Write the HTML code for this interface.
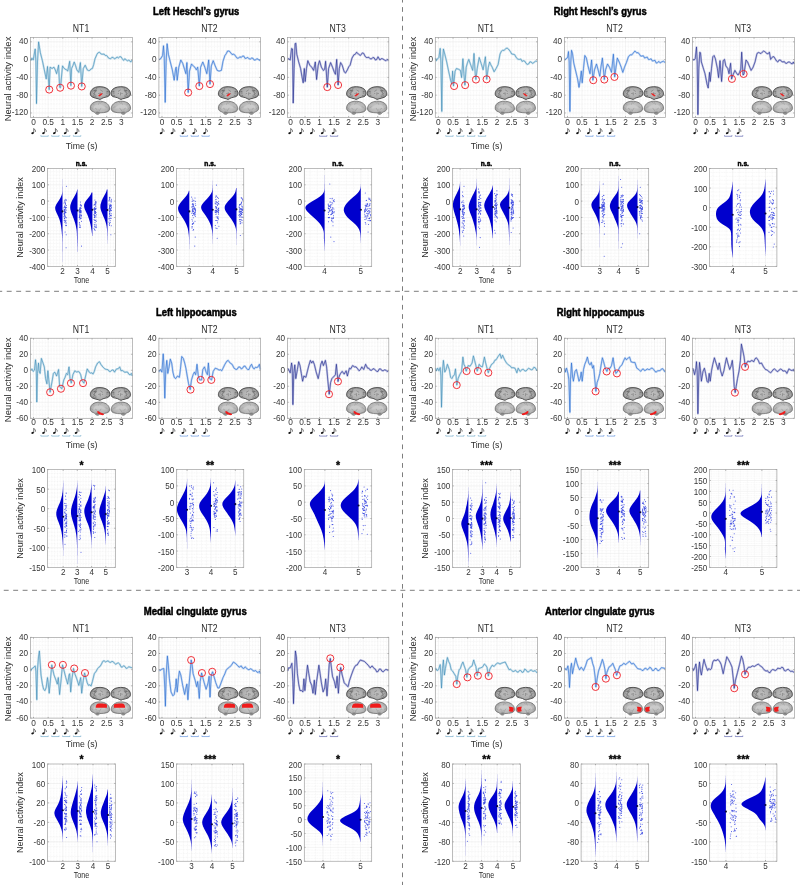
<!DOCTYPE html>
<html><head><meta charset="utf-8"><title>Neural activity figure</title>
<style>html,body{margin:0;padding:0;background:#fff;}svg{display:block;}</style>
</head><body>
<svg width="800" height="885" viewBox="0 0 800 885" font-family="'Liberation Sans', sans-serif" fill="#2b2b2b">
<rect width="800" height="885" fill="#fff"/>
<defs><radialGradient id="glat" cx="0.5" cy="0.5" r="0.55"><stop offset="0" stop-color="#c2c2c2"/><stop offset="0.7" stop-color="#ababab"/><stop offset="1" stop-color="#808080"/></radialGradient><radialGradient id="gmed" cx="0.5" cy="0.45" r="0.55"><stop offset="0" stop-color="#cacaca"/><stop offset="0.75" stop-color="#b6b6b6"/><stop offset="1" stop-color="#8c8c8c"/></radialGradient><clipPath id="cl"><path d="M0.3,7.5 C0.3,4 3,1.2 7,0.5 C11,-0.1 15.5,0.5 18,2.8 C19.8,4.5 20.2,7 19.4,8.8 C18.6,10.2 16.8,10.6 15,10.9 C13.5,11.2 12.5,11.6 11.5,12.3 C10.5,13.2 9,13.2 8.3,12.4 C6.5,11.9 4,11.6 2.3,10.6 C1,9.8 0.3,8.8 0.3,7.5 Z"/></clipPath><clipPath id="cm"><path d="M0.4,8.3 C0.3,5 2.5,2.2 6.5,1 C10,0 14.5,0.3 17.3,2.3 C19.6,4 20.2,7 19.4,9 C18.7,10.3 17.2,10.9 15.6,11.3 C14.9,12.5 13.8,13.5 12.6,13.6 C11.3,13.7 10.6,12.8 10.1,12.1 C8,12 5,11.9 3,11.2 C1.4,10.6 0.5,9.6 0.4,8.3 Z"/></clipPath></defs>
<path d="M402.5,0V885" stroke="#6e6e6e" stroke-width="0.9" stroke-dasharray="4.75 4.555" stroke-dashoffset="2.2" fill="none"/>
<path d="M0,291.3H800" stroke="#6e6e6e" stroke-width="0.9" stroke-dasharray="4.9 4.568" stroke-dashoffset="2.72" fill="none"/>
<path d="M0,590.3H800" stroke="#6e6e6e" stroke-width="0.9" stroke-dasharray="4.9 4.544" stroke-dashoffset="5.69" fill="none"/>
<text x="196.1" y="14.9" font-size="10.3" text-anchor="middle" font-weight="bold" fill="#000" textLength="86.3" lengthAdjust="spacingAndGlyphs" stroke="#000" stroke-width="0.5">Left Heschl’s gyrus</text>
<path d="M30.58,37.4V117.4M36.43,37.4V117.4M39.36,37.4V117.4M42.29,37.4V117.4M45.22,37.4V117.4M51.08,37.4V117.4M54.01,37.4V117.4M56.94,37.4V117.4M59.86,37.4V117.4M65.72,37.4V117.4M68.65,37.4V117.4M71.58,37.4V117.4M74.51,37.4V117.4M80.37,37.4V117.4M83.3,37.4V117.4M86.22,37.4V117.4M89.15,37.4V117.4M95.01,37.4V117.4M97.94,37.4V117.4M100.87,37.4V117.4M103.8,37.4V117.4M109.65,37.4V117.4M112.58,37.4V117.4M115.51,37.4V117.4M118.44,37.4V117.4M124.3,37.4V117.4M127.23,37.4V117.4M130.16,37.4V117.4M30.4,108.51H132.5M30.4,104.07H132.5M30.4,99.62H132.5M30.4,90.73H132.5M30.4,86.29H132.5M30.4,81.84H132.5M30.4,72.96H132.5M30.4,68.51H132.5M30.4,64.07H132.5M30.4,55.18H132.5M30.4,50.73H132.5M30.4,46.29H132.5" stroke="#ececec" stroke-width="0.45" stroke-dasharray="1 0.6" fill="none"/>
<path d="M33.5,37.4V117.4M48.15,37.4V117.4M62.79,37.4V117.4M77.44,37.4V117.4M92.08,37.4V117.4M106.73,37.4V117.4M121.37,37.4V117.4M30.4,41.84H132.5M30.4,59.62H132.5M30.4,77.4H132.5M30.4,95.18H132.5M30.4,112.96H132.5" stroke="#e8e8e8" stroke-width="0.5" fill="none"/>
<g transform="translate(90,86.4)"><path d="M0.3,7.5 C0.3,4 3,1.2 7,0.5 C11,-0.1 15.5,0.5 18,2.8 C19.8,4.5 20.2,7 19.4,8.8 C18.6,10.2 16.8,10.6 15,10.9 C13.5,11.2 12.5,11.6 11.5,12.3 C10.5,13.2 9,13.2 8.3,12.4 C6.5,11.9 4,11.6 2.3,10.6 C1,9.8 0.3,8.8 0.3,7.5 Z" fill="url(#glat)" stroke="#454545" stroke-width="0.9"/><path d="M10.4,6.5Q9.3,7 8.1,7.1M5.6,4.9Q4.3,6 4.3,7.8M3.9,8.5Q4.2,9.9 3,9.8M11.8,7Q12.5,6.6 13.1,7.7M3.8,3.7Q4.9,4.3 6.3,3.9M10.3,6.2Q10.2,7.2 10.3,9M19.2,10.3Q17.7,10.5 16.7,11.7M7.5,1.4Q7.2,2 5.8,2.9M16.4,9.5Q18,9.5 18.3,9.6M16.3,5Q18.1,4.9 19,5.6M4.9,4.5Q2.8,4.3 1.9,4.8M4.4,1.5Q3.7,2 2.9,2.6M3.8,7.9Q4.4,8.3 6.3,9M7,3.9Q5.1,4.7 3.9,4.2M6.6,4.6Q4.7,6 4.1,5.9M6.2,3.2Q5.1,3.3 4.6,4.7M2.5,6.1Q3.2,7 4.4,8M17.7,4.5Q16.8,5.5 17,7.7M15.9,8.6Q16.9,10 17.2,9.9M6.4,10Q5,9.9 3.9,11M1.6,9.7Q2.2,11.2 3.7,11.6M10.3,3.5Q10.9,3.9 12.8,5.1" clip-path="url(#cl)" fill="none" stroke="#666" stroke-width="0.5"/><path d="M8.6,9.3 C9.5,8.2 11,7.3 12.1,7.2 C12.4,7.8 11,8.9 9.6,9.7 Z" fill="#f01c1c" stroke="#f01c1c" stroke-width="0.6"/></g>
<g transform="translate(130.8,86.4) scale(-1,1)"><path d="M0.3,7.5 C0.3,4 3,1.2 7,0.5 C11,-0.1 15.5,0.5 18,2.8 C19.8,4.5 20.2,7 19.4,8.8 C18.6,10.2 16.8,10.6 15,10.9 C13.5,11.2 12.5,11.6 11.5,12.3 C10.5,13.2 9,13.2 8.3,12.4 C6.5,11.9 4,11.6 2.3,10.6 C1,9.8 0.3,8.8 0.3,7.5 Z" fill="url(#glat)" stroke="#454545" stroke-width="0.9"/><path d="M10.4,6.5Q9.3,7 8.1,7.1M5.6,4.9Q4.3,6 4.3,7.8M3.9,8.5Q4.2,9.9 3,9.8M11.8,7Q12.5,6.6 13.1,7.7M3.8,3.7Q4.9,4.3 6.3,3.9M10.3,6.2Q10.2,7.2 10.3,9M19.2,10.3Q17.7,10.5 16.7,11.7M7.5,1.4Q7.2,2 5.8,2.9M16.4,9.5Q18,9.5 18.3,9.6M16.3,5Q18.1,4.9 19,5.6M4.9,4.5Q2.8,4.3 1.9,4.8M4.4,1.5Q3.7,2 2.9,2.6M3.8,7.9Q4.4,8.3 6.3,9M7,3.9Q5.1,4.7 3.9,4.2M6.6,4.6Q4.7,6 4.1,5.9M6.2,3.2Q5.1,3.3 4.6,4.7M2.5,6.1Q3.2,7 4.4,8M17.7,4.5Q16.8,5.5 17,7.7M15.9,8.6Q16.9,10 17.2,9.9M6.4,10Q5,9.9 3.9,11M1.6,9.7Q2.2,11.2 3.7,11.6M10.3,3.5Q10.9,3.9 12.8,5.1" clip-path="url(#cl)" fill="none" stroke="#666" stroke-width="0.5"/></g>
<g transform="translate(110,100.75) scale(-1,1)"><path d="M0.4,8.3 C0.3,5 2.5,2.2 6.5,1 C10,0 14.5,0.3 17.3,2.3 C19.6,4 20.2,7 19.4,9 C18.7,10.3 17.2,10.9 15.6,11.3 C14.9,12.5 13.8,13.5 12.6,13.6 C11.3,13.7 10.6,12.8 10.1,12.1 C8,12 5,11.9 3,11.2 C1.4,10.6 0.5,9.6 0.4,8.3 Z" fill="url(#gmed)" stroke="#707070" stroke-width="0.8"/><path d="M4.5,8 C5.5,4.8 9,3.6 12,3.8 C15,4.1 16.5,5.8 16.5,7.8 C14,7 11,6.8 8,7.3 C6.5,7.6 5.2,7.8 4.5,8 Z" fill="#cbcbcb"/><path d="M11.3,8.7L10.6,10.5M15.7,3.4L17.6,3.5M8.3,1.5L10,2.6M10.6,1.5L11.7,4M18.4,6.8L17,8.7M2.8,1.8L5.7,1.9M12,10.6L14.4,10.7M8.9,7.2L10.5,9.7M4.2,5.6L2.2,7.7M14.9,7.3L12.6,9.1" clip-path="url(#cm)" fill="none" stroke="#8c8c8c" stroke-width="0.45"/><path d="M9.8,11.6 C10.8,12.8 12.5,13.2 14.5,11.8 C13.5,11 11.5,10.8 9.8,11.6 Z" fill="#808080"/></g>
<g transform="translate(110.8,100.75)"><path d="M0.4,8.3 C0.3,5 2.5,2.2 6.5,1 C10,0 14.5,0.3 17.3,2.3 C19.6,4 20.2,7 19.4,9 C18.7,10.3 17.2,10.9 15.6,11.3 C14.9,12.5 13.8,13.5 12.6,13.6 C11.3,13.7 10.6,12.8 10.1,12.1 C8,12 5,11.9 3,11.2 C1.4,10.6 0.5,9.6 0.4,8.3 Z" fill="url(#gmed)" stroke="#707070" stroke-width="0.8"/><path d="M4.5,8 C5.5,4.8 9,3.6 12,3.8 C15,4.1 16.5,5.8 16.5,7.8 C14,7 11,6.8 8,7.3 C6.5,7.6 5.2,7.8 4.5,8 Z" fill="#cbcbcb"/><path d="M11.3,8.7L10.6,10.5M15.7,3.4L17.6,3.5M8.3,1.5L10,2.6M10.6,1.5L11.7,4M18.4,6.8L17,8.7M2.8,1.8L5.7,1.9M12,10.6L14.4,10.7M8.9,7.2L10.5,9.7M4.2,5.6L2.2,7.7M14.9,7.3L12.6,9.1" clip-path="url(#cm)" fill="none" stroke="#8c8c8c" stroke-width="0.45"/><path d="M9.8,11.6 C10.8,12.8 12.5,13.2 14.5,11.8 C13.5,11 11.5,10.8 9.8,11.6 Z" fill="#808080"/></g>
<path d="M30.7,60.7 31.9,58.1 33.2,60 35.2,49 35.9,62 36.5,103.6 37.5,62 38.6,41.9 40.4,52.9 42.4,60.7 44.3,69.8 46.2,78.9 47.5,66.5 49.2,89.6 50.1,67.2 52.1,68.5 54,67.2 55.3,70 56.6,73.7 58.6,65.2 59.6,87.3 60.5,87.7 62.5,65.9 63.8,67.9 65.1,69.2 66.4,69.6 67.7,71.1 69.7,61.3 70.9,85.7 71.6,68.5 72.9,65.6 74.2,62 75.5,65.4 76.8,69.8 78.8,72.4 80.4,62.6 81.7,86.4 83.3,68.5 85.2,65.2 87.2,69.8 88.5,70.6 89.8,70.4 91.1,68.9 92.4,68.5 93.7,64.5 95,58.8 97,54.2 98.2,52.7 99.5,52.2 101.2,54.1 102.8,54.2 104.1,54.1 105.4,55.6 106.7,55.5 108.6,58.1 110.6,58.8 111.9,57.3 113.2,57.5 114.5,58.9 115.8,58.1 117.1,57.1 118.4,57.9 119.7,56.8 121,56.8 122.3,58.8 123.6,60.4 124.9,58.7 126.2,60 127.5,60.8 128.8,60 130.8,62 132.2,60" fill="none" stroke="#b0d4e6" stroke-width="2.0" stroke-linejoin="round" opacity="0.7"/>
<path d="M30.7,60.7 31.9,58.1 33.2,60 35.2,49 35.9,62 36.5,103.6 37.5,62 38.6,41.9 40.4,52.9 42.4,60.7 44.3,69.8 46.2,78.9 47.5,66.5 49.2,89.6 50.1,67.2 52.1,68.5 54,67.2 55.3,70 56.6,73.7 58.6,65.2 59.6,87.3 60.5,87.7 62.5,65.9 63.8,67.9 65.1,69.2 66.4,69.6 67.7,71.1 69.7,61.3 70.9,85.7 71.6,68.5 72.9,65.6 74.2,62 75.5,65.4 76.8,69.8 78.8,72.4 80.4,62.6 81.7,86.4 83.3,68.5 85.2,65.2 87.2,69.8 88.5,70.6 89.8,70.4 91.1,68.9 92.4,68.5 93.7,64.5 95,58.8 97,54.2 98.2,52.7 99.5,52.2 101.2,54.1 102.8,54.2 104.1,54.1 105.4,55.6 106.7,55.5 108.6,58.1 110.6,58.8 111.9,57.3 113.2,57.5 114.5,58.9 115.8,58.1 117.1,57.1 118.4,57.9 119.7,56.8 121,56.8 122.3,58.8 123.6,60.4 124.9,58.7 126.2,60 127.5,60.8 128.8,60 130.8,62 132.2,60" fill="none" stroke="#3c8ab6" stroke-width="0.6" stroke-linejoin="round"/>
<circle cx="49.24" cy="89.56" r="3.55" fill="none" stroke="#ee1c25" stroke-width="0.9"/>
<circle cx="60.16" cy="87.74" r="3.55" fill="none" stroke="#ee1c25" stroke-width="0.9"/>
<circle cx="70.95" cy="85.66" r="3.55" fill="none" stroke="#ee1c25" stroke-width="0.9"/>
<circle cx="81.74" cy="86.44" r="3.55" fill="none" stroke="#ee1c25" stroke-width="0.9"/>
<path d="M33.5,117.4v-1.2M33.5,37.4v1.2M48.15,117.4v-1.2M48.15,37.4v1.2M62.79,117.4v-1.2M62.79,37.4v1.2M77.44,117.4v-1.2M77.44,37.4v1.2M92.08,117.4v-1.2M92.08,37.4v1.2M106.73,117.4v-1.2M106.73,37.4v1.2M121.37,117.4v-1.2M121.37,37.4v1.2M30.4,41.84h1.2M132.5,41.84h-1.2M30.4,59.62h1.2M132.5,59.62h-1.2M30.4,77.4h1.2M132.5,77.4h-1.2M30.4,95.18h1.2M132.5,95.18h-1.2M30.4,112.96h1.2M132.5,112.96h-1.2" stroke="#555" stroke-width="0.5" fill="none"/>
<rect x="30.4" y="37.4" width="102.1" height="80" fill="none" stroke="#a0a0a0" stroke-width="0.7"/>
<text x="28.1" y="44.24" font-size="8.2" text-anchor="end" fill="#363636">40</text>
<text x="28.1" y="62.02" font-size="8.2" text-anchor="end" fill="#363636">0</text>
<text x="28.1" y="79.8" font-size="8.2" text-anchor="end" fill="#363636">-40</text>
<text x="28.1" y="97.58" font-size="8.2" text-anchor="end" fill="#363636">-80</text>
<text x="28.1" y="115.36" font-size="8.2" text-anchor="end" fill="#363636">-120</text>
<text x="33.5" y="125.25" font-size="8.3" text-anchor="middle" fill="#363636">0</text>
<text x="48.15" y="125.25" font-size="8.3" text-anchor="middle" fill="#363636">0.5</text>
<text x="62.79" y="125.25" font-size="8.3" text-anchor="middle" fill="#363636">1</text>
<text x="77.44" y="125.25" font-size="8.3" text-anchor="middle" fill="#363636">1.5</text>
<text x="92.08" y="125.25" font-size="8.3" text-anchor="middle" fill="#363636">2</text>
<text x="106.73" y="125.25" font-size="8.3" text-anchor="middle" fill="#363636">2.5</text>
<text x="121.37" y="125.25" font-size="8.3" text-anchor="middle" fill="#363636">3</text>
<text x="81.05" y="31.75" font-size="10" text-anchor="middle" textLength="16.4" lengthAdjust="spacingAndGlyphs">NT1</text>
<g transform="translate(31.3,134.1)"><ellipse cx="1.3" cy="-1" rx="1.35" ry="0.95" transform="rotate(-20 1.3 -1)" fill="#111"/><path d="M2.45,-1.2 V-5.6 C3.2,-4.6 4.5,-4 4.2,-2.3" fill="none" stroke="#111" stroke-width="0.6"/></g>
<g transform="translate(42.15,134.1)"><ellipse cx="1.3" cy="-1" rx="1.35" ry="0.95" transform="rotate(-20 1.3 -1)" fill="#111"/><path d="M2.45,-1.2 V-5.6 C3.2,-4.6 4.5,-4 4.2,-2.3" fill="none" stroke="#111" stroke-width="0.6"/></g>
<path d="M40.85,135.25v1h7.4v-1" fill="none" stroke="#3c8ab6" stroke-width="0.65" opacity="0.75"/>
<g transform="translate(53,134.1)"><ellipse cx="1.3" cy="-1" rx="1.35" ry="0.95" transform="rotate(-20 1.3 -1)" fill="#111"/><path d="M2.45,-1.2 V-5.6 C3.2,-4.6 4.5,-4 4.2,-2.3" fill="none" stroke="#111" stroke-width="0.6"/></g>
<path d="M51.7,135.25v1h7.4v-1" fill="none" stroke="#3c8ab6" stroke-width="0.65" opacity="0.75"/>
<g transform="translate(63.85,134.1)"><ellipse cx="1.3" cy="-1" rx="1.35" ry="0.95" transform="rotate(-20 1.3 -1)" fill="#111"/><path d="M2.45,-1.2 V-5.6 C3.2,-4.6 4.5,-4 4.2,-2.3" fill="none" stroke="#111" stroke-width="0.6"/></g>
<path d="M62.55,135.25v1h7.4v-1" fill="none" stroke="#3c8ab6" stroke-width="0.65" opacity="0.75"/>
<g transform="translate(74.7,134.1)"><ellipse cx="1.3" cy="-1" rx="1.35" ry="0.95" transform="rotate(-20 1.3 -1)" fill="#111"/><path d="M2.45,-1.2 V-5.6 C3.2,-4.6 4.5,-4 4.2,-2.3" fill="none" stroke="#111" stroke-width="0.6"/></g>
<path d="M73.4,135.25v1h7.4v-1" fill="none" stroke="#3c8ab6" stroke-width="0.65" opacity="0.75"/>
<text x="81.6" y="148.8" font-size="9.5" text-anchor="middle" textLength="31.6" lengthAdjust="spacingAndGlyphs">Time (s)</text>
<text x="10.7" y="79" font-size="9.4" text-anchor="middle" textLength="84.7" lengthAdjust="spacingAndGlyphs" transform="rotate(-90 10.7 79)">Neural activity index</text>
<path d="M50.49,168.5V266.35M53.49,168.5V266.35M56.48,168.5V266.35M59.48,168.5V266.35M65.48,168.5V266.35M68.48,168.5V266.35M71.47,168.5V266.35M74.47,168.5V266.35M80.47,168.5V266.35M83.47,168.5V266.35M86.47,168.5V266.35M89.46,168.5V266.35M95.46,168.5V266.35M98.46,168.5V266.35M101.46,168.5V266.35M104.45,168.5V266.35M110.45,168.5V266.35M113.45,168.5V266.35M47.5,263.09H115.5M47.5,259.83H115.5M47.5,256.57H115.5M47.5,253.3H115.5M47.5,246.78H115.5M47.5,243.52H115.5M47.5,240.26H115.5M47.5,237H115.5M47.5,230.47H115.5M47.5,227.21H115.5M47.5,223.95H115.5M47.5,220.69H115.5M47.5,214.16H115.5M47.5,210.9H115.5M47.5,207.64H115.5M47.5,204.38H115.5M47.5,197.86H115.5M47.5,194.59H115.5M47.5,191.33H115.5M47.5,188.07H115.5M47.5,181.55H115.5M47.5,178.28H115.5M47.5,175.02H115.5M47.5,171.76H115.5" stroke="#ececec" stroke-width="0.45" stroke-dasharray="1 0.6" fill="none"/>
<path d="M62.48,168.5V266.35M77.51,168.5V266.35M92.42,168.5V266.35M107.45,168.5V266.35M47.5,184.81H115.5M47.5,201.12H115.5M47.5,217.43H115.5M47.5,233.73H115.5M47.5,250.04H115.5" stroke="#e8e8e8" stroke-width="0.5" fill="none"/>
<path d="M62.5,177.7L62.5,177.7 62.5,178.2 62.5,178.7 62.4,179.2 62.4,179.7 62.4,180.2 62.4,180.7 62.4,181.2 62.4,181.7 62.4,182.2 62.4,182.7 62.4,183.2 62.4,183.7 62.4,184.2 62.4,184.7 62.4,185.2 62.4,185.7 62.4,186.2 62.3,186.7 62.3,187.2 62.3,187.7 62.3,188.2 62.3,188.7 62.3,189.2 62.3,189.7 62.3,190.2 62.3,190.7 62.3,191.2 62.2,191.7 62.2,192.2 62.1,192.7 62.1,193.2 62,193.7 61.9,194.2 61.7,194.7 61.6,195.2 61.4,195.7 61.2,196.2 60.9,196.7 60.7,197.3 60.5,197.8 60.2,198.3 59.9,198.8 59.6,199.3 59.3,199.8 59,200.3 58.7,200.8 58.3,201.3 58,201.8 57.7,202.3 57.3,202.8 57,203.3 56.7,203.8 56.4,204.3 56.1,204.8 55.9,205.3 55.7,205.8 55.5,206.3 55.3,206.8 55.2,207.3 55.2,207.8 55.2,208.3 55.2,208.8 55.3,209.3 55.4,209.8 55.5,210.3 55.7,210.8 55.9,211.3 56.1,211.8 56.3,212.3 56.5,212.8 56.7,213.3 57,213.8 57.2,214.3 57.5,214.8 57.7,215.3 57.9,215.8 58.2,216.3 58.4,216.8 58.6,217.3 58.8,217.8 59,218.3 59.2,218.8 59.4,219.3 59.5,219.8 59.7,220.3 59.9,220.8 60,221.3 60.1,221.8 60.3,222.3 60.4,222.8 60.5,223.3 60.6,223.8 60.7,224.3 60.8,224.8 60.9,225.3 61,225.8 61.1,226.3 61.1,226.8 61.2,227.3 61.3,227.8 61.3,228.3 61.4,228.8 61.5,229.3 61.5,229.8 61.6,230.3 61.6,230.8 61.7,231.3 61.7,231.8 61.8,232.3 61.8,232.8 61.8,233.3 61.9,233.8 61.9,234.3 62,234.8 62,235.3 62,235.8 62.1,236.3 62.1,236.8 62.1,237.3 62.1,237.8 62.2,238.3 62.2,238.8 62.2,239.3 62.2,239.8 62.2,240.3 62.2,240.8 62.2,241.3 62.3,241.8 62.3,242.3 62.3,242.8 62.3,243.3 62.3,243.8 62.3,244.3 62.3,244.8 62.3,245.3 62.3,245.8 62.3,246.3 62.3,246.8 62.3,247.3 62.3,247.8 62.3,248.3 62.3,248.8 62.3,249.3 62.3,249.8 62.3,250.3 62.3,250.8 62.3,251.3 62.4,251.8 62.4,252.3 62.4,252.8 62.4,253.3 62.4,253.8 62.4,254.3 62.4,254.8 62.4,255.3 62.4,255.8 62.4,256.3 62.4,256.8 62.4,257.3 62.4,257.8 62.4,258.3 62.4,258.8 62.4,259.3 62.4,259.8 62.4,260.3 62.4,260.8 62.4,261.3 62.4,261.8 62.5,262.3 62.5,262.8 62.5,263.3 62.5,263.8 62.5,264.3 62.5,264.8 62.5,265.3 62.5,265.3Z" fill="#0000cd"/>
<path d="M66.2,199.9h0M64.8,212.8h0M65.5,203.5h0M65.4,208.7h0M64.1,213.2h0M64.8,209.4h0M65.1,207.1h0M64.6,213.3h0M65.3,204.7h0M64.7,218.4h0M65,201.8h0M65.2,202.8h0M65.4,207.6h0M65.8,207.1h0M65.5,204.7h0M65.2,217.2h0M65.8,200.3h0M66.1,225.6h0M65,202.2h0M65.2,199.3h0M65.9,212.6h0M64.6,212.5h0M65.1,212.7h0M66.2,210.1h0M64.7,222.1h0M66.4,205.5h0M64.4,218.7h0M65.5,212h0M64,216.6h0M66.4,207.4h0M65.6,212.6h0M66.3,200.1h0M66,222.4h0M65,215.7h0M64.2,210.3h0M64.4,210.2h0M64.4,211.5h0M64.9,211.4h0M64.4,215.8h0M64.9,207h0M66.5,217.7h0M65.2,217.5h0M64.7,214.7h0M64,203h0M64.4,213h0M64,213.9h0M65.8,220.3h0M64.9,210.2h0M66,212.2h0M64.5,205.9h0M66.2,225.3h0M65.9,220.8h0M64.1,207.2h0M64.7,210.9h0M65.1,207.4h0M66.4,225.4h0M64.5,200.8h0M65.6,212.4h0M65.2,221.4h0M64.2,220.3h0M66,223.3h0M64.4,211.6h0M66,207.7h0M65,209.4h0M64.4,218.3h0M64.4,214.3h0M64.4,220.5h0M65.7,225.2h0M64,209.1h0M65.3,216.3h0M66.4,186.2h0M65.1,232h0M66.2,234.8h0M66.1,247.8h0" stroke="#2232de" stroke-width="1.05" stroke-linecap="round" opacity="0.85"/>
<circle cx="62.48" cy="211.41" r="1.05" fill="#0a0a3a"/>
<path d="M77.5,189.6L77.1,189.6 77.1,190.1 77,190.6 76.9,191.1 76.7,191.6 76.6,192.1 76.4,192.6 76.2,193.1 75.9,193.6 75.7,194.1 75.4,194.6 75.2,195.1 74.9,195.6 74.6,196.1 74.3,196.6 74.1,197.1 73.8,197.6 73.5,198.1 73.2,198.6 72.9,199.1 72.6,199.6 72.4,200.1 72.1,200.6 71.9,201.1 71.7,201.6 71.4,202.1 71.2,202.6 71.1,203.1 70.9,203.6 70.7,204.1 70.6,204.6 70.4,205.1 70.3,205.6 70.3,206.1 70.2,206.6 70.2,207.1 70.2,207.6 70.2,208.1 70.3,208.6 70.3,209.1 70.4,209.6 70.6,210.1 70.7,210.6 70.8,211.1 71,211.7 71.2,212.2 71.3,212.7 71.5,213.2 71.7,213.7 71.9,214.2 72.1,214.7 72.3,215.2 72.5,215.7 72.7,216.2 72.9,216.7 73.1,217.2 73.3,217.7 73.5,218.2 73.7,218.7 73.8,219.2 74,219.7 74.2,220.2 74.4,220.7 74.5,221.2 74.7,221.7 74.9,222.2 75,222.7 75.2,223.2 75.3,223.7 75.4,224.2 75.6,224.7 75.7,225.2 75.8,225.7 75.9,226.2 76,226.7 76.1,227.2 76.2,227.7 76.3,228.2 76.4,228.7 76.5,229.2 76.6,229.7 76.6,230.2 76.7,230.7 76.7,231.2 76.8,231.7 76.8,232.2 76.8,232.7 76.9,233.2 76.9,233.7 76.9,234.2 76.9,234.7 76.9,235.2 76.9,235.7 77,236.2 77,236.7 77,237.2 77,237.7 77,238.2 77,238.7 77,239.2 77.1,239.7 77.1,240.2 77.1,240.7 77.1,241.2 77.1,241.7 77.1,242.2 77.1,242.7 77.2,243.2 77.2,243.7 77.2,244.2 77.2,244.7 77.2,245.2 77.2,245.7 77.2,246.2 77.3,246.7 77.3,247.2 77.3,247.7 77.3,248.2 77.3,248.7 77.3,249.2 77.3,249.7 77.3,250.2 77.3,250.7 77.3,251.2 77.3,251.7 77.5,251.7Z" fill="#0000cd"/>
<path d="M79.6,209.6h0M79.7,210.9h0M79.3,217.6h0M80.2,207.2h0M81.3,215.1h0M80.4,207.3h0M79.5,216.2h0M81,211.2h0M80.4,202h0M80.3,211.9h0M80.4,211h0M79.7,208h0M80.4,212.2h0M80.1,225.2h0M80.3,212.1h0M80.4,210.4h0M81.2,218.3h0M80.4,204.2h0M79.4,222.9h0M80.1,207.5h0M80.7,210.6h0M79.4,224.7h0M79.4,217.1h0M79.6,227h0M80.2,208.6h0M79.4,222.6h0M80.3,212.6h0M80.8,212.1h0M80.4,214.9h0M80.6,215.3h0M79.2,211h0M81.5,221.2h0M81,210.4h0M79.3,212h0M79.7,218.9h0M81.3,205.3h0M79.2,209.8h0M79.2,209.5h0M81.1,216.2h0M81.2,208.3h0M79.9,214.3h0M81.4,206h0M79.6,215h0M79.4,215.3h0M79.8,211.9h0M80.3,205.2h0M79.9,214.9h0M80.9,210.5h0M79.5,211.4h0M81.1,212.8h0M80.3,209.5h0M80.3,208.5h0M79.9,227.5h0M80.6,218.6h0M79.3,209.5h0M80.9,212h0M81.2,211.7h0M79.7,217.4h0M79.8,212.4h0M79.7,213.7h0M80.4,227.1h0M81.5,215.4h0M80,210.3h0M80.3,210.7h0M79.7,210h0M80,210.5h0M79.6,215h0M80.4,211.1h0M80.8,217h0M79.8,208.4h0M81.5,246.1h0" stroke="#2232de" stroke-width="1.05" stroke-linecap="round" opacity="0.85"/>
<circle cx="77.51" cy="210.5" r="1.05" fill="#0a0a3a"/>
<path d="M92.4,192.4L91.5,192.4 91.4,192.9 91.2,193.4 91,193.9 90.7,194.4 90.5,194.9 90.1,195.4 89.8,195.9 89.4,196.4 89,196.9 88.6,197.4 88.2,197.9 87.8,198.4 87.4,198.9 87,199.4 86.6,199.9 86.2,200.4 85.8,200.9 85.5,201.4 85.2,201.9 84.9,202.4 84.7,202.9 84.5,203.4 84.3,203.9 84.2,204.4 84.1,204.9 84.1,205.4 84.1,205.9 84.1,206.4 84.2,206.9 84.3,207.4 84.4,207.9 84.6,208.4 84.7,208.9 84.9,209.4 85.1,209.9 85.4,210.4 85.6,210.9 85.8,211.4 86.1,211.9 86.3,212.4 86.6,212.9 86.8,213.4 87,213.9 87.3,214.4 87.5,214.9 87.7,215.4 87.9,215.9 88.1,216.4 88.3,216.9 88.4,217.4 88.6,217.9 88.8,218.4 89,218.9 89.1,219.4 89.3,219.9 89.4,220.4 89.6,220.9 89.7,221.4 89.9,221.9 90,222.4 90.1,222.9 90.2,223.4 90.4,223.9 90.5,224.4 90.6,224.9 90.7,225.4 90.8,225.9 90.9,226.4 91,226.9 91.1,227.4 91.2,227.9 91.2,228.4 91.3,228.9 91.4,229.4 91.5,229.9 91.6,230.4 91.6,230.9 91.7,231.4 91.8,231.9 91.8,232.4 91.9,232.9 92,233.4 92,233.9 92.1,234.4 92.1,234.9 92.1,235.4 92.2,235.9 92.4,235.9Z" fill="#0000cd"/>
<path d="M94,208.5h0M95.5,227h0M94.3,224.5h0M95.2,202.5h0M96,224.3h0M95.7,215.7h0M94,204.9h0M96.1,208.2h0M95.5,211.5h0M95.2,220.5h0M95.2,212.2h0M95.6,201.6h0M94.1,209.4h0M95.8,205.8h0M95.2,208.8h0M95.9,202.1h0M94.1,219.4h0M94.6,210.7h0M95.4,209.1h0M95.6,213.4h0M94.7,220.4h0M95.1,211.2h0M94.4,217.6h0M94,228.3h0M96,217h0M94.6,213.5h0M95.4,213h0M95.3,208.5h0M96,203.8h0M94.5,215.7h0M94,214.6h0M95.2,204.5h0M94.8,208.8h0M96.1,212.4h0M94.2,209.8h0M96.2,221.5h0M94.9,200h0M94.8,216.5h0M94.6,209.7h0M94.7,217.5h0M94.6,207.4h0M94.4,215.5h0M96,219.9h0M96.3,227.6h0M95.8,206.8h0M95.8,209.1h0M94,208.5h0M95.1,203.7h0M94.7,204.2h0M94.6,229.6h0M95.3,208.9h0M94.5,211.2h0M94.5,214.9h0M95.1,230.2h0M94.4,212.3h0M94.5,208.5h0M95.4,211.6h0M95,222.6h0M94.8,204.8h0M94.6,209h0M95.2,203.6h0M94.5,226.1h0M95.1,209.8h0M96.1,225.7h0M94,214.8h0M95.1,227.1h0M96.3,214.8h0M96.4,225.9h0M94.2,209.7h0M96.3,202.1h0" stroke="#2232de" stroke-width="1.05" stroke-linecap="round" opacity="0.85"/>
<circle cx="92.42" cy="209.71" r="1.05" fill="#0a0a3a"/>
<path d="M107.5,189.6L106.8,189.6 106.7,190.1 106.6,190.6 106.5,191.1 106.3,191.6 106.1,192.1 105.9,192.6 105.7,193.1 105.4,193.6 105.2,194.1 104.9,194.6 104.6,195.1 104.3,195.6 104.1,196.1 103.8,196.6 103.5,197.1 103.3,197.6 103,198.1 102.7,198.6 102.5,199.1 102.3,199.6 102,200.1 101.8,200.6 101.6,201.1 101.4,201.7 101.2,202.2 101.1,202.7 100.9,203.2 100.8,203.7 100.6,204.2 100.5,204.7 100.5,205.2 100.4,205.7 100.4,206.2 100.4,206.7 100.4,207.2 100.4,207.7 100.5,208.2 100.6,208.7 100.7,209.2 100.8,209.7 101,210.2 101.1,210.7 101.3,211.2 101.5,211.7 101.7,212.2 101.9,212.7 102.1,213.2 102.3,213.7 102.5,214.2 102.7,214.7 102.9,215.2 103.1,215.7 103.3,216.2 103.5,216.7 103.8,217.2 104,217.7 104.2,218.2 104.4,218.7 104.6,219.2 104.8,219.7 105,220.2 105.1,220.7 105.3,221.2 105.5,221.7 105.6,222.2 105.8,222.7 105.9,223.2 106.1,223.7 106.2,224.3 106.3,224.8 106.4,225.3 106.5,225.8 106.6,226.3 106.7,226.8 106.7,227.3 106.8,227.8 106.9,228.3 106.9,228.8 107,229.3 107,229.8 107,230.3 107.1,230.8 107.1,231.3 107.1,231.8 107.1,232.3 107.2,232.8 107.2,233.3 107.2,233.8 107.2,234.3 107.2,234.8 107.2,235.3 107.2,235.8 107.3,236.3 107.3,236.8 107.3,237.3 107.3,237.8 107.3,238.3 107.3,238.8 107.3,239.3 107.3,239.8 107.4,240.3 107.4,240.8 107.4,241.3 107.4,241.8 107.4,242.3 107.4,242.8 107.4,243.3 107.4,243.8 107.5,243.8Z" fill="#0000cd"/>
<path d="M110.9,215.6h0M110.4,208.9h0M111.3,210.6h0M109.3,205.7h0M110.6,206.5h0M109.1,200.2h0M109.5,205.8h0M109.7,197.2h0M111.4,207.6h0M110.2,222.4h0M110.7,210.2h0M109,222.1h0M109.6,207.6h0M109.5,223.6h0M109.8,205.5h0M111,208.6h0M109.5,211.5h0M111,205.9h0M109.5,207h0M111.4,205.4h0M110,211.2h0M109.3,224.3h0M109.5,213.1h0M109.1,201h0M111.2,201.9h0M111.3,225.7h0M109.4,216.3h0M109,218.4h0M109.9,207.9h0M109.7,210.1h0M111.4,210.3h0M109.9,213.1h0M110.1,220.6h0M110.2,209.2h0M109.9,212.7h0M110,197.8h0M109.1,219h0M109.1,208.4h0M110.9,204.3h0M109.6,206.7h0M109.6,214.7h0M109.7,206.1h0M110.6,210.3h0M109.5,197.6h0M111.4,199.2h0M109.6,208.1h0M109.4,198.9h0M111,218.2h0M109.8,214.4h0M109.9,210.4h0M109.5,199.2h0M109.1,204.1h0M111.4,205.9h0M109.6,225.4h0M109.2,208.6h0M109.5,208.6h0M110.5,204.9h0M111.1,218.5h0M111.1,200.4h0M110.8,205.7h0M109.6,208h0M110.4,215.6h0M110,218.1h0M109.5,211.6h0M111.5,215.8h0M111.1,201.2h0M109.7,198.1h0M109.4,211.3h0M111.3,213.7h0M109.6,213.4h0M110.9,234.8h0" stroke="#2232de" stroke-width="1.05" stroke-linecap="round" opacity="0.85"/>
<circle cx="107.45" cy="209.94" r="1.05" fill="#0a0a3a"/>
<path d="M62.48,266.35v-1.2M62.48,168.5v1.2M77.51,266.35v-1.2M77.51,168.5v1.2M92.42,266.35v-1.2M92.42,168.5v1.2M107.45,266.35v-1.2M107.45,168.5v1.2M47.5,168.5h1.2M115.5,168.5h-1.2M47.5,184.81h1.2M115.5,184.81h-1.2M47.5,201.12h1.2M115.5,201.12h-1.2M47.5,217.43h1.2M115.5,217.43h-1.2M47.5,233.73h1.2M115.5,233.73h-1.2M47.5,250.04h1.2M115.5,250.04h-1.2M47.5,266.35h1.2M115.5,266.35h-1.2" stroke="#555" stroke-width="0.5" fill="none"/>
<rect x="47.5" y="168.5" width="68" height="97.85" fill="none" stroke="#a0a0a0" stroke-width="0.7"/>
<text transform="translate(45.3 172) scale(0.92 1)" font-size="8.8" text-anchor="end" fill="#363636">200</text>
<text transform="translate(45.3 188.31) scale(0.92 1)" font-size="8.8" text-anchor="end" fill="#363636">100</text>
<text transform="translate(45.3 204.62) scale(0.92 1)" font-size="8.8" text-anchor="end" fill="#363636">0</text>
<text transform="translate(45.3 220.93) scale(0.92 1)" font-size="8.8" text-anchor="end" fill="#363636">-100</text>
<text transform="translate(45.3 237.23) scale(0.92 1)" font-size="8.8" text-anchor="end" fill="#363636">-200</text>
<text transform="translate(45.3 253.54) scale(0.92 1)" font-size="8.8" text-anchor="end" fill="#363636">-300</text>
<text transform="translate(45.3 269.85) scale(0.92 1)" font-size="8.8" text-anchor="end" fill="#363636">-400</text>
<text transform="translate(62.48 273.6) scale(0.92 1)" font-size="8.8" text-anchor="middle" fill="#363636">2</text>
<text transform="translate(77.51 273.6) scale(0.92 1)" font-size="8.8" text-anchor="middle" fill="#363636">3</text>
<text transform="translate(92.42 273.6) scale(0.92 1)" font-size="8.8" text-anchor="middle" fill="#363636">4</text>
<text transform="translate(107.45 273.6) scale(0.92 1)" font-size="8.8" text-anchor="middle" fill="#363636">5</text>
<text x="81.5" y="166.1" font-size="7.6" text-anchor="middle" font-weight="bold" fill="#000" textLength="11.4" lengthAdjust="spacingAndGlyphs" stroke="#000" stroke-width="0.5">n.s.</text>
<text x="81.5" y="282.95" font-size="8.6" text-anchor="middle" textLength="15.6" lengthAdjust="spacingAndGlyphs">Tone</text>
<text x="23.4" y="217.43" font-size="9" text-anchor="middle" textLength="80.6" lengthAdjust="spacingAndGlyphs" transform="rotate(-90 23.4 217.43)">Neural activity index</text>
<path d="M159.08,37.4V117.4M164.91,37.4V117.4M167.83,37.4V117.4M170.74,37.4V117.4M173.66,37.4V117.4M179.5,37.4V117.4M182.41,37.4V117.4M185.33,37.4V117.4M188.25,37.4V117.4M194.08,37.4V117.4M197,37.4V117.4M199.92,37.4V117.4M202.84,37.4V117.4M208.67,37.4V117.4M211.59,37.4V117.4M214.51,37.4V117.4M217.42,37.4V117.4M223.26,37.4V117.4M226.17,37.4V117.4M229.09,37.4V117.4M232.01,37.4V117.4M237.84,37.4V117.4M240.76,37.4V117.4M243.68,37.4V117.4M246.6,37.4V117.4M252.43,37.4V117.4M255.35,37.4V117.4M258.27,37.4V117.4M158.9,108.51H260.6M158.9,104.07H260.6M158.9,99.62H260.6M158.9,90.73H260.6M158.9,86.29H260.6M158.9,81.84H260.6M158.9,72.96H260.6M158.9,68.51H260.6M158.9,64.07H260.6M158.9,55.18H260.6M158.9,50.73H260.6M158.9,46.29H260.6" stroke="#ececec" stroke-width="0.45" stroke-dasharray="1 0.6" fill="none"/>
<path d="M161.99,37.4V117.4M176.58,37.4V117.4M191.17,37.4V117.4M205.75,37.4V117.4M220.34,37.4V117.4M234.93,37.4V117.4M249.51,37.4V117.4M158.9,41.84H260.6M158.9,59.62H260.6M158.9,77.4H260.6M158.9,95.18H260.6M158.9,112.96H260.6" stroke="#e8e8e8" stroke-width="0.5" fill="none"/>
<g transform="translate(218.1,86.4)"><path d="M0.3,7.5 C0.3,4 3,1.2 7,0.5 C11,-0.1 15.5,0.5 18,2.8 C19.8,4.5 20.2,7 19.4,8.8 C18.6,10.2 16.8,10.6 15,10.9 C13.5,11.2 12.5,11.6 11.5,12.3 C10.5,13.2 9,13.2 8.3,12.4 C6.5,11.9 4,11.6 2.3,10.6 C1,9.8 0.3,8.8 0.3,7.5 Z" fill="url(#glat)" stroke="#454545" stroke-width="0.9"/><path d="M10.4,6.5Q9.3,7 8.1,7.1M5.6,4.9Q4.3,6 4.3,7.8M3.9,8.5Q4.2,9.9 3,9.8M11.8,7Q12.5,6.6 13.1,7.7M3.8,3.7Q4.9,4.3 6.3,3.9M10.3,6.2Q10.2,7.2 10.3,9M19.2,10.3Q17.7,10.5 16.7,11.7M7.5,1.4Q7.2,2 5.8,2.9M16.4,9.5Q18,9.5 18.3,9.6M16.3,5Q18.1,4.9 19,5.6M4.9,4.5Q2.8,4.3 1.9,4.8M4.4,1.5Q3.7,2 2.9,2.6M3.8,7.9Q4.4,8.3 6.3,9M7,3.9Q5.1,4.7 3.9,4.2M6.6,4.6Q4.7,6 4.1,5.9M6.2,3.2Q5.1,3.3 4.6,4.7M2.5,6.1Q3.2,7 4.4,8M17.7,4.5Q16.8,5.5 17,7.7M15.9,8.6Q16.9,10 17.2,9.9M6.4,10Q5,9.9 3.9,11M1.6,9.7Q2.2,11.2 3.7,11.6M10.3,3.5Q10.9,3.9 12.8,5.1" clip-path="url(#cl)" fill="none" stroke="#666" stroke-width="0.5"/><path d="M8.6,9.3 C9.5,8.2 11,7.3 12.1,7.2 C12.4,7.8 11,8.9 9.6,9.7 Z" fill="#f01c1c" stroke="#f01c1c" stroke-width="0.6"/></g>
<g transform="translate(258.9,86.4) scale(-1,1)"><path d="M0.3,7.5 C0.3,4 3,1.2 7,0.5 C11,-0.1 15.5,0.5 18,2.8 C19.8,4.5 20.2,7 19.4,8.8 C18.6,10.2 16.8,10.6 15,10.9 C13.5,11.2 12.5,11.6 11.5,12.3 C10.5,13.2 9,13.2 8.3,12.4 C6.5,11.9 4,11.6 2.3,10.6 C1,9.8 0.3,8.8 0.3,7.5 Z" fill="url(#glat)" stroke="#454545" stroke-width="0.9"/><path d="M10.4,6.5Q9.3,7 8.1,7.1M5.6,4.9Q4.3,6 4.3,7.8M3.9,8.5Q4.2,9.9 3,9.8M11.8,7Q12.5,6.6 13.1,7.7M3.8,3.7Q4.9,4.3 6.3,3.9M10.3,6.2Q10.2,7.2 10.3,9M19.2,10.3Q17.7,10.5 16.7,11.7M7.5,1.4Q7.2,2 5.8,2.9M16.4,9.5Q18,9.5 18.3,9.6M16.3,5Q18.1,4.9 19,5.6M4.9,4.5Q2.8,4.3 1.9,4.8M4.4,1.5Q3.7,2 2.9,2.6M3.8,7.9Q4.4,8.3 6.3,9M7,3.9Q5.1,4.7 3.9,4.2M6.6,4.6Q4.7,6 4.1,5.9M6.2,3.2Q5.1,3.3 4.6,4.7M2.5,6.1Q3.2,7 4.4,8M17.7,4.5Q16.8,5.5 17,7.7M15.9,8.6Q16.9,10 17.2,9.9M6.4,10Q5,9.9 3.9,11M1.6,9.7Q2.2,11.2 3.7,11.6M10.3,3.5Q10.9,3.9 12.8,5.1" clip-path="url(#cl)" fill="none" stroke="#666" stroke-width="0.5"/></g>
<g transform="translate(238.1,100.75) scale(-1,1)"><path d="M0.4,8.3 C0.3,5 2.5,2.2 6.5,1 C10,0 14.5,0.3 17.3,2.3 C19.6,4 20.2,7 19.4,9 C18.7,10.3 17.2,10.9 15.6,11.3 C14.9,12.5 13.8,13.5 12.6,13.6 C11.3,13.7 10.6,12.8 10.1,12.1 C8,12 5,11.9 3,11.2 C1.4,10.6 0.5,9.6 0.4,8.3 Z" fill="url(#gmed)" stroke="#707070" stroke-width="0.8"/><path d="M4.5,8 C5.5,4.8 9,3.6 12,3.8 C15,4.1 16.5,5.8 16.5,7.8 C14,7 11,6.8 8,7.3 C6.5,7.6 5.2,7.8 4.5,8 Z" fill="#cbcbcb"/><path d="M11.3,8.7L10.6,10.5M15.7,3.4L17.6,3.5M8.3,1.5L10,2.6M10.6,1.5L11.7,4M18.4,6.8L17,8.7M2.8,1.8L5.7,1.9M12,10.6L14.4,10.7M8.9,7.2L10.5,9.7M4.2,5.6L2.2,7.7M14.9,7.3L12.6,9.1" clip-path="url(#cm)" fill="none" stroke="#8c8c8c" stroke-width="0.45"/><path d="M9.8,11.6 C10.8,12.8 12.5,13.2 14.5,11.8 C13.5,11 11.5,10.8 9.8,11.6 Z" fill="#808080"/></g>
<g transform="translate(238.9,100.75)"><path d="M0.4,8.3 C0.3,5 2.5,2.2 6.5,1 C10,0 14.5,0.3 17.3,2.3 C19.6,4 20.2,7 19.4,9 C18.7,10.3 17.2,10.9 15.6,11.3 C14.9,12.5 13.8,13.5 12.6,13.6 C11.3,13.7 10.6,12.8 10.1,12.1 C8,12 5,11.9 3,11.2 C1.4,10.6 0.5,9.6 0.4,8.3 Z" fill="url(#gmed)" stroke="#707070" stroke-width="0.8"/><path d="M4.5,8 C5.5,4.8 9,3.6 12,3.8 C15,4.1 16.5,5.8 16.5,7.8 C14,7 11,6.8 8,7.3 C6.5,7.6 5.2,7.8 4.5,8 Z" fill="#cbcbcb"/><path d="M11.3,8.7L10.6,10.5M15.7,3.4L17.6,3.5M8.3,1.5L10,2.6M10.6,1.5L11.7,4M18.4,6.8L17,8.7M2.8,1.8L5.7,1.9M12,10.6L14.4,10.7M8.9,7.2L10.5,9.7M4.2,5.6L2.2,7.7M14.9,7.3L12.6,9.1" clip-path="url(#cm)" fill="none" stroke="#8c8c8c" stroke-width="0.45"/><path d="M9.8,11.6 C10.8,12.8 12.5,13.2 14.5,11.8 C13.5,11 11.5,10.8 9.8,11.6 Z" fill="#808080"/></g>
<path d="M159.2,59.4 160.6,58.8 162.6,55.5 163.5,45.8 164.2,55.5 165.2,102.3 166.1,62 167.1,43.8 168.4,54.2 170.3,62 172.3,69.8 174.2,80.2 175.6,68.5 176.2,67.2 177.2,80.2 178.8,67.2 180.8,60 182.7,63.3 184.7,69.8 185.9,73.7 186.9,62.6 188.2,92.5 189.5,71.1 191.5,64 193.8,66.5 195.1,67.5 196.3,69.8 197.7,67.2 199.3,86 200.6,67.2 202.8,62 204.8,67.2 206.8,73.7 208.7,60 210,84.1 211.3,65.9 213.2,60.7 215.2,65.9 217.2,70.4 219.1,71.1 221.4,70.4 223,61.3 224.9,55.5 226.2,53.8 227.6,51 229.2,51 230.8,52.9 232.1,54.5 233.4,54.2 234.7,54.8 236,56.8 237.3,58.2 238.6,58.1 239.9,56.8 241.2,57.5 242.5,56.1 243.8,56.1 245.1,58.4 246.4,58.1 247.7,57.4 249,58.8 250.3,59.1 251.6,58.1 252.9,58.2 254.2,60.1 255.5,60 256.8,58.7 258.1,59.4 260.3,60.7" fill="none" stroke="#a8c6ee" stroke-width="2.0" stroke-linejoin="round" opacity="0.7"/>
<path d="M159.2,59.4 160.6,58.8 162.6,55.5 163.5,45.8 164.2,55.5 165.2,102.3 166.1,62 167.1,43.8 168.4,54.2 170.3,62 172.3,69.8 174.2,80.2 175.6,68.5 176.2,67.2 177.2,80.2 178.8,67.2 180.8,60 182.7,63.3 184.7,69.8 185.9,73.7 186.9,62.6 188.2,92.5 189.5,71.1 191.5,64 193.8,66.5 195.1,67.5 196.3,69.8 197.7,67.2 199.3,86 200.6,67.2 202.8,62 204.8,67.2 206.8,73.7 208.7,60 210,84.1 211.3,65.9 213.2,60.7 215.2,65.9 217.2,70.4 219.1,71.1 221.4,70.4 223,61.3 224.9,55.5 226.2,53.8 227.6,51 229.2,51 230.8,52.9 232.1,54.5 233.4,54.2 234.7,54.8 236,56.8 237.3,58.2 238.6,58.1 239.9,56.8 241.2,57.5 242.5,56.1 243.8,56.1 245.1,58.4 246.4,58.1 247.7,57.4 249,58.8 250.3,59.1 251.6,58.1 252.9,58.2 254.2,60.1 255.5,60 256.8,58.7 258.1,59.4 260.3,60.7" fill="none" stroke="#2468d0" stroke-width="0.6" stroke-linejoin="round"/>
<circle cx="188.16" cy="92.55" r="3.55" fill="none" stroke="#ee1c25" stroke-width="0.9"/>
<circle cx="199.34" cy="86.05" r="3.55" fill="none" stroke="#ee1c25" stroke-width="0.9"/>
<circle cx="210" cy="84.1" r="3.55" fill="none" stroke="#ee1c25" stroke-width="0.9"/>
<path d="M161.99,117.4v-1.2M161.99,37.4v1.2M176.58,117.4v-1.2M176.58,37.4v1.2M191.17,117.4v-1.2M191.17,37.4v1.2M205.75,117.4v-1.2M205.75,37.4v1.2M220.34,117.4v-1.2M220.34,37.4v1.2M234.93,117.4v-1.2M234.93,37.4v1.2M249.51,117.4v-1.2M249.51,37.4v1.2M158.9,41.84h1.2M260.6,41.84h-1.2M158.9,59.62h1.2M260.6,59.62h-1.2M158.9,77.4h1.2M260.6,77.4h-1.2M158.9,95.18h1.2M260.6,95.18h-1.2M158.9,112.96h1.2M260.6,112.96h-1.2" stroke="#555" stroke-width="0.5" fill="none"/>
<rect x="158.9" y="37.4" width="101.7" height="80" fill="none" stroke="#a0a0a0" stroke-width="0.7"/>
<text x="156.6" y="44.24" font-size="8.2" text-anchor="end" fill="#363636">40</text>
<text x="156.6" y="62.02" font-size="8.2" text-anchor="end" fill="#363636">0</text>
<text x="156.6" y="79.8" font-size="8.2" text-anchor="end" fill="#363636">-40</text>
<text x="156.6" y="97.58" font-size="8.2" text-anchor="end" fill="#363636">-80</text>
<text x="156.6" y="115.36" font-size="8.2" text-anchor="end" fill="#363636">-120</text>
<text x="161.99" y="125.25" font-size="8.3" text-anchor="middle" fill="#363636">0</text>
<text x="176.58" y="125.25" font-size="8.3" text-anchor="middle" fill="#363636">0.5</text>
<text x="191.17" y="125.25" font-size="8.3" text-anchor="middle" fill="#363636">1</text>
<text x="205.75" y="125.25" font-size="8.3" text-anchor="middle" fill="#363636">1.5</text>
<text x="220.34" y="125.25" font-size="8.3" text-anchor="middle" fill="#363636">2</text>
<text x="234.93" y="125.25" font-size="8.3" text-anchor="middle" fill="#363636">2.5</text>
<text x="249.51" y="125.25" font-size="8.3" text-anchor="middle" fill="#363636">3</text>
<text x="209.35" y="31.75" font-size="10" text-anchor="middle" textLength="16.4" lengthAdjust="spacingAndGlyphs">NT2</text>
<g transform="translate(159.8,134.1)"><ellipse cx="1.3" cy="-1" rx="1.35" ry="0.95" transform="rotate(-20 1.3 -1)" fill="#111"/><path d="M2.45,-1.2 V-5.6 C3.2,-4.6 4.5,-4 4.2,-2.3" fill="none" stroke="#111" stroke-width="0.6"/></g>
<g transform="translate(170.65,134.1)"><ellipse cx="1.3" cy="-1" rx="1.35" ry="0.95" transform="rotate(-20 1.3 -1)" fill="#111"/><path d="M2.45,-1.2 V-5.6 C3.2,-4.6 4.5,-4 4.2,-2.3" fill="none" stroke="#111" stroke-width="0.6"/></g>
<g transform="translate(181.5,134.1)"><ellipse cx="1.3" cy="-1" rx="1.35" ry="0.95" transform="rotate(-20 1.3 -1)" fill="#111"/><path d="M2.45,-1.2 V-5.6 C3.2,-4.6 4.5,-4 4.2,-2.3" fill="none" stroke="#111" stroke-width="0.6"/></g>
<path d="M180.2,135.25v1h7.4v-1" fill="none" stroke="#2468d0" stroke-width="0.65" opacity="0.75"/>
<g transform="translate(192.35,134.1)"><ellipse cx="1.3" cy="-1" rx="1.35" ry="0.95" transform="rotate(-20 1.3 -1)" fill="#111"/><path d="M2.45,-1.2 V-5.6 C3.2,-4.6 4.5,-4 4.2,-2.3" fill="none" stroke="#111" stroke-width="0.6"/></g>
<path d="M191.05,135.25v1h7.4v-1" fill="none" stroke="#2468d0" stroke-width="0.65" opacity="0.75"/>
<g transform="translate(203.2,134.1)"><ellipse cx="1.3" cy="-1" rx="1.35" ry="0.95" transform="rotate(-20 1.3 -1)" fill="#111"/><path d="M2.45,-1.2 V-5.6 C3.2,-4.6 4.5,-4 4.2,-2.3" fill="none" stroke="#111" stroke-width="0.6"/></g>
<path d="M201.9,135.25v1h7.4v-1" fill="none" stroke="#2468d0" stroke-width="0.65" opacity="0.75"/>
<path d="M179.91,168.5V266.35M184.62,168.5V266.35M194.05,168.5V266.35M198.76,168.5V266.35M203.47,168.5V266.35M208.18,168.5V266.35M217.6,168.5V266.35M222.32,168.5V266.35M227.03,168.5V266.35M231.74,168.5V266.35M241.16,168.5V266.35M176.4,263.09H243.75M176.4,259.83H243.75M176.4,256.57H243.75M176.4,253.3H243.75M176.4,246.78H243.75M176.4,243.52H243.75M176.4,240.26H243.75M176.4,237H243.75M176.4,230.47H243.75M176.4,227.21H243.75M176.4,223.95H243.75M176.4,220.69H243.75M176.4,214.16H243.75M176.4,210.9H243.75M176.4,207.64H243.75M176.4,204.38H243.75M176.4,197.86H243.75M176.4,194.59H243.75M176.4,191.33H243.75M176.4,188.07H243.75M176.4,181.55H243.75M176.4,178.28H243.75M176.4,175.02H243.75M176.4,171.76H243.75" stroke="#ececec" stroke-width="0.45" stroke-dasharray="1 0.6" fill="none"/>
<path d="M189.33,168.5V266.35M212.72,168.5V266.35M236.45,168.5V266.35M176.4,184.81H243.75M176.4,201.12H243.75M176.4,217.43H243.75M176.4,233.73H243.75M176.4,250.04H243.75" stroke="#e8e8e8" stroke-width="0.5" fill="none"/>
<path d="M189.3,190.7L188.8,190.7 188.7,191.2 188.6,191.7 188.4,192.2 188.2,192.7 188,193.2 187.7,193.7 187.4,194.2 187.1,194.7 186.8,195.2 186.4,195.7 186,196.2 185.6,196.7 185.2,197.2 184.7,197.7 184.3,198.2 183.9,198.7 183.4,199.2 183,199.8 182.6,200.3 182.1,200.8 181.7,201.3 181.3,201.8 180.9,202.3 180.5,202.8 180.1,203.3 179.8,203.8 179.5,204.3 179.1,204.8 178.9,205.3 178.6,205.8 178.4,206.3 178.3,206.8 178.1,207.3 178.1,207.8 178,208.3 178.1,208.8 178.1,209.3 178.2,209.8 178.3,210.3 178.5,210.8 178.6,211.3 178.8,211.8 179.1,212.3 179.3,212.8 179.6,213.3 179.9,213.8 180.2,214.3 180.6,214.8 180.9,215.3 181.2,215.8 181.6,216.3 181.9,216.8 182.2,217.3 182.5,217.8 182.9,218.3 183.2,218.8 183.5,219.3 183.8,219.8 184.1,220.3 184.4,220.8 184.7,221.3 185,221.8 185.2,222.3 185.5,222.8 185.7,223.3 186,223.8 186.2,224.3 186.4,224.8 186.6,225.3 186.8,225.8 187,226.3 187.2,226.8 187.4,227.3 187.5,227.8 187.7,228.3 187.8,228.8 187.9,229.3 188,229.8 188.1,230.3 188.2,230.8 188.3,231.3 188.4,231.8 188.4,232.3 188.5,232.8 188.6,233.3 188.6,233.8 188.7,234.3 188.8,234.8 188.8,235.3 188.9,235.8 188.9,236.3 188.9,236.8 189,237.3 189,237.8 189,238.3 189,238.8 189,239.3 189.1,239.8 189.1,240.3 189.1,240.8 189.1,241.3 189.1,241.8 189.1,242.4 189.1,242.9 189.1,243.4 189.1,243.9 189.2,244.4 189.2,244.9 189.2,245.4 189.2,245.9 189.2,246.4 189.2,246.9 189.2,247.4 189.2,247.9 189.2,248.4 189.2,248.9 189.3,249.4 189.3,249.9 189.3,250.4 189.3,250.9 189.3,251.4 189.3,251.9 189.3,252.4 189.3,252.9 189.3,252.9Z" fill="#0000cd"/>
<path d="M192.9,206.8h0M191.9,213.4h0M193.3,204.6h0M192.3,209.8h0M192.8,210.3h0M195.5,209.5h0M193.4,206.6h0M193.1,230.2h0M194.6,209.3h0M193.4,223.6h0M195.2,210.1h0M192.3,211.9h0M195.3,203.7h0M194.2,208.8h0M192.8,208.2h0M195.4,211.3h0M195.6,201.2h0M192.2,212h0M193.6,229.4h0M195.3,216.4h0M192.3,224.3h0M193.3,203.9h0M192.4,224.5h0M193.3,208.9h0M192.7,209.3h0M191.9,226.8h0M194.7,213.3h0M194.1,212.9h0M194.2,209h0M193.4,204.9h0M193.4,211.5h0M194.2,215h0M194.8,212.3h0M192.4,221h0M193.4,213.7h0M193.5,213.3h0M192,219.2h0M193.7,222.7h0M193.7,213.4h0M195.1,214.3h0M195,221.2h0M195.6,210.5h0M192.4,223.5h0M192,227.9h0M194.7,208h0M195,215h0M193.7,208.7h0M192.7,203.4h0M192.4,210.8h0M195.4,212.8h0M192.4,226.7h0M193.8,200.3h0M195.2,208.6h0M192.1,201.2h0M193.3,217.7h0M195.7,205.4h0M193.1,205.8h0M192.4,211.4h0M195,198h0M194,201h0M191.7,207h0M192.3,198.9h0M193.7,211h0M192.6,200.9h0M191.7,197.1h0M192.6,215.6h0M194,214.7h0M192.2,206.8h0M192.3,204.6h0M194.2,206.9h0M195.2,237.1h0M194.8,246.1h0" stroke="#2232de" stroke-width="1.05" stroke-linecap="round" opacity="0.85"/>
<circle cx="189.33" cy="211.41" r="1.05" fill="#0a0a3a"/>
<path d="M212.7,178.3L212.7,178.3 212.7,178.8 212.7,179.3 212.7,179.8 212.7,180.3 212.6,180.8 212.6,181.3 212.6,181.8 212.6,182.3 212.6,182.8 212.6,183.3 212.6,183.8 212.6,184.3 212.6,184.8 212.5,185.3 212.5,185.8 212.5,186.3 212.5,186.8 212.5,187.3 212.5,187.8 212.4,188.3 212.4,188.8 212.4,189.3 212.3,189.8 212.2,190.4 212.1,190.9 212,191.4 211.8,191.9 211.6,192.4 211.4,192.9 211.1,193.4 210.8,193.9 210.5,194.4 210.1,194.9 209.8,195.4 209.4,195.9 209,196.4 208.6,196.9 208.1,197.4 207.7,197.9 207.3,198.4 206.8,198.9 206.4,199.4 205.9,199.9 205.4,200.4 205,200.9 204.5,201.4 204,201.9 203.6,202.4 203.2,202.9 202.8,203.4 202.4,203.9 202.1,204.4 201.8,204.9 201.5,205.4 201.3,205.9 201.2,206.4 201.2,206.9 201.1,207.4 201.2,207.9 201.3,208.4 201.4,208.9 201.6,209.4 201.9,209.9 202.1,210.4 202.4,210.9 202.7,211.4 203.1,211.9 203.4,212.4 203.8,213 204.2,213.5 204.5,214 204.9,214.5 205.2,215 205.6,215.5 205.9,216 206.2,216.5 206.6,217 206.9,217.5 207.2,218 207.5,218.5 207.8,219 208.1,219.5 208.4,220 208.6,220.5 208.9,221 209.2,221.5 209.4,222 209.6,222.5 209.9,223 210.1,223.5 210.3,224 210.5,224.5 210.7,225 210.9,225.5 211,226 211.2,226.5 211.3,227 211.4,227.5 211.5,228 211.6,228.5 211.7,229 211.8,229.5 211.9,230 212,230.5 212.1,231 212.1,231.5 212.2,232 212.2,232.5 212.3,233 212.3,233.5 212.4,234 212.4,234.5 212.4,235 212.4,235.5 212.5,236.1 212.5,236.6 212.5,237.1 212.5,237.6 212.5,238.1 212.5,238.6 212.5,239.1 212.6,239.6 212.6,240.1 212.6,240.6 212.6,241.1 212.6,241.6 212.6,242.1 212.6,242.6 212.6,243.1 212.6,243.6 212.7,244.1 212.7,244.6 212.7,245.1 212.7,245.6 212.7,246.1 212.7,246.1Z" fill="#0000cd"/>
<path d="M217.7,209.6h0M216.5,210.6h0M218.8,210.3h0M218.7,203.7h0M216,204.1h0M218.2,208.6h0M215.6,197h0M217.5,205.5h0M215.8,203.2h0M216.3,201.7h0M217.9,217.3h0M218.5,203.4h0M218,211h0M216,210.1h0M216.4,212.3h0M218.5,218.8h0M217.3,204.3h0M216.1,211.4h0M215.9,228h0M216.1,195.8h0M218.1,203h0M216.4,220.5h0M216,206.4h0M217.9,216.6h0M217,228.4h0M218.5,218.9h0M216.3,208.5h0M217.6,202.5h0M215.2,212.4h0M218.8,208h0M215.2,210.6h0M217.9,216.7h0M217.4,197.5h0M218.4,210.8h0M215.3,225.5h0M218.9,226.2h0M215.2,210.5h0M217.6,222.8h0M216.2,216.7h0M215.5,212.4h0M216.4,202.2h0M216.2,214h0M216.4,207.7h0M218.5,212.3h0M216.7,196.3h0M218.2,210.3h0M215.9,207.7h0M218.4,198.3h0M215.1,203h0M215.1,210.9h0M215.8,199.6h0M216.5,210.3h0M218.9,204.1h0M217.1,211.6h0M217.6,218.3h0M218.2,211.8h0M216.7,207.3h0M218.6,201.2h0M215.9,210.7h0M218.7,208.9h0M216,201.2h0M217.2,217.8h0M217.7,220.8h0M218.5,208.2h0M215.8,220.4h0M218.2,212.6h0M218.6,214.1h0M215.8,214.2h0M215.7,206.6h0M216.1,199.3h0M216.4,185.1h0M217.2,238.2h0" stroke="#2232de" stroke-width="1.05" stroke-linecap="round" opacity="0.85"/>
<circle cx="212.72" cy="209.71" r="1.05" fill="#0a0a3a"/>
<path d="M236.5,187.9L236.1,187.9 236.1,188.4 236,188.9 235.9,189.4 235.8,189.9 235.7,190.4 235.6,190.9 235.5,191.4 235.3,191.9 235.1,192.4 234.9,192.9 234.6,193.4 234.3,193.9 234,194.4 233.7,194.9 233.3,195.4 232.9,195.9 232.5,196.4 232.1,196.9 231.6,197.4 231.2,197.9 230.7,198.4 230.2,198.9 229.8,199.4 229.3,199.9 228.8,200.4 228.3,200.9 227.9,201.4 227.5,201.9 227.1,202.4 226.7,202.9 226.3,203.4 226,203.9 225.6,204.4 225.4,204.9 225.1,205.4 224.9,205.9 224.8,206.4 224.7,206.9 224.7,207.4 224.7,207.9 224.7,208.4 224.8,208.9 224.9,209.4 225.1,209.9 225.3,210.4 225.6,210.9 225.8,211.4 226.1,211.9 226.5,212.4 226.8,212.9 227.2,213.4 227.5,213.9 227.9,214.4 228.3,214.9 228.6,215.4 229,215.9 229.4,216.4 229.8,216.9 230.1,217.4 230.5,217.9 230.9,218.4 231.2,218.9 231.6,219.4 231.9,219.9 232.2,220.4 232.5,220.9 232.8,221.4 233.1,221.9 233.4,222.4 233.7,222.9 233.9,223.4 234.2,223.9 234.4,224.4 234.6,224.9 234.8,225.4 235,225.9 235.2,226.4 235.4,226.9 235.5,227.4 235.7,227.9 235.8,228.4 235.9,228.9 236,229.4 236,229.9 236.1,230.5 236.1,231 236.2,231.5 236.2,232 236.2,232.5 236.2,233 236.3,233.5 236.3,234 236.3,234.5 236.3,235 236.3,235.5 236.3,236 236.3,236.5 236.3,237 236.3,237.5 236.3,238 236.3,238.5 236.4,239 236.4,239.5 236.4,240 236.4,240.5 236.4,241 236.4,241.5 236.4,242 236.4,242.5 236.4,243 236.4,243.5 236.4,244 236.4,244.5 236.4,245 236.5,245Z" fill="#0000cd"/>
<path d="M242.7,207.9h0M242.7,199.9h0M240.3,212.1h0M241.7,219.8h0M239.2,211.6h0M240.4,215.8h0M241.6,202.5h0M241.3,214.4h0M240.4,213.5h0M240.5,223.1h0M241.8,214.5h0M242.3,210.4h0M242.2,217.1h0M240.6,215.4h0M241.3,217h0M241.7,202h0M240.5,204.1h0M241.3,213.4h0M239.5,204.4h0M240.4,219.4h0M242.7,199.5h0M241.9,206.6h0M239.2,211.9h0M241,208.6h0M241.4,211.7h0M240.5,212h0M241.5,203h0M242.8,209.6h0M239,206.9h0M240.5,208.7h0M241.6,209.8h0M241.8,209h0M239.7,212.1h0M239.7,208.2h0M241.9,212.8h0M240.7,215.2h0M240.2,211.2h0M242.1,220.5h0M240,221.6h0M240.2,215.8h0M240.3,204.6h0M240.5,215.8h0M239.9,217.1h0M240,209.5h0M241.4,203.2h0M242.5,212.3h0M242.1,198.6h0M239.4,219.5h0M238.9,215.2h0M239.8,216.1h0M239.4,207.3h0M239.4,210.1h0M239.5,219.8h0M241.9,214.5h0M242,222.7h0M241.6,202.6h0M241.8,205h0M239.9,213.9h0M239.4,205.3h0M239.4,214.4h0M240.8,211.3h0M242.2,209.7h0M241.1,209h0M240.3,221.2h0M241.4,211.2h0M241.2,197.8h0M240.1,223.8h0M240.7,211.7h0M241.7,197.9h0M242.3,206.7h0M240.3,235.4h0" stroke="#2232de" stroke-width="1.05" stroke-linecap="round" opacity="0.85"/>
<circle cx="236.45" cy="209.37" r="1.05" fill="#0a0a3a"/>
<path d="M189.33,266.35v-1.2M189.33,168.5v1.2M212.72,266.35v-1.2M212.72,168.5v1.2M236.45,266.35v-1.2M236.45,168.5v1.2M176.4,168.5h1.2M243.75,168.5h-1.2M176.4,184.81h1.2M243.75,184.81h-1.2M176.4,201.12h1.2M243.75,201.12h-1.2M176.4,217.43h1.2M243.75,217.43h-1.2M176.4,233.73h1.2M243.75,233.73h-1.2M176.4,250.04h1.2M243.75,250.04h-1.2M176.4,266.35h1.2M243.75,266.35h-1.2" stroke="#555" stroke-width="0.5" fill="none"/>
<rect x="176.4" y="168.5" width="67.35" height="97.85" fill="none" stroke="#a0a0a0" stroke-width="0.7"/>
<text transform="translate(174.2 172) scale(0.92 1)" font-size="8.8" text-anchor="end" fill="#363636">200</text>
<text transform="translate(174.2 188.31) scale(0.92 1)" font-size="8.8" text-anchor="end" fill="#363636">100</text>
<text transform="translate(174.2 204.62) scale(0.92 1)" font-size="8.8" text-anchor="end" fill="#363636">0</text>
<text transform="translate(174.2 220.93) scale(0.92 1)" font-size="8.8" text-anchor="end" fill="#363636">-100</text>
<text transform="translate(174.2 237.23) scale(0.92 1)" font-size="8.8" text-anchor="end" fill="#363636">-200</text>
<text transform="translate(174.2 253.54) scale(0.92 1)" font-size="8.8" text-anchor="end" fill="#363636">-300</text>
<text transform="translate(174.2 269.85) scale(0.92 1)" font-size="8.8" text-anchor="end" fill="#363636">-400</text>
<text transform="translate(189.33 273.6) scale(0.92 1)" font-size="8.8" text-anchor="middle" fill="#363636">3</text>
<text transform="translate(212.72 273.6) scale(0.92 1)" font-size="8.8" text-anchor="middle" fill="#363636">4</text>
<text transform="translate(236.45 273.6) scale(0.92 1)" font-size="8.8" text-anchor="middle" fill="#363636">5</text>
<text x="210.07" y="166.1" font-size="7.6" text-anchor="middle" font-weight="bold" fill="#000" textLength="11.4" lengthAdjust="spacingAndGlyphs" stroke="#000" stroke-width="0.5">n.s.</text>
<path d="M287.57,37.4V117.4M293.39,37.4V117.4M296.3,37.4V117.4M299.21,37.4V117.4M302.12,37.4V117.4M307.94,37.4V117.4M310.84,37.4V117.4M313.75,37.4V117.4M316.66,37.4V117.4M322.48,37.4V117.4M325.39,37.4V117.4M328.3,37.4V117.4M331.21,37.4V117.4M337.02,37.4V117.4M339.93,37.4V117.4M342.84,37.4V117.4M345.75,37.4V117.4M351.57,37.4V117.4M354.48,37.4V117.4M357.39,37.4V117.4M360.29,37.4V117.4M366.11,37.4V117.4M369.02,37.4V117.4M371.93,37.4V117.4M374.84,37.4V117.4M380.66,37.4V117.4M383.56,37.4V117.4M386.47,37.4V117.4M287.4,108.51H388.8M287.4,104.07H388.8M287.4,99.62H388.8M287.4,90.73H388.8M287.4,86.29H388.8M287.4,81.84H388.8M287.4,72.96H388.8M287.4,68.51H388.8M287.4,64.07H388.8M287.4,55.18H388.8M287.4,50.73H388.8M287.4,46.29H388.8" stroke="#ececec" stroke-width="0.45" stroke-dasharray="1 0.6" fill="none"/>
<path d="M290.48,37.4V117.4M305.03,37.4V117.4M319.57,37.4V117.4M334.11,37.4V117.4M348.66,37.4V117.4M363.2,37.4V117.4M377.75,37.4V117.4M287.4,41.84H388.8M287.4,59.62H388.8M287.4,77.4H388.8M287.4,95.18H388.8M287.4,112.96H388.8" stroke="#e8e8e8" stroke-width="0.5" fill="none"/>
<g transform="translate(346.3,86.4)"><path d="M0.3,7.5 C0.3,4 3,1.2 7,0.5 C11,-0.1 15.5,0.5 18,2.8 C19.8,4.5 20.2,7 19.4,8.8 C18.6,10.2 16.8,10.6 15,10.9 C13.5,11.2 12.5,11.6 11.5,12.3 C10.5,13.2 9,13.2 8.3,12.4 C6.5,11.9 4,11.6 2.3,10.6 C1,9.8 0.3,8.8 0.3,7.5 Z" fill="url(#glat)" stroke="#454545" stroke-width="0.9"/><path d="M10.4,6.5Q9.3,7 8.1,7.1M5.6,4.9Q4.3,6 4.3,7.8M3.9,8.5Q4.2,9.9 3,9.8M11.8,7Q12.5,6.6 13.1,7.7M3.8,3.7Q4.9,4.3 6.3,3.9M10.3,6.2Q10.2,7.2 10.3,9M19.2,10.3Q17.7,10.5 16.7,11.7M7.5,1.4Q7.2,2 5.8,2.9M16.4,9.5Q18,9.5 18.3,9.6M16.3,5Q18.1,4.9 19,5.6M4.9,4.5Q2.8,4.3 1.9,4.8M4.4,1.5Q3.7,2 2.9,2.6M3.8,7.9Q4.4,8.3 6.3,9M7,3.9Q5.1,4.7 3.9,4.2M6.6,4.6Q4.7,6 4.1,5.9M6.2,3.2Q5.1,3.3 4.6,4.7M2.5,6.1Q3.2,7 4.4,8M17.7,4.5Q16.8,5.5 17,7.7M15.9,8.6Q16.9,10 17.2,9.9M6.4,10Q5,9.9 3.9,11M1.6,9.7Q2.2,11.2 3.7,11.6M10.3,3.5Q10.9,3.9 12.8,5.1" clip-path="url(#cl)" fill="none" stroke="#666" stroke-width="0.5"/><path d="M8.6,9.3 C9.5,8.2 11,7.3 12.1,7.2 C12.4,7.8 11,8.9 9.6,9.7 Z" fill="#f01c1c" stroke="#f01c1c" stroke-width="0.6"/></g>
<g transform="translate(387.1,86.4) scale(-1,1)"><path d="M0.3,7.5 C0.3,4 3,1.2 7,0.5 C11,-0.1 15.5,0.5 18,2.8 C19.8,4.5 20.2,7 19.4,8.8 C18.6,10.2 16.8,10.6 15,10.9 C13.5,11.2 12.5,11.6 11.5,12.3 C10.5,13.2 9,13.2 8.3,12.4 C6.5,11.9 4,11.6 2.3,10.6 C1,9.8 0.3,8.8 0.3,7.5 Z" fill="url(#glat)" stroke="#454545" stroke-width="0.9"/><path d="M10.4,6.5Q9.3,7 8.1,7.1M5.6,4.9Q4.3,6 4.3,7.8M3.9,8.5Q4.2,9.9 3,9.8M11.8,7Q12.5,6.6 13.1,7.7M3.8,3.7Q4.9,4.3 6.3,3.9M10.3,6.2Q10.2,7.2 10.3,9M19.2,10.3Q17.7,10.5 16.7,11.7M7.5,1.4Q7.2,2 5.8,2.9M16.4,9.5Q18,9.5 18.3,9.6M16.3,5Q18.1,4.9 19,5.6M4.9,4.5Q2.8,4.3 1.9,4.8M4.4,1.5Q3.7,2 2.9,2.6M3.8,7.9Q4.4,8.3 6.3,9M7,3.9Q5.1,4.7 3.9,4.2M6.6,4.6Q4.7,6 4.1,5.9M6.2,3.2Q5.1,3.3 4.6,4.7M2.5,6.1Q3.2,7 4.4,8M17.7,4.5Q16.8,5.5 17,7.7M15.9,8.6Q16.9,10 17.2,9.9M6.4,10Q5,9.9 3.9,11M1.6,9.7Q2.2,11.2 3.7,11.6M10.3,3.5Q10.9,3.9 12.8,5.1" clip-path="url(#cl)" fill="none" stroke="#666" stroke-width="0.5"/></g>
<g transform="translate(366.3,100.75) scale(-1,1)"><path d="M0.4,8.3 C0.3,5 2.5,2.2 6.5,1 C10,0 14.5,0.3 17.3,2.3 C19.6,4 20.2,7 19.4,9 C18.7,10.3 17.2,10.9 15.6,11.3 C14.9,12.5 13.8,13.5 12.6,13.6 C11.3,13.7 10.6,12.8 10.1,12.1 C8,12 5,11.9 3,11.2 C1.4,10.6 0.5,9.6 0.4,8.3 Z" fill="url(#gmed)" stroke="#707070" stroke-width="0.8"/><path d="M4.5,8 C5.5,4.8 9,3.6 12,3.8 C15,4.1 16.5,5.8 16.5,7.8 C14,7 11,6.8 8,7.3 C6.5,7.6 5.2,7.8 4.5,8 Z" fill="#cbcbcb"/><path d="M11.3,8.7L10.6,10.5M15.7,3.4L17.6,3.5M8.3,1.5L10,2.6M10.6,1.5L11.7,4M18.4,6.8L17,8.7M2.8,1.8L5.7,1.9M12,10.6L14.4,10.7M8.9,7.2L10.5,9.7M4.2,5.6L2.2,7.7M14.9,7.3L12.6,9.1" clip-path="url(#cm)" fill="none" stroke="#8c8c8c" stroke-width="0.45"/><path d="M9.8,11.6 C10.8,12.8 12.5,13.2 14.5,11.8 C13.5,11 11.5,10.8 9.8,11.6 Z" fill="#808080"/></g>
<g transform="translate(367.1,100.75)"><path d="M0.4,8.3 C0.3,5 2.5,2.2 6.5,1 C10,0 14.5,0.3 17.3,2.3 C19.6,4 20.2,7 19.4,9 C18.7,10.3 17.2,10.9 15.6,11.3 C14.9,12.5 13.8,13.5 12.6,13.6 C11.3,13.7 10.6,12.8 10.1,12.1 C8,12 5,11.9 3,11.2 C1.4,10.6 0.5,9.6 0.4,8.3 Z" fill="url(#gmed)" stroke="#707070" stroke-width="0.8"/><path d="M4.5,8 C5.5,4.8 9,3.6 12,3.8 C15,4.1 16.5,5.8 16.5,7.8 C14,7 11,6.8 8,7.3 C6.5,7.6 5.2,7.8 4.5,8 Z" fill="#cbcbcb"/><path d="M11.3,8.7L10.6,10.5M15.7,3.4L17.6,3.5M8.3,1.5L10,2.6M10.6,1.5L11.7,4M18.4,6.8L17,8.7M2.8,1.8L5.7,1.9M12,10.6L14.4,10.7M8.9,7.2L10.5,9.7M4.2,5.6L2.2,7.7M14.9,7.3L12.6,9.1" clip-path="url(#cm)" fill="none" stroke="#8c8c8c" stroke-width="0.45"/><path d="M9.8,11.6 C10.8,12.8 12.5,13.2 14.5,11.8 C13.5,11 11.5,10.8 9.8,11.6 Z" fill="#808080"/></g>
<path d="M287.7,58.8 288.9,58.8 290.2,60 291.6,48.4 292.5,49 293.2,103 294.1,68.5 295.1,43.8 295.8,43.1 296.8,54.2 298.7,62 300.6,68.5 301.9,76.3 303.2,82.8 304.3,68.5 305.2,81.5 306.5,68.5 307.8,60.7 309.8,65.2 311.7,67.2 313.6,70.4 315.3,62 316.6,79.5 318.2,65.2 319.5,60.7 321.4,67.2 323.4,70.4 324.7,69.2 325.6,61.3 327.3,87.1 328.6,68.5 330.6,62.6 332.5,67.2 334.4,72.4 335.4,74.3 336.7,59.4 338.1,85 339.3,68.5 340.6,62.6 342.2,65.2 344.2,71.8 345.5,73 347.4,69.8 348.8,66.7 350.1,65.2 352,58.1 353.9,54.8 355.2,54.4 356.6,52.2 358.5,54.2 360.4,55.5 362.4,52.9 363.7,53.4 365,56.1 366.3,57.5 367.6,57.5 368.9,57.3 370.2,58.8 371.5,58.9 372.8,57.5 374.1,57.8 375.4,60 376.7,59.5 378,56.8 379.9,60 381.2,58.7 382.6,58.8 384.5,60 385.8,60.8 387.1,59.4 388.5,60.7" fill="none" stroke="#a8acd8" stroke-width="2.0" stroke-linejoin="round" opacity="0.7"/>
<path d="M287.7,58.8 288.9,58.8 290.2,60 291.6,48.4 292.5,49 293.2,103 294.1,68.5 295.1,43.8 295.8,43.1 296.8,54.2 298.7,62 300.6,68.5 301.9,76.3 303.2,82.8 304.3,68.5 305.2,81.5 306.5,68.5 307.8,60.7 309.8,65.2 311.7,67.2 313.6,70.4 315.3,62 316.6,79.5 318.2,65.2 319.5,60.7 321.4,67.2 323.4,70.4 324.7,69.2 325.6,61.3 327.3,87.1 328.6,68.5 330.6,62.6 332.5,67.2 334.4,72.4 335.4,74.3 336.7,59.4 338.1,85 339.3,68.5 340.6,62.6 342.2,65.2 344.2,71.8 345.5,73 347.4,69.8 348.8,66.7 350.1,65.2 352,58.1 353.9,54.8 355.2,54.4 356.6,52.2 358.5,54.2 360.4,55.5 362.4,52.9 363.7,53.4 365,56.1 366.3,57.5 367.6,57.5 368.9,57.3 370.2,58.8 371.5,58.9 372.8,57.5 374.1,57.8 375.4,60 376.7,59.5 378,56.8 379.9,60 381.2,58.7 382.6,58.8 384.5,60 385.8,60.8 387.1,59.4 388.5,60.7" fill="none" stroke="#1c268c" stroke-width="0.6" stroke-linejoin="round"/>
<circle cx="327.3" cy="87.09" r="3.55" fill="none" stroke="#ee1c25" stroke-width="0.9"/>
<circle cx="338.09" cy="85.01" r="3.55" fill="none" stroke="#ee1c25" stroke-width="0.9"/>
<path d="M290.48,117.4v-1.2M290.48,37.4v1.2M305.03,117.4v-1.2M305.03,37.4v1.2M319.57,117.4v-1.2M319.57,37.4v1.2M334.11,117.4v-1.2M334.11,37.4v1.2M348.66,117.4v-1.2M348.66,37.4v1.2M363.2,117.4v-1.2M363.2,37.4v1.2M377.75,117.4v-1.2M377.75,37.4v1.2M287.4,41.84h1.2M388.8,41.84h-1.2M287.4,59.62h1.2M388.8,59.62h-1.2M287.4,77.4h1.2M388.8,77.4h-1.2M287.4,95.18h1.2M388.8,95.18h-1.2M287.4,112.96h1.2M388.8,112.96h-1.2" stroke="#555" stroke-width="0.5" fill="none"/>
<rect x="287.4" y="37.4" width="101.4" height="80" fill="none" stroke="#a0a0a0" stroke-width="0.7"/>
<text x="285.1" y="44.24" font-size="8.2" text-anchor="end" fill="#363636">40</text>
<text x="285.1" y="62.02" font-size="8.2" text-anchor="end" fill="#363636">0</text>
<text x="285.1" y="79.8" font-size="8.2" text-anchor="end" fill="#363636">-40</text>
<text x="285.1" y="97.58" font-size="8.2" text-anchor="end" fill="#363636">-80</text>
<text x="285.1" y="115.36" font-size="8.2" text-anchor="end" fill="#363636">-120</text>
<text x="290.48" y="125.25" font-size="8.3" text-anchor="middle" fill="#363636">0</text>
<text x="305.03" y="125.25" font-size="8.3" text-anchor="middle" fill="#363636">0.5</text>
<text x="319.57" y="125.25" font-size="8.3" text-anchor="middle" fill="#363636">1</text>
<text x="334.11" y="125.25" font-size="8.3" text-anchor="middle" fill="#363636">1.5</text>
<text x="348.66" y="125.25" font-size="8.3" text-anchor="middle" fill="#363636">2</text>
<text x="363.2" y="125.25" font-size="8.3" text-anchor="middle" fill="#363636">2.5</text>
<text x="377.75" y="125.25" font-size="8.3" text-anchor="middle" fill="#363636">3</text>
<text x="337.7" y="31.75" font-size="10" text-anchor="middle" textLength="16.4" lengthAdjust="spacingAndGlyphs">NT3</text>
<g transform="translate(288.3,134.1)"><ellipse cx="1.3" cy="-1" rx="1.35" ry="0.95" transform="rotate(-20 1.3 -1)" fill="#111"/><path d="M2.45,-1.2 V-5.6 C3.2,-4.6 4.5,-4 4.2,-2.3" fill="none" stroke="#111" stroke-width="0.6"/></g>
<g transform="translate(299.15,134.1)"><ellipse cx="1.3" cy="-1" rx="1.35" ry="0.95" transform="rotate(-20 1.3 -1)" fill="#111"/><path d="M2.45,-1.2 V-5.6 C3.2,-4.6 4.5,-4 4.2,-2.3" fill="none" stroke="#111" stroke-width="0.6"/></g>
<g transform="translate(310,134.1)"><ellipse cx="1.3" cy="-1" rx="1.35" ry="0.95" transform="rotate(-20 1.3 -1)" fill="#111"/><path d="M2.45,-1.2 V-5.6 C3.2,-4.6 4.5,-4 4.2,-2.3" fill="none" stroke="#111" stroke-width="0.6"/></g>
<g transform="translate(320.85,134.1)"><ellipse cx="1.3" cy="-1" rx="1.35" ry="0.95" transform="rotate(-20 1.3 -1)" fill="#111"/><path d="M2.45,-1.2 V-5.6 C3.2,-4.6 4.5,-4 4.2,-2.3" fill="none" stroke="#111" stroke-width="0.6"/></g>
<path d="M319.55,135.25v1h7.4v-1" fill="none" stroke="#1c268c" stroke-width="0.65" opacity="0.75"/>
<g transform="translate(331.7,134.1)"><ellipse cx="1.3" cy="-1" rx="1.35" ry="0.95" transform="rotate(-20 1.3 -1)" fill="#111"/><path d="M2.45,-1.2 V-5.6 C3.2,-4.6 4.5,-4 4.2,-2.3" fill="none" stroke="#111" stroke-width="0.6"/></g>
<path d="M330.4,135.25v1h7.4v-1" fill="none" stroke="#1c268c" stroke-width="0.65" opacity="0.75"/>
<path d="M310.06,168.5V266.35M317.31,168.5V266.35M331.82,168.5V266.35M339.07,168.5V266.35M346.33,168.5V266.35M353.58,168.5V266.35M368.09,168.5V266.35M304.3,263.09H371.7M304.3,259.83H371.7M304.3,256.57H371.7M304.3,253.3H371.7M304.3,246.78H371.7M304.3,243.52H371.7M304.3,240.26H371.7M304.3,237H371.7M304.3,230.47H371.7M304.3,227.21H371.7M304.3,223.95H371.7M304.3,220.69H371.7M304.3,214.16H371.7M304.3,210.9H371.7M304.3,207.64H371.7M304.3,204.38H371.7M304.3,197.86H371.7M304.3,194.59H371.7M304.3,191.33H371.7M304.3,188.07H371.7M304.3,181.55H371.7M304.3,178.28H371.7M304.3,175.02H371.7M304.3,171.76H371.7" stroke="#ececec" stroke-width="0.45" stroke-dasharray="1 0.6" fill="none"/>
<path d="M324.56,168.5V266.35M360.84,168.5V266.35M304.3,184.81H371.7M304.3,201.12H371.7M304.3,217.43H371.7M304.3,233.73H371.7M304.3,250.04H371.7" stroke="#e8e8e8" stroke-width="0.5" fill="none"/>
<path d="M324.6,174.9L324.5,174.9 324.5,175.4 324.5,175.9 324.5,176.4 324.5,176.9 324.5,177.4 324.5,177.9 324.5,178.4 324.5,178.9 324.5,179.4 324.5,179.9 324.5,180.4 324.5,180.9 324.5,181.4 324.5,181.9 324.5,182.4 324.5,182.9 324.5,183.4 324.4,183.9 324.4,184.4 324.4,184.9 324.4,185.4 324.4,185.9 324.4,186.5 324.4,187 324.4,187.5 324.4,188 324.4,188.5 324.3,189 324.3,189.5 324.3,190 324.2,190.5 324.1,191 324,191.5 323.8,192 323.6,192.5 323.3,193 323,193.5 322.6,194 322.2,194.5 321.7,195 321.2,195.5 320.6,196 320,196.5 319.3,197 318.5,197.5 317.8,198 317,198.5 316.2,199 315.3,199.5 314.5,200 313.6,200.5 312.8,201 311.9,201.5 311.1,202 310.3,202.5 309.5,203 308.8,203.5 308.1,204 307.5,204.5 306.9,205 306.4,205.5 306,206 305.7,206.5 305.5,207 305.4,207.5 305.4,208 305.5,208.5 305.6,209 305.9,209.5 306.2,210 306.5,210.5 306.9,211 307.3,211.5 307.8,212 308.3,212.5 308.8,213 309.3,213.5 309.8,214 310.3,214.6 310.9,215.1 311.4,215.6 312,216.1 312.5,216.6 313.1,217.1 313.7,217.6 314.2,218.1 314.8,218.6 315.3,219.1 315.9,219.6 316.4,220.1 316.9,220.6 317.4,221.1 317.9,221.6 318.4,222.1 318.8,222.6 319.3,223.1 319.7,223.6 320.1,224.1 320.4,224.6 320.8,225.1 321.1,225.6 321.4,226.1 321.7,226.6 322,227.1 322.3,227.6 322.5,228.1 322.7,228.6 322.9,229.1 323.1,229.6 323.3,230.1 323.4,230.6 323.6,231.1 323.7,231.6 323.7,232.1 323.8,232.6 323.9,233.1 323.9,233.6 323.9,234.1 323.9,234.6 323.9,235.1 323.9,235.6 323.9,236.1 323.9,236.6 323.9,237.1 323.9,237.6 323.9,238.1 323.9,238.6 323.9,239.1 324,239.6 324,240.1 324,240.6 324,241.1 324.1,241.6 324.1,242.1 324.1,242.7 324.2,243.2 324.2,243.7 324.2,244.2 324.3,244.7 324.3,245.2 324.3,245.7 324.3,246.2 324.4,246.7 324.4,247.2 324.4,247.7 324.4,248.2 324.4,248.7 324.4,249.2 324.5,249.7 324.5,250.2 324.5,250.7 324.5,251.2 324.6,251.2Z" fill="#0000cd"/>
<path d="M331.3,210.1h0M332.2,198.2h0M330.1,205.4h0M331.8,210h0M328.4,217.6h0M331.6,220.4h0M329.4,210.3h0M332.2,212.9h0M332,221.1h0M332.5,213.4h0M332.4,211h0M332.9,208h0M329.3,206.2h0M332.2,212h0M333.3,200.6h0M329.8,211.6h0M330.8,207h0M328.5,221.7h0M328.4,212.4h0M333.9,212.7h0M328.3,205h0M334.2,201.6h0M330.7,204.7h0M329.1,208.6h0M328.2,208h0M334.2,199.7h0M328.3,212.1h0M332.7,202.9h0M328.5,208.8h0M333.5,215.7h0M332.1,198.7h0M333.9,208.9h0M328.3,217.5h0M332.2,208.9h0M330.1,198.5h0M333.5,200.9h0M331.7,214.5h0M332.4,212.1h0M332.2,211.8h0M330.6,207.7h0M333,222h0M330,206.4h0M333.3,217.5h0M331.9,209.4h0M331.9,218.9h0M330.5,202h0M333.7,212.7h0M328.2,204.1h0M330.8,214.6h0M328.5,214.3h0M333.5,218.4h0M329.9,201.9h0M332.4,218.3h0M328.7,205.8h0M332.8,211.4h0M331.9,202.7h0M329.5,209h0M332.8,207.6h0M328.7,208.8h0M329.6,217.3h0M331.4,218h0M331.8,204.8h0M332.5,211.5h0M331.7,213.2h0M328.5,208h0M328.8,206.5h0M329.2,217.7h0M330.3,210.2h0M334.3,211.7h0M331.7,209.6h0M329.8,183.9h0M333,225.8h0M330.8,237.1h0M334,241.6h0" stroke="#2232de" stroke-width="1.05" stroke-linecap="round" opacity="0.85"/>
<circle cx="324.56" cy="210.5" r="1.05" fill="#0a0a3a"/>
<path d="M360.8,183.9L360.7,183.9 360.7,184.5 360.7,185 360.7,185.5 360.7,186 360.6,186.5 360.6,187 360.5,187.5 360.4,188 360.3,188.5 360.2,189 360,189.5 359.7,190 359.5,190.5 359.2,191 358.9,191.5 358.5,192 358.1,192.5 357.7,193 357.2,193.5 356.7,194 356.2,194.5 355.7,195 355.1,195.5 354.5,196 353.9,196.5 353.3,197 352.7,197.5 352.2,198 351.6,198.5 351,199 350.4,199.5 349.9,200.1 349.4,200.6 348.9,201.1 348.4,201.6 347.9,202.1 347.5,202.6 347,203.1 346.6,203.6 346.2,204.1 345.9,204.6 345.5,205.1 345.2,205.6 344.9,206.1 344.7,206.6 344.4,207.1 344.2,207.6 344.1,208.1 343.9,208.6 343.9,209.1 343.8,209.6 343.8,210.1 343.8,210.6 343.9,211.1 344,211.6 344.2,212.1 344.3,212.6 344.6,213.1 344.8,213.6 345.1,214.1 345.4,214.6 345.8,215.2 346.2,215.7 346.6,216.2 347,216.7 347.4,217.2 347.9,217.7 348.4,218.2 348.9,218.7 349.5,219.2 350,219.7 350.6,220.2 351.2,220.7 351.8,221.2 352.4,221.7 353,222.2 353.5,222.7 354.1,223.2 354.6,223.7 355.2,224.2 355.7,224.7 356.1,225.2 356.6,225.7 357,226.2 357.4,226.7 357.8,227.2 358.1,227.7 358.4,228.2 358.7,228.7 359,229.2 359.2,229.7 359.4,230.2 359.6,230.8 359.7,231.3 359.9,231.8 360,232.3 360.1,232.8 360.2,233.3 360.2,233.8 360.3,234.3 360.3,234.8 360.4,235.3 360.4,235.8 360.4,236.3 360.5,236.8 360.5,237.3 360.5,237.8 360.6,238.3 360.6,238.8 360.6,239.3 360.6,239.8 360.6,240.3 360.7,240.8 360.7,241.3 360.7,241.8 360.7,242.3 360.7,242.8 360.8,243.3 360.8,243.8 360.8,243.8Z" fill="#0000cd"/>
<path d="M370.4,220.6h0M364.7,209.9h0M364.8,210.5h0M369.8,211.5h0M364.9,219.5h0M366.9,206.3h0M367.9,213.2h0M368.6,224.5h0M367.2,208.8h0M365.8,224h0M366,206.6h0M369.6,218.1h0M369.3,203.9h0M370.5,215.8h0M370.3,214.6h0M368.1,205.9h0M366.5,200.5h0M365.2,215.9h0M365.3,211.4h0M368.9,197.9h0M364.7,212.7h0M370.2,203.7h0M365.3,222.6h0M369.7,218.6h0M366.6,210.3h0M368.3,211h0M365.8,215.9h0M365.4,208.4h0M367,205h0M366.1,203.9h0M365.5,207h0M365.2,205.5h0M370,199.1h0M367.4,203.5h0M366.1,219h0M370.6,200.2h0M366.2,200.3h0M368.9,199.1h0M370.5,220.6h0M365.3,211.2h0M369.6,205.7h0M370.1,211.7h0M368,214.3h0M368.9,213.1h0M365,217h0M366.2,205.4h0M368.2,206.2h0M368.1,220.4h0M367,216.7h0M369.5,199.1h0M369.7,212.8h0M364.6,211.4h0M369.8,211h0M366.7,213.2h0M366.8,217.9h0M367.2,215.4h0M365.2,209.9h0M369.8,220.6h0M369.1,208.6h0M369.8,205.2h0M367.6,211.5h0M370.4,208.8h0M365.6,209.5h0M364.6,209.7h0M368.8,218.4h0M368,216h0M368.8,210.4h0M364.7,214.8h0M367.5,204.2h0M367,209.3h0M365.3,193h0M368.1,232h0" stroke="#2232de" stroke-width="1.05" stroke-linecap="round" opacity="0.85"/>
<circle cx="360.84" cy="209.71" r="1.05" fill="#0a0a3a"/>
<path d="M324.56,266.35v-1.2M324.56,168.5v1.2M360.84,266.35v-1.2M360.84,168.5v1.2M304.3,168.5h1.2M371.7,168.5h-1.2M304.3,184.81h1.2M371.7,184.81h-1.2M304.3,201.12h1.2M371.7,201.12h-1.2M304.3,217.43h1.2M371.7,217.43h-1.2M304.3,233.73h1.2M371.7,233.73h-1.2M304.3,250.04h1.2M371.7,250.04h-1.2M304.3,266.35h1.2M371.7,266.35h-1.2" stroke="#555" stroke-width="0.5" fill="none"/>
<rect x="304.3" y="168.5" width="67.4" height="97.85" fill="none" stroke="#a0a0a0" stroke-width="0.7"/>
<text transform="translate(302.1 172) scale(0.92 1)" font-size="8.8" text-anchor="end" fill="#363636">200</text>
<text transform="translate(302.1 188.31) scale(0.92 1)" font-size="8.8" text-anchor="end" fill="#363636">100</text>
<text transform="translate(302.1 204.62) scale(0.92 1)" font-size="8.8" text-anchor="end" fill="#363636">0</text>
<text transform="translate(302.1 220.93) scale(0.92 1)" font-size="8.8" text-anchor="end" fill="#363636">-100</text>
<text transform="translate(302.1 237.23) scale(0.92 1)" font-size="8.8" text-anchor="end" fill="#363636">-200</text>
<text transform="translate(302.1 253.54) scale(0.92 1)" font-size="8.8" text-anchor="end" fill="#363636">-300</text>
<text transform="translate(302.1 269.85) scale(0.92 1)" font-size="8.8" text-anchor="end" fill="#363636">-400</text>
<text transform="translate(324.56 273.6) scale(0.92 1)" font-size="8.8" text-anchor="middle" fill="#363636">4</text>
<text transform="translate(360.84 273.6) scale(0.92 1)" font-size="8.8" text-anchor="middle" fill="#363636">5</text>
<text x="338" y="166.1" font-size="7.6" text-anchor="middle" font-weight="bold" fill="#000" textLength="11.4" lengthAdjust="spacingAndGlyphs" stroke="#000" stroke-width="0.5">n.s.</text>
<text x="600.25" y="14.9" font-size="10.3" text-anchor="middle" font-weight="bold" fill="#000" textLength="93" lengthAdjust="spacingAndGlyphs" stroke="#000" stroke-width="0.5">Right Heschl’s gyrus</text>
<path d="M435.48,37.4V117.4M441.33,37.4V117.4M444.26,37.4V117.4M447.19,37.4V117.4M450.12,37.4V117.4M455.98,37.4V117.4M458.91,37.4V117.4M461.84,37.4V117.4M464.76,37.4V117.4M470.62,37.4V117.4M473.55,37.4V117.4M476.48,37.4V117.4M479.41,37.4V117.4M485.27,37.4V117.4M488.2,37.4V117.4M491.12,37.4V117.4M494.05,37.4V117.4M499.91,37.4V117.4M502.84,37.4V117.4M505.77,37.4V117.4M508.7,37.4V117.4M514.55,37.4V117.4M517.48,37.4V117.4M520.41,37.4V117.4M523.34,37.4V117.4M529.2,37.4V117.4M532.13,37.4V117.4M535.06,37.4V117.4M435.3,108.51H537.4M435.3,104.07H537.4M435.3,99.62H537.4M435.3,90.73H537.4M435.3,86.29H537.4M435.3,81.84H537.4M435.3,72.96H537.4M435.3,68.51H537.4M435.3,64.07H537.4M435.3,55.18H537.4M435.3,50.73H537.4M435.3,46.29H537.4" stroke="#ececec" stroke-width="0.45" stroke-dasharray="1 0.6" fill="none"/>
<path d="M438.4,37.4V117.4M453.05,37.4V117.4M467.69,37.4V117.4M482.34,37.4V117.4M496.98,37.4V117.4M511.63,37.4V117.4M526.27,37.4V117.4M435.3,41.84H537.4M435.3,59.62H537.4M435.3,77.4H537.4M435.3,95.18H537.4M435.3,112.96H537.4" stroke="#e8e8e8" stroke-width="0.5" fill="none"/>
<g transform="translate(494.9,86.4)"><path d="M0.3,7.5 C0.3,4 3,1.2 7,0.5 C11,-0.1 15.5,0.5 18,2.8 C19.8,4.5 20.2,7 19.4,8.8 C18.6,10.2 16.8,10.6 15,10.9 C13.5,11.2 12.5,11.6 11.5,12.3 C10.5,13.2 9,13.2 8.3,12.4 C6.5,11.9 4,11.6 2.3,10.6 C1,9.8 0.3,8.8 0.3,7.5 Z" fill="url(#glat)" stroke="#454545" stroke-width="0.9"/><path d="M10.4,6.5Q9.3,7 8.1,7.1M5.6,4.9Q4.3,6 4.3,7.8M3.9,8.5Q4.2,9.9 3,9.8M11.8,7Q12.5,6.6 13.1,7.7M3.8,3.7Q4.9,4.3 6.3,3.9M10.3,6.2Q10.2,7.2 10.3,9M19.2,10.3Q17.7,10.5 16.7,11.7M7.5,1.4Q7.2,2 5.8,2.9M16.4,9.5Q18,9.5 18.3,9.6M16.3,5Q18.1,4.9 19,5.6M4.9,4.5Q2.8,4.3 1.9,4.8M4.4,1.5Q3.7,2 2.9,2.6M3.8,7.9Q4.4,8.3 6.3,9M7,3.9Q5.1,4.7 3.9,4.2M6.6,4.6Q4.7,6 4.1,5.9M6.2,3.2Q5.1,3.3 4.6,4.7M2.5,6.1Q3.2,7 4.4,8M17.7,4.5Q16.8,5.5 17,7.7M15.9,8.6Q16.9,10 17.2,9.9M6.4,10Q5,9.9 3.9,11M1.6,9.7Q2.2,11.2 3.7,11.6M10.3,3.5Q10.9,3.9 12.8,5.1" clip-path="url(#cl)" fill="none" stroke="#666" stroke-width="0.5"/></g>
<g transform="translate(535.7,86.4) scale(-1,1)"><path d="M0.3,7.5 C0.3,4 3,1.2 7,0.5 C11,-0.1 15.5,0.5 18,2.8 C19.8,4.5 20.2,7 19.4,8.8 C18.6,10.2 16.8,10.6 15,10.9 C13.5,11.2 12.5,11.6 11.5,12.3 C10.5,13.2 9,13.2 8.3,12.4 C6.5,11.9 4,11.6 2.3,10.6 C1,9.8 0.3,8.8 0.3,7.5 Z" fill="url(#glat)" stroke="#454545" stroke-width="0.9"/><path d="M10.4,6.5Q9.3,7 8.1,7.1M5.6,4.9Q4.3,6 4.3,7.8M3.9,8.5Q4.2,9.9 3,9.8M11.8,7Q12.5,6.6 13.1,7.7M3.8,3.7Q4.9,4.3 6.3,3.9M10.3,6.2Q10.2,7.2 10.3,9M19.2,10.3Q17.7,10.5 16.7,11.7M7.5,1.4Q7.2,2 5.8,2.9M16.4,9.5Q18,9.5 18.3,9.6M16.3,5Q18.1,4.9 19,5.6M4.9,4.5Q2.8,4.3 1.9,4.8M4.4,1.5Q3.7,2 2.9,2.6M3.8,7.9Q4.4,8.3 6.3,9M7,3.9Q5.1,4.7 3.9,4.2M6.6,4.6Q4.7,6 4.1,5.9M6.2,3.2Q5.1,3.3 4.6,4.7M2.5,6.1Q3.2,7 4.4,8M17.7,4.5Q16.8,5.5 17,7.7M15.9,8.6Q16.9,10 17.2,9.9M6.4,10Q5,9.9 3.9,11M1.6,9.7Q2.2,11.2 3.7,11.6M10.3,3.5Q10.9,3.9 12.8,5.1" clip-path="url(#cl)" fill="none" stroke="#666" stroke-width="0.5"/><path d="M8.6,9.3 C9.5,8.2 11,7.3 12.1,7.2 C12.4,7.8 11,8.9 9.6,9.7 Z" fill="#f01c1c" stroke="#f01c1c" stroke-width="0.6"/></g>
<g transform="translate(514.9,100.75) scale(-1,1)"><path d="M0.4,8.3 C0.3,5 2.5,2.2 6.5,1 C10,0 14.5,0.3 17.3,2.3 C19.6,4 20.2,7 19.4,9 C18.7,10.3 17.2,10.9 15.6,11.3 C14.9,12.5 13.8,13.5 12.6,13.6 C11.3,13.7 10.6,12.8 10.1,12.1 C8,12 5,11.9 3,11.2 C1.4,10.6 0.5,9.6 0.4,8.3 Z" fill="url(#gmed)" stroke="#707070" stroke-width="0.8"/><path d="M4.5,8 C5.5,4.8 9,3.6 12,3.8 C15,4.1 16.5,5.8 16.5,7.8 C14,7 11,6.8 8,7.3 C6.5,7.6 5.2,7.8 4.5,8 Z" fill="#cbcbcb"/><path d="M11.3,8.7L10.6,10.5M15.7,3.4L17.6,3.5M8.3,1.5L10,2.6M10.6,1.5L11.7,4M18.4,6.8L17,8.7M2.8,1.8L5.7,1.9M12,10.6L14.4,10.7M8.9,7.2L10.5,9.7M4.2,5.6L2.2,7.7M14.9,7.3L12.6,9.1" clip-path="url(#cm)" fill="none" stroke="#8c8c8c" stroke-width="0.45"/><path d="M9.8,11.6 C10.8,12.8 12.5,13.2 14.5,11.8 C13.5,11 11.5,10.8 9.8,11.6 Z" fill="#808080"/></g>
<g transform="translate(515.7,100.75)"><path d="M0.4,8.3 C0.3,5 2.5,2.2 6.5,1 C10,0 14.5,0.3 17.3,2.3 C19.6,4 20.2,7 19.4,9 C18.7,10.3 17.2,10.9 15.6,11.3 C14.9,12.5 13.8,13.5 12.6,13.6 C11.3,13.7 10.6,12.8 10.1,12.1 C8,12 5,11.9 3,11.2 C1.4,10.6 0.5,9.6 0.4,8.3 Z" fill="url(#gmed)" stroke="#707070" stroke-width="0.8"/><path d="M4.5,8 C5.5,4.8 9,3.6 12,3.8 C15,4.1 16.5,5.8 16.5,7.8 C14,7 11,6.8 8,7.3 C6.5,7.6 5.2,7.8 4.5,8 Z" fill="#cbcbcb"/><path d="M11.3,8.7L10.6,10.5M15.7,3.4L17.6,3.5M8.3,1.5L10,2.6M10.6,1.5L11.7,4M18.4,6.8L17,8.7M2.8,1.8L5.7,1.9M12,10.6L14.4,10.7M8.9,7.2L10.5,9.7M4.2,5.6L2.2,7.7M14.9,7.3L12.6,9.1" clip-path="url(#cm)" fill="none" stroke="#8c8c8c" stroke-width="0.45"/><path d="M9.8,11.6 C10.8,12.8 12.5,13.2 14.5,11.8 C13.5,11 11.5,10.8 9.8,11.6 Z" fill="#808080"/></g>
<path d="M435.6,58.1 436.3,60.7 437.6,58.8 438.9,57.5 440.2,48.4 440.9,62 441.8,111.4 442.5,62 443.4,49 444.8,54.2 446.7,62 448.6,71.1 450.6,80.2 451.9,84.1 452.6,71.1 453.5,86 455.1,71.1 456.4,68.5 458.4,69.2 460.4,70.4 461.6,77.6 462.9,58.8 463.9,73.7 464.9,85.1 466.2,67.2 467.5,62.7 468.8,59.4 470.8,65.2 472.7,70.4 474,53.5 475.3,75 475.9,79.5 477.2,68.5 479.2,57.5 481.1,63.3 483.1,69.8 485.4,56.8 486.7,79.3 488.3,67.2 489.6,62 490.9,64.9 492.2,67.2 494.1,71.8 496.1,68.5 498.1,64.6 500,54.2 501.3,51.3 502.6,50.3 504.2,50.4 505.9,48.4 507.1,48.1 508.4,49 510.4,51.6 511.7,54 513,54.2 514.6,54.6 516.2,57.5 517.9,59.2 519.5,59.4 520.8,59 522.1,61.4 523.4,60.7 524.7,61.1 526,63.3 527.3,64.4 528.6,64 529.9,61.8 531.2,62 532.5,63.4 533.8,62.6 535.5,61.2 537.1,61.3" fill="none" stroke="#b0d4e6" stroke-width="2.0" stroke-linejoin="round" opacity="0.7"/>
<path d="M435.6,58.1 436.3,60.7 437.6,58.8 438.9,57.5 440.2,48.4 440.9,62 441.8,111.4 442.5,62 443.4,49 444.8,54.2 446.7,62 448.6,71.1 450.6,80.2 451.9,84.1 452.6,71.1 453.5,86 455.1,71.1 456.4,68.5 458.4,69.2 460.4,70.4 461.6,77.6 462.9,58.8 463.9,73.7 464.9,85.1 466.2,67.2 467.5,62.7 468.8,59.4 470.8,65.2 472.7,70.4 474,53.5 475.3,75 475.9,79.5 477.2,68.5 479.2,57.5 481.1,63.3 483.1,69.8 485.4,56.8 486.7,79.3 488.3,67.2 489.6,62 490.9,64.9 492.2,67.2 494.1,71.8 496.1,68.5 498.1,64.6 500,54.2 501.3,51.3 502.6,50.3 504.2,50.4 505.9,48.4 507.1,48.1 508.4,49 510.4,51.6 511.7,54 513,54.2 514.6,54.6 516.2,57.5 517.9,59.2 519.5,59.4 520.8,59 522.1,61.4 523.4,60.7 524.7,61.1 526,63.3 527.3,64.4 528.6,64 529.9,61.8 531.2,62 532.5,63.4 533.8,62.6 535.5,61.2 537.1,61.3" fill="none" stroke="#3c8ab6" stroke-width="0.6" stroke-linejoin="round"/>
<circle cx="454.11" cy="86.05" r="3.55" fill="none" stroke="#ee1c25" stroke-width="0.9"/>
<circle cx="465.16" cy="85.14" r="3.55" fill="none" stroke="#ee1c25" stroke-width="0.9"/>
<circle cx="475.95" cy="79.55" r="3.55" fill="none" stroke="#ee1c25" stroke-width="0.9"/>
<circle cx="486.61" cy="79.29" r="3.55" fill="none" stroke="#ee1c25" stroke-width="0.9"/>
<path d="M438.4,117.4v-1.2M438.4,37.4v1.2M453.05,117.4v-1.2M453.05,37.4v1.2M467.69,117.4v-1.2M467.69,37.4v1.2M482.34,117.4v-1.2M482.34,37.4v1.2M496.98,117.4v-1.2M496.98,37.4v1.2M511.63,117.4v-1.2M511.63,37.4v1.2M526.27,117.4v-1.2M526.27,37.4v1.2M435.3,41.84h1.2M537.4,41.84h-1.2M435.3,59.62h1.2M537.4,59.62h-1.2M435.3,77.4h1.2M537.4,77.4h-1.2M435.3,95.18h1.2M537.4,95.18h-1.2M435.3,112.96h1.2M537.4,112.96h-1.2" stroke="#555" stroke-width="0.5" fill="none"/>
<rect x="435.3" y="37.4" width="102.1" height="80" fill="none" stroke="#a0a0a0" stroke-width="0.7"/>
<text x="433" y="44.24" font-size="8.2" text-anchor="end" fill="#363636">40</text>
<text x="433" y="62.02" font-size="8.2" text-anchor="end" fill="#363636">0</text>
<text x="433" y="79.8" font-size="8.2" text-anchor="end" fill="#363636">-40</text>
<text x="433" y="97.58" font-size="8.2" text-anchor="end" fill="#363636">-80</text>
<text x="433" y="115.36" font-size="8.2" text-anchor="end" fill="#363636">-120</text>
<text x="438.4" y="125.25" font-size="8.3" text-anchor="middle" fill="#363636">0</text>
<text x="453.05" y="125.25" font-size="8.3" text-anchor="middle" fill="#363636">0.5</text>
<text x="467.69" y="125.25" font-size="8.3" text-anchor="middle" fill="#363636">1</text>
<text x="482.34" y="125.25" font-size="8.3" text-anchor="middle" fill="#363636">1.5</text>
<text x="496.98" y="125.25" font-size="8.3" text-anchor="middle" fill="#363636">2</text>
<text x="511.63" y="125.25" font-size="8.3" text-anchor="middle" fill="#363636">2.5</text>
<text x="526.27" y="125.25" font-size="8.3" text-anchor="middle" fill="#363636">3</text>
<text x="485.95" y="31.75" font-size="10" text-anchor="middle" textLength="16.4" lengthAdjust="spacingAndGlyphs">NT1</text>
<g transform="translate(436.2,134.1)"><ellipse cx="1.3" cy="-1" rx="1.35" ry="0.95" transform="rotate(-20 1.3 -1)" fill="#111"/><path d="M2.45,-1.2 V-5.6 C3.2,-4.6 4.5,-4 4.2,-2.3" fill="none" stroke="#111" stroke-width="0.6"/></g>
<g transform="translate(447.05,134.1)"><ellipse cx="1.3" cy="-1" rx="1.35" ry="0.95" transform="rotate(-20 1.3 -1)" fill="#111"/><path d="M2.45,-1.2 V-5.6 C3.2,-4.6 4.5,-4 4.2,-2.3" fill="none" stroke="#111" stroke-width="0.6"/></g>
<path d="M445.75,135.25v1h7.4v-1" fill="none" stroke="#3c8ab6" stroke-width="0.65" opacity="0.75"/>
<g transform="translate(457.9,134.1)"><ellipse cx="1.3" cy="-1" rx="1.35" ry="0.95" transform="rotate(-20 1.3 -1)" fill="#111"/><path d="M2.45,-1.2 V-5.6 C3.2,-4.6 4.5,-4 4.2,-2.3" fill="none" stroke="#111" stroke-width="0.6"/></g>
<path d="M456.6,135.25v1h7.4v-1" fill="none" stroke="#3c8ab6" stroke-width="0.65" opacity="0.75"/>
<g transform="translate(468.75,134.1)"><ellipse cx="1.3" cy="-1" rx="1.35" ry="0.95" transform="rotate(-20 1.3 -1)" fill="#111"/><path d="M2.45,-1.2 V-5.6 C3.2,-4.6 4.5,-4 4.2,-2.3" fill="none" stroke="#111" stroke-width="0.6"/></g>
<path d="M467.45,135.25v1h7.4v-1" fill="none" stroke="#3c8ab6" stroke-width="0.65" opacity="0.75"/>
<g transform="translate(479.6,134.1)"><ellipse cx="1.3" cy="-1" rx="1.35" ry="0.95" transform="rotate(-20 1.3 -1)" fill="#111"/><path d="M2.45,-1.2 V-5.6 C3.2,-4.6 4.5,-4 4.2,-2.3" fill="none" stroke="#111" stroke-width="0.6"/></g>
<path d="M478.3,135.25v1h7.4v-1" fill="none" stroke="#3c8ab6" stroke-width="0.65" opacity="0.75"/>
<text x="486.5" y="148.8" font-size="9.5" text-anchor="middle" textLength="31.6" lengthAdjust="spacingAndGlyphs">Time (s)</text>
<text x="415.6" y="79" font-size="9.4" text-anchor="middle" textLength="84.7" lengthAdjust="spacingAndGlyphs" transform="rotate(-90 415.6 79)">Neural activity index</text>
<path d="M453.58,168.5V266.35M456.86,168.5V266.35M463.41,168.5V266.35M466.69,168.5V266.35M469.97,168.5V266.35M473.24,168.5V266.35M479.8,168.5V266.35M483.07,168.5V266.35M486.35,168.5V266.35M489.63,168.5V266.35M496.18,168.5V266.35M499.46,168.5V266.35M502.73,168.5V266.35M506.01,168.5V266.35M512.56,168.5V266.35M515.84,168.5V266.35M519.12,168.5V266.35M452.5,263.09H520.4M452.5,259.83H520.4M452.5,256.57H520.4M452.5,253.3H520.4M452.5,246.78H520.4M452.5,243.52H520.4M452.5,240.26H520.4M452.5,237H520.4M452.5,230.47H520.4M452.5,227.21H520.4M452.5,223.95H520.4M452.5,220.69H520.4M452.5,214.16H520.4M452.5,210.9H520.4M452.5,207.64H520.4M452.5,204.38H520.4M452.5,197.86H520.4M452.5,194.59H520.4M452.5,191.33H520.4M452.5,188.07H520.4M452.5,181.55H520.4M452.5,178.28H520.4M452.5,175.02H520.4M452.5,171.76H520.4" stroke="#ececec" stroke-width="0.45" stroke-dasharray="1 0.6" fill="none"/>
<path d="M460.14,168.5V266.35M476.63,168.5V266.35M492.9,168.5V266.35M509.29,168.5V266.35M452.5,184.81H520.4M452.5,201.12H520.4M452.5,217.43H520.4M452.5,233.73H520.4M452.5,250.04H520.4" stroke="#e8e8e8" stroke-width="0.5" fill="none"/>
<path d="M460.1,181.7L460,181.7 460,182.2 460,182.7 460,183.2 459.9,183.7 459.9,184.2 459.8,184.7 459.8,185.2 459.7,185.7 459.6,186.2 459.5,186.7 459.4,187.2 459.3,187.7 459.1,188.2 458.9,188.7 458.7,189.2 458.5,189.7 458.3,190.2 458.1,190.7 457.8,191.2 457.6,191.7 457.3,192.2 457.1,192.7 456.9,193.2 456.6,193.7 456.4,194.2 456.1,194.7 455.9,195.2 455.6,195.8 455.4,196.3 455.1,196.8 454.9,197.3 454.7,197.8 454.5,198.3 454.3,198.8 454.1,199.3 453.9,199.8 453.7,200.3 453.6,200.8 453.4,201.3 453.3,201.8 453.2,202.3 453.1,202.8 453,203.3 453,203.8 452.9,204.3 452.9,204.8 452.9,205.3 452.9,205.8 453,206.3 453,206.8 453.1,207.3 453.2,207.8 453.3,208.3 453.4,208.8 453.5,209.3 453.6,209.8 453.7,210.3 453.9,210.8 454,211.3 454.1,211.8 454.3,212.3 454.4,212.8 454.6,213.3 454.7,213.8 454.9,214.3 455,214.8 455.2,215.3 455.3,215.8 455.5,216.3 455.7,216.8 455.8,217.3 456,217.8 456.1,218.3 456.3,218.9 456.4,219.4 456.6,219.9 456.7,220.4 456.9,220.9 457,221.4 457.1,221.9 457.3,222.4 457.4,222.9 457.5,223.4 457.6,223.9 457.8,224.4 457.9,224.9 458,225.4 458.1,225.9 458.2,226.4 458.3,226.9 458.4,227.4 458.5,227.9 458.6,228.4 458.7,228.9 458.8,229.4 458.8,229.9 458.9,230.4 459,230.9 459.1,231.4 459.1,231.9 459.2,232.4 459.2,232.9 459.3,233.4 459.3,233.9 459.4,234.4 459.5,234.9 459.5,235.4 459.6,235.9 459.6,236.4 459.7,236.9 459.7,237.4 459.7,237.9 459.8,238.4 459.8,238.9 459.8,239.4 459.9,239.9 459.9,240.4 459.9,240.9 459.9,241.5 460,242 460,242.5 460,243 460,243.5 460,244 460,244.5 460,245 460,245.5 460.1,246 460.1,246.5 460.1,247 460.1,247.5 460.1,248 460.1,248.5 460.1,249 460.1,249.5 460.1,249.5Z" fill="#0000cd"/>
<path d="M462.7,212.5h0M464.3,220.5h0M461.9,226.9h0M464.4,208.1h0M462.9,204.5h0M463.3,208.8h0M461.8,202.6h0M464.5,212.4h0M463.5,230.2h0M464.2,228.2h0M463.7,206.3h0M463.3,205.6h0M462.5,218.4h0M462.6,195.4h0M463.6,215.5h0M463.2,196.5h0M463.1,200.7h0M462.1,211.3h0M462.9,211.9h0M463.3,209.5h0M463.4,218h0M463.8,202.8h0M463.3,212h0M462.6,212.7h0M462.8,210.7h0M461.8,216.7h0M463.3,212.3h0M462.6,205.9h0M463.9,206.3h0M463,220.9h0M462.9,214.5h0M462.4,209.1h0M462.2,222.8h0M462.8,206.4h0M464.1,218.2h0M463.8,214.6h0M463.1,223.6h0M464.3,221.7h0M463.9,209.8h0M463.2,209h0M462.9,216.6h0M463.5,227.8h0M463.8,202.8h0M462.9,211.4h0M464,205.3h0M463,213.9h0M462.6,213h0M462,202.1h0M464.1,207.3h0M462.3,231h0M464.3,205.6h0M463.2,217h0M463.3,224.1h0M463.2,214.5h0M462.8,209.8h0M462.8,211.7h0M463.2,220.5h0M463.3,204.9h0M464.2,213.8h0M463,213.4h0M462.7,232.4h0M462.7,210.9h0M463.2,226h0M464.3,205.9h0M464.5,225.8h0M462.2,210.9h0M462.3,202h0M463.5,208.8h0M464.5,208.4h0M462.9,196.8h0M464,186.2h0M462.6,191.9h0M463.7,235.9h0" stroke="#2232de" stroke-width="1.05" stroke-linecap="round" opacity="0.85"/>
<circle cx="460.14" cy="209.37" r="1.05" fill="#0a0a3a"/>
<path d="M476.6,176.6L476.6,176.6 476.6,177.1 476.6,177.6 476.6,178.1 476.6,178.6 476.5,179.1 476.5,179.6 476.5,180.1 476.5,180.6 476.5,181.1 476.5,181.6 476.5,182.1 476.5,182.6 476.4,183.1 476.4,183.6 476.4,184.1 476.4,184.6 476.4,185.1 476.3,185.6 476.3,186.1 476.2,186.6 476.2,187.1 476.1,187.6 476,188.1 475.9,188.6 475.7,189.1 475.5,189.6 475.3,190.1 475.1,190.6 474.9,191.1 474.6,191.6 474.4,192.1 474.1,192.6 473.9,193.1 473.6,193.6 473.4,194.1 473.1,194.6 472.8,195.1 472.6,195.6 472.3,196.1 472.1,196.6 471.8,197.1 471.6,197.6 471.3,198.2 471.1,198.7 470.8,199.2 470.6,199.7 470.4,200.2 470.2,200.7 470,201.2 469.8,201.7 469.6,202.2 469.4,202.7 469.3,203.2 469.1,203.7 469,204.2 468.9,204.7 468.8,205.2 468.8,205.7 468.7,206.2 468.7,206.7 468.7,207.2 468.8,207.7 468.8,208.2 468.9,208.7 469,209.2 469.2,209.7 469.3,210.2 469.4,210.7 469.6,211.2 469.8,211.7 469.9,212.2 470.1,212.7 470.3,213.2 470.5,213.7 470.7,214.2 470.9,214.7 471.1,215.2 471.3,215.7 471.5,216.2 471.7,216.7 471.9,217.2 472.1,217.7 472.2,218.2 472.4,218.7 472.6,219.2 472.7,219.7 472.9,220.2 473,220.7 473.2,221.2 473.3,221.7 473.5,222.2 473.6,222.7 473.8,223.2 473.9,223.7 474.1,224.2 474.2,224.7 474.3,225.2 474.5,225.7 474.6,226.2 474.7,226.7 474.8,227.2 474.9,227.7 475,228.2 475.1,228.7 475.2,229.2 475.3,229.7 475.4,230.2 475.5,230.7 475.6,231.2 475.7,231.7 475.8,232.2 475.9,232.7 475.9,233.2 476,233.7 476.1,234.2 476.1,234.7 476.2,235.2 476.2,235.7 476.2,236.2 476.3,236.7 476.3,237.2 476.4,237.7 476.4,238.2 476.4,238.7 476.4,239.2 476.5,239.7 476.5,240.2 476.5,240.7 476.5,241.2 476.5,241.7 476.5,242.2 476.5,242.7 476.5,243.2 476.5,243.7 476.5,244.2 476.5,244.8 476.5,245.3 476.6,245.8 476.6,246.3 476.6,246.8 476.6,247.3 476.6,247.8 476.6,248.3 476.6,248.8 476.6,249.3 476.6,249.8 476.6,250.3 476.6,250.8 476.6,251.3 476.6,251.8 476.6,252.3 476.6,252.8 476.6,253.3 476.6,253.8 476.6,254.3 476.6,254.8 476.6,255.3 476.6,255.8 476.6,256.3 476.6,256.8 476.6,257.3 476.6,257.8 476.6,258.3 476.6,258.8 476.6,259.3 476.6,259.8 476.6,260.3 476.6,260.8 476.6,260.8Z" fill="#0000cd"/>
<path d="M479.9,204.8h0M479.7,195.8h0M479,222.3h0M481,210.2h0M478.7,206.3h0M478.6,191.9h0M479.7,211.3h0M480.5,213.7h0M479.2,221.6h0M478.7,202.5h0M478.5,210.3h0M479.2,212.3h0M480.8,207.6h0M480.9,211h0M478.4,205.4h0M479.1,224h0M479.1,222.4h0M479.7,228.6h0M479.4,197.8h0M479.1,196.8h0M480.5,208.1h0M478.8,205.7h0M479.1,216.8h0M478.6,227h0M478.5,203.9h0M480.6,214.2h0M479.1,209.5h0M478.4,214h0M478.7,202h0M479,191.3h0M479.5,192.8h0M478.7,221.9h0M480.9,208.2h0M480.9,202.5h0M478.6,210.5h0M480.8,198.5h0M479.3,217.2h0M480.7,205.5h0M479.7,206.3h0M479.3,207.8h0M479.1,211.7h0M478.5,221.6h0M480.1,213.1h0M479.8,204.3h0M478.5,203.4h0M478.9,209.4h0M479.4,208.2h0M480.7,220.6h0M479,193h0M480.2,203.7h0M479.4,202.4h0M479,217.4h0M480,202.5h0M480.3,221.2h0M478.4,189.1h0M478.8,219.8h0M479.1,207.9h0M480.6,195.1h0M480.3,210.8h0M479.2,199.4h0M480.6,213.7h0M478.4,199.6h0M478.4,213.4h0M478.9,219.1h0M478.5,219.5h0M480.4,204.2h0M478.5,199.4h0M480.9,205.5h0M480.6,219.1h0M478.4,206.8h0M480.2,237.6h0M479.5,247.2h0" stroke="#2232de" stroke-width="1.05" stroke-linecap="round" opacity="0.85"/>
<circle cx="476.63" cy="209.37" r="1.05" fill="#0a0a3a"/>
<path d="M492.9,185.6L492.6,185.6 492.6,186.1 492.5,186.6 492.4,187.1 492.3,187.6 492.1,188.1 492,188.6 491.8,189.1 491.6,189.6 491.4,190.1 491.1,190.6 490.8,191.1 490.6,191.6 490.3,192.1 490,192.6 489.7,193.2 489.4,193.7 489.1,194.2 488.8,194.7 488.5,195.2 488.2,195.7 487.9,196.2 487.6,196.7 487.3,197.2 487,197.7 486.7,198.2 486.4,198.7 486.2,199.2 485.9,199.7 485.7,200.2 485.4,200.7 485.2,201.2 485,201.7 484.8,202.2 484.7,202.7 484.5,203.2 484.4,203.7 484.3,204.2 484.3,204.7 484.2,205.2 484.2,205.7 484.3,206.2 484.3,206.7 484.4,207.2 484.5,207.7 484.7,208.2 484.8,208.7 485,209.2 485.2,209.7 485.4,210.2 485.6,210.7 485.8,211.2 486.1,211.7 486.3,212.2 486.5,212.7 486.8,213.2 487,213.7 487.3,214.2 487.5,214.7 487.8,215.2 488,215.7 488.2,216.2 488.5,216.7 488.7,217.2 488.9,217.7 489.1,218.2 489.3,218.7 489.4,219.2 489.6,219.7 489.8,220.2 489.9,220.7 490,221.2 490.2,221.7 490.3,222.2 490.4,222.7 490.6,223.2 490.7,223.7 490.8,224.2 490.9,224.7 491,225.2 491.1,225.7 491.2,226.2 491.3,226.7 491.4,227.2 491.5,227.7 491.6,228.2 491.7,228.7 491.7,229.2 491.8,229.7 491.9,230.2 491.9,230.7 492,231.2 492.1,231.7 492.1,232.2 492.2,232.7 492.3,233.2 492.3,233.7 492.4,234.2 492.4,234.7 492.5,235.2 492.5,235.7 492.5,236.2 492.6,236.7 492.6,237.2 492.6,237.7 492.7,238.2 492.9,238.2Z" fill="#0000cd"/>
<path d="M497.1,213.1h0M496.5,207.2h0M496.1,199h0M496.1,210.9h0M494.7,205.5h0M495.4,204.1h0M496.5,209h0M495.2,198.3h0M495.5,195.5h0M497,211.3h0M496.8,202.7h0M496.7,205.3h0M495.8,203.5h0M494.9,217h0M495.5,200.9h0M495.1,211.1h0M494.9,204.9h0M495.8,208.7h0M494.6,208.1h0M494.8,214.5h0M496.1,221.7h0M495.9,208.9h0M494.6,209.5h0M496.3,211.1h0M495.2,211.4h0M494.9,213.2h0M495.4,208.7h0M496.3,197.1h0M495,220h0M496.6,217h0M495.4,211.1h0M496.1,216.1h0M494.7,209h0M496.3,203.7h0M497.1,213.1h0M495.9,206.4h0M494.8,205h0M495.8,195.9h0M494.7,193.6h0M495.1,213.7h0M496.9,190.8h0M495.7,215.6h0M495.7,203.8h0M495.8,201.7h0M497.1,216.9h0M496.1,205.5h0M495.1,212.6h0M497.2,204.5h0M497.3,218.1h0M496.8,210.3h0M496.4,212.4h0M496.1,200.1h0M496.3,205.9h0M494.6,201h0M496.4,216.2h0M495.6,213.8h0M495.7,211.1h0M494.9,202.2h0M497,205h0M495.2,215.1h0M496,213.9h0M495.2,200.4h0M494.9,207.6h0M495.7,205.3h0M495.8,206h0M496.5,208.1h0M497.3,194.4h0M496.9,194h0M496.1,213.5h0M496.7,195.1h0M494.7,230.3h0M495.2,233.1h0" stroke="#2232de" stroke-width="1.05" stroke-linecap="round" opacity="0.85"/>
<circle cx="492.9" cy="207.11" r="1.05" fill="#0a0a3a"/>
<path d="M509.3,176L509.3,176 509.3,176.5 509.3,177 509.3,177.5 509.3,178.1 509.2,178.6 509.2,179.1 509.2,179.6 509.2,180.1 509.2,180.6 509.2,181.1 509.2,181.6 509.2,182.1 509.2,182.6 509.2,183.1 509.2,183.6 509.2,184.1 509.2,184.6 509.2,185.1 509.1,185.6 509.1,186.1 509.1,186.6 509.1,187.1 509.1,187.6 509.1,188.1 509.1,188.6 509,189.1 509,189.6 508.9,190.1 508.9,190.6 508.7,191.1 508.6,191.6 508.4,192.1 508.2,192.6 508,193.1 507.7,193.6 507.4,194.2 507.1,194.7 506.7,195.2 506.3,195.7 505.9,196.2 505.5,196.7 505,197.2 504.6,197.7 504.1,198.2 503.6,198.7 503.1,199.2 502.7,199.7 502.2,200.2 501.8,200.7 501.4,201.2 501,201.7 500.7,202.2 500.4,202.7 500.3,203.2 500.1,203.7 500,204.2 500,204.7 500.1,205.2 500.1,205.7 500.3,206.2 500.4,206.7 500.6,207.2 500.8,207.7 501,208.2 501.3,208.7 501.5,209.2 501.8,209.7 502,210.3 502.3,210.8 502.6,211.3 502.8,211.8 503.1,212.3 503.4,212.8 503.6,213.3 503.9,213.8 504.1,214.3 504.4,214.8 504.7,215.3 504.9,215.8 505.2,216.3 505.4,216.8 505.6,217.3 505.9,217.8 506.1,218.3 506.3,218.8 506.6,219.3 506.8,219.8 507,220.3 507.2,220.8 507.4,221.3 507.5,221.8 507.7,222.3 507.9,222.8 508,223.3 508.1,223.8 508.2,224.3 508.3,224.8 508.4,225.3 508.5,225.8 508.5,226.4 508.6,226.9 508.6,227.4 508.6,227.9 508.7,228.4 508.7,228.9 508.7,229.4 508.8,229.9 508.8,230.4 508.8,230.9 508.8,231.4 508.9,231.9 508.9,232.4 508.9,232.9 508.9,233.4 508.9,233.9 509,234.4 509,234.9 509,235.4 509,235.9 509,236.4 509,236.9 509.1,237.4 509.1,237.9 509.1,238.4 509.1,238.9 509.1,239.4 509.1,239.9 509.1,240.4 509.2,240.9 509.2,241.4 509.2,241.9 509.2,242.5 509.2,243 509.2,243.5 509.2,244 509.2,244.5 509.2,245 509.3,245Z" fill="#0000cd"/>
<path d="M511,218.2h0M512.9,208.6h0M513.4,211.5h0M512.5,217.6h0M511.4,217.6h0M513.1,202.6h0M511.3,216.3h0M512.9,206.8h0M512.6,196.3h0M511.2,199.6h0M511.6,212.1h0M512.2,205.1h0M511.2,209.4h0M511.4,214.2h0M511.7,213.1h0M511.3,203.7h0M512.8,208.2h0M511,219.8h0M513.4,210.9h0M511.4,194h0M512,212.2h0M511.4,212.2h0M513.4,204.1h0M511.8,195.1h0M511,212.6h0M511.9,203.8h0M511.9,203.5h0M512.5,205.5h0M513.7,212.9h0M511.3,208.3h0M511.7,200.7h0M512.4,207.2h0M511,221h0M513.1,213.8h0M512.7,214.9h0M511.7,203.2h0M513.5,217.6h0M513.1,201.6h0M512.7,207.4h0M511.1,203.1h0M511.8,206.2h0M511.9,206.6h0M511.3,208.1h0M513.4,212h0M511.8,201.9h0M511.1,209.7h0M512.5,205h0M513.5,202.6h0M511.1,214.8h0M511.9,195.5h0M513.3,205.1h0M512.3,200.9h0M511.6,200.8h0M512.9,209.6h0M512,210.9h0M512.7,200.2h0M513,202h0M511.1,210h0M511.9,217.7h0M513.4,209.9h0M511.5,219.1h0M513,213.1h0M512.8,204.4h0M511.1,212.2h0M512.3,202.4h0M511.6,209.4h0M512.5,218.4h0M512.6,194.6h0M511.2,202.3h0M511.3,208.6h0M513.1,228h0M511.2,232.5h0" stroke="#2232de" stroke-width="1.05" stroke-linecap="round" opacity="0.85"/>
<circle cx="509.29" cy="207.68" r="1.05" fill="#0a0a3a"/>
<path d="M460.14,266.35v-1.2M460.14,168.5v1.2M476.63,266.35v-1.2M476.63,168.5v1.2M492.9,266.35v-1.2M492.9,168.5v1.2M509.29,266.35v-1.2M509.29,168.5v1.2M452.5,168.5h1.2M520.4,168.5h-1.2M452.5,184.81h1.2M520.4,184.81h-1.2M452.5,201.12h1.2M520.4,201.12h-1.2M452.5,217.43h1.2M520.4,217.43h-1.2M452.5,233.73h1.2M520.4,233.73h-1.2M452.5,250.04h1.2M520.4,250.04h-1.2M452.5,266.35h1.2M520.4,266.35h-1.2" stroke="#555" stroke-width="0.5" fill="none"/>
<rect x="452.5" y="168.5" width="67.9" height="97.85" fill="none" stroke="#a0a0a0" stroke-width="0.7"/>
<text transform="translate(450.3 172) scale(0.92 1)" font-size="8.8" text-anchor="end" fill="#363636">200</text>
<text transform="translate(450.3 188.31) scale(0.92 1)" font-size="8.8" text-anchor="end" fill="#363636">100</text>
<text transform="translate(450.3 204.62) scale(0.92 1)" font-size="8.8" text-anchor="end" fill="#363636">0</text>
<text transform="translate(450.3 220.93) scale(0.92 1)" font-size="8.8" text-anchor="end" fill="#363636">-100</text>
<text transform="translate(450.3 237.23) scale(0.92 1)" font-size="8.8" text-anchor="end" fill="#363636">-200</text>
<text transform="translate(450.3 253.54) scale(0.92 1)" font-size="8.8" text-anchor="end" fill="#363636">-300</text>
<text transform="translate(450.3 269.85) scale(0.92 1)" font-size="8.8" text-anchor="end" fill="#363636">-400</text>
<text transform="translate(460.14 273.6) scale(0.92 1)" font-size="8.8" text-anchor="middle" fill="#363636">2</text>
<text transform="translate(476.63 273.6) scale(0.92 1)" font-size="8.8" text-anchor="middle" fill="#363636">3</text>
<text transform="translate(492.9 273.6) scale(0.92 1)" font-size="8.8" text-anchor="middle" fill="#363636">4</text>
<text transform="translate(509.29 273.6) scale(0.92 1)" font-size="8.8" text-anchor="middle" fill="#363636">5</text>
<text x="486.45" y="166.1" font-size="7.6" text-anchor="middle" font-weight="bold" fill="#000" textLength="11.4" lengthAdjust="spacingAndGlyphs" stroke="#000" stroke-width="0.5">n.s.</text>
<text x="486.45" y="282.95" font-size="8.6" text-anchor="middle" textLength="15.6" lengthAdjust="spacingAndGlyphs">Tone</text>
<text x="428.4" y="217.43" font-size="9" text-anchor="middle" textLength="80.6" lengthAdjust="spacingAndGlyphs" transform="rotate(-90 428.4 217.43)">Neural activity index</text>
<path d="M564.57,37.4V117.4M570.37,37.4V117.4M573.27,37.4V117.4M576.17,37.4V117.4M579.07,37.4V117.4M584.88,37.4V117.4M587.78,37.4V117.4M590.68,37.4V117.4M593.58,37.4V117.4M599.38,37.4V117.4M602.28,37.4V117.4M605.18,37.4V117.4M608.08,37.4V117.4M613.88,37.4V117.4M616.78,37.4V117.4M619.68,37.4V117.4M622.58,37.4V117.4M628.38,37.4V117.4M631.28,37.4V117.4M634.18,37.4V117.4M637.08,37.4V117.4M642.88,37.4V117.4M645.78,37.4V117.4M648.68,37.4V117.4M651.58,37.4V117.4M657.38,37.4V117.4M660.28,37.4V117.4M663.18,37.4V117.4M564.4,108.51H665.5M564.4,104.07H665.5M564.4,99.62H665.5M564.4,90.73H665.5M564.4,86.29H665.5M564.4,81.84H665.5M564.4,72.96H665.5M564.4,68.51H665.5M564.4,64.07H665.5M564.4,55.18H665.5M564.4,50.73H665.5M564.4,46.29H665.5" stroke="#ececec" stroke-width="0.45" stroke-dasharray="1 0.6" fill="none"/>
<path d="M567.47,37.4V117.4M581.98,37.4V117.4M596.48,37.4V117.4M610.98,37.4V117.4M625.48,37.4V117.4M639.98,37.4V117.4M654.48,37.4V117.4M564.4,41.84H665.5M564.4,59.62H665.5M564.4,77.4H665.5M564.4,95.18H665.5M564.4,112.96H665.5" stroke="#e8e8e8" stroke-width="0.5" fill="none"/>
<g transform="translate(623,86.4)"><path d="M0.3,7.5 C0.3,4 3,1.2 7,0.5 C11,-0.1 15.5,0.5 18,2.8 C19.8,4.5 20.2,7 19.4,8.8 C18.6,10.2 16.8,10.6 15,10.9 C13.5,11.2 12.5,11.6 11.5,12.3 C10.5,13.2 9,13.2 8.3,12.4 C6.5,11.9 4,11.6 2.3,10.6 C1,9.8 0.3,8.8 0.3,7.5 Z" fill="url(#glat)" stroke="#454545" stroke-width="0.9"/><path d="M10.4,6.5Q9.3,7 8.1,7.1M5.6,4.9Q4.3,6 4.3,7.8M3.9,8.5Q4.2,9.9 3,9.8M11.8,7Q12.5,6.6 13.1,7.7M3.8,3.7Q4.9,4.3 6.3,3.9M10.3,6.2Q10.2,7.2 10.3,9M19.2,10.3Q17.7,10.5 16.7,11.7M7.5,1.4Q7.2,2 5.8,2.9M16.4,9.5Q18,9.5 18.3,9.6M16.3,5Q18.1,4.9 19,5.6M4.9,4.5Q2.8,4.3 1.9,4.8M4.4,1.5Q3.7,2 2.9,2.6M3.8,7.9Q4.4,8.3 6.3,9M7,3.9Q5.1,4.7 3.9,4.2M6.6,4.6Q4.7,6 4.1,5.9M6.2,3.2Q5.1,3.3 4.6,4.7M2.5,6.1Q3.2,7 4.4,8M17.7,4.5Q16.8,5.5 17,7.7M15.9,8.6Q16.9,10 17.2,9.9M6.4,10Q5,9.9 3.9,11M1.6,9.7Q2.2,11.2 3.7,11.6M10.3,3.5Q10.9,3.9 12.8,5.1" clip-path="url(#cl)" fill="none" stroke="#666" stroke-width="0.5"/></g>
<g transform="translate(663.8,86.4) scale(-1,1)"><path d="M0.3,7.5 C0.3,4 3,1.2 7,0.5 C11,-0.1 15.5,0.5 18,2.8 C19.8,4.5 20.2,7 19.4,8.8 C18.6,10.2 16.8,10.6 15,10.9 C13.5,11.2 12.5,11.6 11.5,12.3 C10.5,13.2 9,13.2 8.3,12.4 C6.5,11.9 4,11.6 2.3,10.6 C1,9.8 0.3,8.8 0.3,7.5 Z" fill="url(#glat)" stroke="#454545" stroke-width="0.9"/><path d="M10.4,6.5Q9.3,7 8.1,7.1M5.6,4.9Q4.3,6 4.3,7.8M3.9,8.5Q4.2,9.9 3,9.8M11.8,7Q12.5,6.6 13.1,7.7M3.8,3.7Q4.9,4.3 6.3,3.9M10.3,6.2Q10.2,7.2 10.3,9M19.2,10.3Q17.7,10.5 16.7,11.7M7.5,1.4Q7.2,2 5.8,2.9M16.4,9.5Q18,9.5 18.3,9.6M16.3,5Q18.1,4.9 19,5.6M4.9,4.5Q2.8,4.3 1.9,4.8M4.4,1.5Q3.7,2 2.9,2.6M3.8,7.9Q4.4,8.3 6.3,9M7,3.9Q5.1,4.7 3.9,4.2M6.6,4.6Q4.7,6 4.1,5.9M6.2,3.2Q5.1,3.3 4.6,4.7M2.5,6.1Q3.2,7 4.4,8M17.7,4.5Q16.8,5.5 17,7.7M15.9,8.6Q16.9,10 17.2,9.9M6.4,10Q5,9.9 3.9,11M1.6,9.7Q2.2,11.2 3.7,11.6M10.3,3.5Q10.9,3.9 12.8,5.1" clip-path="url(#cl)" fill="none" stroke="#666" stroke-width="0.5"/><path d="M8.6,9.3 C9.5,8.2 11,7.3 12.1,7.2 C12.4,7.8 11,8.9 9.6,9.7 Z" fill="#f01c1c" stroke="#f01c1c" stroke-width="0.6"/></g>
<g transform="translate(643,100.75) scale(-1,1)"><path d="M0.4,8.3 C0.3,5 2.5,2.2 6.5,1 C10,0 14.5,0.3 17.3,2.3 C19.6,4 20.2,7 19.4,9 C18.7,10.3 17.2,10.9 15.6,11.3 C14.9,12.5 13.8,13.5 12.6,13.6 C11.3,13.7 10.6,12.8 10.1,12.1 C8,12 5,11.9 3,11.2 C1.4,10.6 0.5,9.6 0.4,8.3 Z" fill="url(#gmed)" stroke="#707070" stroke-width="0.8"/><path d="M4.5,8 C5.5,4.8 9,3.6 12,3.8 C15,4.1 16.5,5.8 16.5,7.8 C14,7 11,6.8 8,7.3 C6.5,7.6 5.2,7.8 4.5,8 Z" fill="#cbcbcb"/><path d="M11.3,8.7L10.6,10.5M15.7,3.4L17.6,3.5M8.3,1.5L10,2.6M10.6,1.5L11.7,4M18.4,6.8L17,8.7M2.8,1.8L5.7,1.9M12,10.6L14.4,10.7M8.9,7.2L10.5,9.7M4.2,5.6L2.2,7.7M14.9,7.3L12.6,9.1" clip-path="url(#cm)" fill="none" stroke="#8c8c8c" stroke-width="0.45"/><path d="M9.8,11.6 C10.8,12.8 12.5,13.2 14.5,11.8 C13.5,11 11.5,10.8 9.8,11.6 Z" fill="#808080"/></g>
<g transform="translate(643.8,100.75)"><path d="M0.4,8.3 C0.3,5 2.5,2.2 6.5,1 C10,0 14.5,0.3 17.3,2.3 C19.6,4 20.2,7 19.4,9 C18.7,10.3 17.2,10.9 15.6,11.3 C14.9,12.5 13.8,13.5 12.6,13.6 C11.3,13.7 10.6,12.8 10.1,12.1 C8,12 5,11.9 3,11.2 C1.4,10.6 0.5,9.6 0.4,8.3 Z" fill="url(#gmed)" stroke="#707070" stroke-width="0.8"/><path d="M4.5,8 C5.5,4.8 9,3.6 12,3.8 C15,4.1 16.5,5.8 16.5,7.8 C14,7 11,6.8 8,7.3 C6.5,7.6 5.2,7.8 4.5,8 Z" fill="#cbcbcb"/><path d="M11.3,8.7L10.6,10.5M15.7,3.4L17.6,3.5M8.3,1.5L10,2.6M10.6,1.5L11.7,4M18.4,6.8L17,8.7M2.8,1.8L5.7,1.9M12,10.6L14.4,10.7M8.9,7.2L10.5,9.7M4.2,5.6L2.2,7.7M14.9,7.3L12.6,9.1" clip-path="url(#cm)" fill="none" stroke="#8c8c8c" stroke-width="0.45"/><path d="M9.8,11.6 C10.8,12.8 12.5,13.2 14.5,11.8 C13.5,11 11.5,10.8 9.8,11.6 Z" fill="#808080"/></g>
<path d="M564.7,60 566,58.8 567.6,57.5 568.5,51.6 569.2,62 569.9,111.4 570.8,62 571.5,50.3 572.5,53.5 573.8,63.3 575.7,71.1 577.6,78.9 579,87.3 580.2,80.2 581.3,71.1 582.2,82.8 583.5,68.5 584.8,55.5 586.4,58.1 588,65.9 590,73.7 591.6,60 592.9,80.2 594.5,69.8 596.5,64 598.1,69.8 599.8,76.3 601,66.6 602.4,58.1 604.3,79.5 605.6,69.8 607.5,64 609.5,67.2 611.5,72.4 613.4,54.2 614.7,76.9 616,67.2 617.3,58.1 619.2,62 621.2,67.2 622.8,72.4 624.5,67.2 626.4,62.6 628.4,56.8 630.3,54.8 631.6,55 632.9,53.5 634.9,51 636.8,52.9 638.1,52.6 639.4,54.2 640.7,56.1 642,56.1 643.3,55.7 644.6,58 645.9,57.5 647.2,57.1 648.5,59.5 649.8,59.4 651.1,58.8 652.4,61 653.7,60.7 655,60.3 656.3,63.1 657.6,62.6 658.9,61.4 660.2,62.9 661.5,62 663.4,61.2 665.2,62.6" fill="none" stroke="#a8c6ee" stroke-width="2.0" stroke-linejoin="round" opacity="0.7"/>
<path d="M564.7,60 566,58.8 567.6,57.5 568.5,51.6 569.2,62 569.9,111.4 570.8,62 571.5,50.3 572.5,53.5 573.8,63.3 575.7,71.1 577.6,78.9 579,87.3 580.2,80.2 581.3,71.1 582.2,82.8 583.5,68.5 584.8,55.5 586.4,58.1 588,65.9 590,73.7 591.6,60 592.9,80.2 594.5,69.8 596.5,64 598.1,69.8 599.8,76.3 601,66.6 602.4,58.1 604.3,79.5 605.6,69.8 607.5,64 609.5,67.2 611.5,72.4 613.4,54.2 614.7,76.9 616,67.2 617.3,58.1 619.2,62 621.2,67.2 622.8,72.4 624.5,67.2 626.4,62.6 628.4,56.8 630.3,54.8 631.6,55 632.9,53.5 634.9,51 636.8,52.9 638.1,52.6 639.4,54.2 640.7,56.1 642,56.1 643.3,55.7 644.6,58 645.9,57.5 647.2,57.1 648.5,59.5 649.8,59.4 651.1,58.8 652.4,61 653.7,60.7 655,60.3 656.3,63.1 657.6,62.6 658.9,61.4 660.2,62.9 661.5,62 663.4,61.2 665.2,62.6" fill="none" stroke="#2468d0" stroke-width="0.6" stroke-linejoin="round"/>
<circle cx="593.25" cy="80.2" r="3.55" fill="none" stroke="#ee1c25" stroke-width="0.9"/>
<circle cx="604.3" cy="79.55" r="3.55" fill="none" stroke="#ee1c25" stroke-width="0.9"/>
<circle cx="614.44" cy="76.95" r="3.55" fill="none" stroke="#ee1c25" stroke-width="0.9"/>
<path d="M567.47,117.4v-1.2M567.47,37.4v1.2M581.98,117.4v-1.2M581.98,37.4v1.2M596.48,117.4v-1.2M596.48,37.4v1.2M610.98,117.4v-1.2M610.98,37.4v1.2M625.48,117.4v-1.2M625.48,37.4v1.2M639.98,117.4v-1.2M639.98,37.4v1.2M654.48,117.4v-1.2M654.48,37.4v1.2M564.4,41.84h1.2M665.5,41.84h-1.2M564.4,59.62h1.2M665.5,59.62h-1.2M564.4,77.4h1.2M665.5,77.4h-1.2M564.4,95.18h1.2M665.5,95.18h-1.2M564.4,112.96h1.2M665.5,112.96h-1.2" stroke="#555" stroke-width="0.5" fill="none"/>
<rect x="564.4" y="37.4" width="101.1" height="80" fill="none" stroke="#a0a0a0" stroke-width="0.7"/>
<text x="562.1" y="44.24" font-size="8.2" text-anchor="end" fill="#363636">40</text>
<text x="562.1" y="62.02" font-size="8.2" text-anchor="end" fill="#363636">0</text>
<text x="562.1" y="79.8" font-size="8.2" text-anchor="end" fill="#363636">-40</text>
<text x="562.1" y="97.58" font-size="8.2" text-anchor="end" fill="#363636">-80</text>
<text x="562.1" y="115.36" font-size="8.2" text-anchor="end" fill="#363636">-120</text>
<text x="567.47" y="125.25" font-size="8.3" text-anchor="middle" fill="#363636">0</text>
<text x="581.98" y="125.25" font-size="8.3" text-anchor="middle" fill="#363636">0.5</text>
<text x="596.48" y="125.25" font-size="8.3" text-anchor="middle" fill="#363636">1</text>
<text x="610.98" y="125.25" font-size="8.3" text-anchor="middle" fill="#363636">1.5</text>
<text x="625.48" y="125.25" font-size="8.3" text-anchor="middle" fill="#363636">2</text>
<text x="639.98" y="125.25" font-size="8.3" text-anchor="middle" fill="#363636">2.5</text>
<text x="654.48" y="125.25" font-size="8.3" text-anchor="middle" fill="#363636">3</text>
<text x="614.55" y="31.75" font-size="10" text-anchor="middle" textLength="16.4" lengthAdjust="spacingAndGlyphs">NT2</text>
<g transform="translate(565.3,134.1)"><ellipse cx="1.3" cy="-1" rx="1.35" ry="0.95" transform="rotate(-20 1.3 -1)" fill="#111"/><path d="M2.45,-1.2 V-5.6 C3.2,-4.6 4.5,-4 4.2,-2.3" fill="none" stroke="#111" stroke-width="0.6"/></g>
<g transform="translate(576.15,134.1)"><ellipse cx="1.3" cy="-1" rx="1.35" ry="0.95" transform="rotate(-20 1.3 -1)" fill="#111"/><path d="M2.45,-1.2 V-5.6 C3.2,-4.6 4.5,-4 4.2,-2.3" fill="none" stroke="#111" stroke-width="0.6"/></g>
<g transform="translate(587,134.1)"><ellipse cx="1.3" cy="-1" rx="1.35" ry="0.95" transform="rotate(-20 1.3 -1)" fill="#111"/><path d="M2.45,-1.2 V-5.6 C3.2,-4.6 4.5,-4 4.2,-2.3" fill="none" stroke="#111" stroke-width="0.6"/></g>
<path d="M585.7,135.25v1h7.4v-1" fill="none" stroke="#2468d0" stroke-width="0.65" opacity="0.75"/>
<g transform="translate(597.85,134.1)"><ellipse cx="1.3" cy="-1" rx="1.35" ry="0.95" transform="rotate(-20 1.3 -1)" fill="#111"/><path d="M2.45,-1.2 V-5.6 C3.2,-4.6 4.5,-4 4.2,-2.3" fill="none" stroke="#111" stroke-width="0.6"/></g>
<path d="M596.55,135.25v1h7.4v-1" fill="none" stroke="#2468d0" stroke-width="0.65" opacity="0.75"/>
<g transform="translate(608.7,134.1)"><ellipse cx="1.3" cy="-1" rx="1.35" ry="0.95" transform="rotate(-20 1.3 -1)" fill="#111"/><path d="M2.45,-1.2 V-5.6 C3.2,-4.6 4.5,-4 4.2,-2.3" fill="none" stroke="#111" stroke-width="0.6"/></g>
<path d="M607.4,135.25v1h7.4v-1" fill="none" stroke="#2468d0" stroke-width="0.65" opacity="0.75"/>
<path d="M584.5,168.5V266.35M588.29,168.5V266.35M592.07,168.5V266.35M595.86,168.5V266.35M603.43,168.5V266.35M607.21,168.5V266.35M611,168.5V266.35M614.79,168.5V266.35M622.36,168.5V266.35M626.14,168.5V266.35M629.93,168.5V266.35M633.71,168.5V266.35M641.28,168.5V266.35M645.07,168.5V266.35M581.1,263.09H648.7M581.1,259.83H648.7M581.1,256.57H648.7M581.1,253.3H648.7M581.1,246.78H648.7M581.1,243.52H648.7M581.1,240.26H648.7M581.1,237H648.7M581.1,230.47H648.7M581.1,227.21H648.7M581.1,223.95H648.7M581.1,220.69H648.7M581.1,214.16H648.7M581.1,210.9H648.7M581.1,207.64H648.7M581.1,204.38H648.7M581.1,197.86H648.7M581.1,194.59H648.7M581.1,191.33H648.7M581.1,188.07H648.7M581.1,181.55H648.7M581.1,178.28H648.7M581.1,175.02H648.7M581.1,171.76H648.7" stroke="#ececec" stroke-width="0.45" stroke-dasharray="1 0.6" fill="none"/>
<path d="M599.64,168.5V266.35M618.63,168.5V266.35M637.5,168.5V266.35M581.1,184.81H648.7M581.1,201.12H648.7M581.1,217.43H648.7M581.1,233.73H648.7M581.1,250.04H648.7" stroke="#e8e8e8" stroke-width="0.5" fill="none"/>
<path d="M599.6,177.2L599.6,177.2 599.6,177.7 599.6,178.2 599.6,178.7 599.6,179.2 599.6,179.7 599.6,180.2 599.6,180.7 599.5,181.2 599.5,181.7 599.5,182.2 599.5,182.7 599.5,183.2 599.5,183.7 599.5,184.2 599.5,184.7 599.5,185.2 599.4,185.7 599.4,186.2 599.4,186.7 599.4,187.2 599.4,187.7 599.4,188.2 599.3,188.7 599.3,189.2 599.3,189.7 599.2,190.2 599.1,190.7 599,191.2 598.9,191.7 598.7,192.2 598.6,192.7 598.4,193.2 598.1,193.7 597.8,194.2 597.6,194.7 597.3,195.2 596.9,195.7 596.6,196.2 596.2,196.7 595.8,197.2 595.4,197.7 595,198.2 594.6,198.7 594.2,199.2 593.8,199.7 593.4,200.2 593,200.7 592.7,201.2 592.3,201.7 592.1,202.2 591.8,202.7 591.7,203.2 591.5,203.7 591.4,204.2 591.4,204.7 591.4,205.2 591.5,205.7 591.5,206.2 591.7,206.7 591.8,207.2 592,207.7 592.2,208.2 592.4,208.7 592.7,209.2 592.9,209.7 593.2,210.2 593.4,210.7 593.7,211.2 594,211.7 594.2,212.2 594.5,212.7 594.8,213.2 595,213.7 595.3,214.2 595.5,214.7 595.8,215.2 596,215.7 596.2,216.2 596.5,216.7 596.7,217.2 596.9,217.7 597.1,218.2 597.3,218.7 597.4,219.2 597.6,219.7 597.8,220.2 598,220.7 598.1,221.2 598.3,221.7 598.4,222.2 598.5,222.7 598.6,223.2 598.8,223.7 598.9,224.2 598.9,224.7 599,225.2 599.1,225.7 599.2,226.2 599.2,226.7 599.3,227.2 599.3,227.7 599.3,228.2 599.4,228.7 599.4,229.2 599.4,229.7 599.4,230.2 599.4,230.7 599.4,231.2 599.4,231.7 599.4,232.2 599.4,232.7 599.4,233.2 599.5,233.7 599.5,234.2 599.5,234.7 599.5,235.2 599.5,235.8 599.5,236.3 599.5,236.8 599.5,237.3 599.5,237.8 599.5,238.3 599.5,238.8 599.5,239.3 599.5,239.8 599.5,240.3 599.5,240.8 599.5,241.3 599.5,241.8 599.5,242.3 599.5,242.8 599.5,243.3 599.5,243.8 599.5,244.3 599.5,244.8 599.5,245.3 599.5,245.8 599.5,246.3 599.5,246.8 599.5,247.3 599.6,247.8 599.6,248.3 599.6,248.8 599.6,249.3 599.6,249.8 599.6,250.3 599.6,250.8 599.6,251.3 599.6,251.8 599.6,252.3 599.6,252.8 599.6,253.3 599.6,253.8 599.6,254.3 599.6,254.8 599.6,255.3 599.6,255.8 599.6,256.3 599.6,256.8 599.6,257.3 599.6,257.8 599.6,258.3 599.6,258.8 599.6,259.3 599.6,259.8 599.6,260.3 599.6,260.8 599.6,260.8Z" fill="#0000cd"/>
<path d="M602.4,213.2h0M601.6,210.9h0M603.6,206.4h0M604.7,209.6h0M601.6,207.8h0M601.7,204.8h0M604.6,203.8h0M602,206.3h0M602.1,206.5h0M604.7,208.5h0M603.6,202.8h0M602.6,210h0M603.9,199.5h0M603.6,200.7h0M603.4,209.2h0M604.5,205.9h0M602.3,220.1h0M602.3,207.1h0M604,214.7h0M604.7,207.1h0M604.3,204.2h0M604,205.8h0M602.6,206.4h0M604.4,206h0M603,204h0M604.4,199.6h0M604,212.3h0M604.3,202.5h0M601.6,207h0M604.7,203.5h0M603.9,210.9h0M602.1,205.7h0M602.6,198.8h0M604.4,223.6h0M602.3,196.6h0M601.7,222.5h0M601.9,208.5h0M604.7,214.6h0M603.1,210.1h0M602.9,205.4h0M603.9,206.2h0M601.9,204.3h0M602.7,208h0M603.9,221.1h0M602.1,204.9h0M603.2,209.5h0M603.3,208.5h0M603.6,217.7h0M603.3,208.3h0M604.3,234.1h0M602.6,211h0M602.8,214.1h0M602,206.6h0M603.5,195.5h0M603.5,205.3h0M601.9,207.9h0M604.5,226.3h0M603.8,212.1h0M602.6,202.6h0M603.9,195.3h0M603.4,215.4h0M603.6,204.5h0M603.8,210.2h0M603.2,201.1h0M602.6,222h0M602.3,216.7h0M604.5,205.7h0M603.1,206.3h0M602,199.8h0M603.2,216.2h0M603.2,183.9h0M604.2,256.3h0" stroke="#2232de" stroke-width="1.05" stroke-linecap="round" opacity="0.85"/>
<circle cx="599.64" cy="207.68" r="1.05" fill="#0a0a3a"/>
<path d="M618.6,172.1L618.6,172.1 618.6,172.6 618.6,173.1 618.6,173.6 618.6,174.1 618.6,174.6 618.6,175.1 618.6,175.6 618.5,176.1 618.5,176.6 618.5,177.1 618.5,177.6 618.5,178.1 618.5,178.6 618.5,179.1 618.5,179.6 618.5,180.1 618.5,180.6 618.5,181.1 618.4,181.6 618.4,182.1 618.4,182.6 618.4,183.1 618.4,183.7 618.4,184.2 618.4,184.7 618.4,185.2 618.4,185.7 618.4,186.2 618.3,186.7 618.3,187.2 618.3,187.7 618.3,188.2 618.2,188.7 618.1,189.2 618.1,189.7 617.9,190.2 617.8,190.7 617.6,191.2 617.4,191.7 617.1,192.2 616.9,192.7 616.6,193.2 616.3,193.7 615.9,194.2 615.6,194.7 615.2,195.2 614.9,195.7 614.5,196.2 614.1,196.7 613.8,197.2 613.4,197.7 613.1,198.2 612.7,198.7 612.4,199.2 612.1,199.7 611.8,200.3 611.5,200.8 611.2,201.3 611,201.8 610.8,202.3 610.6,202.8 610.4,203.3 610.2,203.8 610.1,204.3 610,204.8 609.9,205.3 609.9,205.8 609.9,206.3 609.9,206.8 610,207.3 610.1,207.8 610.2,208.3 610.3,208.8 610.5,209.3 610.7,209.8 610.9,210.3 611.1,210.8 611.4,211.3 611.6,211.8 611.8,212.3 612.1,212.8 612.3,213.3 612.6,213.8 612.8,214.3 613.1,214.8 613.3,215.3 613.5,215.8 613.7,216.3 613.9,216.8 614.2,217.4 614.4,217.9 614.6,218.4 614.8,218.9 615,219.4 615.2,219.9 615.5,220.4 615.7,220.9 615.9,221.4 616.1,221.9 616.3,222.4 616.5,222.9 616.7,223.4 616.9,223.9 617.1,224.4 617.3,224.9 617.4,225.4 617.6,225.9 617.7,226.4 617.8,226.9 618,227.4 618,227.9 618.1,228.4 618.2,228.9 618.2,229.4 618.3,229.9 618.3,230.4 618.3,230.9 618.3,231.4 618.3,231.9 618.3,232.4 618.3,232.9 618.3,233.4 618.4,233.9 618.4,234.5 618.4,235 618.4,235.5 618.4,236 618.4,236.5 618.4,237 618.4,237.5 618.4,238 618.4,238.5 618.4,239 618.4,239.5 618.4,240 618.4,240.5 618.4,241 618.5,241.5 618.5,242 618.5,242.5 618.5,243 618.5,243.5 618.5,244 618.5,244.5 618.5,245 618.5,245.5 618.5,246 618.5,246.5 618.5,247 618.5,247.5 618.5,248 618.5,248.5 618.6,249 618.6,249.5 618.6,250 618.6,250.5 618.6,251 618.6,251.6 618.6,252.1 618.6,252.6 618.6,253.1 618.6,253.6 618.6,254.1 618.6,254.6 618.6,254.6Z" fill="#0000cd"/>
<path d="M622,213.2h0M623.4,224h0M621.7,195.7h0M620.9,223.7h0M621.3,217.8h0M622.2,201.2h0M620.8,216.4h0M622,217.2h0M623.1,207.7h0M622.7,199.5h0M621.7,203.5h0M621.7,207.3h0M620.7,210.3h0M622.8,215.4h0M623.2,205.9h0M622.6,211.9h0M621.9,201.4h0M621.7,216.5h0M622.8,202.5h0M621.8,209.9h0M621.7,223.4h0M621.1,195.8h0M621.7,219.9h0M620.7,206h0M622.2,207.8h0M623.4,201.4h0M622.4,195h0M621.9,196.7h0M623.4,210.6h0M623.2,200.7h0M621.8,220.9h0M622.7,208.3h0M620.9,209.1h0M620.8,197.6h0M620.8,197.8h0M620.7,214.5h0M622.1,219.8h0M622.4,205.6h0M623.3,223.7h0M621.6,202.1h0M621.4,225.9h0M621.5,208.6h0M622.2,212.8h0M620.7,202h0M623.3,215.2h0M621.2,199.8h0M622,202.2h0M622.4,206.6h0M623.5,209.2h0M620.7,204.1h0M622.3,201.9h0M621.4,206.6h0M622.8,204.7h0M622,215.5h0M623.3,210.2h0M620.7,200h0M622.4,196.7h0M623.5,211.4h0M622.7,210.1h0M621.2,204.8h0M623.5,199.4h0M620.8,201.2h0M621.9,211.1h0M623.4,203.4h0M620.7,199.7h0M623.2,195.6h0M621.5,208.8h0M621,215.8h0M623.2,205.8h0M621.8,213.1h0M620.6,179.4h0M621.7,187.3h0M622.6,243.8h0M621.2,247.2h0" stroke="#2232de" stroke-width="1.05" stroke-linecap="round" opacity="0.85"/>
<circle cx="618.63" cy="207.9" r="1.05" fill="#0a0a3a"/>
<path d="M637.5,179.4L637.5,179.4 637.4,179.9 637.4,180.4 637.4,180.9 637.4,181.4 637.4,181.9 637.4,182.4 637.4,183 637.4,183.5 637.4,184 637.4,184.5 637.3,185 637.3,185.5 637.3,186 637.3,186.5 637.3,187 637.3,187.5 637.2,188 637.2,188.5 637.2,189 637.1,189.5 637.1,190 637,190.5 636.9,191 636.8,191.5 636.6,192 636.4,192.5 636.2,193 635.9,193.5 635.6,194 635.3,194.5 634.9,195 634.5,195.5 634.1,196 633.6,196.5 633.1,197 632.7,197.5 632.2,198 631.7,198.6 631.1,199.1 630.6,199.6 630.2,200.1 629.7,200.6 629.2,201.1 628.8,201.6 628.4,202.1 628,202.6 627.7,203.1 627.5,203.6 627.3,204.1 627.2,204.6 627.1,205.1 627.1,205.6 627.1,206.1 627.2,206.6 627.3,207.1 627.4,207.6 627.6,208.1 627.8,208.6 628.1,209.1 628.3,209.6 628.6,210.1 628.8,210.6 629.1,211.1 629.4,211.6 629.7,212.1 630,212.6 630.3,213.1 630.6,213.7 630.9,214.2 631.3,214.7 631.6,215.2 631.9,215.7 632.2,216.2 632.5,216.7 632.9,217.2 633.2,217.7 633.5,218.2 633.8,218.7 634.1,219.2 634.4,219.7 634.7,220.2 635,220.7 635.3,221.2 635.5,221.7 635.8,222.2 636,222.7 636.2,223.2 636.4,223.7 636.5,224.2 636.7,224.7 636.8,225.2 636.9,225.7 637,226.2 637,226.7 637.1,227.2 637.1,227.7 637.2,228.2 637.2,228.7 637.2,229.3 637.2,229.8 637.3,230.3 637.3,230.8 637.3,231.3 637.3,231.8 637.3,232.3 637.3,232.8 637.3,233.3 637.4,233.8 637.4,234.3 637.4,234.8 637.4,235.3 637.4,235.8 637.4,236.3 637.4,236.8 637.4,237.3 637.4,237.8 637.4,238.3 637.5,238.8 637.5,239.3 637.5,239.3Z" fill="#0000cd"/>
<path d="M639.7,194.6h0M641.6,206.4h0M642.1,202.2h0M642.4,221h0M640.3,199.8h0M642.4,207.1h0M640.9,201.6h0M641.1,211h0M642.3,209.5h0M642.4,200.5h0M641.3,210h0M642.4,203.8h0M640.5,195.5h0M640,207.2h0M639.6,202.5h0M639.7,214.9h0M640.9,208.6h0M641,201h0M641.2,205.6h0M640.6,205.1h0M639.9,198.7h0M642.1,203.5h0M639.9,207.7h0M641,208.8h0M639.8,205.5h0M641,210.1h0M640,212.1h0M640.2,207.8h0M642.3,208.3h0M642.4,209.5h0M641.6,208.7h0M641.8,201.2h0M640.7,207h0M640.3,208.3h0M641.3,196.5h0M641.7,200.3h0M640.2,202.5h0M641.4,208.5h0M640.5,217.1h0M642.4,207.2h0M642.4,207h0M640.2,205.4h0M639.9,213.3h0M639.8,208.2h0M642.5,207.9h0M640.9,216.5h0M641.9,211.3h0M641.4,215.3h0M641.9,200.7h0M641.7,200.7h0M641.6,213.5h0M642.1,197.9h0M641.8,219.7h0M641.3,216.8h0M642,217.5h0M640.4,218.7h0M642.4,209.1h0M640.2,215.2h0M640,200.7h0M640.2,205.5h0M641.7,213.1h0M641.9,203.2h0M642.4,213.4h0M639.7,205.6h0M640.5,217.7h0M639.4,211.4h0M639.4,200h0M641.3,209h0M640.5,202.6h0M641.4,201.6h0M640.3,187.3h0M639.7,233.7h0" stroke="#2232de" stroke-width="1.05" stroke-linecap="round" opacity="0.85"/>
<circle cx="637.5" cy="207.11" r="1.05" fill="#0a0a3a"/>
<path d="M599.64,266.35v-1.2M599.64,168.5v1.2M618.63,266.35v-1.2M618.63,168.5v1.2M637.5,266.35v-1.2M637.5,168.5v1.2M581.1,168.5h1.2M648.7,168.5h-1.2M581.1,184.81h1.2M648.7,184.81h-1.2M581.1,201.12h1.2M648.7,201.12h-1.2M581.1,217.43h1.2M648.7,217.43h-1.2M581.1,233.73h1.2M648.7,233.73h-1.2M581.1,250.04h1.2M648.7,250.04h-1.2M581.1,266.35h1.2M648.7,266.35h-1.2" stroke="#555" stroke-width="0.5" fill="none"/>
<rect x="581.1" y="168.5" width="67.6" height="97.85" fill="none" stroke="#a0a0a0" stroke-width="0.7"/>
<text transform="translate(578.9 172) scale(0.92 1)" font-size="8.8" text-anchor="end" fill="#363636">200</text>
<text transform="translate(578.9 188.31) scale(0.92 1)" font-size="8.8" text-anchor="end" fill="#363636">100</text>
<text transform="translate(578.9 204.62) scale(0.92 1)" font-size="8.8" text-anchor="end" fill="#363636">0</text>
<text transform="translate(578.9 220.93) scale(0.92 1)" font-size="8.8" text-anchor="end" fill="#363636">-100</text>
<text transform="translate(578.9 237.23) scale(0.92 1)" font-size="8.8" text-anchor="end" fill="#363636">-200</text>
<text transform="translate(578.9 253.54) scale(0.92 1)" font-size="8.8" text-anchor="end" fill="#363636">-300</text>
<text transform="translate(578.9 269.85) scale(0.92 1)" font-size="8.8" text-anchor="end" fill="#363636">-400</text>
<text transform="translate(599.64 273.6) scale(0.92 1)" font-size="8.8" text-anchor="middle" fill="#363636">3</text>
<text transform="translate(618.63 273.6) scale(0.92 1)" font-size="8.8" text-anchor="middle" fill="#363636">4</text>
<text transform="translate(637.5 273.6) scale(0.92 1)" font-size="8.8" text-anchor="middle" fill="#363636">5</text>
<text x="614.9" y="166.1" font-size="7.6" text-anchor="middle" font-weight="bold" fill="#000" textLength="11.4" lengthAdjust="spacingAndGlyphs" stroke="#000" stroke-width="0.5">n.s.</text>
<path d="M692.58,37.4V117.4M698.43,37.4V117.4M701.35,37.4V117.4M704.28,37.4V117.4M707.21,37.4V117.4M713.06,37.4V117.4M715.98,37.4V117.4M718.91,37.4V117.4M721.84,37.4V117.4M727.69,37.4V117.4M730.61,37.4V117.4M733.54,37.4V117.4M736.47,37.4V117.4M742.32,37.4V117.4M745.24,37.4V117.4M748.17,37.4V117.4M751.1,37.4V117.4M756.95,37.4V117.4M759.87,37.4V117.4M762.8,37.4V117.4M765.73,37.4V117.4M771.58,37.4V117.4M774.5,37.4V117.4M777.43,37.4V117.4M780.36,37.4V117.4M786.21,37.4V117.4M789.13,37.4V117.4M792.06,37.4V117.4M692.4,108.51H794.4M692.4,104.07H794.4M692.4,99.62H794.4M692.4,90.73H794.4M692.4,86.29H794.4M692.4,81.84H794.4M692.4,72.96H794.4M692.4,68.51H794.4M692.4,64.07H794.4M692.4,55.18H794.4M692.4,50.73H794.4M692.4,46.29H794.4" stroke="#ececec" stroke-width="0.45" stroke-dasharray="1 0.6" fill="none"/>
<path d="M695.5,37.4V117.4M710.13,37.4V117.4M724.76,37.4V117.4M739.39,37.4V117.4M754.02,37.4V117.4M768.65,37.4V117.4M783.28,37.4V117.4M692.4,41.84H794.4M692.4,59.62H794.4M692.4,77.4H794.4M692.4,95.18H794.4M692.4,112.96H794.4" stroke="#e8e8e8" stroke-width="0.5" fill="none"/>
<g transform="translate(751.9,86.4)"><path d="M0.3,7.5 C0.3,4 3,1.2 7,0.5 C11,-0.1 15.5,0.5 18,2.8 C19.8,4.5 20.2,7 19.4,8.8 C18.6,10.2 16.8,10.6 15,10.9 C13.5,11.2 12.5,11.6 11.5,12.3 C10.5,13.2 9,13.2 8.3,12.4 C6.5,11.9 4,11.6 2.3,10.6 C1,9.8 0.3,8.8 0.3,7.5 Z" fill="url(#glat)" stroke="#454545" stroke-width="0.9"/><path d="M10.4,6.5Q9.3,7 8.1,7.1M5.6,4.9Q4.3,6 4.3,7.8M3.9,8.5Q4.2,9.9 3,9.8M11.8,7Q12.5,6.6 13.1,7.7M3.8,3.7Q4.9,4.3 6.3,3.9M10.3,6.2Q10.2,7.2 10.3,9M19.2,10.3Q17.7,10.5 16.7,11.7M7.5,1.4Q7.2,2 5.8,2.9M16.4,9.5Q18,9.5 18.3,9.6M16.3,5Q18.1,4.9 19,5.6M4.9,4.5Q2.8,4.3 1.9,4.8M4.4,1.5Q3.7,2 2.9,2.6M3.8,7.9Q4.4,8.3 6.3,9M7,3.9Q5.1,4.7 3.9,4.2M6.6,4.6Q4.7,6 4.1,5.9M6.2,3.2Q5.1,3.3 4.6,4.7M2.5,6.1Q3.2,7 4.4,8M17.7,4.5Q16.8,5.5 17,7.7M15.9,8.6Q16.9,10 17.2,9.9M6.4,10Q5,9.9 3.9,11M1.6,9.7Q2.2,11.2 3.7,11.6M10.3,3.5Q10.9,3.9 12.8,5.1" clip-path="url(#cl)" fill="none" stroke="#666" stroke-width="0.5"/></g>
<g transform="translate(792.7,86.4) scale(-1,1)"><path d="M0.3,7.5 C0.3,4 3,1.2 7,0.5 C11,-0.1 15.5,0.5 18,2.8 C19.8,4.5 20.2,7 19.4,8.8 C18.6,10.2 16.8,10.6 15,10.9 C13.5,11.2 12.5,11.6 11.5,12.3 C10.5,13.2 9,13.2 8.3,12.4 C6.5,11.9 4,11.6 2.3,10.6 C1,9.8 0.3,8.8 0.3,7.5 Z" fill="url(#glat)" stroke="#454545" stroke-width="0.9"/><path d="M10.4,6.5Q9.3,7 8.1,7.1M5.6,4.9Q4.3,6 4.3,7.8M3.9,8.5Q4.2,9.9 3,9.8M11.8,7Q12.5,6.6 13.1,7.7M3.8,3.7Q4.9,4.3 6.3,3.9M10.3,6.2Q10.2,7.2 10.3,9M19.2,10.3Q17.7,10.5 16.7,11.7M7.5,1.4Q7.2,2 5.8,2.9M16.4,9.5Q18,9.5 18.3,9.6M16.3,5Q18.1,4.9 19,5.6M4.9,4.5Q2.8,4.3 1.9,4.8M4.4,1.5Q3.7,2 2.9,2.6M3.8,7.9Q4.4,8.3 6.3,9M7,3.9Q5.1,4.7 3.9,4.2M6.6,4.6Q4.7,6 4.1,5.9M6.2,3.2Q5.1,3.3 4.6,4.7M2.5,6.1Q3.2,7 4.4,8M17.7,4.5Q16.8,5.5 17,7.7M15.9,8.6Q16.9,10 17.2,9.9M6.4,10Q5,9.9 3.9,11M1.6,9.7Q2.2,11.2 3.7,11.6M10.3,3.5Q10.9,3.9 12.8,5.1" clip-path="url(#cl)" fill="none" stroke="#666" stroke-width="0.5"/><path d="M8.6,9.3 C9.5,8.2 11,7.3 12.1,7.2 C12.4,7.8 11,8.9 9.6,9.7 Z" fill="#f01c1c" stroke="#f01c1c" stroke-width="0.6"/></g>
<g transform="translate(771.9,100.75) scale(-1,1)"><path d="M0.4,8.3 C0.3,5 2.5,2.2 6.5,1 C10,0 14.5,0.3 17.3,2.3 C19.6,4 20.2,7 19.4,9 C18.7,10.3 17.2,10.9 15.6,11.3 C14.9,12.5 13.8,13.5 12.6,13.6 C11.3,13.7 10.6,12.8 10.1,12.1 C8,12 5,11.9 3,11.2 C1.4,10.6 0.5,9.6 0.4,8.3 Z" fill="url(#gmed)" stroke="#707070" stroke-width="0.8"/><path d="M4.5,8 C5.5,4.8 9,3.6 12,3.8 C15,4.1 16.5,5.8 16.5,7.8 C14,7 11,6.8 8,7.3 C6.5,7.6 5.2,7.8 4.5,8 Z" fill="#cbcbcb"/><path d="M11.3,8.7L10.6,10.5M15.7,3.4L17.6,3.5M8.3,1.5L10,2.6M10.6,1.5L11.7,4M18.4,6.8L17,8.7M2.8,1.8L5.7,1.9M12,10.6L14.4,10.7M8.9,7.2L10.5,9.7M4.2,5.6L2.2,7.7M14.9,7.3L12.6,9.1" clip-path="url(#cm)" fill="none" stroke="#8c8c8c" stroke-width="0.45"/><path d="M9.8,11.6 C10.8,12.8 12.5,13.2 14.5,11.8 C13.5,11 11.5,10.8 9.8,11.6 Z" fill="#808080"/></g>
<g transform="translate(772.7,100.75)"><path d="M0.4,8.3 C0.3,5 2.5,2.2 6.5,1 C10,0 14.5,0.3 17.3,2.3 C19.6,4 20.2,7 19.4,9 C18.7,10.3 17.2,10.9 15.6,11.3 C14.9,12.5 13.8,13.5 12.6,13.6 C11.3,13.7 10.6,12.8 10.1,12.1 C8,12 5,11.9 3,11.2 C1.4,10.6 0.5,9.6 0.4,8.3 Z" fill="url(#gmed)" stroke="#707070" stroke-width="0.8"/><path d="M4.5,8 C5.5,4.8 9,3.6 12,3.8 C15,4.1 16.5,5.8 16.5,7.8 C14,7 11,6.8 8,7.3 C6.5,7.6 5.2,7.8 4.5,8 Z" fill="#cbcbcb"/><path d="M11.3,8.7L10.6,10.5M15.7,3.4L17.6,3.5M8.3,1.5L10,2.6M10.6,1.5L11.7,4M18.4,6.8L17,8.7M2.8,1.8L5.7,1.9M12,10.6L14.4,10.7M8.9,7.2L10.5,9.7M4.2,5.6L2.2,7.7M14.9,7.3L12.6,9.1" clip-path="url(#cm)" fill="none" stroke="#8c8c8c" stroke-width="0.45"/><path d="M9.8,11.6 C10.8,12.8 12.5,13.2 14.5,11.8 C13.5,11 11.5,10.8 9.8,11.6 Z" fill="#808080"/></g>
<path d="M692.7,59.4 694,60 695.2,58.8 696.5,47 697.2,62 697.9,114.6 698.8,68.5 699.8,52.2 700.5,52.9 701.4,62 703,67.2 705,73.7 707,84.1 708.2,88 709.5,72.4 710.2,81.5 711.5,68.5 712.8,56.8 714.1,55.5 715.4,58.8 717.4,68.5 718.6,77.6 720,60.7 721.6,81.5 723.2,60.7 724.5,59.4 725.8,65.9 727.8,68.5 729,73.7 730.6,63.3 731.6,78.9 733,75 734.9,70.4 736.9,73.7 738.1,75 739.5,72.4 740.8,69.2 741.7,52.2 743,75 744,74 746,60 747.6,62 749.2,65.9 751.1,70.4 753.1,67.2 755,62 757,53.5 758.3,52.5 759.6,52.9 760.9,53.6 762.2,52.2 763.5,51.1 764.8,51.6 766.8,53.5 768,53.9 769.4,52.2 770.6,59.4 772.6,56.8 773.9,56.7 775.2,58.8 776.5,61 777.8,62 779.1,60 780.4,60 781.7,61.6 783,62 784.3,61.5 785.6,63.3 786.9,63.3 788.2,62 789.5,61.9 790.8,63.3 792.1,63.9 793.4,62 794.1,64" fill="none" stroke="#a8acd8" stroke-width="2.0" stroke-linejoin="round" opacity="0.7"/>
<path d="M692.7,59.4 694,60 695.2,58.8 696.5,47 697.2,62 697.9,114.6 698.8,68.5 699.8,52.2 700.5,52.9 701.4,62 703,67.2 705,73.7 707,84.1 708.2,88 709.5,72.4 710.2,81.5 711.5,68.5 712.8,56.8 714.1,55.5 715.4,58.8 717.4,68.5 718.6,77.6 720,60.7 721.6,81.5 723.2,60.7 724.5,59.4 725.8,65.9 727.8,68.5 729,73.7 730.6,63.3 731.6,78.9 733,75 734.9,70.4 736.9,73.7 738.1,75 739.5,72.4 740.8,69.2 741.7,52.2 743,75 744,74 746,60 747.6,62 749.2,65.9 751.1,70.4 753.1,67.2 755,62 757,53.5 758.3,52.5 759.6,52.9 760.9,53.6 762.2,52.2 763.5,51.1 764.8,51.6 766.8,53.5 768,53.9 769.4,52.2 770.6,59.4 772.6,56.8 773.9,56.7 775.2,58.8 776.5,61 777.8,62 779.1,60 780.4,60 781.7,61.6 783,62 784.3,61.5 785.6,63.3 786.9,63.3 788.2,62 789.5,61.9 790.8,63.3 792.1,63.9 793.4,62 794.1,64" fill="none" stroke="#1c268c" stroke-width="0.6" stroke-linejoin="round"/>
<circle cx="731.91" cy="78.9" r="3.55" fill="none" stroke="#ee1c25" stroke-width="0.9"/>
<circle cx="743.61" cy="73.96" r="3.55" fill="none" stroke="#ee1c25" stroke-width="0.9"/>
<path d="M695.5,117.4v-1.2M695.5,37.4v1.2M710.13,117.4v-1.2M710.13,37.4v1.2M724.76,117.4v-1.2M724.76,37.4v1.2M739.39,117.4v-1.2M739.39,37.4v1.2M754.02,117.4v-1.2M754.02,37.4v1.2M768.65,117.4v-1.2M768.65,37.4v1.2M783.28,117.4v-1.2M783.28,37.4v1.2M692.4,41.84h1.2M794.4,41.84h-1.2M692.4,59.62h1.2M794.4,59.62h-1.2M692.4,77.4h1.2M794.4,77.4h-1.2M692.4,95.18h1.2M794.4,95.18h-1.2M692.4,112.96h1.2M794.4,112.96h-1.2" stroke="#555" stroke-width="0.5" fill="none"/>
<rect x="692.4" y="37.4" width="102" height="80" fill="none" stroke="#a0a0a0" stroke-width="0.7"/>
<text x="690.1" y="44.24" font-size="8.2" text-anchor="end" fill="#363636">40</text>
<text x="690.1" y="62.02" font-size="8.2" text-anchor="end" fill="#363636">0</text>
<text x="690.1" y="79.8" font-size="8.2" text-anchor="end" fill="#363636">-40</text>
<text x="690.1" y="97.58" font-size="8.2" text-anchor="end" fill="#363636">-80</text>
<text x="690.1" y="115.36" font-size="8.2" text-anchor="end" fill="#363636">-120</text>
<text x="695.5" y="125.25" font-size="8.3" text-anchor="middle" fill="#363636">0</text>
<text x="710.13" y="125.25" font-size="8.3" text-anchor="middle" fill="#363636">0.5</text>
<text x="724.76" y="125.25" font-size="8.3" text-anchor="middle" fill="#363636">1</text>
<text x="739.39" y="125.25" font-size="8.3" text-anchor="middle" fill="#363636">1.5</text>
<text x="754.02" y="125.25" font-size="8.3" text-anchor="middle" fill="#363636">2</text>
<text x="768.65" y="125.25" font-size="8.3" text-anchor="middle" fill="#363636">2.5</text>
<text x="783.28" y="125.25" font-size="8.3" text-anchor="middle" fill="#363636">3</text>
<text x="743" y="31.75" font-size="10" text-anchor="middle" textLength="16.4" lengthAdjust="spacingAndGlyphs">NT3</text>
<g transform="translate(693.3,134.1)"><ellipse cx="1.3" cy="-1" rx="1.35" ry="0.95" transform="rotate(-20 1.3 -1)" fill="#111"/><path d="M2.45,-1.2 V-5.6 C3.2,-4.6 4.5,-4 4.2,-2.3" fill="none" stroke="#111" stroke-width="0.6"/></g>
<g transform="translate(704.15,134.1)"><ellipse cx="1.3" cy="-1" rx="1.35" ry="0.95" transform="rotate(-20 1.3 -1)" fill="#111"/><path d="M2.45,-1.2 V-5.6 C3.2,-4.6 4.5,-4 4.2,-2.3" fill="none" stroke="#111" stroke-width="0.6"/></g>
<g transform="translate(715,134.1)"><ellipse cx="1.3" cy="-1" rx="1.35" ry="0.95" transform="rotate(-20 1.3 -1)" fill="#111"/><path d="M2.45,-1.2 V-5.6 C3.2,-4.6 4.5,-4 4.2,-2.3" fill="none" stroke="#111" stroke-width="0.6"/></g>
<g transform="translate(725.85,134.1)"><ellipse cx="1.3" cy="-1" rx="1.35" ry="0.95" transform="rotate(-20 1.3 -1)" fill="#111"/><path d="M2.45,-1.2 V-5.6 C3.2,-4.6 4.5,-4 4.2,-2.3" fill="none" stroke="#111" stroke-width="0.6"/></g>
<path d="M724.55,135.25v1h7.4v-1" fill="none" stroke="#1c268c" stroke-width="0.65" opacity="0.75"/>
<g transform="translate(736.7,134.1)"><ellipse cx="1.3" cy="-1" rx="1.35" ry="0.95" transform="rotate(-20 1.3 -1)" fill="#111"/><path d="M2.45,-1.2 V-5.6 C3.2,-4.6 4.5,-4 4.2,-2.3" fill="none" stroke="#111" stroke-width="0.6"/></g>
<path d="M735.4,135.25v1h7.4v-1" fill="none" stroke="#1c268c" stroke-width="0.65" opacity="0.75"/>
<path d="M713.07,168.5V266.35M719.62,168.5V266.35M726.18,168.5V266.35M739.28,168.5V266.35M745.84,168.5V266.35M752.39,168.5V266.35M758.94,168.5V266.35M772.05,168.5V266.35M709.5,262.44H776.9M709.5,258.52H776.9M709.5,254.61H776.9M709.5,250.69H776.9M709.5,242.87H776.9M709.5,238.95H776.9M709.5,235.04H776.9M709.5,231.12H776.9M709.5,223.3H776.9M709.5,219.38H776.9M709.5,215.47H776.9M709.5,211.55H776.9M709.5,203.73H776.9M709.5,199.81H776.9M709.5,195.9H776.9M709.5,191.98H776.9M709.5,184.16H776.9M709.5,180.24H776.9M709.5,176.33H776.9M709.5,172.41H776.9" stroke="#ececec" stroke-width="0.45" stroke-dasharray="1 0.6" fill="none"/>
<path d="M732.73,168.5V266.35M765.5,168.5V266.35M709.5,188.07H776.9M709.5,207.64H776.9M709.5,227.21H776.9M709.5,246.78H776.9" stroke="#e8e8e8" stroke-width="0.5" fill="none"/>
<path d="M732.7,181.7L732.5,181.7 732.5,182.2 732.5,182.7 732.4,183.2 732.4,183.7 732.3,184.2 732.3,184.7 732.2,185.2 732.1,185.7 732.1,186.2 732,186.7 731.9,187.2 731.8,187.7 731.8,188.2 731.7,188.7 731.6,189.2 731.5,189.7 731.4,190.2 731.3,190.7 731.2,191.2 731,191.7 730.9,192.2 730.8,192.7 730.7,193.2 730.5,193.7 730.4,194.2 730.3,194.7 730.1,195.2 730,195.7 729.8,196.2 729.6,196.7 729.4,197.2 729.1,197.7 728.8,198.2 728.4,198.7 728,199.2 727.5,199.7 727,200.2 726.5,200.7 725.9,201.2 725.3,201.7 724.6,202.2 724,202.7 723.3,203.2 722.6,203.7 722,204.3 721.3,204.8 720.7,205.3 720,205.8 719.5,206.3 718.9,206.8 718.4,207.3 718,207.8 717.6,208.3 717.3,208.8 717,209.3 716.8,209.8 716.6,210.3 716.4,210.8 716.3,211.3 716.2,211.8 716.1,212.3 716.1,212.8 716,213.3 716,213.8 716,214.3 716,214.8 716.1,215.3 716.1,215.8 716.2,216.3 716.3,216.8 716.4,217.3 716.6,217.8 716.7,218.3 716.9,218.8 717.2,219.3 717.5,219.8 717.8,220.3 718.2,220.8 718.7,221.3 719.2,221.8 719.7,222.3 720.4,222.8 721,223.3 721.8,223.8 722.5,224.3 723.3,224.8 724.1,225.3 725,225.8 725.8,226.3 726.6,226.8 727.3,227.3 728,227.8 728.6,228.3 729.2,228.8 729.6,229.3 730,229.8 730.3,230.3 730.5,230.8 730.7,231.3 730.8,231.8 730.9,232.3 731,232.8 731.1,233.3 731.1,233.8 731.1,234.3 731.1,234.8 731.1,235.3 731.2,235.8 731.2,236.3 731.2,236.8 731.2,237.3 731.2,237.8 731.2,238.3 731.2,238.8 731.2,239.3 731.2,239.8 731.2,240.3 731.3,240.9 731.3,241.4 731.3,241.9 731.3,242.4 731.3,242.9 731.3,243.4 731.3,243.9 731.3,244.4 731.4,244.9 731.4,245.4 731.4,245.9 731.4,246.4 731.5,246.9 731.5,247.4 731.6,247.9 731.6,248.4 731.6,248.9 731.7,249.4 731.7,249.9 731.8,250.4 731.8,250.9 731.9,251.4 732,251.9 732,252.4 732.1,252.9 732.1,253.4 732.2,253.9 732.2,254.4 732.3,254.9 732.3,255.4 732.4,255.9 732.4,256.4 732.5,256.9 732.5,257.4 732.7,257.4Z" fill="#0000cd"/>
<path d="M737.3,230h0M741,225h0M738.8,189.8h0M740.6,199.8h0M738.9,214.7h0M738.5,225.6h0M738,203.5h0M739.1,236.1h0M738.1,219.2h0M739.7,242h0M741.3,207h0M739.7,207.1h0M738.9,211h0M738.8,242.8h0M740.7,218.1h0M738.5,221.9h0M740.1,241.8h0M737.8,190.6h0M741.3,214.2h0M739.3,197.1h0M740.2,224.2h0M740.3,205.3h0M739,217.6h0M740.5,229h0M741.4,211.3h0M737.6,229.8h0M739.2,212.7h0M737.9,236h0M736.9,194.3h0M737.7,198.7h0M737.7,212.6h0M737,239.7h0M741.3,209.4h0M736.6,210.1h0M738.2,224.4h0M737.1,222.3h0M740.7,215.4h0M737.8,235.1h0M740.2,212.9h0M740.2,200.8h0M738,209.3h0M737.6,220.2h0M740.3,204h0M738,220.7h0M737.4,204.4h0M739.1,203.2h0M738.3,229.1h0M737.7,195.1h0M739.5,246.4h0M738.2,234.9h0M737.9,232.9h0M737,217.9h0M738.9,220.3h0M736.7,242.5h0M736.4,206h0M739.7,195.2h0M738.3,214.4h0M740.4,211.8h0M739.7,197.5h0M741,218.4h0M740.6,233h0M736.7,241.1h0M739.4,230.6h0M736.4,233.7h0M737.5,237.8h0M739.8,215.4h0M738,236.5h0M740.7,192.8h0M736,219.1h0M737.5,196.8h0" stroke="#2232de" stroke-width="1.05" stroke-linecap="round" opacity="0.85"/>
<circle cx="732.73" cy="214.68" r="1.05" fill="#0a0a3a"/>
<path d="M765.5,179.4L765.3,179.4 765.3,179.9 765.3,180.4 765.3,180.9 765.2,181.4 765.2,181.9 765.1,182.4 765.1,182.9 765,183.4 765,183.9 764.9,184.5 764.9,185 764.8,185.5 764.8,186 764.7,186.5 764.6,187 764.5,187.5 764.5,188 764.4,188.5 764.3,189 764.1,189.5 764,190 763.9,190.5 763.7,191 763.5,191.5 763.3,192 763.1,192.5 762.9,193 762.6,193.5 762.4,194 762.1,194.5 761.7,195 761.4,195.5 761,196 760.6,196.5 760.1,197 759.7,197.5 759.2,198 758.7,198.5 758.2,199 757.7,199.5 757.2,200 756.7,200.5 756.2,201 755.7,201.5 755.2,202 754.7,202.5 754.3,203 753.8,203.5 753.4,204 753,204.5 752.6,205 752.2,205.5 751.9,206 751.6,206.5 751.3,207.1 751,207.6 750.7,208.1 750.5,208.6 750.4,209.1 750.2,209.6 750.1,210.1 750,210.6 749.9,211.1 749.9,211.6 749.9,212.1 749.9,212.6 750,213.1 750.1,213.6 750.1,214.1 750.3,214.6 750.4,215.1 750.6,215.6 750.7,216.1 751,216.6 751.2,217.1 751.5,217.6 751.8,218.1 752.2,218.6 752.5,219.1 752.9,219.6 753.4,220.1 753.8,220.6 754.3,221.1 754.8,221.6 755.3,222.1 755.9,222.6 756.5,223.1 757,223.6 757.6,224.1 758.2,224.6 758.7,225.1 759.2,225.6 759.7,226.1 760.2,226.6 760.6,227.1 761.1,227.6 761.4,228.1 761.8,228.6 762.1,229.1 762.4,229.6 762.7,230.2 763,230.7 763.2,231.2 763.4,231.7 763.6,232.2 763.7,232.7 763.9,233.2 764,233.7 764.1,234.2 764.2,234.7 764.3,235.2 764.3,235.7 764.4,236.2 764.4,236.7 764.5,237.2 764.5,237.7 764.5,238.2 764.6,238.7 764.6,239.2 764.6,239.7 764.7,240.2 764.7,240.7 764.7,241.2 764.7,241.7 764.8,242.2 764.8,242.7 764.8,243.2 764.8,243.7 764.9,244.2 764.9,244.7 764.9,245.2 764.9,245.7 764.9,246.2 765,246.7 765,247.2 765,247.7 765,248.2 765.1,248.7 765.1,249.2 765.1,249.7 765.1,250.2 765.2,250.7 765.2,251.2 765.2,251.7 765.3,252.2 765.3,252.8 765.3,253.3 765.3,253.8 765.4,254.3 765.4,254.8 765.4,255.3 765.4,255.8 765.4,256.3 765.5,256.3Z" fill="#0000cd"/>
<path d="M773.3,202h0M773.4,217.6h0M770.7,215.7h0M771.9,226.9h0M773.5,215.3h0M768.9,220.5h0M771.6,191.2h0M769.1,207.2h0M772,231.4h0M770,200.8h0M773.3,247h0M774.3,208.6h0M771.4,212.6h0M772.7,199.6h0M770.7,217.7h0M769.9,207.1h0M771.2,219.3h0M772.7,218h0M772.7,212.3h0M774.1,232.7h0M772.8,231.2h0M769.9,225.8h0M772.3,223.6h0M770.8,201.9h0M770.5,193.6h0M769.7,191.7h0M771.3,227.5h0M769.4,203.3h0M774.3,215.4h0M771.4,235.4h0M769.4,197h0M771.6,202.9h0M773.8,213.5h0M774.2,244.1h0M772.9,215.5h0M769.5,220.5h0M770,196.5h0M773.4,212.6h0M769,216.3h0M769.2,220.4h0M772.3,214.5h0M772.3,217.5h0M770.9,214.4h0M772.1,234.4h0M772,216.8h0M771.2,230.3h0M772.8,223.6h0M772.5,204h0M772.4,203.4h0M769.6,216.8h0M769.1,224.1h0M774.3,215.3h0M773.4,200.4h0M769,232.3h0M774.2,224.1h0M769,191.8h0M772.5,219.7h0M773.9,226.4h0M769.6,210.7h0M774.2,213.8h0M773.3,200.4h0M771.6,209.1h0M773.9,218.2h0M773.5,193.9h0M772.2,218.5h0M773.2,203.3h0M770.4,224.9h0M768.8,217.6h0M773.4,191h0M769.5,216h0" stroke="#2232de" stroke-width="1.05" stroke-linecap="round" opacity="0.85"/>
<circle cx="765.5" cy="213.55" r="1.05" fill="#0a0a3a"/>
<path d="M732.73,266.35v-1.2M732.73,168.5v1.2M765.5,266.35v-1.2M765.5,168.5v1.2M709.5,168.5h1.2M776.9,168.5h-1.2M709.5,188.07h1.2M776.9,188.07h-1.2M709.5,207.64h1.2M776.9,207.64h-1.2M709.5,227.21h1.2M776.9,227.21h-1.2M709.5,246.78h1.2M776.9,246.78h-1.2M709.5,266.35h1.2M776.9,266.35h-1.2" stroke="#555" stroke-width="0.5" fill="none"/>
<rect x="709.5" y="168.5" width="67.4" height="97.85" fill="none" stroke="#a0a0a0" stroke-width="0.7"/>
<text transform="translate(707.3 172) scale(0.92 1)" font-size="8.8" text-anchor="end" fill="#363636">200</text>
<text transform="translate(707.3 191.57) scale(0.92 1)" font-size="8.8" text-anchor="end" fill="#363636">100</text>
<text transform="translate(707.3 211.14) scale(0.92 1)" font-size="8.8" text-anchor="end" fill="#363636">0</text>
<text transform="translate(707.3 230.71) scale(0.92 1)" font-size="8.8" text-anchor="end" fill="#363636">-100</text>
<text transform="translate(707.3 250.28) scale(0.92 1)" font-size="8.8" text-anchor="end" fill="#363636">-200</text>
<text transform="translate(707.3 269.85) scale(0.92 1)" font-size="8.8" text-anchor="end" fill="#363636">-300</text>
<text transform="translate(732.73 273.6) scale(0.92 1)" font-size="8.8" text-anchor="middle" fill="#363636">4</text>
<text transform="translate(765.5 273.6) scale(0.92 1)" font-size="8.8" text-anchor="middle" fill="#363636">5</text>
<text x="743.2" y="166.1" font-size="7.6" text-anchor="middle" font-weight="bold" fill="#000" textLength="11.4" lengthAdjust="spacingAndGlyphs" stroke="#000" stroke-width="0.5">n.s.</text>
<text x="196.32" y="315.65" font-size="10.3" text-anchor="middle" font-weight="bold" fill="#000" textLength="80.55" lengthAdjust="spacingAndGlyphs" stroke="#000" stroke-width="0.5">Left hippocampus</text>
<path d="M30.58,338.25V418.3M36.43,338.25V418.3M39.36,338.25V418.3M42.29,338.25V418.3M45.22,338.25V418.3M51.08,338.25V418.3M54.01,338.25V418.3M56.94,338.25V418.3M59.86,338.25V418.3M65.72,338.25V418.3M68.65,338.25V418.3M71.58,338.25V418.3M74.51,338.25V418.3M80.37,338.25V418.3M83.3,338.25V418.3M86.22,338.25V418.3M89.15,338.25V418.3M95.01,338.25V418.3M97.94,338.25V418.3M100.87,338.25V418.3M103.8,338.25V418.3M109.65,338.25V418.3M112.58,338.25V418.3M115.51,338.25V418.3M118.44,338.25V418.3M124.3,338.25V418.3M127.23,338.25V418.3M130.16,338.25V418.3M30.4,414.3H132.5M30.4,410.3H132.5M30.4,406.29H132.5M30.4,398.29H132.5M30.4,394.29H132.5M30.4,390.28H132.5M30.4,382.28H132.5M30.4,378.27H132.5M30.4,374.27H132.5M30.4,366.27H132.5M30.4,362.26H132.5M30.4,358.26H132.5M30.4,350.26H132.5M30.4,346.25H132.5M30.4,342.25H132.5" stroke="#ececec" stroke-width="0.45" stroke-dasharray="1 0.6" fill="none"/>
<path d="M33.5,338.25V418.3M48.15,338.25V418.3M62.79,338.25V418.3M77.44,338.25V418.3M92.08,338.25V418.3M106.73,338.25V418.3M121.37,338.25V418.3M30.4,354.26H132.5M30.4,370.27H132.5M30.4,386.28H132.5M30.4,402.29H132.5" stroke="#e8e8e8" stroke-width="0.5" fill="none"/>
<g transform="translate(90,387.3)"><path d="M0.3,7.5 C0.3,4 3,1.2 7,0.5 C11,-0.1 15.5,0.5 18,2.8 C19.8,4.5 20.2,7 19.4,8.8 C18.6,10.2 16.8,10.6 15,10.9 C13.5,11.2 12.5,11.6 11.5,12.3 C10.5,13.2 9,13.2 8.3,12.4 C6.5,11.9 4,11.6 2.3,10.6 C1,9.8 0.3,8.8 0.3,7.5 Z" fill="url(#glat)" stroke="#454545" stroke-width="0.9"/><path d="M10.4,6.5Q9.3,7 8.1,7.1M5.6,4.9Q4.3,6 4.3,7.8M3.9,8.5Q4.2,9.9 3,9.8M11.8,7Q12.5,6.6 13.1,7.7M3.8,3.7Q4.9,4.3 6.3,3.9M10.3,6.2Q10.2,7.2 10.3,9M19.2,10.3Q17.7,10.5 16.7,11.7M7.5,1.4Q7.2,2 5.8,2.9M16.4,9.5Q18,9.5 18.3,9.6M16.3,5Q18.1,4.9 19,5.6M4.9,4.5Q2.8,4.3 1.9,4.8M4.4,1.5Q3.7,2 2.9,2.6M3.8,7.9Q4.4,8.3 6.3,9M7,3.9Q5.1,4.7 3.9,4.2M6.6,4.6Q4.7,6 4.1,5.9M6.2,3.2Q5.1,3.3 4.6,4.7M2.5,6.1Q3.2,7 4.4,8M17.7,4.5Q16.8,5.5 17,7.7M15.9,8.6Q16.9,10 17.2,9.9M6.4,10Q5,9.9 3.9,11M1.6,9.7Q2.2,11.2 3.7,11.6M10.3,3.5Q10.9,3.9 12.8,5.1" clip-path="url(#cl)" fill="none" stroke="#666" stroke-width="0.5"/></g>
<g transform="translate(130.8,387.3) scale(-1,1)"><path d="M0.3,7.5 C0.3,4 3,1.2 7,0.5 C11,-0.1 15.5,0.5 18,2.8 C19.8,4.5 20.2,7 19.4,8.8 C18.6,10.2 16.8,10.6 15,10.9 C13.5,11.2 12.5,11.6 11.5,12.3 C10.5,13.2 9,13.2 8.3,12.4 C6.5,11.9 4,11.6 2.3,10.6 C1,9.8 0.3,8.8 0.3,7.5 Z" fill="url(#glat)" stroke="#454545" stroke-width="0.9"/><path d="M10.4,6.5Q9.3,7 8.1,7.1M5.6,4.9Q4.3,6 4.3,7.8M3.9,8.5Q4.2,9.9 3,9.8M11.8,7Q12.5,6.6 13.1,7.7M3.8,3.7Q4.9,4.3 6.3,3.9M10.3,6.2Q10.2,7.2 10.3,9M19.2,10.3Q17.7,10.5 16.7,11.7M7.5,1.4Q7.2,2 5.8,2.9M16.4,9.5Q18,9.5 18.3,9.6M16.3,5Q18.1,4.9 19,5.6M4.9,4.5Q2.8,4.3 1.9,4.8M4.4,1.5Q3.7,2 2.9,2.6M3.8,7.9Q4.4,8.3 6.3,9M7,3.9Q5.1,4.7 3.9,4.2M6.6,4.6Q4.7,6 4.1,5.9M6.2,3.2Q5.1,3.3 4.6,4.7M2.5,6.1Q3.2,7 4.4,8M17.7,4.5Q16.8,5.5 17,7.7M15.9,8.6Q16.9,10 17.2,9.9M6.4,10Q5,9.9 3.9,11M1.6,9.7Q2.2,11.2 3.7,11.6M10.3,3.5Q10.9,3.9 12.8,5.1" clip-path="url(#cl)" fill="none" stroke="#666" stroke-width="0.5"/></g>
<g transform="translate(110,401.65) scale(-1,1)"><path d="M0.4,8.3 C0.3,5 2.5,2.2 6.5,1 C10,0 14.5,0.3 17.3,2.3 C19.6,4 20.2,7 19.4,9 C18.7,10.3 17.2,10.9 15.6,11.3 C14.9,12.5 13.8,13.5 12.6,13.6 C11.3,13.7 10.6,12.8 10.1,12.1 C8,12 5,11.9 3,11.2 C1.4,10.6 0.5,9.6 0.4,8.3 Z" fill="url(#gmed)" stroke="#707070" stroke-width="0.8"/><path d="M4.5,8 C5.5,4.8 9,3.6 12,3.8 C15,4.1 16.5,5.8 16.5,7.8 C14,7 11,6.8 8,7.3 C6.5,7.6 5.2,7.8 4.5,8 Z" fill="#cbcbcb"/><path d="M11.3,8.7L10.6,10.5M15.7,3.4L17.6,3.5M8.3,1.5L10,2.6M10.6,1.5L11.7,4M18.4,6.8L17,8.7M2.8,1.8L5.7,1.9M12,10.6L14.4,10.7M8.9,7.2L10.5,9.7M4.2,5.6L2.2,7.7M14.9,7.3L12.6,9.1" clip-path="url(#cm)" fill="none" stroke="#8c8c8c" stroke-width="0.45"/><path d="M9.8,11.6 C10.8,12.8 12.5,13.2 14.5,11.8 C13.5,11 11.5,10.8 9.8,11.6 Z" fill="#808080"/><path d="M6,12.6 C6.6,11.6 8.5,11.3 10,10.6 C11,10.1 11.8,9.3 12.6,9.5 C13,10.4 12.4,11.6 11.2,12.4 C9.8,13.3 7.6,13.8 6.3,13.4 Z" fill="#f01c1c"/></g>
<g transform="translate(110.8,401.65)"><path d="M0.4,8.3 C0.3,5 2.5,2.2 6.5,1 C10,0 14.5,0.3 17.3,2.3 C19.6,4 20.2,7 19.4,9 C18.7,10.3 17.2,10.9 15.6,11.3 C14.9,12.5 13.8,13.5 12.6,13.6 C11.3,13.7 10.6,12.8 10.1,12.1 C8,12 5,11.9 3,11.2 C1.4,10.6 0.5,9.6 0.4,8.3 Z" fill="url(#gmed)" stroke="#707070" stroke-width="0.8"/><path d="M4.5,8 C5.5,4.8 9,3.6 12,3.8 C15,4.1 16.5,5.8 16.5,7.8 C14,7 11,6.8 8,7.3 C6.5,7.6 5.2,7.8 4.5,8 Z" fill="#cbcbcb"/><path d="M11.3,8.7L10.6,10.5M15.7,3.4L17.6,3.5M8.3,1.5L10,2.6M10.6,1.5L11.7,4M18.4,6.8L17,8.7M2.8,1.8L5.7,1.9M12,10.6L14.4,10.7M8.9,7.2L10.5,9.7M4.2,5.6L2.2,7.7M14.9,7.3L12.6,9.1" clip-path="url(#cm)" fill="none" stroke="#8c8c8c" stroke-width="0.45"/><path d="M9.8,11.6 C10.8,12.8 12.5,13.2 14.5,11.8 C13.5,11 11.5,10.8 9.8,11.6 Z" fill="#808080"/></g>
<path d="M30.7,370.1 31.3,369.5 31.9,368.9 33.2,371.4 34.5,370.1 35.5,359.8 36.2,365.6 36.8,402 37.5,373.4 38.5,363 39.1,370.8 40.1,373.4 41.4,358.4 43,363 44.3,366.9 45.6,378.6 46.9,383.8 47.9,370.8 48.8,379.9 50.1,392.2 52.1,381.2 53.4,373.4 54.7,372.1 56,374.7 56.6,376 57.6,372.8 58.6,369.5 59.6,386.4 61.8,388.7 63.8,379.9 65.1,377.3 66.4,373.4 67.7,374.7 69,366.9 70,378.6 71.3,383.1 72.9,374.7 74.8,370.8 76.8,372.1 78.1,371.5 79.4,372.1 80.7,374.7 82,380.6 83.9,383.1 85.9,374.7 87.2,368.9 89.2,372.1 90.5,373.1 91.8,372.8 93,374.1 94.3,371.4 95.6,366.9 97.6,363 99.5,361.7 100.8,364.3 102.8,366.9 104.8,368.9 106.7,369.5 108,369.7 109.3,371.4 110.6,371.4 111.9,370.1 113.2,369.9 114.5,372.1 116.5,368.9 118.1,368.8 119.7,366.9 121,370.8 122.3,370.4 123.6,371.4 124.9,372.3 126.2,372.1 127.5,372 128.8,374.1 130.1,374.9 131.4,373.4 132.2,376" fill="none" stroke="#b0d4e6" stroke-width="2.0" stroke-linejoin="round" opacity="0.7"/>
<path d="M30.7,370.1 31.3,369.5 31.9,368.9 33.2,371.4 34.5,370.1 35.5,359.8 36.2,365.6 36.8,402 37.5,373.4 38.5,363 39.1,370.8 40.1,373.4 41.4,358.4 43,363 44.3,366.9 45.6,378.6 46.9,383.8 47.9,370.8 48.8,379.9 50.1,392.2 52.1,381.2 53.4,373.4 54.7,372.1 56,374.7 56.6,376 57.6,372.8 58.6,369.5 59.6,386.4 61.8,388.7 63.8,379.9 65.1,377.3 66.4,373.4 67.7,374.7 69,366.9 70,378.6 71.3,383.1 72.9,374.7 74.8,370.8 76.8,372.1 78.1,371.5 79.4,372.1 80.7,374.7 82,380.6 83.9,383.1 85.9,374.7 87.2,368.9 89.2,372.1 90.5,373.1 91.8,372.8 93,374.1 94.3,371.4 95.6,366.9 97.6,363 99.5,361.7 100.8,364.3 102.8,366.9 104.8,368.9 106.7,369.5 108,369.7 109.3,371.4 110.6,371.4 111.9,370.1 113.2,369.9 114.5,372.1 116.5,368.9 118.1,368.8 119.7,366.9 121,370.8 122.3,370.4 123.6,371.4 124.9,372.3 126.2,372.1 127.5,372 128.8,374.1 130.1,374.9 131.4,373.4 132.2,376" fill="none" stroke="#3c8ab6" stroke-width="0.6" stroke-linejoin="round"/>
<circle cx="50.15" cy="392.25" r="3.55" fill="none" stroke="#ee1c25" stroke-width="0.9"/>
<circle cx="60.94" cy="388.74" r="3.55" fill="none" stroke="#ee1c25" stroke-width="0.9"/>
<circle cx="70.95" cy="383.15" r="3.55" fill="none" stroke="#ee1c25" stroke-width="0.9"/>
<circle cx="83.04" cy="383.15" r="3.55" fill="none" stroke="#ee1c25" stroke-width="0.9"/>
<path d="M33.5,418.3v-1.2M33.5,338.25v1.2M48.15,418.3v-1.2M48.15,338.25v1.2M62.79,418.3v-1.2M62.79,338.25v1.2M77.44,418.3v-1.2M77.44,338.25v1.2M92.08,418.3v-1.2M92.08,338.25v1.2M106.73,418.3v-1.2M106.73,338.25v1.2M121.37,418.3v-1.2M121.37,338.25v1.2M30.4,338.25h1.2M132.5,338.25h-1.2M30.4,354.26h1.2M132.5,354.26h-1.2M30.4,370.27h1.2M132.5,370.27h-1.2M30.4,386.28h1.2M132.5,386.28h-1.2M30.4,402.29h1.2M132.5,402.29h-1.2M30.4,418.3h1.2M132.5,418.3h-1.2" stroke="#555" stroke-width="0.5" fill="none"/>
<rect x="30.4" y="338.25" width="102.1" height="80.05" fill="none" stroke="#a0a0a0" stroke-width="0.7"/>
<text x="28.1" y="340.65" font-size="8.2" text-anchor="end" fill="#363636">40</text>
<text x="28.1" y="356.66" font-size="8.2" text-anchor="end" fill="#363636">20</text>
<text x="28.1" y="372.67" font-size="8.2" text-anchor="end" fill="#363636">0</text>
<text x="28.1" y="388.68" font-size="8.2" text-anchor="end" fill="#363636">-20</text>
<text x="28.1" y="404.69" font-size="8.2" text-anchor="end" fill="#363636">-40</text>
<text x="28.1" y="420.7" font-size="8.2" text-anchor="end" fill="#363636">-60</text>
<text x="33.5" y="425.05" font-size="8.3" text-anchor="middle" fill="#363636">0</text>
<text x="48.15" y="425.05" font-size="8.3" text-anchor="middle" fill="#363636">0.5</text>
<text x="62.79" y="425.05" font-size="8.3" text-anchor="middle" fill="#363636">1</text>
<text x="77.44" y="425.05" font-size="8.3" text-anchor="middle" fill="#363636">1.5</text>
<text x="92.08" y="425.05" font-size="8.3" text-anchor="middle" fill="#363636">2</text>
<text x="106.73" y="425.05" font-size="8.3" text-anchor="middle" fill="#363636">2.5</text>
<text x="121.37" y="425.05" font-size="8.3" text-anchor="middle" fill="#363636">3</text>
<text x="81.05" y="332.75" font-size="10" text-anchor="middle" textLength="16.4" lengthAdjust="spacingAndGlyphs">NT1</text>
<g transform="translate(31.3,433.9)"><ellipse cx="1.3" cy="-1" rx="1.35" ry="0.95" transform="rotate(-20 1.3 -1)" fill="#111"/><path d="M2.45,-1.2 V-5.6 C3.2,-4.6 4.5,-4 4.2,-2.3" fill="none" stroke="#111" stroke-width="0.6"/></g>
<g transform="translate(42.15,433.9)"><ellipse cx="1.3" cy="-1" rx="1.35" ry="0.95" transform="rotate(-20 1.3 -1)" fill="#111"/><path d="M2.45,-1.2 V-5.6 C3.2,-4.6 4.5,-4 4.2,-2.3" fill="none" stroke="#111" stroke-width="0.6"/></g>
<path d="M40.85,435.1v1h7.4v-1" fill="none" stroke="#3c8ab6" stroke-width="0.65" opacity="0.75"/>
<g transform="translate(53,433.9)"><ellipse cx="1.3" cy="-1" rx="1.35" ry="0.95" transform="rotate(-20 1.3 -1)" fill="#111"/><path d="M2.45,-1.2 V-5.6 C3.2,-4.6 4.5,-4 4.2,-2.3" fill="none" stroke="#111" stroke-width="0.6"/></g>
<path d="M51.7,435.1v1h7.4v-1" fill="none" stroke="#3c8ab6" stroke-width="0.65" opacity="0.75"/>
<g transform="translate(63.85,433.9)"><ellipse cx="1.3" cy="-1" rx="1.35" ry="0.95" transform="rotate(-20 1.3 -1)" fill="#111"/><path d="M2.45,-1.2 V-5.6 C3.2,-4.6 4.5,-4 4.2,-2.3" fill="none" stroke="#111" stroke-width="0.6"/></g>
<path d="M62.55,435.1v1h7.4v-1" fill="none" stroke="#3c8ab6" stroke-width="0.65" opacity="0.75"/>
<g transform="translate(74.7,433.9)"><ellipse cx="1.3" cy="-1" rx="1.35" ry="0.95" transform="rotate(-20 1.3 -1)" fill="#111"/><path d="M2.45,-1.2 V-5.6 C3.2,-4.6 4.5,-4 4.2,-2.3" fill="none" stroke="#111" stroke-width="0.6"/></g>
<path d="M73.4,435.1v1h7.4v-1" fill="none" stroke="#3c8ab6" stroke-width="0.65" opacity="0.75"/>
<text x="81.6" y="447.9" font-size="9.5" text-anchor="middle" textLength="31.6" lengthAdjust="spacingAndGlyphs">Time (s)</text>
<text x="10.7" y="379.85" font-size="9.4" text-anchor="middle" textLength="84.7" lengthAdjust="spacingAndGlyphs" transform="rotate(-90 10.7 379.85)">Neural activity index</text>
<path d="M51.8,469.6V567.35M54.64,469.6V567.35M57.48,469.6V567.35M60.32,469.6V567.35M66,469.6V567.35M68.84,469.6V567.35M71.68,469.6V567.35M74.52,469.6V567.35M80.2,469.6V567.35M83.04,469.6V567.35M85.88,469.6V567.35M88.72,469.6V567.35M94.4,469.6V567.35M97.24,469.6V567.35M100.08,469.6V567.35M102.92,469.6V567.35M108.6,469.6V567.35M111.44,469.6V567.35M114.28,469.6V567.35M47.5,563.44H115.5M47.5,559.53H115.5M47.5,555.62H115.5M47.5,551.71H115.5M47.5,543.89H115.5M47.5,539.98H115.5M47.5,536.07H115.5M47.5,532.16H115.5M47.5,524.34H115.5M47.5,520.43H115.5M47.5,516.52H115.5M47.5,512.61H115.5M47.5,504.79H115.5M47.5,500.88H115.5M47.5,496.97H115.5M47.5,493.06H115.5M47.5,485.24H115.5M47.5,481.33H115.5M47.5,477.42H115.5M47.5,473.51H115.5" stroke="#ececec" stroke-width="0.45" stroke-dasharray="1 0.6" fill="none"/>
<path d="M63.16,469.6V567.35M77.28,469.6V567.35M91.63,469.6V567.35M105.76,469.6V567.35M47.5,489.15H115.5M47.5,508.7H115.5M47.5,528.25H115.5M47.5,547.8H115.5" stroke="#e8e8e8" stroke-width="0.5" fill="none"/>
<path d="M63.2,480.4L63.1,480.4 63.1,480.9 63.1,481.4 63.1,481.9 63.1,482.4 63.1,482.9 63,483.4 63,483.9 63,484.4 63,484.9 63,485.4 63,485.9 63,486.4 62.9,486.9 62.9,487.4 62.9,487.9 62.9,488.5 62.8,489 62.8,489.5 62.8,490 62.7,490.5 62.7,491 62.6,491.5 62.6,492 62.5,492.5 62.4,493 62.3,493.5 62.2,494 62.2,494.5 62.1,495 62,495.5 61.9,496 61.7,496.5 61.6,497 61.5,497.5 61.4,498 61.2,498.5 61.1,499 60.9,499.5 60.8,500 60.6,500.5 60.5,501 60.3,501.5 60.1,502 59.9,502.5 59.7,503 59.5,503.5 59.3,504 59,504.5 58.8,505 58.6,505.5 58.4,506 58.2,506.5 58,507 57.7,507.5 57.6,508 57.4,508.5 57.2,509 57,509.5 56.9,510 56.7,510.5 56.6,511 56.5,511.5 56.4,512 56.3,512.5 56.3,513 56.3,513.5 56.3,514 56.3,514.5 56.3,515 56.4,515.5 56.5,516 56.6,516.5 56.7,517 56.9,517.5 57,518 57.2,518.5 57.3,519 57.5,519.5 57.7,520 57.9,520.5 58.1,521 58.3,521.5 58.5,522 58.7,522.5 58.9,523 59.1,523.5 59.2,524 59.4,524.5 59.6,525.1 59.8,525.6 59.9,526.1 60.1,526.6 60.2,527.1 60.4,527.6 60.5,528.1 60.7,528.6 60.8,529.1 60.9,529.6 61,530.1 61.2,530.6 61.3,531.1 61.4,531.6 61.5,532.1 61.6,532.6 61.7,533.1 61.7,533.6 61.8,534.1 61.9,534.6 62,535.1 62,535.6 62.1,536.1 62.1,536.6 62.2,537.1 62.3,537.6 62.3,538.1 62.4,538.6 62.4,539.1 62.5,539.6 62.5,540.1 62.6,540.6 62.6,541.1 62.6,541.6 62.7,542.1 62.7,542.6 62.7,543.1 62.7,543.6 62.8,544.1 62.8,544.6 62.8,545.1 62.9,545.6 62.9,546.1 62.9,546.6 62.9,547.1 62.9,547.6 63,548.1 63,548.6 63,549.1 63,549.6 63,550.1 63.1,550.6 63.1,551.1 63.1,551.6 63.1,552.1 63.1,552.6 63.1,553.1 63.1,553.6 63.1,554.1 63.1,554.6 63.1,555.1 63.1,555.6 63.1,556.1 63.2,556.1Z" fill="#0000cd"/>
<path d="M65.5,496.1h0M66,517.2h0M64.6,532.3h0M64.9,511.7h0M65.8,523.1h0M66.1,506.4h0M66.5,530.3h0M66.3,536h0M66.2,523.6h0M66.7,514h0M66.3,525.9h0M65.3,513.4h0M65.6,515h0M66.8,526.1h0M67,536h0M65.2,505.5h0M64.6,520.4h0M65.4,532.2h0M66.7,532.6h0M64.8,519.5h0M66.1,507.6h0M65.9,503.5h0M65.9,499.3h0M66.8,519.8h0M66.9,528.7h0M65.1,509.7h0M65.2,518.1h0M65,544.3h0M66.2,516h0M66.4,531.1h0M66.2,516.7h0M65.2,519h0M66,525.5h0M66.3,523h0M64.6,519.9h0M64.9,518.1h0M66.2,492.9h0M66.4,517.8h0M65.6,523h0M66.3,514.7h0M66.8,521.3h0M66.6,517.9h0M66.6,514.9h0M65.2,527h0M65,524h0M66.2,522.4h0M64.9,535h0M66.2,525.6h0M65.1,515.8h0M64.9,534.4h0M66.3,510.3h0M66.5,518.5h0M64.8,509.5h0M66.5,525h0M65.1,505.6h0M65.1,527.3h0M65.7,508.2h0M66.2,493.3h0M64.6,503.3h0M64.9,526.5h0M64.9,515.9h0M65,512.9h0M64.7,512.6h0M65.7,518.5h0M64.8,520.7h0M66.7,516.4h0M64.8,537.1h0M65.2,519.1h0M66.7,505.2h0M66.8,523h0" stroke="#2232de" stroke-width="1.05" stroke-linecap="round" opacity="0.85"/>
<circle cx="63.16" cy="516.81" r="1.05" fill="#0a0a3a"/>
<path d="M77.3,480.4L77.2,480.4 77.2,480.9 77.2,481.4 77.2,481.9 77.2,482.4 77.2,482.9 77.1,483.4 77.1,483.9 77.1,484.4 77.1,484.9 77,485.5 77,486 77,486.5 76.9,487 76.9,487.5 76.8,488 76.8,488.5 76.7,489 76.6,489.5 76.5,490 76.4,490.5 76.3,491 76.2,491.5 76.1,492 76,492.5 75.9,493 75.8,493.5 75.7,494 75.5,494.5 75.4,495 75.3,495.5 75.1,496 75,496.5 74.8,497 74.7,497.5 74.5,498 74.3,498.5 74.1,499 74,499.5 73.8,500 73.6,500.5 73.4,501 73.2,501.5 73.1,502 72.9,502.5 72.7,503 72.6,503.5 72.4,504 72.3,504.5 72.1,505 72,505.5 71.8,506 71.7,506.5 71.6,507 71.5,507.5 71.4,508.1 71.3,508.6 71.2,509.1 71.1,509.6 71.1,510.1 71,510.6 71,511.1 71,511.6 71,512.1 71,512.6 71,513.1 71,513.6 71.1,514.1 71.1,514.6 71.2,515.1 71.3,515.6 71.4,516.1 71.5,516.6 71.6,517.1 71.8,517.6 71.9,518.1 72,518.6 72.2,519.1 72.3,519.6 72.4,520.1 72.6,520.6 72.7,521.1 72.9,521.6 73.1,522.1 73.2,522.6 73.4,523.1 73.5,523.6 73.7,524.1 73.8,524.6 74,525.1 74.1,525.6 74.3,526.1 74.4,526.6 74.6,527.1 74.7,527.6 74.8,528.1 75,528.6 75.1,529.1 75.3,529.6 75.4,530.1 75.5,530.6 75.6,531.2 75.7,531.7 75.8,532.2 75.9,532.7 76,533.2 76.1,533.7 76.2,534.2 76.2,534.7 76.3,535.2 76.4,535.7 76.4,536.2 76.5,536.7 76.5,537.2 76.6,537.7 76.6,538.2 76.7,538.7 76.7,539.2 76.7,539.7 76.8,540.2 76.8,540.7 76.8,541.2 76.8,541.7 76.9,542.2 76.9,542.7 76.9,543.2 76.9,543.7 76.9,544.2 77,544.7 77,545.2 77,545.7 77,546.2 77,546.7 77,547.2 77,547.7 77.1,548.2 77.1,548.7 77.1,549.2 77.1,549.7 77.1,550.2 77.1,550.7 77.1,551.2 77.1,551.7 77.1,552.2 77.1,552.7 77.1,553.2 77.1,553.8 77.1,554.3 77.1,554.8 77.1,555.3 77.2,555.8 77.2,556.3 77.2,556.8 77.2,557.3 77.2,557.8 77.2,558.3 77.2,558.8 77.2,559.3 77.2,559.8 77.2,560.3 77.2,560.8 77.2,561.3 77.2,561.8 77.2,562.3 77.2,562.8 77.2,563.3 77.2,563.8 77.3,564.3 77.3,564.8 77.3,565.3 77.3,565.8 77.3,566.3 77.3,566.3Z" fill="#0000cd"/>
<path d="M80.5,519.3h0M79.2,509.1h0M79,509.7h0M79.1,515.7h0M80.3,518.1h0M80.5,525.3h0M79.3,517.5h0M79.1,506.5h0M80.5,538.7h0M80.9,510h0M79.3,508.7h0M79.2,518.8h0M79.8,514h0M80.1,521h0M80.3,511.7h0M81,528.9h0M81,506.2h0M81.1,517.4h0M80.7,502.5h0M79.2,525.2h0M79.7,507.7h0M80.3,516h0M80.7,512.6h0M80.2,519.5h0M80.4,505.8h0M79.3,519h0M79,520.6h0M80.1,514.9h0M79.3,494.6h0M79.7,508.2h0M80.8,524.6h0M81,505.1h0M78.8,511.4h0M78.7,496.9h0M80.8,510.8h0M80,537h0M80.3,531.9h0M80.3,520.6h0M80.6,520.2h0M79.2,539.6h0M79.1,524.6h0M79.3,504.4h0M80,509.6h0M80.5,495.4h0M80.3,515.2h0M79.8,492.2h0M80.3,527h0M79.3,530.1h0M81,512.3h0M80.9,498.2h0M80.5,527.5h0M79,508.7h0M79.2,503.9h0M79.7,520.4h0M78.9,517h0M79.6,526.2h0M79.1,513.5h0M78.7,512.2h0M79.6,499.7h0M80.7,529.9h0M80.4,523.3h0M80.6,501.5h0M80.2,515.5h0M80.1,535.2h0M78.7,531.4h0M78.9,515h0M79.1,509.5h0M79.3,491.9h0M78.7,510.1h0M81,492.3h0M81,552.2h0" stroke="#2232de" stroke-width="1.05" stroke-linecap="round" opacity="0.85"/>
<circle cx="77.28" cy="516.02" r="1.05" fill="#0a0a3a"/>
<path d="M91.6,479.3L91.6,479.3 91.6,479.8 91.5,480.3 91.5,480.8 91.5,481.3 91.5,481.8 91.5,482.3 91.5,482.8 91.5,483.3 91.4,483.8 91.4,484.3 91.4,484.8 91.3,485.3 91.3,485.8 91.3,486.3 91.2,486.8 91.2,487.3 91.1,487.8 91,488.3 91,488.8 90.9,489.3 90.8,489.8 90.7,490.3 90.6,490.8 90.6,491.3 90.5,491.8 90.4,492.3 90.2,492.8 90.1,493.3 90,493.8 89.9,494.3 89.7,494.8 89.5,495.3 89.4,495.8 89.2,496.3 89,496.8 88.8,497.3 88.7,497.8 88.5,498.3 88.3,498.9 88.1,499.4 87.9,499.9 87.7,500.4 87.5,500.9 87.3,501.4 87,501.9 86.8,502.4 86.6,502.9 86.4,503.4 86.2,503.9 86,504.4 85.7,504.9 85.5,505.4 85.4,505.9 85.2,506.4 85,506.9 84.8,507.4 84.7,507.9 84.6,508.4 84.5,508.9 84.4,509.4 84.3,509.9 84.3,510.4 84.3,510.9 84.3,511.4 84.3,511.9 84.4,512.4 84.4,512.9 84.5,513.4 84.6,513.9 84.7,514.4 84.8,514.9 84.9,515.4 85,515.9 85.2,516.4 85.3,516.9 85.5,517.4 85.6,517.9 85.8,518.4 86,518.9 86.1,519.4 86.3,519.9 86.5,520.4 86.7,520.9 86.9,521.4 87.1,521.9 87.3,522.4 87.5,522.9 87.8,523.4 88,523.9 88.1,524.4 88.3,524.9 88.5,525.4 88.7,525.9 88.8,526.4 89,526.9 89.2,527.4 89.3,527.9 89.4,528.4 89.6,528.9 89.7,529.4 89.8,529.9 89.9,530.4 90.1,530.9 90.2,531.4 90.3,531.9 90.4,532.4 90.5,532.9 90.5,533.4 90.6,533.9 90.7,534.4 90.8,534.9 90.8,535.4 90.9,535.9 90.9,536.4 91,537 91.1,537.5 91.1,538 91.2,538.5 91.2,539 91.2,539.5 91.3,540 91.3,540.5 91.3,541 91.3,541.5 91.4,542 91.4,542.5 91.4,543 91.4,543.5 91.4,544 91.4,544.5 91.5,545 91.5,545.5 91.5,546 91.5,546.5 91.5,547 91.5,547.5 91.5,548 91.6,548.5 91.6,549 91.6,549.5 91.6,550 91.6,550.5 91.6,550.5Z" fill="#0000cd"/>
<path d="M93.8,506.7h0M94.2,521.7h0M93.4,515.9h0M94.6,513.6h0M95,498.1h0M94.2,502.4h0M93.2,522.7h0M94.7,507.3h0M95,511h0M94.5,488.9h0M94.8,505.9h0M93.6,526.7h0M93.4,506.3h0M94.5,502.3h0M93.7,507.8h0M94.3,507.3h0M94.8,485.5h0M94.7,509h0M93.5,532.7h0M94.7,524.8h0M94.9,515.9h0M95.4,522.7h0M93.8,500.6h0M94.5,486.8h0M93.2,517.7h0M95.2,524.5h0M93.5,529.3h0M93.9,501.3h0M94.9,512.5h0M93.2,511.8h0M94.7,505.4h0M93.8,513h0M93.9,508.7h0M95.3,497.2h0M93.3,517.4h0M93.1,507.5h0M93.4,533.2h0M94.5,506.8h0M94.9,526h0M93.3,518.6h0M93.2,531.6h0M94.9,525.3h0M93.4,515h0M95.1,514.4h0M94.1,519.4h0M93.4,525.9h0M93.7,516.7h0M95.2,532.2h0M95.4,511.5h0M94.2,499.5h0M93.4,523.6h0M95,516.4h0M93.7,511.2h0M93.4,485.2h0M93.5,501.2h0M93.5,502.3h0M95,517.6h0M93.1,515h0M95.2,516.7h0M95.1,501.6h0M93.9,498.2h0M93.3,507h0M95.2,519.3h0M94.9,499.9h0M95.3,498.1h0M94.8,537.5h0M93.7,527.9h0M95.1,504.5h0M95,504.4h0M95.1,510.3h0" stroke="#2232de" stroke-width="1.05" stroke-linecap="round" opacity="0.85"/>
<circle cx="91.63" cy="512.29" r="1.05" fill="#0a0a3a"/>
<path d="M105.8,486.1L105.7,486.1 105.7,486.6 105.6,487.1 105.6,487.6 105.6,488.1 105.6,488.6 105.5,489.1 105.5,489.6 105.4,490.1 105.3,490.6 105.2,491.1 105.1,491.6 105,492.1 104.9,492.6 104.7,493.1 104.6,493.6 104.4,494.1 104.3,494.6 104.1,495.1 103.9,495.6 103.8,496.1 103.6,496.6 103.4,497.1 103.3,497.6 103.1,498.1 102.9,498.6 102.7,499.1 102.6,499.6 102.4,500.1 102.2,500.6 102,501.1 101.8,501.6 101.6,502.1 101.4,502.7 101.3,503.2 101.1,503.7 100.9,504.2 100.7,504.7 100.5,505.2 100.4,505.7 100.2,506.2 100.1,506.7 99.9,507.2 99.8,507.7 99.7,508.2 99.6,508.7 99.5,509.2 99.4,509.7 99.3,510.2 99.3,510.7 99.2,511.2 99.2,511.7 99.2,512.2 99.3,512.7 99.3,513.2 99.4,513.7 99.5,514.2 99.6,514.7 99.7,515.2 99.8,515.7 99.9,516.2 100.1,516.7 100.3,517.2 100.4,517.7 100.6,518.2 100.8,518.7 101,519.2 101.2,519.7 101.4,520.2 101.6,520.7 101.8,521.2 102,521.7 102.1,522.2 102.3,522.7 102.5,523.2 102.7,523.7 102.8,524.2 103,524.7 103.2,525.3 103.3,525.8 103.5,526.3 103.6,526.8 103.8,527.3 103.9,527.8 104,528.3 104.2,528.8 104.3,529.3 104.4,529.8 104.5,530.3 104.6,530.8 104.6,531.3 104.7,531.8 104.8,532.3 104.9,532.8 104.9,533.3 105,533.8 105.1,534.3 105.1,534.8 105.2,535.3 105.2,535.8 105.3,536.3 105.3,536.8 105.3,537.3 105.4,537.8 105.4,538.3 105.4,538.8 105.5,539.3 105.5,539.8 105.5,540.3 105.5,540.8 105.6,541.3 105.6,541.8 105.6,542.3 105.6,542.8 105.6,543.3 105.7,543.8 105.7,544.3 105.7,544.8 105.8,544.8Z" fill="#0000cd"/>
<path d="M107.5,530h0M108.8,523.7h0M109.3,490.6h0M109.1,507.2h0M107.7,529.6h0M107.8,516.1h0M109.1,513.3h0M107.3,515.7h0M108.3,513.8h0M109.1,508.8h0M108.7,503h0M109.3,510.7h0M109.3,503.1h0M109.2,522.4h0M108.3,520.6h0M107.7,522.7h0M108.1,506.1h0M107.5,521.4h0M108.6,490h0M107.4,512.4h0M109.2,505.9h0M107.7,505.3h0M107.7,526.4h0M108.2,535.4h0M107.7,509.6h0M108,496.4h0M108.5,497.2h0M109.5,511.9h0M109.1,515h0M109.4,510.3h0M108.1,515.1h0M107.2,498.2h0M109.3,498.2h0M108.4,533.7h0M107.5,514.9h0M108.2,526.5h0M107.8,500.6h0M107.4,505.2h0M108,513.4h0M107.7,523.9h0M108.6,509.2h0M108.6,497.9h0M108.9,523.9h0M109.2,501.3h0M109.5,490.8h0M107.4,513.6h0M107.5,517.6h0M108.7,502.7h0M109,504.3h0M108.2,515.6h0M107.6,502.7h0M107.4,518.6h0M107.6,510.3h0M108.2,522.7h0M109.5,511.4h0M107.5,517.5h0M107.4,524.1h0M108.2,534.2h0M108.8,507.5h0M107.5,517.4h0M107.2,515.5h0M108,522.9h0M108.1,532h0M108.8,511.1h0M107.5,533.4h0M109.2,523.7h0M108.8,516.3h0M108.1,523.5h0M107.5,510.7h0M107.2,526.3h0" stroke="#2232de" stroke-width="1.05" stroke-linecap="round" opacity="0.85"/>
<circle cx="105.76" cy="514.1" r="1.05" fill="#0a0a3a"/>
<path d="M63.16,567.35v-1.2M63.16,469.6v1.2M77.28,567.35v-1.2M77.28,469.6v1.2M91.63,567.35v-1.2M91.63,469.6v1.2M105.76,567.35v-1.2M105.76,469.6v1.2M47.5,469.6h1.2M115.5,469.6h-1.2M47.5,489.15h1.2M115.5,489.15h-1.2M47.5,508.7h1.2M115.5,508.7h-1.2M47.5,528.25h1.2M115.5,528.25h-1.2M47.5,547.8h1.2M115.5,547.8h-1.2M47.5,567.35h1.2M115.5,567.35h-1.2" stroke="#555" stroke-width="0.5" fill="none"/>
<rect x="47.5" y="469.6" width="68" height="97.75" fill="none" stroke="#a0a0a0" stroke-width="0.7"/>
<text transform="translate(45.3 473.1) scale(0.92 1)" font-size="8.8" text-anchor="end" fill="#363636">100</text>
<text transform="translate(45.3 492.65) scale(0.92 1)" font-size="8.8" text-anchor="end" fill="#363636">50</text>
<text transform="translate(45.3 512.2) scale(0.92 1)" font-size="8.8" text-anchor="end" fill="#363636">0</text>
<text transform="translate(45.3 531.75) scale(0.92 1)" font-size="8.8" text-anchor="end" fill="#363636">-50</text>
<text transform="translate(45.3 551.3) scale(0.92 1)" font-size="8.8" text-anchor="end" fill="#363636">-100</text>
<text transform="translate(45.3 570.85) scale(0.92 1)" font-size="8.8" text-anchor="end" fill="#363636">-150</text>
<text transform="translate(63.16 574.6) scale(0.92 1)" font-size="8.8" text-anchor="middle" fill="#363636">2</text>
<text transform="translate(77.28 574.6) scale(0.92 1)" font-size="8.8" text-anchor="middle" fill="#363636">3</text>
<text transform="translate(91.63 574.6) scale(0.92 1)" font-size="8.8" text-anchor="middle" fill="#363636">4</text>
<text transform="translate(105.76 574.6) scale(0.92 1)" font-size="8.8" text-anchor="middle" fill="#363636">5</text>
<text x="81.5" y="469" font-size="10.5" text-anchor="middle" font-weight="bold" fill="#000" stroke="#000" stroke-width="0.35">*</text>
<text x="81.5" y="583.95" font-size="8.6" text-anchor="middle" textLength="15.6" lengthAdjust="spacingAndGlyphs">Tone</text>
<text x="23.4" y="518.48" font-size="9" text-anchor="middle" textLength="80.6" lengthAdjust="spacingAndGlyphs" transform="rotate(-90 23.4 518.48)">Neural activity index</text>
<path d="M159.08,338.25V418.3M164.91,338.25V418.3M167.83,338.25V418.3M170.74,338.25V418.3M173.66,338.25V418.3M179.5,338.25V418.3M182.41,338.25V418.3M185.33,338.25V418.3M188.25,338.25V418.3M194.08,338.25V418.3M197,338.25V418.3M199.92,338.25V418.3M202.84,338.25V418.3M208.67,338.25V418.3M211.59,338.25V418.3M214.51,338.25V418.3M217.42,338.25V418.3M223.26,338.25V418.3M226.17,338.25V418.3M229.09,338.25V418.3M232.01,338.25V418.3M237.84,338.25V418.3M240.76,338.25V418.3M243.68,338.25V418.3M246.6,338.25V418.3M252.43,338.25V418.3M255.35,338.25V418.3M258.27,338.25V418.3M158.9,414.3H260.6M158.9,410.3H260.6M158.9,406.29H260.6M158.9,398.29H260.6M158.9,394.29H260.6M158.9,390.28H260.6M158.9,382.28H260.6M158.9,378.27H260.6M158.9,374.27H260.6M158.9,366.27H260.6M158.9,362.26H260.6M158.9,358.26H260.6M158.9,350.26H260.6M158.9,346.25H260.6M158.9,342.25H260.6" stroke="#ececec" stroke-width="0.45" stroke-dasharray="1 0.6" fill="none"/>
<path d="M161.99,338.25V418.3M176.58,338.25V418.3M191.17,338.25V418.3M205.75,338.25V418.3M220.34,338.25V418.3M234.93,338.25V418.3M249.51,338.25V418.3M158.9,354.26H260.6M158.9,370.27H260.6M158.9,386.28H260.6M158.9,402.29H260.6" stroke="#e8e8e8" stroke-width="0.5" fill="none"/>
<g transform="translate(218.1,387.3)"><path d="M0.3,7.5 C0.3,4 3,1.2 7,0.5 C11,-0.1 15.5,0.5 18,2.8 C19.8,4.5 20.2,7 19.4,8.8 C18.6,10.2 16.8,10.6 15,10.9 C13.5,11.2 12.5,11.6 11.5,12.3 C10.5,13.2 9,13.2 8.3,12.4 C6.5,11.9 4,11.6 2.3,10.6 C1,9.8 0.3,8.8 0.3,7.5 Z" fill="url(#glat)" stroke="#454545" stroke-width="0.9"/><path d="M10.4,6.5Q9.3,7 8.1,7.1M5.6,4.9Q4.3,6 4.3,7.8M3.9,8.5Q4.2,9.9 3,9.8M11.8,7Q12.5,6.6 13.1,7.7M3.8,3.7Q4.9,4.3 6.3,3.9M10.3,6.2Q10.2,7.2 10.3,9M19.2,10.3Q17.7,10.5 16.7,11.7M7.5,1.4Q7.2,2 5.8,2.9M16.4,9.5Q18,9.5 18.3,9.6M16.3,5Q18.1,4.9 19,5.6M4.9,4.5Q2.8,4.3 1.9,4.8M4.4,1.5Q3.7,2 2.9,2.6M3.8,7.9Q4.4,8.3 6.3,9M7,3.9Q5.1,4.7 3.9,4.2M6.6,4.6Q4.7,6 4.1,5.9M6.2,3.2Q5.1,3.3 4.6,4.7M2.5,6.1Q3.2,7 4.4,8M17.7,4.5Q16.8,5.5 17,7.7M15.9,8.6Q16.9,10 17.2,9.9M6.4,10Q5,9.9 3.9,11M1.6,9.7Q2.2,11.2 3.7,11.6M10.3,3.5Q10.9,3.9 12.8,5.1" clip-path="url(#cl)" fill="none" stroke="#666" stroke-width="0.5"/></g>
<g transform="translate(258.9,387.3) scale(-1,1)"><path d="M0.3,7.5 C0.3,4 3,1.2 7,0.5 C11,-0.1 15.5,0.5 18,2.8 C19.8,4.5 20.2,7 19.4,8.8 C18.6,10.2 16.8,10.6 15,10.9 C13.5,11.2 12.5,11.6 11.5,12.3 C10.5,13.2 9,13.2 8.3,12.4 C6.5,11.9 4,11.6 2.3,10.6 C1,9.8 0.3,8.8 0.3,7.5 Z" fill="url(#glat)" stroke="#454545" stroke-width="0.9"/><path d="M10.4,6.5Q9.3,7 8.1,7.1M5.6,4.9Q4.3,6 4.3,7.8M3.9,8.5Q4.2,9.9 3,9.8M11.8,7Q12.5,6.6 13.1,7.7M3.8,3.7Q4.9,4.3 6.3,3.9M10.3,6.2Q10.2,7.2 10.3,9M19.2,10.3Q17.7,10.5 16.7,11.7M7.5,1.4Q7.2,2 5.8,2.9M16.4,9.5Q18,9.5 18.3,9.6M16.3,5Q18.1,4.9 19,5.6M4.9,4.5Q2.8,4.3 1.9,4.8M4.4,1.5Q3.7,2 2.9,2.6M3.8,7.9Q4.4,8.3 6.3,9M7,3.9Q5.1,4.7 3.9,4.2M6.6,4.6Q4.7,6 4.1,5.9M6.2,3.2Q5.1,3.3 4.6,4.7M2.5,6.1Q3.2,7 4.4,8M17.7,4.5Q16.8,5.5 17,7.7M15.9,8.6Q16.9,10 17.2,9.9M6.4,10Q5,9.9 3.9,11M1.6,9.7Q2.2,11.2 3.7,11.6M10.3,3.5Q10.9,3.9 12.8,5.1" clip-path="url(#cl)" fill="none" stroke="#666" stroke-width="0.5"/></g>
<g transform="translate(238.1,401.65) scale(-1,1)"><path d="M0.4,8.3 C0.3,5 2.5,2.2 6.5,1 C10,0 14.5,0.3 17.3,2.3 C19.6,4 20.2,7 19.4,9 C18.7,10.3 17.2,10.9 15.6,11.3 C14.9,12.5 13.8,13.5 12.6,13.6 C11.3,13.7 10.6,12.8 10.1,12.1 C8,12 5,11.9 3,11.2 C1.4,10.6 0.5,9.6 0.4,8.3 Z" fill="url(#gmed)" stroke="#707070" stroke-width="0.8"/><path d="M4.5,8 C5.5,4.8 9,3.6 12,3.8 C15,4.1 16.5,5.8 16.5,7.8 C14,7 11,6.8 8,7.3 C6.5,7.6 5.2,7.8 4.5,8 Z" fill="#cbcbcb"/><path d="M11.3,8.7L10.6,10.5M15.7,3.4L17.6,3.5M8.3,1.5L10,2.6M10.6,1.5L11.7,4M18.4,6.8L17,8.7M2.8,1.8L5.7,1.9M12,10.6L14.4,10.7M8.9,7.2L10.5,9.7M4.2,5.6L2.2,7.7M14.9,7.3L12.6,9.1" clip-path="url(#cm)" fill="none" stroke="#8c8c8c" stroke-width="0.45"/><path d="M9.8,11.6 C10.8,12.8 12.5,13.2 14.5,11.8 C13.5,11 11.5,10.8 9.8,11.6 Z" fill="#808080"/><path d="M6,12.6 C6.6,11.6 8.5,11.3 10,10.6 C11,10.1 11.8,9.3 12.6,9.5 C13,10.4 12.4,11.6 11.2,12.4 C9.8,13.3 7.6,13.8 6.3,13.4 Z" fill="#f01c1c"/></g>
<g transform="translate(238.9,401.65)"><path d="M0.4,8.3 C0.3,5 2.5,2.2 6.5,1 C10,0 14.5,0.3 17.3,2.3 C19.6,4 20.2,7 19.4,9 C18.7,10.3 17.2,10.9 15.6,11.3 C14.9,12.5 13.8,13.5 12.6,13.6 C11.3,13.7 10.6,12.8 10.1,12.1 C8,12 5,11.9 3,11.2 C1.4,10.6 0.5,9.6 0.4,8.3 Z" fill="url(#gmed)" stroke="#707070" stroke-width="0.8"/><path d="M4.5,8 C5.5,4.8 9,3.6 12,3.8 C15,4.1 16.5,5.8 16.5,7.8 C14,7 11,6.8 8,7.3 C6.5,7.6 5.2,7.8 4.5,8 Z" fill="#cbcbcb"/><path d="M11.3,8.7L10.6,10.5M15.7,3.4L17.6,3.5M8.3,1.5L10,2.6M10.6,1.5L11.7,4M18.4,6.8L17,8.7M2.8,1.8L5.7,1.9M12,10.6L14.4,10.7M8.9,7.2L10.5,9.7M4.2,5.6L2.2,7.7M14.9,7.3L12.6,9.1" clip-path="url(#cm)" fill="none" stroke="#8c8c8c" stroke-width="0.45"/><path d="M9.8,11.6 C10.8,12.8 12.5,13.2 14.5,11.8 C13.5,11 11.5,10.8 9.8,11.6 Z" fill="#808080"/></g>
<path d="M159.2,370.1 159.3,371.4 160.6,369.5 161.9,372.1 163.2,353.9 163.8,363 164.8,398.1 165.8,369.5 166.8,360.4 167.8,373.4 169.1,366.9 170.3,359.1 171.7,363 172.9,372.1 174.2,377.3 175.6,378.6 177.5,376 179.4,377.3 180.4,369.5 181.7,356.5 183.3,358.4 184.7,363 185.9,368.2 187.2,376 188.6,383.8 190.2,389.6 191.5,379.9 193.1,374.7 194.4,372.1 195.7,374.7 197,364.3 198.3,376 199.6,379.9 201.6,379.9 202.8,369.5 204.5,366.9 206.1,372.1 207.4,374.7 208.4,363 209.7,378.6 211.6,379.9 213.2,371.4 215.2,368.2 217.2,368.9 219.1,370.1 220.4,369.7 221.7,370.8 223,368.2 224.9,364.3 226.9,361.1 228.2,360.4 230.1,363 232.1,364.3 234.1,368.2 236,369.5 237.3,369.1 238.6,366.9 239.9,367 241.2,368.9 242.5,368.3 243.8,366.2 245.1,366.1 246.4,368.2 247.7,369.6 249,369.5 250.3,366 251.6,364.3 252.9,367.8 254.2,368.9 255.5,367.2 256.8,367.6 258.1,366.8 259.4,364.3 260.3,369.5" fill="none" stroke="#a8c6ee" stroke-width="2.0" stroke-linejoin="round" opacity="0.7"/>
<path d="M159.2,370.1 159.3,371.4 160.6,369.5 161.9,372.1 163.2,353.9 163.8,363 164.8,398.1 165.8,369.5 166.8,360.4 167.8,373.4 169.1,366.9 170.3,359.1 171.7,363 172.9,372.1 174.2,377.3 175.6,378.6 177.5,376 179.4,377.3 180.4,369.5 181.7,356.5 183.3,358.4 184.7,363 185.9,368.2 187.2,376 188.6,383.8 190.2,389.6 191.5,379.9 193.1,374.7 194.4,372.1 195.7,374.7 197,364.3 198.3,376 199.6,379.9 201.6,379.9 202.8,369.5 204.5,366.9 206.1,372.1 207.4,374.7 208.4,363 209.7,378.6 211.6,379.9 213.2,371.4 215.2,368.2 217.2,368.9 219.1,370.1 220.4,369.7 221.7,370.8 223,368.2 224.9,364.3 226.9,361.1 228.2,360.4 230.1,363 232.1,364.3 234.1,368.2 236,369.5 237.3,369.1 238.6,366.9 239.9,367 241.2,368.9 242.5,368.3 243.8,366.2 245.1,366.1 246.4,368.2 247.7,369.6 249,369.5 250.3,366 251.6,364.3 252.9,367.8 254.2,368.9 255.5,367.2 256.8,367.6 258.1,366.8 259.4,364.3 260.3,369.5" fill="none" stroke="#2468d0" stroke-width="0.6" stroke-linejoin="round"/>
<circle cx="190.5" cy="389.65" r="3.55" fill="none" stroke="#ee1c25" stroke-width="0.9"/>
<circle cx="200.64" cy="379.9" r="3.55" fill="none" stroke="#ee1c25" stroke-width="0.9"/>
<circle cx="211.3" cy="379.9" r="3.55" fill="none" stroke="#ee1c25" stroke-width="0.9"/>
<path d="M161.99,418.3v-1.2M161.99,338.25v1.2M176.58,418.3v-1.2M176.58,338.25v1.2M191.17,418.3v-1.2M191.17,338.25v1.2M205.75,418.3v-1.2M205.75,338.25v1.2M220.34,418.3v-1.2M220.34,338.25v1.2M234.93,418.3v-1.2M234.93,338.25v1.2M249.51,418.3v-1.2M249.51,338.25v1.2M158.9,338.25h1.2M260.6,338.25h-1.2M158.9,354.26h1.2M260.6,354.26h-1.2M158.9,370.27h1.2M260.6,370.27h-1.2M158.9,386.28h1.2M260.6,386.28h-1.2M158.9,402.29h1.2M260.6,402.29h-1.2M158.9,418.3h1.2M260.6,418.3h-1.2" stroke="#555" stroke-width="0.5" fill="none"/>
<rect x="158.9" y="338.25" width="101.7" height="80.05" fill="none" stroke="#a0a0a0" stroke-width="0.7"/>
<text x="156.6" y="340.65" font-size="8.2" text-anchor="end" fill="#363636">40</text>
<text x="156.6" y="356.66" font-size="8.2" text-anchor="end" fill="#363636">20</text>
<text x="156.6" y="372.67" font-size="8.2" text-anchor="end" fill="#363636">0</text>
<text x="156.6" y="388.68" font-size="8.2" text-anchor="end" fill="#363636">-20</text>
<text x="156.6" y="404.69" font-size="8.2" text-anchor="end" fill="#363636">-40</text>
<text x="156.6" y="420.7" font-size="8.2" text-anchor="end" fill="#363636">-60</text>
<text x="161.99" y="425.05" font-size="8.3" text-anchor="middle" fill="#363636">0</text>
<text x="176.58" y="425.05" font-size="8.3" text-anchor="middle" fill="#363636">0.5</text>
<text x="191.17" y="425.05" font-size="8.3" text-anchor="middle" fill="#363636">1</text>
<text x="205.75" y="425.05" font-size="8.3" text-anchor="middle" fill="#363636">1.5</text>
<text x="220.34" y="425.05" font-size="8.3" text-anchor="middle" fill="#363636">2</text>
<text x="234.93" y="425.05" font-size="8.3" text-anchor="middle" fill="#363636">2.5</text>
<text x="249.51" y="425.05" font-size="8.3" text-anchor="middle" fill="#363636">3</text>
<text x="209.35" y="332.75" font-size="10" text-anchor="middle" textLength="16.4" lengthAdjust="spacingAndGlyphs">NT2</text>
<g transform="translate(159.8,433.9)"><ellipse cx="1.3" cy="-1" rx="1.35" ry="0.95" transform="rotate(-20 1.3 -1)" fill="#111"/><path d="M2.45,-1.2 V-5.6 C3.2,-4.6 4.5,-4 4.2,-2.3" fill="none" stroke="#111" stroke-width="0.6"/></g>
<g transform="translate(170.65,433.9)"><ellipse cx="1.3" cy="-1" rx="1.35" ry="0.95" transform="rotate(-20 1.3 -1)" fill="#111"/><path d="M2.45,-1.2 V-5.6 C3.2,-4.6 4.5,-4 4.2,-2.3" fill="none" stroke="#111" stroke-width="0.6"/></g>
<g transform="translate(181.5,433.9)"><ellipse cx="1.3" cy="-1" rx="1.35" ry="0.95" transform="rotate(-20 1.3 -1)" fill="#111"/><path d="M2.45,-1.2 V-5.6 C3.2,-4.6 4.5,-4 4.2,-2.3" fill="none" stroke="#111" stroke-width="0.6"/></g>
<path d="M180.2,435.1v1h7.4v-1" fill="none" stroke="#2468d0" stroke-width="0.65" opacity="0.75"/>
<g transform="translate(192.35,433.9)"><ellipse cx="1.3" cy="-1" rx="1.35" ry="0.95" transform="rotate(-20 1.3 -1)" fill="#111"/><path d="M2.45,-1.2 V-5.6 C3.2,-4.6 4.5,-4 4.2,-2.3" fill="none" stroke="#111" stroke-width="0.6"/></g>
<path d="M191.05,435.1v1h7.4v-1" fill="none" stroke="#2468d0" stroke-width="0.65" opacity="0.75"/>
<g transform="translate(203.2,433.9)"><ellipse cx="1.3" cy="-1" rx="1.35" ry="0.95" transform="rotate(-20 1.3 -1)" fill="#111"/><path d="M2.45,-1.2 V-5.6 C3.2,-4.6 4.5,-4 4.2,-2.3" fill="none" stroke="#111" stroke-width="0.6"/></g>
<path d="M201.9,435.1v1h7.4v-1" fill="none" stroke="#2468d0" stroke-width="0.65" opacity="0.75"/>
<path d="M177.42,469.6V567.35M182.25,469.6V567.35M191.9,469.6V567.35M196.72,469.6V567.35M201.55,469.6V567.35M206.37,469.6V567.35M216.02,469.6V567.35M220.85,469.6V567.35M225.67,469.6V567.35M230.5,469.6V567.35M240.15,469.6V567.35M176.4,564.09H243.75M176.4,560.83H243.75M176.4,557.58H243.75M176.4,554.32H243.75M176.4,547.8H243.75M176.4,544.54H243.75M176.4,541.28H243.75M176.4,538.02H243.75M176.4,531.51H243.75M176.4,528.25H243.75M176.4,524.99H243.75M176.4,521.73H243.75M176.4,515.22H243.75M176.4,511.96H243.75M176.4,508.7H243.75M176.4,505.44H243.75M176.4,498.93H243.75M176.4,495.67H243.75M176.4,492.41H243.75M176.4,489.15H243.75M176.4,482.63H243.75M176.4,479.38H243.75M176.4,476.12H243.75M176.4,472.86H243.75" stroke="#ececec" stroke-width="0.45" stroke-dasharray="1 0.6" fill="none"/>
<path d="M187.07,469.6V567.35M211.03,469.6V567.35M235.32,469.6V567.35M176.4,485.89H243.75M176.4,502.18H243.75M176.4,518.48H243.75M176.4,534.77H243.75M176.4,551.06H243.75" stroke="#e8e8e8" stroke-width="0.5" fill="none"/>
<path d="M187.1,478.7L187,478.7 187,479.2 187,479.7 187,480.2 187,480.7 187,481.2 186.9,481.7 186.9,482.2 186.9,482.7 186.8,483.2 186.8,483.7 186.7,484.2 186.6,484.7 186.6,485.2 186.4,485.7 186.3,486.2 186.2,486.7 186,487.2 185.9,487.7 185.7,488.2 185.6,488.7 185.4,489.2 185.2,489.7 185,490.2 184.8,490.7 184.6,491.2 184.3,491.7 184.1,492.2 183.8,492.7 183.6,493.2 183.3,493.7 183.1,494.2 182.8,494.7 182.6,495.2 182.3,495.7 182,496.2 181.8,496.7 181.5,497.2 181.2,497.7 181,498.3 180.7,498.8 180.4,499.3 180.1,499.8 179.9,500.3 179.6,500.8 179.4,501.3 179.1,501.8 178.9,502.3 178.6,502.8 178.4,503.3 178.2,503.8 178,504.3 177.8,504.8 177.7,505.3 177.5,505.8 177.3,506.3 177.2,506.8 177.1,507.3 177,507.8 177,508.3 176.9,508.8 176.9,509.3 176.9,509.8 177,510.3 177,510.8 177.1,511.3 177.2,511.8 177.3,512.3 177.5,512.8 177.7,513.3 177.9,513.8 178.1,514.3 178.3,514.8 178.5,515.3 178.8,515.8 179,516.3 179.3,516.8 179.6,517.3 179.9,517.8 180.1,518.3 180.4,518.8 180.7,519.3 181,519.8 181.3,520.3 181.6,520.8 181.9,521.3 182.2,521.8 182.5,522.3 182.8,522.8 183.1,523.3 183.3,523.8 183.6,524.3 183.9,524.8 184.1,525.3 184.3,525.8 184.6,526.3 184.8,526.8 185,527.3 185.2,527.8 185.4,528.3 185.6,528.8 185.7,529.3 185.9,529.8 186,530.3 186.1,530.8 186.2,531.3 186.3,531.8 186.3,532.3 186.4,532.8 186.5,533.3 186.5,533.8 186.6,534.3 186.7,534.8 186.7,535.3 186.7,535.8 186.8,536.3 186.8,536.8 186.8,537.3 186.9,537.8 186.9,538.3 186.9,538.8 186.9,539.3 186.9,539.8 186.9,540.3 186.9,540.8 186.9,541.3 186.9,541.8 187,542.3 187,542.8 187,543.3 187,543.8 187,544.3 187,544.8 187,545.3 187,545.8 187,546.3 187,546.8 187,547.3 187,547.8 187,548.3 187,548.8 187.1,548.8Z" fill="#0000cd"/>
<path d="M192.7,499.8h0M191,518.4h0M191.7,496h0M190.8,525.9h0M192.3,493.1h0M192.8,511h0M190.4,513h0M192.4,508.5h0M191.7,538.4h0M193.3,489h0M190.3,525.4h0M191.1,533.3h0M191.9,521h0M189.7,486h0M189.6,498.3h0M189.9,520.1h0M192.2,515.3h0M193.5,504.6h0M191.1,521.8h0M193.6,512.6h0M190.2,493.9h0M190.9,535.7h0M191.7,487.2h0M191.3,485.8h0M191.3,517h0M190.9,518.5h0M193.2,527.6h0M190.1,503.2h0M189.5,498.9h0M191.6,529.1h0M192.8,519.7h0M192.5,503.8h0M193.4,498.9h0M192,537.4h0M193.2,504.4h0M192.9,529.2h0M190.8,523.5h0M192,498.9h0M193,515.1h0M189.8,506.4h0M190.1,527.4h0M193.2,516.9h0M191.2,531.3h0M192.7,488.8h0M193.1,509h0M192.5,514.5h0M189.9,508.1h0M192.4,496h0M191,505.4h0M193.6,538.2h0M191.8,503.4h0M191.4,527.5h0M193.4,506.9h0M190.1,521.5h0M193.5,486.9h0M192.5,520.6h0M190.5,503.7h0M191.4,485.7h0M193,502.7h0M191.4,485.8h0M190.9,506.8h0M190,494.5h0M190.2,490.7h0M190.9,494.6h0M192.7,519.7h0M193.2,505.2h0M193.5,520.8h0M191.7,520.2h0M189.9,509.4h0M192.3,530.2h0" stroke="#2232de" stroke-width="1.05" stroke-linecap="round" opacity="0.85"/>
<circle cx="187.07" cy="509.81" r="1.05" fill="#0a0a3a"/>
<path d="M211,478.2L210.9,478.2 210.9,478.7 210.9,479.2 210.9,479.7 210.8,480.2 210.8,480.7 210.8,481.2 210.8,481.7 210.7,482.2 210.7,482.7 210.6,483.2 210.6,483.7 210.5,484.2 210.4,484.7 210.4,485.2 210.3,485.7 210.1,486.2 210,486.7 209.8,487.2 209.7,487.7 209.5,488.2 209.3,488.7 209.1,489.2 208.9,489.7 208.6,490.2 208.4,490.7 208.2,491.3 207.9,491.8 207.6,492.3 207.3,492.8 207,493.3 206.7,493.8 206.3,494.3 205.9,494.8 205.6,495.3 205.2,495.8 204.8,496.3 204.4,496.8 204,497.3 203.5,497.8 203.1,498.3 202.7,498.8 202.3,499.3 201.9,499.8 201.5,500.3 201.2,500.8 200.8,501.3 200.5,501.8 200.2,502.3 199.9,502.8 199.7,503.3 199.5,503.8 199.4,504.3 199.3,504.8 199.2,505.3 199.2,505.8 199.2,506.3 199.2,506.9 199.3,507.4 199.4,507.9 199.5,508.4 199.7,508.9 199.8,509.4 200,509.9 200.3,510.4 200.5,510.9 200.8,511.4 201,511.9 201.3,512.4 201.6,512.9 202,513.4 202.3,513.9 202.6,514.4 203,514.9 203.3,515.4 203.7,515.9 204,516.4 204.4,516.9 204.7,517.4 205,517.9 205.3,518.4 205.6,518.9 205.9,519.4 206.2,519.9 206.5,520.4 206.8,520.9 207,521.4 207.3,521.9 207.5,522.4 207.8,523 208,523.5 208.2,524 208.4,524.5 208.6,525 208.8,525.5 208.9,526 209.1,526.5 209.2,527 209.4,527.5 209.5,528 209.6,528.5 209.7,529 209.8,529.5 209.9,530 209.9,530.5 210,531 210.1,531.5 210.1,532 210.2,532.5 210.2,533 210.3,533.5 210.3,534 210.4,534.5 210.4,535 210.4,535.5 210.5,536 210.5,536.5 210.6,537 210.6,537.5 210.7,538 210.7,538.6 210.7,539.1 210.8,539.6 210.8,540.1 210.8,540.6 210.9,541.1 210.9,541.6 210.9,542.1 210.9,542.6 211,542.6Z" fill="#0000cd"/>
<path d="M215.3,494h0M217.2,529.4h0M216.2,499.7h0M214,501.8h0M215.5,508.6h0M216.6,498.9h0M214.1,513.5h0M217.4,500.6h0M215.8,489.5h0M215.7,501.4h0M213.9,511.2h0M216,506.8h0M214.9,517.5h0M215.7,513.5h0M214.9,515.2h0M217.4,497.3h0M217.4,501.9h0M214.3,516.1h0M213.9,506.5h0M216.2,515.2h0M216.2,530.9h0M213.6,482.8h0M215.8,512.7h0M215.1,504.5h0M216.8,511.3h0M216.9,507.3h0M217.3,510.7h0M214.8,513h0M216.3,502.4h0M216.8,499.2h0M216.5,488.1h0M216.2,510.5h0M217.5,531h0M214.1,514.4h0M214.9,509.5h0M214,495.1h0M214.1,512h0M215.5,507.4h0M215.7,501.3h0M213.7,504.5h0M214.4,505.5h0M216.8,494.4h0M215,513.6h0M216.6,510.9h0M215.3,498.5h0M217.2,492.4h0M213.7,491.5h0M216.1,504.1h0M214.7,508.9h0M214.1,511.4h0M214.8,503.5h0M215.2,517h0M216.9,509.8h0M216,490.3h0M215.5,507h0M216.4,516.5h0M214.1,513.9h0M216.2,503.7h0M214.4,506.4h0M214.3,505.5h0M214.8,496h0M215.1,503.1h0M214.1,503.6h0M215.7,500.8h0M213.9,527.4h0M216.2,500.5h0M216.8,506.2h0M215.4,519.5h0M215.4,499.9h0M215.8,500.9h0" stroke="#2232de" stroke-width="1.05" stroke-linecap="round" opacity="0.85"/>
<circle cx="211.03" cy="505.85" r="1.05" fill="#0a0a3a"/>
<path d="M235.3,480.4L235.2,480.4 235.1,480.9 235.1,481.4 235.1,481.9 235,482.4 235,482.9 234.9,483.4 234.9,484 234.8,484.5 234.7,485 234.6,485.5 234.4,486 234.3,486.5 234.1,487 233.9,487.5 233.7,488 233.4,488.5 233.2,489 232.9,489.5 232.6,490 232.3,490.5 232,491 231.6,491.5 231.3,492 230.9,492.5 230.5,493 230.1,493.5 229.6,494 229.2,494.5 228.7,495 228.3,495.5 227.8,496 227.3,496.5 226.8,497 226.3,497.5 225.8,498 225.4,498.5 224.9,499.1 224.5,499.6 224.1,500.1 223.7,500.6 223.4,501.1 223.1,501.6 222.8,502.1 222.6,502.6 222.5,503.1 222.4,503.6 222.3,504.1 222.4,504.6 222.4,505.1 222.5,505.6 222.7,506.1 222.9,506.6 223.1,507.1 223.3,507.6 223.6,508.1 223.9,508.6 224.2,509.1 224.5,509.6 224.9,510.1 225.2,510.6 225.6,511.1 225.9,511.6 226.3,512.1 226.7,512.6 227,513.1 227.4,513.6 227.8,514.2 228.1,514.7 228.5,515.2 228.9,515.7 229.2,516.2 229.6,516.7 229.9,517.2 230.3,517.7 230.6,518.2 230.9,518.7 231.2,519.2 231.5,519.7 231.8,520.2 232,520.7 232.3,521.2 232.5,521.7 232.8,522.2 233,522.7 233.2,523.2 233.4,523.7 233.6,524.2 233.7,524.7 233.9,525.2 234,525.7 234.1,526.2 234.2,526.7 234.3,527.2 234.4,527.7 234.5,528.2 234.6,528.7 234.6,529.3 234.7,529.8 234.8,530.3 234.8,530.8 234.9,531.3 235,531.8 235,532.3 235,532.8 235.1,533.3 235.1,533.8 235.1,534.3 235.2,534.8 235.2,535.3 235.2,535.8 235.3,535.8Z" fill="#0000cd"/>
<path d="M240.7,486.7h0M239.1,489.3h0M240.1,495.1h0M240.6,498.3h0M241.7,502.9h0M237.7,499.1h0M240.3,502.2h0M241.3,491.5h0M239.3,489.4h0M237.9,485.1h0M239,519.3h0M241.3,515.1h0M241.7,489h0M240.1,521.4h0M239.1,496.9h0M239.8,503.3h0M239.8,505h0M239.5,509.2h0M239.9,492.1h0M240.9,505.4h0M238.8,494.3h0M239.3,504.6h0M241.1,495.9h0M240.7,510h0M239,498.4h0M240.8,505.9h0M238.7,492.9h0M240.5,510.1h0M238.9,511.6h0M241.7,503.1h0M240.5,505.4h0M238.7,515.9h0M240.8,513h0M239.2,511.4h0M241.4,494.1h0M239.5,518.3h0M239,505h0M238.4,492h0M239.1,515.2h0M239.5,519.2h0M240.9,498.3h0M239.5,514.3h0M240.2,513.6h0M239.3,510.5h0M239.3,505h0M240.5,497.7h0M237.8,492.2h0M238.9,508.4h0M238.7,512.8h0M240.1,493.1h0M240.4,509.7h0M238.2,504.5h0M239,505.4h0M238.2,495.1h0M241.2,494.2h0M240.1,514.6h0M241.1,515.3h0M240.9,506.9h0M239.3,506.3h0M240.3,504h0M240,517.3h0M238.8,505.1h0M241.8,501.9h0M239.6,501.3h0M238.1,507h0M239.5,504.2h0M239.9,501.7h0M239.8,491.5h0M239.3,513.8h0M241.3,493h0" stroke="#2232de" stroke-width="1.05" stroke-linecap="round" opacity="0.85"/>
<circle cx="235.32" cy="504.16" r="1.05" fill="#0a0a3a"/>
<path d="M187.07,567.35v-1.2M187.07,469.6v1.2M211.03,567.35v-1.2M211.03,469.6v1.2M235.32,567.35v-1.2M235.32,469.6v1.2M176.4,469.6h1.2M243.75,469.6h-1.2M176.4,485.89h1.2M243.75,485.89h-1.2M176.4,502.18h1.2M243.75,502.18h-1.2M176.4,518.48h1.2M243.75,518.48h-1.2M176.4,534.77h1.2M243.75,534.77h-1.2M176.4,551.06h1.2M243.75,551.06h-1.2M176.4,567.35h1.2M243.75,567.35h-1.2" stroke="#555" stroke-width="0.5" fill="none"/>
<rect x="176.4" y="469.6" width="67.35" height="97.75" fill="none" stroke="#a0a0a0" stroke-width="0.7"/>
<text transform="translate(174.2 473.1) scale(0.92 1)" font-size="8.8" text-anchor="end" fill="#363636">100</text>
<text transform="translate(174.2 489.39) scale(0.92 1)" font-size="8.8" text-anchor="end" fill="#363636">50</text>
<text transform="translate(174.2 505.68) scale(0.92 1)" font-size="8.8" text-anchor="end" fill="#363636">0</text>
<text transform="translate(174.2 521.98) scale(0.92 1)" font-size="8.8" text-anchor="end" fill="#363636">-50</text>
<text transform="translate(174.2 538.27) scale(0.92 1)" font-size="8.8" text-anchor="end" fill="#363636">-100</text>
<text transform="translate(174.2 554.56) scale(0.92 1)" font-size="8.8" text-anchor="end" fill="#363636">-150</text>
<text transform="translate(174.2 570.85) scale(0.92 1)" font-size="8.8" text-anchor="end" fill="#363636">-200</text>
<text transform="translate(187.07 574.6) scale(0.92 1)" font-size="8.8" text-anchor="middle" fill="#363636">3</text>
<text transform="translate(211.03 574.6) scale(0.92 1)" font-size="8.8" text-anchor="middle" fill="#363636">4</text>
<text transform="translate(235.32 574.6) scale(0.92 1)" font-size="8.8" text-anchor="middle" fill="#363636">5</text>
<text x="210.07" y="469" font-size="10.5" text-anchor="middle" font-weight="bold" fill="#000" stroke="#000" stroke-width="0.35">**</text>
<path d="M287.57,338.25V418.3M293.39,338.25V418.3M296.3,338.25V418.3M299.21,338.25V418.3M302.12,338.25V418.3M307.94,338.25V418.3M310.84,338.25V418.3M313.75,338.25V418.3M316.66,338.25V418.3M322.48,338.25V418.3M325.39,338.25V418.3M328.3,338.25V418.3M331.21,338.25V418.3M337.02,338.25V418.3M339.93,338.25V418.3M342.84,338.25V418.3M345.75,338.25V418.3M351.57,338.25V418.3M354.48,338.25V418.3M357.39,338.25V418.3M360.29,338.25V418.3M366.11,338.25V418.3M369.02,338.25V418.3M371.93,338.25V418.3M374.84,338.25V418.3M380.66,338.25V418.3M383.56,338.25V418.3M386.47,338.25V418.3M287.4,414.3H388.8M287.4,410.3H388.8M287.4,406.29H388.8M287.4,398.29H388.8M287.4,394.29H388.8M287.4,390.28H388.8M287.4,382.28H388.8M287.4,378.27H388.8M287.4,374.27H388.8M287.4,366.27H388.8M287.4,362.26H388.8M287.4,358.26H388.8M287.4,350.26H388.8M287.4,346.25H388.8M287.4,342.25H388.8" stroke="#ececec" stroke-width="0.45" stroke-dasharray="1 0.6" fill="none"/>
<path d="M290.48,338.25V418.3M305.03,338.25V418.3M319.57,338.25V418.3M334.11,338.25V418.3M348.66,338.25V418.3M363.2,338.25V418.3M377.75,338.25V418.3M287.4,354.26H388.8M287.4,370.27H388.8M287.4,386.28H388.8M287.4,402.29H388.8" stroke="#e8e8e8" stroke-width="0.5" fill="none"/>
<g transform="translate(346.3,387.3)"><path d="M0.3,7.5 C0.3,4 3,1.2 7,0.5 C11,-0.1 15.5,0.5 18,2.8 C19.8,4.5 20.2,7 19.4,8.8 C18.6,10.2 16.8,10.6 15,10.9 C13.5,11.2 12.5,11.6 11.5,12.3 C10.5,13.2 9,13.2 8.3,12.4 C6.5,11.9 4,11.6 2.3,10.6 C1,9.8 0.3,8.8 0.3,7.5 Z" fill="url(#glat)" stroke="#454545" stroke-width="0.9"/><path d="M10.4,6.5Q9.3,7 8.1,7.1M5.6,4.9Q4.3,6 4.3,7.8M3.9,8.5Q4.2,9.9 3,9.8M11.8,7Q12.5,6.6 13.1,7.7M3.8,3.7Q4.9,4.3 6.3,3.9M10.3,6.2Q10.2,7.2 10.3,9M19.2,10.3Q17.7,10.5 16.7,11.7M7.5,1.4Q7.2,2 5.8,2.9M16.4,9.5Q18,9.5 18.3,9.6M16.3,5Q18.1,4.9 19,5.6M4.9,4.5Q2.8,4.3 1.9,4.8M4.4,1.5Q3.7,2 2.9,2.6M3.8,7.9Q4.4,8.3 6.3,9M7,3.9Q5.1,4.7 3.9,4.2M6.6,4.6Q4.7,6 4.1,5.9M6.2,3.2Q5.1,3.3 4.6,4.7M2.5,6.1Q3.2,7 4.4,8M17.7,4.5Q16.8,5.5 17,7.7M15.9,8.6Q16.9,10 17.2,9.9M6.4,10Q5,9.9 3.9,11M1.6,9.7Q2.2,11.2 3.7,11.6M10.3,3.5Q10.9,3.9 12.8,5.1" clip-path="url(#cl)" fill="none" stroke="#666" stroke-width="0.5"/></g>
<g transform="translate(387.1,387.3) scale(-1,1)"><path d="M0.3,7.5 C0.3,4 3,1.2 7,0.5 C11,-0.1 15.5,0.5 18,2.8 C19.8,4.5 20.2,7 19.4,8.8 C18.6,10.2 16.8,10.6 15,10.9 C13.5,11.2 12.5,11.6 11.5,12.3 C10.5,13.2 9,13.2 8.3,12.4 C6.5,11.9 4,11.6 2.3,10.6 C1,9.8 0.3,8.8 0.3,7.5 Z" fill="url(#glat)" stroke="#454545" stroke-width="0.9"/><path d="M10.4,6.5Q9.3,7 8.1,7.1M5.6,4.9Q4.3,6 4.3,7.8M3.9,8.5Q4.2,9.9 3,9.8M11.8,7Q12.5,6.6 13.1,7.7M3.8,3.7Q4.9,4.3 6.3,3.9M10.3,6.2Q10.2,7.2 10.3,9M19.2,10.3Q17.7,10.5 16.7,11.7M7.5,1.4Q7.2,2 5.8,2.9M16.4,9.5Q18,9.5 18.3,9.6M16.3,5Q18.1,4.9 19,5.6M4.9,4.5Q2.8,4.3 1.9,4.8M4.4,1.5Q3.7,2 2.9,2.6M3.8,7.9Q4.4,8.3 6.3,9M7,3.9Q5.1,4.7 3.9,4.2M6.6,4.6Q4.7,6 4.1,5.9M6.2,3.2Q5.1,3.3 4.6,4.7M2.5,6.1Q3.2,7 4.4,8M17.7,4.5Q16.8,5.5 17,7.7M15.9,8.6Q16.9,10 17.2,9.9M6.4,10Q5,9.9 3.9,11M1.6,9.7Q2.2,11.2 3.7,11.6M10.3,3.5Q10.9,3.9 12.8,5.1" clip-path="url(#cl)" fill="none" stroke="#666" stroke-width="0.5"/></g>
<g transform="translate(366.3,401.65) scale(-1,1)"><path d="M0.4,8.3 C0.3,5 2.5,2.2 6.5,1 C10,0 14.5,0.3 17.3,2.3 C19.6,4 20.2,7 19.4,9 C18.7,10.3 17.2,10.9 15.6,11.3 C14.9,12.5 13.8,13.5 12.6,13.6 C11.3,13.7 10.6,12.8 10.1,12.1 C8,12 5,11.9 3,11.2 C1.4,10.6 0.5,9.6 0.4,8.3 Z" fill="url(#gmed)" stroke="#707070" stroke-width="0.8"/><path d="M4.5,8 C5.5,4.8 9,3.6 12,3.8 C15,4.1 16.5,5.8 16.5,7.8 C14,7 11,6.8 8,7.3 C6.5,7.6 5.2,7.8 4.5,8 Z" fill="#cbcbcb"/><path d="M11.3,8.7L10.6,10.5M15.7,3.4L17.6,3.5M8.3,1.5L10,2.6M10.6,1.5L11.7,4M18.4,6.8L17,8.7M2.8,1.8L5.7,1.9M12,10.6L14.4,10.7M8.9,7.2L10.5,9.7M4.2,5.6L2.2,7.7M14.9,7.3L12.6,9.1" clip-path="url(#cm)" fill="none" stroke="#8c8c8c" stroke-width="0.45"/><path d="M9.8,11.6 C10.8,12.8 12.5,13.2 14.5,11.8 C13.5,11 11.5,10.8 9.8,11.6 Z" fill="#808080"/><path d="M6,12.6 C6.6,11.6 8.5,11.3 10,10.6 C11,10.1 11.8,9.3 12.6,9.5 C13,10.4 12.4,11.6 11.2,12.4 C9.8,13.3 7.6,13.8 6.3,13.4 Z" fill="#f01c1c"/></g>
<g transform="translate(367.1,401.65)"><path d="M0.4,8.3 C0.3,5 2.5,2.2 6.5,1 C10,0 14.5,0.3 17.3,2.3 C19.6,4 20.2,7 19.4,9 C18.7,10.3 17.2,10.9 15.6,11.3 C14.9,12.5 13.8,13.5 12.6,13.6 C11.3,13.7 10.6,12.8 10.1,12.1 C8,12 5,11.9 3,11.2 C1.4,10.6 0.5,9.6 0.4,8.3 Z" fill="url(#gmed)" stroke="#707070" stroke-width="0.8"/><path d="M4.5,8 C5.5,4.8 9,3.6 12,3.8 C15,4.1 16.5,5.8 16.5,7.8 C14,7 11,6.8 8,7.3 C6.5,7.6 5.2,7.8 4.5,8 Z" fill="#cbcbcb"/><path d="M11.3,8.7L10.6,10.5M15.7,3.4L17.6,3.5M8.3,1.5L10,2.6M10.6,1.5L11.7,4M18.4,6.8L17,8.7M2.8,1.8L5.7,1.9M12,10.6L14.4,10.7M8.9,7.2L10.5,9.7M4.2,5.6L2.2,7.7M14.9,7.3L12.6,9.1" clip-path="url(#cm)" fill="none" stroke="#8c8c8c" stroke-width="0.45"/><path d="M9.8,11.6 C10.8,12.8 12.5,13.2 14.5,11.8 C13.5,11 11.5,10.8 9.8,11.6 Z" fill="#808080"/></g>
<path d="M287.7,368.2 288.9,370.1 290.2,372.8 291.6,363 292.2,366.9 292.9,404.6 293.8,373.4 294.8,364.9 295.8,378.6 297.4,369.5 298.7,361.7 300,365.6 301.3,373.4 302.6,381.2 303.9,376 305.9,377.3 307.5,370.8 308.8,365.6 310.4,360.4 311.7,363 313,361.1 314.3,364.3 316.2,372.1 318.2,378.6 319.5,372.1 320.8,364.3 322.1,361.1 323.4,365.6 325.4,360.4 326.6,366.9 327.9,381.2 329.2,394.2 330.6,382.5 331.9,378.6 333.1,377.3 334.4,376 335.4,374.7 336.4,364.3 338,381.5 339.3,376 340.6,373.4 342.2,371.4 344.2,374.1 346.1,370.8 347.4,376 349.4,368.2 350.7,368.9 352.6,365.6 354.6,366.9 355.9,366.8 357.2,368.2 359.1,370.8 360.4,369.6 361.8,366.9 363.7,369.5 365.6,364.3 367.6,368.2 368.9,368.2 370.2,370.1 371.5,370.4 372.8,368.9 374.1,368.8 375.4,370.1 376.7,371.4 378,371.4 379.3,368.9 380.6,368.9 381.9,370.6 383.2,370.8 384.5,369.9 385.8,370.1 387.1,371.5 388.4,370.8" fill="none" stroke="#a8acd8" stroke-width="2.0" stroke-linejoin="round" opacity="0.7"/>
<path d="M287.7,368.2 288.9,370.1 290.2,372.8 291.6,363 292.2,366.9 292.9,404.6 293.8,373.4 294.8,364.9 295.8,378.6 297.4,369.5 298.7,361.7 300,365.6 301.3,373.4 302.6,381.2 303.9,376 305.9,377.3 307.5,370.8 308.8,365.6 310.4,360.4 311.7,363 313,361.1 314.3,364.3 316.2,372.1 318.2,378.6 319.5,372.1 320.8,364.3 322.1,361.1 323.4,365.6 325.4,360.4 326.6,366.9 327.9,381.2 329.2,394.2 330.6,382.5 331.9,378.6 333.1,377.3 334.4,376 335.4,374.7 336.4,364.3 338,381.5 339.3,376 340.6,373.4 342.2,371.4 344.2,374.1 346.1,370.8 347.4,376 349.4,368.2 350.7,368.9 352.6,365.6 354.6,366.9 355.9,366.8 357.2,368.2 359.1,370.8 360.4,369.6 361.8,366.9 363.7,369.5 365.6,364.3 367.6,368.2 368.9,368.2 370.2,370.1 371.5,370.4 372.8,368.9 374.1,368.8 375.4,370.1 376.7,371.4 378,371.4 379.3,368.9 380.6,368.9 381.9,370.6 383.2,370.8 384.5,369.9 385.8,370.1 387.1,371.5 388.4,370.8" fill="none" stroke="#1c268c" stroke-width="0.6" stroke-linejoin="round"/>
<circle cx="328.99" cy="394.2" r="3.55" fill="none" stroke="#ee1c25" stroke-width="0.9"/>
<circle cx="337.96" cy="381.46" r="3.55" fill="none" stroke="#ee1c25" stroke-width="0.9"/>
<path d="M290.48,418.3v-1.2M290.48,338.25v1.2M305.03,418.3v-1.2M305.03,338.25v1.2M319.57,418.3v-1.2M319.57,338.25v1.2M334.11,418.3v-1.2M334.11,338.25v1.2M348.66,418.3v-1.2M348.66,338.25v1.2M363.2,418.3v-1.2M363.2,338.25v1.2M377.75,418.3v-1.2M377.75,338.25v1.2M287.4,338.25h1.2M388.8,338.25h-1.2M287.4,354.26h1.2M388.8,354.26h-1.2M287.4,370.27h1.2M388.8,370.27h-1.2M287.4,386.28h1.2M388.8,386.28h-1.2M287.4,402.29h1.2M388.8,402.29h-1.2M287.4,418.3h1.2M388.8,418.3h-1.2" stroke="#555" stroke-width="0.5" fill="none"/>
<rect x="287.4" y="338.25" width="101.4" height="80.05" fill="none" stroke="#a0a0a0" stroke-width="0.7"/>
<text x="285.1" y="340.65" font-size="8.2" text-anchor="end" fill="#363636">40</text>
<text x="285.1" y="356.66" font-size="8.2" text-anchor="end" fill="#363636">20</text>
<text x="285.1" y="372.67" font-size="8.2" text-anchor="end" fill="#363636">0</text>
<text x="285.1" y="388.68" font-size="8.2" text-anchor="end" fill="#363636">-20</text>
<text x="285.1" y="404.69" font-size="8.2" text-anchor="end" fill="#363636">-40</text>
<text x="285.1" y="420.7" font-size="8.2" text-anchor="end" fill="#363636">-60</text>
<text x="290.48" y="425.05" font-size="8.3" text-anchor="middle" fill="#363636">0</text>
<text x="305.03" y="425.05" font-size="8.3" text-anchor="middle" fill="#363636">0.5</text>
<text x="319.57" y="425.05" font-size="8.3" text-anchor="middle" fill="#363636">1</text>
<text x="334.11" y="425.05" font-size="8.3" text-anchor="middle" fill="#363636">1.5</text>
<text x="348.66" y="425.05" font-size="8.3" text-anchor="middle" fill="#363636">2</text>
<text x="363.2" y="425.05" font-size="8.3" text-anchor="middle" fill="#363636">2.5</text>
<text x="377.75" y="425.05" font-size="8.3" text-anchor="middle" fill="#363636">3</text>
<text x="337.7" y="332.75" font-size="10" text-anchor="middle" textLength="16.4" lengthAdjust="spacingAndGlyphs">NT3</text>
<g transform="translate(288.3,433.9)"><ellipse cx="1.3" cy="-1" rx="1.35" ry="0.95" transform="rotate(-20 1.3 -1)" fill="#111"/><path d="M2.45,-1.2 V-5.6 C3.2,-4.6 4.5,-4 4.2,-2.3" fill="none" stroke="#111" stroke-width="0.6"/></g>
<g transform="translate(299.15,433.9)"><ellipse cx="1.3" cy="-1" rx="1.35" ry="0.95" transform="rotate(-20 1.3 -1)" fill="#111"/><path d="M2.45,-1.2 V-5.6 C3.2,-4.6 4.5,-4 4.2,-2.3" fill="none" stroke="#111" stroke-width="0.6"/></g>
<g transform="translate(310,433.9)"><ellipse cx="1.3" cy="-1" rx="1.35" ry="0.95" transform="rotate(-20 1.3 -1)" fill="#111"/><path d="M2.45,-1.2 V-5.6 C3.2,-4.6 4.5,-4 4.2,-2.3" fill="none" stroke="#111" stroke-width="0.6"/></g>
<g transform="translate(320.85,433.9)"><ellipse cx="1.3" cy="-1" rx="1.35" ry="0.95" transform="rotate(-20 1.3 -1)" fill="#111"/><path d="M2.45,-1.2 V-5.6 C3.2,-4.6 4.5,-4 4.2,-2.3" fill="none" stroke="#111" stroke-width="0.6"/></g>
<path d="M319.55,435.1v1h7.4v-1" fill="none" stroke="#1c268c" stroke-width="0.65" opacity="0.75"/>
<g transform="translate(331.7,433.9)"><ellipse cx="1.3" cy="-1" rx="1.35" ry="0.95" transform="rotate(-20 1.3 -1)" fill="#111"/><path d="M2.45,-1.2 V-5.6 C3.2,-4.6 4.5,-4 4.2,-2.3" fill="none" stroke="#111" stroke-width="0.6"/></g>
<path d="M330.4,435.1v1h7.4v-1" fill="none" stroke="#1c268c" stroke-width="0.65" opacity="0.75"/>
<path d="M304.7,469.6V567.35M311.44,469.6V567.35M318.17,469.6V567.35M331.64,469.6V567.35M338.37,469.6V567.35M345.11,469.6V567.35M351.84,469.6V567.35M365.31,469.6V567.35M304.3,564.09H371.7M304.3,560.83H371.7M304.3,557.58H371.7M304.3,554.32H371.7M304.3,547.8H371.7M304.3,544.54H371.7M304.3,541.28H371.7M304.3,538.02H371.7M304.3,531.51H371.7M304.3,528.25H371.7M304.3,524.99H371.7M304.3,521.73H371.7M304.3,515.22H371.7M304.3,511.96H371.7M304.3,508.7H371.7M304.3,505.44H371.7M304.3,498.93H371.7M304.3,495.67H371.7M304.3,492.41H371.7M304.3,489.15H371.7M304.3,482.63H371.7M304.3,479.38H371.7M304.3,476.12H371.7M304.3,472.86H371.7" stroke="#ececec" stroke-width="0.45" stroke-dasharray="1 0.6" fill="none"/>
<path d="M324.9,469.6V567.35M358.58,469.6V567.35M304.3,485.89H371.7M304.3,502.18H371.7M304.3,518.48H371.7M304.3,534.77H371.7M304.3,551.06H371.7" stroke="#e8e8e8" stroke-width="0.5" fill="none"/>
<path d="M324.9,480.4L324.8,480.4 324.8,480.9 324.8,481.4 324.7,481.9 324.7,482.4 324.6,482.9 324.6,483.4 324.5,484 324.3,484.5 324.2,485 324,485.5 323.7,486 323.5,486.5 323.2,487 322.9,487.5 322.5,488 322.2,488.5 321.8,489 321.4,489.5 321,490 320.6,490.5 320.2,491 319.7,491.5 319.2,492 318.8,492.5 318.3,493 317.8,493.5 317.3,494 316.7,494.5 316.2,495 315.7,495.5 315.2,496 314.7,496.5 314.2,497 313.7,497.5 313.2,498 312.8,498.5 312.3,499 311.9,499.5 311.5,500.1 311.1,500.6 310.8,501.1 310.5,501.6 310.3,502.1 310.1,502.6 310,503.1 309.9,503.6 309.9,504.1 309.9,504.6 310,505.1 310.1,505.6 310.2,506.1 310.4,506.6 310.6,507.1 310.8,507.6 311.1,508.1 311.3,508.6 311.6,509.1 311.8,509.6 312.1,510.1 312.4,510.6 312.7,511.1 312.9,511.6 313.2,512.1 313.5,512.6 313.7,513.1 314,513.6 314.2,514.1 314.5,514.6 314.8,515.1 315,515.6 315.2,516.2 315.5,516.7 315.7,517.2 315.9,517.7 316.2,518.2 316.4,518.7 316.6,519.2 316.8,519.7 317,520.2 317.2,520.7 317.5,521.2 317.7,521.7 317.9,522.2 318.1,522.7 318.4,523.2 318.6,523.7 318.8,524.2 319.1,524.7 319.3,525.2 319.5,525.7 319.7,526.2 320,526.7 320.2,527.2 320.4,527.7 320.6,528.2 320.8,528.7 321,529.2 321.2,529.7 321.4,530.2 321.6,530.7 321.7,531.2 321.9,531.7 322.1,532.3 322.2,532.8 322.4,533.3 322.5,533.8 322.6,534.3 322.8,534.8 322.9,535.3 323,535.8 323.1,536.3 323.2,536.8 323.3,537.3 323.4,537.8 323.5,538.3 323.6,538.8 323.7,539.3 323.7,539.8 323.8,540.3 323.9,540.8 323.9,541.3 324,541.8 324.1,542.3 324.1,542.8 324.2,543.3 324.2,543.8 324.3,544.3 324.3,544.8 324.4,545.3 324.4,545.8 324.5,546.3 324.5,546.8 324.6,547.3 324.6,547.8 324.7,548.3 324.7,548.9 324.7,549.4 324.9,549.4Z" fill="#0000cd"/>
<path d="M333.1,506.3h0M330.7,517h0M330.6,507.5h0M330.8,503.2h0M329.6,498.9h0M333,512.6h0M329.5,509.8h0M332.1,524.6h0M331,507.9h0M332.2,516h0M332,521.3h0M331.2,505.9h0M331.4,506.5h0M329,497.8h0M332.2,511.3h0M331.5,498.6h0M330.8,499.7h0M332.6,518.4h0M333,517.5h0M331.8,494h0M332.4,531.7h0M333.1,500.5h0M328.4,515.1h0M333,511.7h0M333.2,516.6h0M333.4,500.6h0M328.6,517.9h0M331.8,511.3h0M329.9,514h0M333.3,536.4h0M332.8,511.7h0M333.6,516.2h0M329.6,527.2h0M331.8,520h0M332.3,496h0M332.8,504.9h0M329.9,517.3h0M329.7,532.5h0M329.6,509.4h0M333.7,531h0M328.4,499.6h0M333.3,527.9h0M329.5,509.4h0M330.6,508.6h0M329.2,497.1h0M331.2,513.4h0M332.4,498.8h0M329.9,511.5h0M330.4,514h0M329.5,506.4h0M329.7,525.9h0M331.7,517.7h0M332.7,495h0M333.2,510.2h0M332.9,524.4h0M329.4,499.9h0M330.6,490.6h0M333.2,513.7h0M329.1,515.1h0M331,505h0M330.8,507.3h0M333.6,510.9h0M328.5,508.6h0M331.4,518.6h0M332.4,511.5h0M331.6,502.6h0M331,508.1h0M329.1,501.6h0M332.5,499.4h0M328.6,519.5h0" stroke="#2232de" stroke-width="1.05" stroke-linecap="round" opacity="0.85"/>
<circle cx="324.9" cy="510.03" r="1.05" fill="#0a0a3a"/>
<path d="M358.6,479.3L358.4,479.3 358.4,479.8 358.3,480.3 358.3,480.8 358.2,481.3 358.1,481.8 358,482.3 357.9,482.8 357.8,483.3 357.6,483.8 357.5,484.3 357.3,484.8 357,485.3 356.8,485.8 356.5,486.3 356.2,486.8 355.9,487.3 355.6,487.8 355.2,488.3 354.9,488.8 354.5,489.3 354,489.8 353.6,490.3 353.1,490.8 352.6,491.3 352.1,491.8 351.5,492.3 351,492.8 350.4,493.3 349.9,493.8 349.3,494.3 348.8,494.8 348.2,495.3 347.6,495.8 347.1,496.3 346.5,496.8 346,497.3 345.4,497.8 344.9,498.3 344.4,498.8 343.9,499.3 343.4,499.8 343,500.3 342.6,500.8 342.2,501.3 341.9,501.8 341.6,502.3 341.3,502.8 341.1,503.3 341,503.8 340.8,504.3 340.8,504.8 340.7,505.3 340.7,505.8 340.8,506.3 340.9,506.8 341,507.3 341.2,507.8 341.4,508.3 341.7,508.8 341.9,509.3 342.3,509.8 342.6,510.3 343,510.8 343.4,511.3 343.8,511.8 344.3,512.3 344.8,512.8 345.2,513.3 345.7,513.8 346.3,514.3 346.8,514.8 347.3,515.3 347.9,515.8 348.4,516.3 348.9,516.8 349.5,517.3 350,517.8 350.5,518.3 351.1,518.8 351.6,519.3 352.1,519.8 352.5,520.3 353,520.8 353.4,521.3 353.8,521.8 354.2,522.3 354.6,522.8 354.9,523.3 355.3,523.8 355.6,524.3 355.8,524.8 356.1,525.3 356.3,525.8 356.5,526.3 356.7,526.8 356.9,527.3 357,527.8 357.2,528.3 357.3,528.8 357.4,529.3 357.5,529.8 357.6,530.3 357.6,530.8 357.7,531.3 357.8,531.8 357.8,532.3 357.9,532.8 357.9,533.3 358,533.8 358,534.3 358.1,534.8 358.1,535.3 358.2,535.8 358.2,536.3 358.3,536.8 358.3,537.3 358.3,537.8 358.4,538.3 358.4,538.8 358.4,539.3 358.4,539.8 358.5,540.3 358.6,540.3Z" fill="#0000cd"/>
<path d="M362.4,491.6h0M363.4,513.6h0M364.6,510.4h0M362.6,508.6h0M362,492.9h0M366.4,515.3h0M362.2,496.2h0M367.3,506.1h0M363.7,513.4h0M364.5,514.7h0M366.3,502.4h0M363,509.2h0M365.7,511.9h0M364.6,500.3h0M366.9,505.8h0M364.1,515.8h0M362,533.6h0M366.8,516.8h0M366,510.2h0M365.6,496h0M362.1,518h0M363.8,510.5h0M365.8,503.3h0M366.5,509.1h0M362.6,491.4h0M367.3,489.4h0M366.1,501.3h0M364.8,509h0M362.6,512.9h0M364.1,499h0M363.2,525.6h0M365.6,501.7h0M366.3,505.2h0M364.5,507.4h0M364.5,495.9h0M362.8,499.5h0M364.4,507h0M363.3,529.7h0M364.5,503.7h0M365.3,500.8h0M367.2,489.1h0M363.7,506.6h0M364.1,487h0M362.8,504.1h0M362.4,505.8h0M362.7,508.9h0M363.4,506.3h0M366.7,514.7h0M367.4,505.3h0M365.4,501.8h0M362.3,491h0M366.1,514.6h0M364.4,500.3h0M365.3,505.6h0M362.4,503.7h0M363.3,510.2h0M364.9,517h0M364.3,504h0M367.6,499.4h0M367.3,534.2h0M366.6,497.8h0M367.7,496h0M365.1,525.4h0M363.4,508.8h0M364.6,495.5h0M365.7,490.7h0M364.7,501.7h0M362.2,519.5h0M364.4,513.3h0M365.9,503.5h0" stroke="#2232de" stroke-width="1.05" stroke-linecap="round" opacity="0.85"/>
<circle cx="358.58" cy="505.51" r="1.05" fill="#0a0a3a"/>
<path d="M324.9,567.35v-1.2M324.9,469.6v1.2M358.58,567.35v-1.2M358.58,469.6v1.2M304.3,469.6h1.2M371.7,469.6h-1.2M304.3,485.89h1.2M371.7,485.89h-1.2M304.3,502.18h1.2M371.7,502.18h-1.2M304.3,518.48h1.2M371.7,518.48h-1.2M304.3,534.77h1.2M371.7,534.77h-1.2M304.3,551.06h1.2M371.7,551.06h-1.2M304.3,567.35h1.2M371.7,567.35h-1.2" stroke="#555" stroke-width="0.5" fill="none"/>
<rect x="304.3" y="469.6" width="67.4" height="97.75" fill="none" stroke="#a0a0a0" stroke-width="0.7"/>
<text transform="translate(302.1 473.1) scale(0.92 1)" font-size="8.8" text-anchor="end" fill="#363636">100</text>
<text transform="translate(302.1 489.39) scale(0.92 1)" font-size="8.8" text-anchor="end" fill="#363636">50</text>
<text transform="translate(302.1 505.68) scale(0.92 1)" font-size="8.8" text-anchor="end" fill="#363636">0</text>
<text transform="translate(302.1 521.98) scale(0.92 1)" font-size="8.8" text-anchor="end" fill="#363636">-50</text>
<text transform="translate(302.1 538.27) scale(0.92 1)" font-size="8.8" text-anchor="end" fill="#363636">-100</text>
<text transform="translate(302.1 554.56) scale(0.92 1)" font-size="8.8" text-anchor="end" fill="#363636">-150</text>
<text transform="translate(302.1 570.85) scale(0.92 1)" font-size="8.8" text-anchor="end" fill="#363636">-200</text>
<text transform="translate(324.9 574.6) scale(0.92 1)" font-size="8.8" text-anchor="middle" fill="#363636">4</text>
<text transform="translate(358.58 574.6) scale(0.92 1)" font-size="8.8" text-anchor="middle" fill="#363636">5</text>
<text x="338" y="469" font-size="10.5" text-anchor="middle" font-weight="bold" fill="#000" stroke="#000" stroke-width="0.35">*</text>
<text x="600.6" y="315.65" font-size="10.3" text-anchor="middle" font-weight="bold" fill="#000" textLength="87.7" lengthAdjust="spacingAndGlyphs" stroke="#000" stroke-width="0.5">Right hippocampus</text>
<path d="M435.48,338.25V418.3M441.33,338.25V418.3M444.26,338.25V418.3M447.19,338.25V418.3M450.12,338.25V418.3M455.98,338.25V418.3M458.91,338.25V418.3M461.84,338.25V418.3M464.76,338.25V418.3M470.62,338.25V418.3M473.55,338.25V418.3M476.48,338.25V418.3M479.41,338.25V418.3M485.27,338.25V418.3M488.2,338.25V418.3M491.12,338.25V418.3M494.05,338.25V418.3M499.91,338.25V418.3M502.84,338.25V418.3M505.77,338.25V418.3M508.7,338.25V418.3M514.55,338.25V418.3M517.48,338.25V418.3M520.41,338.25V418.3M523.34,338.25V418.3M529.2,338.25V418.3M532.13,338.25V418.3M535.06,338.25V418.3M435.3,414.3H537.4M435.3,410.3H537.4M435.3,406.29H537.4M435.3,398.29H537.4M435.3,394.29H537.4M435.3,390.28H537.4M435.3,382.28H537.4M435.3,378.27H537.4M435.3,374.27H537.4M435.3,366.27H537.4M435.3,362.26H537.4M435.3,358.26H537.4M435.3,350.26H537.4M435.3,346.25H537.4M435.3,342.25H537.4" stroke="#ececec" stroke-width="0.45" stroke-dasharray="1 0.6" fill="none"/>
<path d="M438.4,338.25V418.3M453.05,338.25V418.3M467.69,338.25V418.3M482.34,338.25V418.3M496.98,338.25V418.3M511.63,338.25V418.3M526.27,338.25V418.3M435.3,354.26H537.4M435.3,370.27H537.4M435.3,386.28H537.4M435.3,402.29H537.4" stroke="#e8e8e8" stroke-width="0.5" fill="none"/>
<g transform="translate(494.9,387.3)"><path d="M0.3,7.5 C0.3,4 3,1.2 7,0.5 C11,-0.1 15.5,0.5 18,2.8 C19.8,4.5 20.2,7 19.4,8.8 C18.6,10.2 16.8,10.6 15,10.9 C13.5,11.2 12.5,11.6 11.5,12.3 C10.5,13.2 9,13.2 8.3,12.4 C6.5,11.9 4,11.6 2.3,10.6 C1,9.8 0.3,8.8 0.3,7.5 Z" fill="url(#glat)" stroke="#454545" stroke-width="0.9"/><path d="M10.4,6.5Q9.3,7 8.1,7.1M5.6,4.9Q4.3,6 4.3,7.8M3.9,8.5Q4.2,9.9 3,9.8M11.8,7Q12.5,6.6 13.1,7.7M3.8,3.7Q4.9,4.3 6.3,3.9M10.3,6.2Q10.2,7.2 10.3,9M19.2,10.3Q17.7,10.5 16.7,11.7M7.5,1.4Q7.2,2 5.8,2.9M16.4,9.5Q18,9.5 18.3,9.6M16.3,5Q18.1,4.9 19,5.6M4.9,4.5Q2.8,4.3 1.9,4.8M4.4,1.5Q3.7,2 2.9,2.6M3.8,7.9Q4.4,8.3 6.3,9M7,3.9Q5.1,4.7 3.9,4.2M6.6,4.6Q4.7,6 4.1,5.9M6.2,3.2Q5.1,3.3 4.6,4.7M2.5,6.1Q3.2,7 4.4,8M17.7,4.5Q16.8,5.5 17,7.7M15.9,8.6Q16.9,10 17.2,9.9M6.4,10Q5,9.9 3.9,11M1.6,9.7Q2.2,11.2 3.7,11.6M10.3,3.5Q10.9,3.9 12.8,5.1" clip-path="url(#cl)" fill="none" stroke="#666" stroke-width="0.5"/></g>
<g transform="translate(535.7,387.3) scale(-1,1)"><path d="M0.3,7.5 C0.3,4 3,1.2 7,0.5 C11,-0.1 15.5,0.5 18,2.8 C19.8,4.5 20.2,7 19.4,8.8 C18.6,10.2 16.8,10.6 15,10.9 C13.5,11.2 12.5,11.6 11.5,12.3 C10.5,13.2 9,13.2 8.3,12.4 C6.5,11.9 4,11.6 2.3,10.6 C1,9.8 0.3,8.8 0.3,7.5 Z" fill="url(#glat)" stroke="#454545" stroke-width="0.9"/><path d="M10.4,6.5Q9.3,7 8.1,7.1M5.6,4.9Q4.3,6 4.3,7.8M3.9,8.5Q4.2,9.9 3,9.8M11.8,7Q12.5,6.6 13.1,7.7M3.8,3.7Q4.9,4.3 6.3,3.9M10.3,6.2Q10.2,7.2 10.3,9M19.2,10.3Q17.7,10.5 16.7,11.7M7.5,1.4Q7.2,2 5.8,2.9M16.4,9.5Q18,9.5 18.3,9.6M16.3,5Q18.1,4.9 19,5.6M4.9,4.5Q2.8,4.3 1.9,4.8M4.4,1.5Q3.7,2 2.9,2.6M3.8,7.9Q4.4,8.3 6.3,9M7,3.9Q5.1,4.7 3.9,4.2M6.6,4.6Q4.7,6 4.1,5.9M6.2,3.2Q5.1,3.3 4.6,4.7M2.5,6.1Q3.2,7 4.4,8M17.7,4.5Q16.8,5.5 17,7.7M15.9,8.6Q16.9,10 17.2,9.9M6.4,10Q5,9.9 3.9,11M1.6,9.7Q2.2,11.2 3.7,11.6M10.3,3.5Q10.9,3.9 12.8,5.1" clip-path="url(#cl)" fill="none" stroke="#666" stroke-width="0.5"/></g>
<g transform="translate(514.9,401.65) scale(-1,1)"><path d="M0.4,8.3 C0.3,5 2.5,2.2 6.5,1 C10,0 14.5,0.3 17.3,2.3 C19.6,4 20.2,7 19.4,9 C18.7,10.3 17.2,10.9 15.6,11.3 C14.9,12.5 13.8,13.5 12.6,13.6 C11.3,13.7 10.6,12.8 10.1,12.1 C8,12 5,11.9 3,11.2 C1.4,10.6 0.5,9.6 0.4,8.3 Z" fill="url(#gmed)" stroke="#707070" stroke-width="0.8"/><path d="M4.5,8 C5.5,4.8 9,3.6 12,3.8 C15,4.1 16.5,5.8 16.5,7.8 C14,7 11,6.8 8,7.3 C6.5,7.6 5.2,7.8 4.5,8 Z" fill="#cbcbcb"/><path d="M11.3,8.7L10.6,10.5M15.7,3.4L17.6,3.5M8.3,1.5L10,2.6M10.6,1.5L11.7,4M18.4,6.8L17,8.7M2.8,1.8L5.7,1.9M12,10.6L14.4,10.7M8.9,7.2L10.5,9.7M4.2,5.6L2.2,7.7M14.9,7.3L12.6,9.1" clip-path="url(#cm)" fill="none" stroke="#8c8c8c" stroke-width="0.45"/><path d="M9.8,11.6 C10.8,12.8 12.5,13.2 14.5,11.8 C13.5,11 11.5,10.8 9.8,11.6 Z" fill="#808080"/></g>
<g transform="translate(515.7,401.65)"><path d="M0.4,8.3 C0.3,5 2.5,2.2 6.5,1 C10,0 14.5,0.3 17.3,2.3 C19.6,4 20.2,7 19.4,9 C18.7,10.3 17.2,10.9 15.6,11.3 C14.9,12.5 13.8,13.5 12.6,13.6 C11.3,13.7 10.6,12.8 10.1,12.1 C8,12 5,11.9 3,11.2 C1.4,10.6 0.5,9.6 0.4,8.3 Z" fill="url(#gmed)" stroke="#707070" stroke-width="0.8"/><path d="M4.5,8 C5.5,4.8 9,3.6 12,3.8 C15,4.1 16.5,5.8 16.5,7.8 C14,7 11,6.8 8,7.3 C6.5,7.6 5.2,7.8 4.5,8 Z" fill="#cbcbcb"/><path d="M11.3,8.7L10.6,10.5M15.7,3.4L17.6,3.5M8.3,1.5L10,2.6M10.6,1.5L11.7,4M18.4,6.8L17,8.7M2.8,1.8L5.7,1.9M12,10.6L14.4,10.7M8.9,7.2L10.5,9.7M4.2,5.6L2.2,7.7M14.9,7.3L12.6,9.1" clip-path="url(#cm)" fill="none" stroke="#8c8c8c" stroke-width="0.45"/><path d="M9.8,11.6 C10.8,12.8 12.5,13.2 14.5,11.8 C13.5,11 11.5,10.8 9.8,11.6 Z" fill="#808080"/><path d="M6,12.6 C6.6,11.6 8.5,11.3 10,10.6 C11,10.1 11.8,9.3 12.6,9.5 C13,10.4 12.4,11.6 11.2,12.4 C9.8,13.3 7.6,13.8 6.3,13.4 Z" fill="#f01c1c"/></g>
<path d="M435.6,368.2 436.3,370.8 437.6,368.2 438.9,370.8 440.2,367.6 440.9,376 441.5,407.2 442.5,370.8 443.4,360.4 444.8,372.1 446.1,369.5 447.4,364.3 449.3,369.5 450.6,377.3 451.9,378.6 453.2,376 454.5,374.7 455.5,368.9 456.8,385.1 458.1,378.6 459.7,374.7 461.6,371.4 462.9,357.1 463.9,364.3 464.9,366.2 466.2,371.1 468.1,365.6 470.1,366.2 472.1,363 473.4,355.9 474.6,360.4 475.9,365.6 477.2,371.1 479.2,364.3 480.5,366.2 482.4,366.9 484.4,357.1 485.7,363 487,368.2 488.3,372.8 489.6,368.2 491.6,364.3 493.5,363 494.8,360.3 496.1,359.8 498.1,356.5 500,353.9 501.3,358.4 502.6,355.2 504.6,359.8 506.5,363 508.4,364.9 510.4,366.2 511.7,367.9 513,367.6 515,368.2 516.9,372.8 518.2,368.2 520.1,371.4 522.1,369.5 523.4,369.3 524.7,370.8 526,371.1 527.3,369.5 528.6,368.3 529.9,368.9 531.2,369.8 532.5,369.5 533.8,367.3 535.1,367.6 537.1,370.8" fill="none" stroke="#b0d4e6" stroke-width="2.0" stroke-linejoin="round" opacity="0.7"/>
<path d="M435.6,368.2 436.3,370.8 437.6,368.2 438.9,370.8 440.2,367.6 440.9,376 441.5,407.2 442.5,370.8 443.4,360.4 444.8,372.1 446.1,369.5 447.4,364.3 449.3,369.5 450.6,377.3 451.9,378.6 453.2,376 454.5,374.7 455.5,368.9 456.8,385.1 458.1,378.6 459.7,374.7 461.6,371.4 462.9,357.1 463.9,364.3 464.9,366.2 466.2,371.1 468.1,365.6 470.1,366.2 472.1,363 473.4,355.9 474.6,360.4 475.9,365.6 477.2,371.1 479.2,364.3 480.5,366.2 482.4,366.9 484.4,357.1 485.7,363 487,368.2 488.3,372.8 489.6,368.2 491.6,364.3 493.5,363 494.8,360.3 496.1,359.8 498.1,356.5 500,353.9 501.3,358.4 502.6,355.2 504.6,359.8 506.5,363 508.4,364.9 510.4,366.2 511.7,367.9 513,367.6 515,368.2 516.9,372.8 518.2,368.2 520.1,371.4 522.1,369.5 523.4,369.3 524.7,370.8 526,371.1 527.3,369.5 528.6,368.3 529.9,368.9 531.2,369.8 532.5,369.5 533.8,367.3 535.1,367.6 537.1,370.8" fill="none" stroke="#3c8ab6" stroke-width="0.6" stroke-linejoin="round"/>
<circle cx="456.71" cy="385.1" r="3.55" fill="none" stroke="#ee1c25" stroke-width="0.9"/>
<circle cx="466.59" cy="371.06" r="3.55" fill="none" stroke="#ee1c25" stroke-width="0.9"/>
<circle cx="477.9" cy="371.06" r="3.55" fill="none" stroke="#ee1c25" stroke-width="0.9"/>
<circle cx="488.3" cy="372.75" r="3.55" fill="none" stroke="#ee1c25" stroke-width="0.9"/>
<path d="M438.4,418.3v-1.2M438.4,338.25v1.2M453.05,418.3v-1.2M453.05,338.25v1.2M467.69,418.3v-1.2M467.69,338.25v1.2M482.34,418.3v-1.2M482.34,338.25v1.2M496.98,418.3v-1.2M496.98,338.25v1.2M511.63,418.3v-1.2M511.63,338.25v1.2M526.27,418.3v-1.2M526.27,338.25v1.2M435.3,338.25h1.2M537.4,338.25h-1.2M435.3,354.26h1.2M537.4,354.26h-1.2M435.3,370.27h1.2M537.4,370.27h-1.2M435.3,386.28h1.2M537.4,386.28h-1.2M435.3,402.29h1.2M537.4,402.29h-1.2M435.3,418.3h1.2M537.4,418.3h-1.2" stroke="#555" stroke-width="0.5" fill="none"/>
<rect x="435.3" y="338.25" width="102.1" height="80.05" fill="none" stroke="#a0a0a0" stroke-width="0.7"/>
<text x="433" y="340.65" font-size="8.2" text-anchor="end" fill="#363636">40</text>
<text x="433" y="356.66" font-size="8.2" text-anchor="end" fill="#363636">20</text>
<text x="433" y="372.67" font-size="8.2" text-anchor="end" fill="#363636">0</text>
<text x="433" y="388.68" font-size="8.2" text-anchor="end" fill="#363636">-20</text>
<text x="433" y="404.69" font-size="8.2" text-anchor="end" fill="#363636">-40</text>
<text x="433" y="420.7" font-size="8.2" text-anchor="end" fill="#363636">-60</text>
<text x="438.4" y="425.05" font-size="8.3" text-anchor="middle" fill="#363636">0</text>
<text x="453.05" y="425.05" font-size="8.3" text-anchor="middle" fill="#363636">0.5</text>
<text x="467.69" y="425.05" font-size="8.3" text-anchor="middle" fill="#363636">1</text>
<text x="482.34" y="425.05" font-size="8.3" text-anchor="middle" fill="#363636">1.5</text>
<text x="496.98" y="425.05" font-size="8.3" text-anchor="middle" fill="#363636">2</text>
<text x="511.63" y="425.05" font-size="8.3" text-anchor="middle" fill="#363636">2.5</text>
<text x="526.27" y="425.05" font-size="8.3" text-anchor="middle" fill="#363636">3</text>
<text x="485.95" y="332.75" font-size="10" text-anchor="middle" textLength="16.4" lengthAdjust="spacingAndGlyphs">NT1</text>
<g transform="translate(436.2,433.9)"><ellipse cx="1.3" cy="-1" rx="1.35" ry="0.95" transform="rotate(-20 1.3 -1)" fill="#111"/><path d="M2.45,-1.2 V-5.6 C3.2,-4.6 4.5,-4 4.2,-2.3" fill="none" stroke="#111" stroke-width="0.6"/></g>
<g transform="translate(447.05,433.9)"><ellipse cx="1.3" cy="-1" rx="1.35" ry="0.95" transform="rotate(-20 1.3 -1)" fill="#111"/><path d="M2.45,-1.2 V-5.6 C3.2,-4.6 4.5,-4 4.2,-2.3" fill="none" stroke="#111" stroke-width="0.6"/></g>
<path d="M445.75,435.1v1h7.4v-1" fill="none" stroke="#3c8ab6" stroke-width="0.65" opacity="0.75"/>
<g transform="translate(457.9,433.9)"><ellipse cx="1.3" cy="-1" rx="1.35" ry="0.95" transform="rotate(-20 1.3 -1)" fill="#111"/><path d="M2.45,-1.2 V-5.6 C3.2,-4.6 4.5,-4 4.2,-2.3" fill="none" stroke="#111" stroke-width="0.6"/></g>
<path d="M456.6,435.1v1h7.4v-1" fill="none" stroke="#3c8ab6" stroke-width="0.65" opacity="0.75"/>
<g transform="translate(468.75,433.9)"><ellipse cx="1.3" cy="-1" rx="1.35" ry="0.95" transform="rotate(-20 1.3 -1)" fill="#111"/><path d="M2.45,-1.2 V-5.6 C3.2,-4.6 4.5,-4 4.2,-2.3" fill="none" stroke="#111" stroke-width="0.6"/></g>
<path d="M467.45,435.1v1h7.4v-1" fill="none" stroke="#3c8ab6" stroke-width="0.65" opacity="0.75"/>
<g transform="translate(479.6,433.9)"><ellipse cx="1.3" cy="-1" rx="1.35" ry="0.95" transform="rotate(-20 1.3 -1)" fill="#111"/><path d="M2.45,-1.2 V-5.6 C3.2,-4.6 4.5,-4 4.2,-2.3" fill="none" stroke="#111" stroke-width="0.6"/></g>
<path d="M478.3,435.1v1h7.4v-1" fill="none" stroke="#3c8ab6" stroke-width="0.65" opacity="0.75"/>
<text x="486.5" y="447.9" font-size="9.5" text-anchor="middle" textLength="31.6" lengthAdjust="spacingAndGlyphs">Time (s)</text>
<text x="415.6" y="379.85" font-size="9.4" text-anchor="middle" textLength="84.7" lengthAdjust="spacingAndGlyphs" transform="rotate(-90 415.6 379.85)">Neural activity index</text>
<path d="M457.08,469.6V567.35M459.91,469.6V567.35M462.73,469.6V567.35M465.56,469.6V567.35M471.21,469.6V567.35M474.03,469.6V567.35M476.86,469.6V567.35M479.68,469.6V567.35M485.33,469.6V567.35M488.16,469.6V567.35M490.98,469.6V567.35M493.81,469.6V567.35M499.46,469.6V567.35M502.28,469.6V567.35M505.11,469.6V567.35M507.93,469.6V567.35M513.58,469.6V567.35M516.41,469.6V567.35M519.23,469.6V567.35M452.5,564.09H520.4M452.5,560.83H520.4M452.5,557.58H520.4M452.5,554.32H520.4M452.5,547.8H520.4M452.5,544.54H520.4M452.5,541.28H520.4M452.5,538.02H520.4M452.5,531.51H520.4M452.5,528.25H520.4M452.5,524.99H520.4M452.5,521.73H520.4M452.5,515.22H520.4M452.5,511.96H520.4M452.5,508.7H520.4M452.5,505.44H520.4M452.5,498.93H520.4M452.5,495.67H520.4M452.5,492.41H520.4M452.5,489.15H520.4M452.5,482.63H520.4M452.5,479.38H520.4M452.5,476.12H520.4M452.5,472.86H520.4" stroke="#ececec" stroke-width="0.45" stroke-dasharray="1 0.6" fill="none"/>
<path d="M468.38,469.6V567.35M482.51,469.6V567.35M496.63,469.6V567.35M510.76,469.6V567.35M452.5,485.89H520.4M452.5,502.18H520.4M452.5,518.48H520.4M452.5,534.77H520.4M452.5,551.06H520.4" stroke="#e8e8e8" stroke-width="0.5" fill="none"/>
<path d="M468.4,487.2L468.3,487.2 468.3,487.7 468.3,488.2 468.3,488.7 468.3,489.2 468.3,489.7 468.3,490.2 468.3,490.7 468.2,491.2 468.2,491.7 468.2,492.2 468.2,492.7 468.2,493.2 468.2,493.7 468.1,494.3 468.1,494.8 468.1,495.3 468,495.8 468,496.3 468,496.8 467.9,497.3 467.9,497.8 467.8,498.3 467.7,498.8 467.7,499.3 467.6,499.8 467.5,500.3 467.4,500.8 467.3,501.3 467.2,501.8 467.1,502.3 467,502.8 467,503.3 466.9,503.8 466.8,504.3 466.7,504.8 466.6,505.3 466.5,505.8 466.3,506.3 466.2,506.8 466.1,507.3 466,507.8 465.9,508.3 465.8,508.8 465.7,509.3 465.6,509.8 465.4,510.3 465.3,510.9 465.2,511.4 465.1,511.9 464.9,512.4 464.8,512.9 464.6,513.4 464.4,513.9 464.3,514.4 464.1,514.9 463.9,515.4 463.7,515.9 463.5,516.4 463.3,516.9 463.1,517.4 462.9,517.9 462.7,518.4 462.5,518.9 462.3,519.4 462.1,519.9 461.9,520.4 461.7,520.9 461.6,521.4 461.5,521.9 461.4,522.4 461.3,522.9 461.3,523.4 461.3,523.9 461.3,524.4 461.4,524.9 461.5,525.4 461.6,525.9 461.7,526.4 461.9,526.9 462,527.4 462.2,528 462.4,528.5 462.6,529 462.8,529.5 463,530 463.1,530.5 463.3,531 463.5,531.5 463.7,532 463.9,532.5 464.1,533 464.3,533.5 464.5,534 464.7,534.5 464.8,535 465,535.5 465.2,536 465.3,536.5 465.5,537 465.7,537.5 465.8,538 466,538.5 466.1,539 466.2,539.5 466.4,540 466.5,540.5 466.6,541 466.8,541.5 466.9,542 467,542.5 467.1,543 467.2,543.5 467.3,544 467.3,544.6 467.4,545.1 467.5,545.6 467.6,546.1 467.6,546.6 467.7,547.1 467.7,547.6 467.8,548.1 467.8,548.6 467.8,549.1 467.9,549.6 467.9,550.1 467.9,550.6 467.9,551.1 467.9,551.6 468,552.1 468,552.6 468,553.1 468,553.6 468,554.1 468,554.6 468.1,555.1 468.1,555.6 468.1,556.1 468.1,556.6 468.1,557.1 468.1,557.6 468.2,558.1 468.2,558.6 468.2,559.1 468.2,559.6 468.2,560.1 468.2,560.6 468.2,561.2 468.3,561.7 468.3,562.2 468.3,562.7 468.3,563.2 468.3,563.7 468.3,564.2 468.3,564.7 468.3,565.2 468.4,565.2Z" fill="#0000cd"/>
<path d="M472.2,534.3h0M471.6,527h0M471.8,541.9h0M471.7,510.1h0M470.5,519h0M471.8,528.5h0M470.2,505.5h0M470.3,509.4h0M471.5,527.6h0M471.8,526.7h0M470.4,527.8h0M469.8,518.5h0M471.9,523h0M469.8,524.8h0M470.4,508.2h0M471.2,534h0M470.4,531.2h0M472.2,531.4h0M471.8,503.3h0M471.5,522.5h0M471.1,530.4h0M471.1,504.7h0M471.5,519.8h0M471.7,527h0M472,525.8h0M470.6,524.3h0M470,515h0M471.3,519h0M471.7,541.9h0M470.9,506.3h0M470.1,512.5h0M470.4,535.8h0M470.1,539.7h0M472.1,516.8h0M471.7,518.5h0M472.1,505.6h0M470,524.2h0M470.8,532.9h0M471.8,517h0M470.4,525.2h0M471,524.9h0M470.6,518.2h0M470.3,544.7h0M469.8,516.5h0M471.8,531.7h0M471.8,543.2h0M471.2,526.8h0M471.3,519.3h0M471.1,528h0M470,515.9h0M471.2,535.4h0M471.2,524.3h0M471.6,544.2h0M470.5,532.4h0M471.9,536.6h0M471.2,515.8h0M471.3,520.1h0M471.1,536.8h0M472,524.3h0M470.9,525.9h0M471.5,523.8h0M470.9,527h0M471.5,522.7h0M470.6,498h0M471.7,500.2h0M470.4,515.5h0M470.3,512.5h0M471.3,522.5h0M471.7,507.1h0M471,509.1h0M470.7,553.3h0" stroke="#2232de" stroke-width="1.05" stroke-linecap="round" opacity="0.85"/>
<circle cx="468.38" cy="523.93" r="1.05" fill="#0a0a3a"/>
<path d="M482.5,477.6L482.5,477.6 482.5,478.1 482.5,478.6 482.5,479.1 482.5,479.6 482.4,480.1 482.4,480.6 482.4,481.1 482.4,481.6 482.4,482.1 482.4,482.6 482.4,483.1 482.4,483.6 482.4,484.1 482.4,484.6 482.3,485.1 482.3,485.6 482.3,486.1 482.3,486.6 482.3,487.1 482.3,487.6 482.3,488.1 482.3,488.6 482.3,489.1 482.2,489.6 482.2,490.1 482.2,490.7 482.2,491.2 482.2,491.7 482.2,492.2 482.1,492.7 482.1,493.2 482.1,493.7 482,494.2 482,494.7 482,495.2 481.9,495.7 481.8,496.2 481.8,496.7 481.7,497.2 481.6,497.7 481.6,498.2 481.5,498.7 481.4,499.2 481.3,499.7 481.3,500.2 481.2,500.7 481.1,501.2 480.9,501.7 480.8,502.2 480.7,502.7 480.5,503.2 480.3,503.7 480.2,504.2 480,504.7 479.8,505.2 479.6,505.7 479.4,506.2 479.2,506.7 479,507.2 478.8,507.7 478.5,508.2 478.3,508.7 478,509.2 477.8,509.7 477.6,510.2 477.3,510.7 477.1,511.2 476.9,511.7 476.7,512.2 476.5,512.7 476.3,513.2 476.1,513.7 476,514.2 475.9,514.7 475.8,515.2 475.8,515.7 475.8,516.2 475.8,516.7 475.8,517.2 475.9,517.7 476,518.2 476.1,518.7 476.2,519.3 476.4,519.8 476.5,520.3 476.7,520.8 476.8,521.3 477,521.8 477.1,522.3 477.3,522.8 477.5,523.3 477.7,523.8 477.8,524.3 478,524.8 478.2,525.3 478.4,525.8 478.5,526.3 478.7,526.8 478.9,527.3 479.1,527.8 479.2,528.3 479.4,528.8 479.5,529.3 479.7,529.8 479.8,530.3 479.9,530.8 480,531.3 480.2,531.8 480.3,532.3 480.4,532.8 480.5,533.3 480.6,533.8 480.7,534.3 480.8,534.8 480.9,535.3 481,535.8 481.1,536.3 481.2,536.8 481.2,537.3 481.3,537.8 481.4,538.3 481.4,538.8 481.5,539.3 481.6,539.8 481.6,540.3 481.7,540.8 481.7,541.3 481.8,541.8 481.9,542.3 481.9,542.8 482,543.3 482,543.8 482.1,544.3 482.1,544.8 482.1,545.3 482.2,545.8 482.2,546.3 482.3,546.8 482.3,547.3 482.3,547.9 482.3,548.4 482.4,548.9 482.4,549.4 482.5,549.4Z" fill="#0000cd"/>
<path d="M485.8,508.7h0M486.2,506.2h0M484.6,513.8h0M485.9,522.9h0M485.2,516.8h0M484.7,499.2h0M485.6,523h0M484.2,523.5h0M484.3,519.8h0M484.4,534.3h0M484.5,533.8h0M484.2,528.3h0M485.4,532.1h0M484.7,541.9h0M484.7,538.9h0M486,528h0M484.6,507.9h0M486,514.6h0M485.6,507.5h0M485.8,501.9h0M484.2,510.4h0M485.8,517.5h0M484.2,520.4h0M486,514.4h0M484.1,530.2h0M484.5,500.1h0M484.9,536.7h0M484,524.4h0M485.6,519.3h0M485.6,520.9h0M484.8,532.2h0M484.4,516.1h0M484.6,531h0M485.1,525.8h0M485,534.7h0M486,510h0M485.1,518.4h0M485,503.5h0M484.8,518.5h0M484.8,537.6h0M485.4,522.2h0M485.5,539h0M485,512.3h0M486.1,518h0M485.1,539.2h0M486.1,502.7h0M484.9,536.7h0M486,497.4h0M485.9,513.6h0M484.9,518.8h0M485.8,509.9h0M486.3,500.4h0M485.3,513h0M485.4,540h0M484.2,524.3h0M485,508.5h0M484.8,515.4h0M484.3,517.4h0M485.2,523.6h0M485.1,518.6h0M486.3,525.3h0M484.3,519.3h0M485.8,521.1h0M485.8,507.2h0M484,509.4h0M485.5,516.4h0M486.1,513.9h0M484.1,510.2h0M484,515.5h0M484,514.1h0M485.7,482.7h0" stroke="#2232de" stroke-width="1.05" stroke-linecap="round" opacity="0.85"/>
<circle cx="482.51" cy="518.62" r="1.05" fill="#0a0a3a"/>
<path d="M496.6,483.8L496.5,483.8 496.5,484.3 496.5,484.8 496.5,485.3 496.5,485.8 496.4,486.3 496.4,486.8 496.4,487.3 496.4,487.8 496.3,488.3 496.3,488.8 496.3,489.3 496.2,489.8 496.2,490.3 496.1,490.8 496.1,491.4 496,491.9 496,492.4 495.9,492.9 495.8,493.4 495.7,493.9 495.6,494.4 495.5,494.9 495.4,495.4 495.3,495.9 495.1,496.4 495,496.9 494.9,497.4 494.7,497.9 494.6,498.4 494.5,498.9 494.3,499.4 494.2,499.9 494,500.4 493.9,500.9 493.7,501.4 493.6,501.9 493.4,502.4 493.3,502.9 493.1,503.4 493,503.9 492.8,504.4 492.6,504.9 492.5,505.4 492.3,505.9 492.1,506.4 491.9,506.9 491.7,507.4 491.6,507.9 491.4,508.4 491.3,508.9 491.1,509.4 491,509.9 490.9,510.4 490.8,510.9 490.7,511.4 490.6,511.9 490.5,512.4 490.5,512.9 490.5,513.4 490.4,514 490.4,514.5 490.4,515 490.5,515.5 490.5,516 490.6,516.5 490.6,517 490.7,517.5 490.8,518 490.9,518.5 491,519 491.1,519.5 491.2,520 491.4,520.5 491.5,521 491.6,521.5 491.8,522 491.9,522.5 492.1,523 492.2,523.5 492.4,524 492.6,524.5 492.7,525 492.9,525.5 493,526 493.2,526.5 493.3,527 493.5,527.5 493.6,528 493.8,528.5 493.9,529 494.1,529.5 494.2,530 494.4,530.5 494.5,531 494.6,531.5 494.8,532 494.9,532.5 495,533 495.1,533.5 495.2,534 495.3,534.5 495.4,535 495.5,535.5 495.6,536 495.7,536.5 495.8,537.1 495.9,537.6 495.9,538.1 496,538.6 496.1,539.1 496.1,539.6 496.2,540.1 496.2,540.6 496.2,541.1 496.3,541.6 496.3,542.1 496.3,542.6 496.4,543.1 496.4,543.6 496.4,544.1 496.4,544.6 496.5,545.1 496.5,545.6 496.5,546.1 496.5,546.6 496.5,547.1 496.6,547.1Z" fill="#0000cd"/>
<path d="M499.1,506.4h0M500,520.3h0M499.8,523h0M499.6,522.1h0M499.4,508.1h0M499.3,530.2h0M498.8,497.7h0M500.1,516.3h0M499.9,502.9h0M498.6,507.5h0M499.8,507.4h0M499.9,523.8h0M499,527.7h0M500.2,493.3h0M499.4,496.7h0M498.5,519.2h0M499.9,519.6h0M498.1,511.3h0M499.2,503.5h0M499.9,517.6h0M499.8,514.4h0M499.3,502.9h0M499.8,530.2h0M498.3,515.5h0M499.8,525.2h0M498.3,524.4h0M498.3,500h0M499.3,529.9h0M498.7,532.5h0M499.4,526.7h0M500.3,505.6h0M498.8,493.5h0M500.2,521h0M500.1,526.4h0M498.7,535.6h0M498.3,519.8h0M498.6,522h0M499.1,521.8h0M499.8,504.5h0M500.2,516h0M499.2,520.2h0M499.5,529.5h0M500.3,530.9h0M499.7,494.5h0M498.9,503.3h0M499.6,514.9h0M500.4,512.3h0M499.8,512.2h0M498.4,517.7h0M498.5,522.3h0M499.5,497.5h0M498.6,499h0M500.3,515.7h0M498.9,502h0M498.5,536.2h0M500.3,530.5h0M499.8,526.4h0M500.3,497.7h0M499.9,506.9h0M499.7,508.3h0M500.3,518.3h0M500,515.9h0M499.4,520.9h0M499.2,511.9h0M499.1,526h0M500.3,538.9h0M499.7,508.9h0M498.1,522.3h0M499.5,514.2h0M498.1,506.2h0" stroke="#2232de" stroke-width="1.05" stroke-linecap="round" opacity="0.85"/>
<circle cx="496.63" cy="518.28" r="1.05" fill="#0a0a3a"/>
<path d="M510.8,491.7L510.7,491.7 510.7,492.2 510.6,492.7 510.6,493.2 510.6,493.7 510.6,494.2 510.5,494.7 510.5,495.2 510.5,495.7 510.4,496.2 510.4,496.8 510.3,497.3 510.3,497.8 510.2,498.3 510.1,498.8 510,499.3 510,499.8 509.9,500.3 509.8,500.8 509.7,501.3 509.6,501.8 509.5,502.3 509.4,502.8 509.3,503.3 509.2,503.8 509,504.3 508.9,504.8 508.7,505.3 508.5,505.8 508.3,506.3 508.1,506.8 507.8,507.3 507.6,507.8 507.4,508.3 507.1,508.8 506.8,509.3 506.6,509.8 506.3,510.3 506,510.8 505.8,511.3 505.5,511.8 505.3,512.3 505,512.8 504.8,513.3 504.5,513.8 504.3,514.3 504.1,514.8 503.9,515.3 503.7,515.8 503.5,516.3 503.4,516.8 503.3,517.3 503.2,517.8 503.2,518.3 503.2,518.8 503.2,519.3 503.3,519.9 503.4,520.4 503.6,520.9 503.7,521.4 503.9,521.9 504.1,522.4 504.3,522.9 504.6,523.4 504.8,523.9 505.1,524.4 505.3,524.9 505.6,525.4 505.8,525.9 506.1,526.4 506.3,526.9 506.5,527.4 506.8,527.9 507,528.4 507.2,528.9 507.5,529.4 507.7,529.9 507.9,530.4 508.1,530.9 508.2,531.4 508.4,531.9 508.6,532.4 508.7,532.9 508.9,533.4 509,533.9 509.2,534.4 509.3,534.9 509.4,535.4 509.5,535.9 509.6,536.4 509.8,536.9 509.9,537.4 510,537.9 510.1,538.4 510.1,538.9 510.2,539.4 510.3,539.9 510.4,540.4 510.4,540.9 510.5,541.4 510.8,541.4Z" fill="#0000cd"/>
<path d="M512.3,507.3h0M512.7,530.4h0M514.3,517.7h0M512.5,521.5h0M513.2,518.6h0M514.6,517.9h0M513.9,531.9h0M513.8,513.9h0M513.4,513.8h0M514.3,501.1h0M512.8,518.3h0M513.5,507.5h0M513.4,518.2h0M512.2,504.8h0M512.9,520.8h0M514.4,516.3h0M514.3,519h0M514,528.1h0M513.5,517.4h0M514,513h0M514.1,510.2h0M512.7,500.5h0M513.9,529.7h0M514,524.4h0M513.7,502.4h0M513.4,521.7h0M512.5,521h0M513.2,511.6h0M513.1,511.4h0M513.1,515.4h0M512.2,499.2h0M513.2,513h0M512.2,514.3h0M512.9,537.6h0M512.9,522.2h0M512.7,529.3h0M513.8,509.1h0M513.1,516.3h0M514.2,522.5h0M513.6,503.7h0M513.3,527.4h0M512.3,529.4h0M513.3,525.2h0M513.7,537.3h0M513.6,522.6h0M513.9,518.1h0M512.7,535.4h0M513.2,512.1h0M513.9,503.3h0M514.4,515.1h0M513.6,509.9h0M513.7,509.2h0M512.3,523.7h0M512.9,513.8h0M513.4,535.8h0M513.6,516.3h0M512.8,518.9h0M514.4,513.8h0M512.7,519.5h0M513.1,521.8h0M513.3,513.4h0M513.2,520.5h0M514.5,506.4h0M513.8,502h0M514.3,517.5h0M513.8,522.1h0M512.6,513h0M513.8,517.2h0M513.2,529.9h0M512.8,518.2h0" stroke="#2232de" stroke-width="1.05" stroke-linecap="round" opacity="0.85"/>
<circle cx="510.76" cy="518.06" r="1.05" fill="#0a0a3a"/>
<path d="M468.38,567.35v-1.2M468.38,469.6v1.2M482.51,567.35v-1.2M482.51,469.6v1.2M496.63,567.35v-1.2M496.63,469.6v1.2M510.76,567.35v-1.2M510.76,469.6v1.2M452.5,469.6h1.2M520.4,469.6h-1.2M452.5,485.89h1.2M520.4,485.89h-1.2M452.5,502.18h1.2M520.4,502.18h-1.2M452.5,518.48h1.2M520.4,518.48h-1.2M452.5,534.77h1.2M520.4,534.77h-1.2M452.5,551.06h1.2M520.4,551.06h-1.2M452.5,567.35h1.2M520.4,567.35h-1.2" stroke="#555" stroke-width="0.5" fill="none"/>
<rect x="452.5" y="469.6" width="67.9" height="97.75" fill="none" stroke="#a0a0a0" stroke-width="0.7"/>
<text transform="translate(450.3 473.1) scale(0.92 1)" font-size="8.8" text-anchor="end" fill="#363636">150</text>
<text transform="translate(450.3 489.39) scale(0.92 1)" font-size="8.8" text-anchor="end" fill="#363636">100</text>
<text transform="translate(450.3 505.68) scale(0.92 1)" font-size="8.8" text-anchor="end" fill="#363636">50</text>
<text transform="translate(450.3 521.98) scale(0.92 1)" font-size="8.8" text-anchor="end" fill="#363636">0</text>
<text transform="translate(450.3 538.27) scale(0.92 1)" font-size="8.8" text-anchor="end" fill="#363636">-50</text>
<text transform="translate(450.3 554.56) scale(0.92 1)" font-size="8.8" text-anchor="end" fill="#363636">-100</text>
<text transform="translate(450.3 570.85) scale(0.92 1)" font-size="8.8" text-anchor="end" fill="#363636">-150</text>
<text transform="translate(468.38 574.6) scale(0.92 1)" font-size="8.8" text-anchor="middle" fill="#363636">2</text>
<text transform="translate(482.51 574.6) scale(0.92 1)" font-size="8.8" text-anchor="middle" fill="#363636">3</text>
<text transform="translate(496.63 574.6) scale(0.92 1)" font-size="8.8" text-anchor="middle" fill="#363636">4</text>
<text transform="translate(510.76 574.6) scale(0.92 1)" font-size="8.8" text-anchor="middle" fill="#363636">5</text>
<text x="486.45" y="469" font-size="10.5" text-anchor="middle" font-weight="bold" fill="#000" stroke="#000" stroke-width="0.35">***</text>
<text x="486.45" y="583.95" font-size="8.6" text-anchor="middle" textLength="15.6" lengthAdjust="spacingAndGlyphs">Tone</text>
<text x="428.4" y="518.48" font-size="9" text-anchor="middle" textLength="80.6" lengthAdjust="spacingAndGlyphs" transform="rotate(-90 428.4 518.48)">Neural activity index</text>
<path d="M564.57,338.25V418.3M570.37,338.25V418.3M573.27,338.25V418.3M576.17,338.25V418.3M579.07,338.25V418.3M584.88,338.25V418.3M587.78,338.25V418.3M590.68,338.25V418.3M593.58,338.25V418.3M599.38,338.25V418.3M602.28,338.25V418.3M605.18,338.25V418.3M608.08,338.25V418.3M613.88,338.25V418.3M616.78,338.25V418.3M619.68,338.25V418.3M622.58,338.25V418.3M628.38,338.25V418.3M631.28,338.25V418.3M634.18,338.25V418.3M637.08,338.25V418.3M642.88,338.25V418.3M645.78,338.25V418.3M648.68,338.25V418.3M651.58,338.25V418.3M657.38,338.25V418.3M660.28,338.25V418.3M663.18,338.25V418.3M564.4,414.3H665.5M564.4,410.3H665.5M564.4,406.29H665.5M564.4,398.29H665.5M564.4,394.29H665.5M564.4,390.28H665.5M564.4,382.28H665.5M564.4,378.27H665.5M564.4,374.27H665.5M564.4,366.27H665.5M564.4,362.26H665.5M564.4,358.26H665.5M564.4,350.26H665.5M564.4,346.25H665.5M564.4,342.25H665.5" stroke="#ececec" stroke-width="0.45" stroke-dasharray="1 0.6" fill="none"/>
<path d="M567.47,338.25V418.3M581.98,338.25V418.3M596.48,338.25V418.3M610.98,338.25V418.3M625.48,338.25V418.3M639.98,338.25V418.3M654.48,338.25V418.3M564.4,354.26H665.5M564.4,370.27H665.5M564.4,386.28H665.5M564.4,402.29H665.5" stroke="#e8e8e8" stroke-width="0.5" fill="none"/>
<g transform="translate(623,387.3)"><path d="M0.3,7.5 C0.3,4 3,1.2 7,0.5 C11,-0.1 15.5,0.5 18,2.8 C19.8,4.5 20.2,7 19.4,8.8 C18.6,10.2 16.8,10.6 15,10.9 C13.5,11.2 12.5,11.6 11.5,12.3 C10.5,13.2 9,13.2 8.3,12.4 C6.5,11.9 4,11.6 2.3,10.6 C1,9.8 0.3,8.8 0.3,7.5 Z" fill="url(#glat)" stroke="#454545" stroke-width="0.9"/><path d="M10.4,6.5Q9.3,7 8.1,7.1M5.6,4.9Q4.3,6 4.3,7.8M3.9,8.5Q4.2,9.9 3,9.8M11.8,7Q12.5,6.6 13.1,7.7M3.8,3.7Q4.9,4.3 6.3,3.9M10.3,6.2Q10.2,7.2 10.3,9M19.2,10.3Q17.7,10.5 16.7,11.7M7.5,1.4Q7.2,2 5.8,2.9M16.4,9.5Q18,9.5 18.3,9.6M16.3,5Q18.1,4.9 19,5.6M4.9,4.5Q2.8,4.3 1.9,4.8M4.4,1.5Q3.7,2 2.9,2.6M3.8,7.9Q4.4,8.3 6.3,9M7,3.9Q5.1,4.7 3.9,4.2M6.6,4.6Q4.7,6 4.1,5.9M6.2,3.2Q5.1,3.3 4.6,4.7M2.5,6.1Q3.2,7 4.4,8M17.7,4.5Q16.8,5.5 17,7.7M15.9,8.6Q16.9,10 17.2,9.9M6.4,10Q5,9.9 3.9,11M1.6,9.7Q2.2,11.2 3.7,11.6M10.3,3.5Q10.9,3.9 12.8,5.1" clip-path="url(#cl)" fill="none" stroke="#666" stroke-width="0.5"/></g>
<g transform="translate(663.8,387.3) scale(-1,1)"><path d="M0.3,7.5 C0.3,4 3,1.2 7,0.5 C11,-0.1 15.5,0.5 18,2.8 C19.8,4.5 20.2,7 19.4,8.8 C18.6,10.2 16.8,10.6 15,10.9 C13.5,11.2 12.5,11.6 11.5,12.3 C10.5,13.2 9,13.2 8.3,12.4 C6.5,11.9 4,11.6 2.3,10.6 C1,9.8 0.3,8.8 0.3,7.5 Z" fill="url(#glat)" stroke="#454545" stroke-width="0.9"/><path d="M10.4,6.5Q9.3,7 8.1,7.1M5.6,4.9Q4.3,6 4.3,7.8M3.9,8.5Q4.2,9.9 3,9.8M11.8,7Q12.5,6.6 13.1,7.7M3.8,3.7Q4.9,4.3 6.3,3.9M10.3,6.2Q10.2,7.2 10.3,9M19.2,10.3Q17.7,10.5 16.7,11.7M7.5,1.4Q7.2,2 5.8,2.9M16.4,9.5Q18,9.5 18.3,9.6M16.3,5Q18.1,4.9 19,5.6M4.9,4.5Q2.8,4.3 1.9,4.8M4.4,1.5Q3.7,2 2.9,2.6M3.8,7.9Q4.4,8.3 6.3,9M7,3.9Q5.1,4.7 3.9,4.2M6.6,4.6Q4.7,6 4.1,5.9M6.2,3.2Q5.1,3.3 4.6,4.7M2.5,6.1Q3.2,7 4.4,8M17.7,4.5Q16.8,5.5 17,7.7M15.9,8.6Q16.9,10 17.2,9.9M6.4,10Q5,9.9 3.9,11M1.6,9.7Q2.2,11.2 3.7,11.6M10.3,3.5Q10.9,3.9 12.8,5.1" clip-path="url(#cl)" fill="none" stroke="#666" stroke-width="0.5"/></g>
<g transform="translate(643,401.65) scale(-1,1)"><path d="M0.4,8.3 C0.3,5 2.5,2.2 6.5,1 C10,0 14.5,0.3 17.3,2.3 C19.6,4 20.2,7 19.4,9 C18.7,10.3 17.2,10.9 15.6,11.3 C14.9,12.5 13.8,13.5 12.6,13.6 C11.3,13.7 10.6,12.8 10.1,12.1 C8,12 5,11.9 3,11.2 C1.4,10.6 0.5,9.6 0.4,8.3 Z" fill="url(#gmed)" stroke="#707070" stroke-width="0.8"/><path d="M4.5,8 C5.5,4.8 9,3.6 12,3.8 C15,4.1 16.5,5.8 16.5,7.8 C14,7 11,6.8 8,7.3 C6.5,7.6 5.2,7.8 4.5,8 Z" fill="#cbcbcb"/><path d="M11.3,8.7L10.6,10.5M15.7,3.4L17.6,3.5M8.3,1.5L10,2.6M10.6,1.5L11.7,4M18.4,6.8L17,8.7M2.8,1.8L5.7,1.9M12,10.6L14.4,10.7M8.9,7.2L10.5,9.7M4.2,5.6L2.2,7.7M14.9,7.3L12.6,9.1" clip-path="url(#cm)" fill="none" stroke="#8c8c8c" stroke-width="0.45"/><path d="M9.8,11.6 C10.8,12.8 12.5,13.2 14.5,11.8 C13.5,11 11.5,10.8 9.8,11.6 Z" fill="#808080"/></g>
<g transform="translate(643.8,401.65)"><path d="M0.4,8.3 C0.3,5 2.5,2.2 6.5,1 C10,0 14.5,0.3 17.3,2.3 C19.6,4 20.2,7 19.4,9 C18.7,10.3 17.2,10.9 15.6,11.3 C14.9,12.5 13.8,13.5 12.6,13.6 C11.3,13.7 10.6,12.8 10.1,12.1 C8,12 5,11.9 3,11.2 C1.4,10.6 0.5,9.6 0.4,8.3 Z" fill="url(#gmed)" stroke="#707070" stroke-width="0.8"/><path d="M4.5,8 C5.5,4.8 9,3.6 12,3.8 C15,4.1 16.5,5.8 16.5,7.8 C14,7 11,6.8 8,7.3 C6.5,7.6 5.2,7.8 4.5,8 Z" fill="#cbcbcb"/><path d="M11.3,8.7L10.6,10.5M15.7,3.4L17.6,3.5M8.3,1.5L10,2.6M10.6,1.5L11.7,4M18.4,6.8L17,8.7M2.8,1.8L5.7,1.9M12,10.6L14.4,10.7M8.9,7.2L10.5,9.7M4.2,5.6L2.2,7.7M14.9,7.3L12.6,9.1" clip-path="url(#cm)" fill="none" stroke="#8c8c8c" stroke-width="0.45"/><path d="M9.8,11.6 C10.8,12.8 12.5,13.2 14.5,11.8 C13.5,11 11.5,10.8 9.8,11.6 Z" fill="#808080"/><path d="M6,12.6 C6.6,11.6 8.5,11.3 10,10.6 C11,10.1 11.8,9.3 12.6,9.5 C13,10.4 12.4,11.6 11.2,12.4 C9.8,13.3 7.6,13.8 6.3,13.4 Z" fill="#f01c1c"/></g>
<path d="M564.7,368.2 565.3,372.1 566.6,368.2 567.9,373.4 568.9,379.9 569.9,412.4 570.5,379.9 571.5,363 572.5,376 573.4,381.2 575,371.4 576.4,369.5 577.6,374.7 579,381.2 580.2,378.6 581.2,372.1 582.2,381.2 583.5,369.5 584.8,364.3 586.1,361.1 587.4,357.1 588.7,363 590,364.9 591.3,362.4 592.6,368.2 593.6,365.6 594.5,376 595.9,391.3 597.1,382.5 598.5,378.6 599.8,373.4 601,365.6 602.4,357.8 603.6,361.7 605.3,368.2 606.9,371.4 608.2,368.2 610.1,368.2 611.5,365.6 613.1,357.8 614.4,366.9 616,373.4 618,370.8 619.9,366.9 621.9,364.9 623.8,360.4 625.1,357.8 626.4,359.8 628.4,357.8 629.6,357.1 631,361.7 632.9,362.4 634.9,362.4 636.8,368.2 638.8,369.5 640.7,371.4 642,369.5 643.3,368.9 644.6,370.6 645.9,370.1 647.2,368.9 648.5,369.5 649.8,369.6 651.1,368.2 652.4,368.2 653.7,369.5 655,371.5 656.3,372.1 657.6,370.7 658.9,370.8 660.2,370.6 661.5,368.9 662.8,368.7 664.1,370.8 665.2,372.1" fill="none" stroke="#a8c6ee" stroke-width="2.0" stroke-linejoin="round" opacity="0.7"/>
<path d="M564.7,368.2 565.3,372.1 566.6,368.2 567.9,373.4 568.9,379.9 569.9,412.4 570.5,379.9 571.5,363 572.5,376 573.4,381.2 575,371.4 576.4,369.5 577.6,374.7 579,381.2 580.2,378.6 581.2,372.1 582.2,381.2 583.5,369.5 584.8,364.3 586.1,361.1 587.4,357.1 588.7,363 590,364.9 591.3,362.4 592.6,368.2 593.6,365.6 594.5,376 595.9,391.3 597.1,382.5 598.5,378.6 599.8,373.4 601,365.6 602.4,357.8 603.6,361.7 605.3,368.2 606.9,371.4 608.2,368.2 610.1,368.2 611.5,365.6 613.1,357.8 614.4,366.9 616,373.4 618,370.8 619.9,366.9 621.9,364.9 623.8,360.4 625.1,357.8 626.4,359.8 628.4,357.8 629.6,357.1 631,361.7 632.9,362.4 634.9,362.4 636.8,368.2 638.8,369.5 640.7,371.4 642,369.5 643.3,368.9 644.6,370.6 645.9,370.1 647.2,368.9 648.5,369.5 649.8,369.6 651.1,368.2 652.4,368.2 653.7,369.5 655,371.5 656.3,372.1 657.6,370.7 658.9,370.8 660.2,370.6 661.5,368.9 662.8,368.7 664.1,370.8 665.2,372.1" fill="none" stroke="#2468d0" stroke-width="0.6" stroke-linejoin="round"/>
<circle cx="595.59" cy="391.34" r="3.55" fill="none" stroke="#ee1c25" stroke-width="0.9"/>
<circle cx="606.64" cy="371.45" r="3.55" fill="none" stroke="#ee1c25" stroke-width="0.9"/>
<circle cx="616.91" cy="373.4" r="3.55" fill="none" stroke="#ee1c25" stroke-width="0.9"/>
<path d="M567.47,418.3v-1.2M567.47,338.25v1.2M581.98,418.3v-1.2M581.98,338.25v1.2M596.48,418.3v-1.2M596.48,338.25v1.2M610.98,418.3v-1.2M610.98,338.25v1.2M625.48,418.3v-1.2M625.48,338.25v1.2M639.98,418.3v-1.2M639.98,338.25v1.2M654.48,418.3v-1.2M654.48,338.25v1.2M564.4,338.25h1.2M665.5,338.25h-1.2M564.4,354.26h1.2M665.5,354.26h-1.2M564.4,370.27h1.2M665.5,370.27h-1.2M564.4,386.28h1.2M665.5,386.28h-1.2M564.4,402.29h1.2M665.5,402.29h-1.2M564.4,418.3h1.2M665.5,418.3h-1.2" stroke="#555" stroke-width="0.5" fill="none"/>
<rect x="564.4" y="338.25" width="101.1" height="80.05" fill="none" stroke="#a0a0a0" stroke-width="0.7"/>
<text x="562.1" y="340.65" font-size="8.2" text-anchor="end" fill="#363636">40</text>
<text x="562.1" y="356.66" font-size="8.2" text-anchor="end" fill="#363636">20</text>
<text x="562.1" y="372.67" font-size="8.2" text-anchor="end" fill="#363636">0</text>
<text x="562.1" y="388.68" font-size="8.2" text-anchor="end" fill="#363636">-20</text>
<text x="562.1" y="404.69" font-size="8.2" text-anchor="end" fill="#363636">-40</text>
<text x="562.1" y="420.7" font-size="8.2" text-anchor="end" fill="#363636">-60</text>
<text x="567.47" y="425.05" font-size="8.3" text-anchor="middle" fill="#363636">0</text>
<text x="581.98" y="425.05" font-size="8.3" text-anchor="middle" fill="#363636">0.5</text>
<text x="596.48" y="425.05" font-size="8.3" text-anchor="middle" fill="#363636">1</text>
<text x="610.98" y="425.05" font-size="8.3" text-anchor="middle" fill="#363636">1.5</text>
<text x="625.48" y="425.05" font-size="8.3" text-anchor="middle" fill="#363636">2</text>
<text x="639.98" y="425.05" font-size="8.3" text-anchor="middle" fill="#363636">2.5</text>
<text x="654.48" y="425.05" font-size="8.3" text-anchor="middle" fill="#363636">3</text>
<text x="614.55" y="332.75" font-size="10" text-anchor="middle" textLength="16.4" lengthAdjust="spacingAndGlyphs">NT2</text>
<g transform="translate(565.3,433.9)"><ellipse cx="1.3" cy="-1" rx="1.35" ry="0.95" transform="rotate(-20 1.3 -1)" fill="#111"/><path d="M2.45,-1.2 V-5.6 C3.2,-4.6 4.5,-4 4.2,-2.3" fill="none" stroke="#111" stroke-width="0.6"/></g>
<g transform="translate(576.15,433.9)"><ellipse cx="1.3" cy="-1" rx="1.35" ry="0.95" transform="rotate(-20 1.3 -1)" fill="#111"/><path d="M2.45,-1.2 V-5.6 C3.2,-4.6 4.5,-4 4.2,-2.3" fill="none" stroke="#111" stroke-width="0.6"/></g>
<g transform="translate(587,433.9)"><ellipse cx="1.3" cy="-1" rx="1.35" ry="0.95" transform="rotate(-20 1.3 -1)" fill="#111"/><path d="M2.45,-1.2 V-5.6 C3.2,-4.6 4.5,-4 4.2,-2.3" fill="none" stroke="#111" stroke-width="0.6"/></g>
<path d="M585.7,435.1v1h7.4v-1" fill="none" stroke="#2468d0" stroke-width="0.65" opacity="0.75"/>
<g transform="translate(597.85,433.9)"><ellipse cx="1.3" cy="-1" rx="1.35" ry="0.95" transform="rotate(-20 1.3 -1)" fill="#111"/><path d="M2.45,-1.2 V-5.6 C3.2,-4.6 4.5,-4 4.2,-2.3" fill="none" stroke="#111" stroke-width="0.6"/></g>
<path d="M596.55,435.1v1h7.4v-1" fill="none" stroke="#2468d0" stroke-width="0.65" opacity="0.75"/>
<g transform="translate(608.7,433.9)"><ellipse cx="1.3" cy="-1" rx="1.35" ry="0.95" transform="rotate(-20 1.3 -1)" fill="#111"/><path d="M2.45,-1.2 V-5.6 C3.2,-4.6 4.5,-4 4.2,-2.3" fill="none" stroke="#111" stroke-width="0.6"/></g>
<path d="M607.4,435.1v1h7.4v-1" fill="none" stroke="#2468d0" stroke-width="0.65" opacity="0.75"/>
<path d="M584.94,469.6V567.35M589.2,469.6V567.35M593.46,469.6V567.35M601.98,469.6V567.35M606.24,469.6V567.35M610.5,469.6V567.35M614.76,469.6V567.35M623.28,469.6V567.35M627.54,469.6V567.35M631.8,469.6V567.35M636.06,469.6V567.35M644.58,469.6V567.35M581.1,564.56H648.7M581.1,561.76H648.7M581.1,558.97H648.7M581.1,556.18H648.7M581.1,550.59H648.7M581.1,547.8H648.7M581.1,545.01H648.7M581.1,542.21H648.7M581.1,536.63H648.7M581.1,533.84H648.7M581.1,531.04H648.7M581.1,528.25H648.7M581.1,522.66H648.7M581.1,519.87H648.7M581.1,517.08H648.7M581.1,514.29H648.7M581.1,508.7H648.7M581.1,505.91H648.7M581.1,503.11H648.7M581.1,500.32H648.7M581.1,494.74H648.7M581.1,491.94H648.7M581.1,489.15H648.7M581.1,486.36H648.7M581.1,480.77H648.7M581.1,477.98H648.7M581.1,475.19H648.7M581.1,472.39H648.7" stroke="#ececec" stroke-width="0.45" stroke-dasharray="1 0.6" fill="none"/>
<path d="M597.72,469.6V567.35M618.85,469.6V567.35M640.32,469.6V567.35M581.1,483.56H648.7M581.1,497.53H648.7M581.1,511.49H648.7M581.1,525.46H648.7M581.1,539.42H648.7M581.1,553.39H648.7" stroke="#e8e8e8" stroke-width="0.5" fill="none"/>
<path d="M597.7,480.4L597.7,480.4 597.7,480.9 597.7,481.4 597.6,481.9 597.6,482.4 597.6,482.9 597.6,483.4 597.6,484 597.6,484.5 597.6,485 597.6,485.5 597.5,486 597.5,486.5 597.5,487 597.5,487.5 597.4,488 597.4,488.5 597.4,489 597.3,489.5 597.2,490 597.2,490.5 597.1,491 597,491.5 596.9,492 596.7,492.5 596.6,493 596.4,493.5 596.3,494 596.1,494.5 596,495 595.8,495.5 595.6,496 595.5,496.5 595.3,497 595.1,497.5 595,498 594.8,498.5 594.6,499 594.4,499.5 594.2,500 594,500.5 593.7,501.1 593.5,501.6 593.3,502.1 593,502.6 592.8,503.1 592.5,503.6 592.3,504.1 592.1,504.6 591.9,505.1 591.7,505.6 591.5,506.1 591.3,506.6 591.1,507.1 591,507.6 590.8,508.1 590.7,508.6 590.5,509.1 590.4,509.6 590.3,510.1 590.1,510.6 590,511.1 589.9,511.6 589.9,512.1 589.8,512.6 589.7,513.1 589.7,513.6 589.6,514.1 589.6,514.6 589.5,515.1 589.5,515.6 589.5,516.1 589.5,516.6 589.5,517.1 589.5,517.7 589.5,518.2 589.5,518.7 589.6,519.2 589.6,519.7 589.7,520.2 589.8,520.7 589.9,521.2 590,521.7 590.1,522.2 590.2,522.7 590.3,523.2 590.4,523.7 590.6,524.2 590.7,524.7 590.9,525.2 591.1,525.7 591.2,526.2 591.4,526.7 591.6,527.2 591.8,527.7 592,528.2 592.2,528.7 592.5,529.2 592.7,529.7 592.9,530.2 593.1,530.7 593.3,531.2 593.6,531.7 593.8,532.2 594,532.7 594.2,533.2 594.4,533.7 594.5,534.3 594.7,534.8 594.9,535.3 595.1,535.8 595.2,536.3 595.4,536.8 595.5,537.3 595.7,537.8 595.8,538.3 595.9,538.8 596.1,539.3 596.2,539.8 596.3,540.3 596.4,540.8 596.5,541.3 596.6,541.8 596.7,542.3 596.7,542.8 596.8,543.3 596.9,543.8 597,544.3 597,544.8 597.1,545.3 597.1,545.8 597.2,546.3 597.2,546.8 597.2,547.3 597.3,547.8 597.3,548.3 597.3,548.8 597.3,549.3 597.4,549.8 597.4,550.3 597.4,550.9 597.4,551.4 597.4,551.9 597.5,552.4 597.5,552.9 597.5,553.4 597.5,553.9 597.5,554.4 597.6,554.9 597.6,555.4 597.6,555.9 597.6,556.4 597.6,556.9 597.6,557.4 597.7,557.9 597.7,558.4 597.7,558.4Z" fill="#0000cd"/>
<path d="M603.1,531.1h0M600,500h0M602.8,517.7h0M601.4,529.1h0M601.1,533h0M603.4,516.6h0M602.2,520.8h0M603.1,514.7h0M602.8,523h0M602.3,528.1h0M600.8,521.8h0M602.1,520.9h0M600.5,518h0M600.4,524.3h0M601.7,528.9h0M603,515.5h0M601.7,521.3h0M601.9,524.1h0M601.5,541.5h0M601,519.1h0M602,516.8h0M600.9,500.8h0M600.2,530.6h0M601.3,536.2h0M600.3,514.1h0M601.3,511.8h0M601.9,509.9h0M602.8,525.7h0M603,508.4h0M601.8,534.6h0M600.3,524.4h0M600.2,536.3h0M601.3,511.1h0M602.7,529.4h0M601,540.8h0M602.6,526.5h0M601.1,513.7h0M602.8,523.1h0M601,509.7h0M601.1,517.8h0M603,515.4h0M601.2,523.5h0M603.1,500h0M600.2,510.2h0M602.8,520.7h0M601.9,517.7h0M600.2,508.7h0M600.4,499.5h0M602.8,528h0M600,543.4h0M600.7,524.3h0M601.8,502.1h0M601.8,502.3h0M601.3,533.7h0M602.7,514.4h0M602.5,510.1h0M602.7,540.4h0M601.5,528.2h0M602.8,509.2h0M603.1,519.3h0M602.9,520h0M601.1,518h0M601.2,537.7h0M600,528.4h0M601,528.5h0M601.5,523.6h0M601.9,532.5h0M601,509.1h0M603.4,512.4h0M602.8,532.6h0" stroke="#2232de" stroke-width="1.05" stroke-linecap="round" opacity="0.85"/>
<circle cx="597.72" cy="518.28" r="1.05" fill="#0a0a3a"/>
<path d="M618.9,491.7L618.3,491.7 618.2,492.2 618.1,492.7 618,493.2 617.8,493.7 617.6,494.2 617.4,494.7 617.2,495.3 616.9,495.8 616.6,496.3 616.2,496.8 615.8,497.3 615.4,497.8 614.9,498.3 614.4,498.8 614,499.3 613.5,499.8 613,500.3 612.5,500.8 612,501.3 611.5,501.8 611,502.3 610.5,502.8 610.1,503.3 609.6,503.8 609.2,504.3 608.8,504.8 608.4,505.3 608,505.8 607.7,506.3 607.3,506.8 607,507.3 606.8,507.8 606.6,508.3 606.4,508.8 606.2,509.3 606.1,509.9 606.1,510.4 606.1,510.9 606.1,511.4 606.2,511.9 606.3,512.4 606.5,512.9 606.7,513.4 607,513.9 607.3,514.4 607.5,514.9 607.9,515.4 608.2,515.9 608.5,516.4 608.9,516.9 609.2,517.4 609.6,517.9 609.9,518.4 610.3,518.9 610.6,519.4 611,519.9 611.3,520.4 611.7,520.9 612,521.4 612.3,521.9 612.7,522.4 613,522.9 613.3,523.4 613.6,523.9 613.9,524.5 614.2,525 614.5,525.5 614.8,526 615,526.5 615.3,527 615.6,527.5 615.8,528 616,528.5 616.2,529 616.5,529.5 616.7,530 616.8,530.5 617,531 617.2,531.5 617.4,532 617.5,532.5 617.6,533 617.8,533.5 617.9,534 618,534.5 618,535 618.1,535.5 618.2,536 618.3,536.5 618.3,537 618.4,537.5 618.4,538 618.5,538.5 618.5,539.1 618.6,539.6 618.6,540.1 618.7,540.6 618.7,541.1 618.7,541.6 618.7,542.1 618.7,542.6 618.9,542.6Z" fill="#0000cd"/>
<path d="M621.4,516.2h0M624.6,516.1h0M621.8,537.4h0M621.2,517.2h0M622.1,512.3h0M623.1,520.3h0M623.6,510.5h0M622.7,500.6h0M623.2,519.3h0M624.1,513.5h0M623.9,532.9h0M623.7,514.1h0M621,501h0M622.2,516.6h0M622.2,522h0M622.1,510.4h0M624.5,520.4h0M622.9,512.7h0M624.4,538.5h0M622.3,509.2h0M624.4,519.2h0M621.9,528.6h0M622.3,514.3h0M624.2,527.4h0M624,504.5h0M621.9,496.6h0M623.1,520.1h0M621.3,508.8h0M623.5,499.3h0M621.5,501.5h0M622.6,524.3h0M624.3,537.9h0M622,511.3h0M623.4,523h0M623,513.8h0M624.1,504.8h0M622.9,510.1h0M622.6,521.3h0M622.5,524.4h0M621.3,511h0M621.9,501.9h0M624.2,533.2h0M621,511.7h0M622.3,522h0M623.1,506.7h0M621.3,505.2h0M621.8,500.9h0M624.6,513.7h0M621.6,508.2h0M623.5,518.9h0M621.4,512.8h0M624.3,515.7h0M623.7,507.1h0M621.4,512.2h0M622.7,528.8h0M622.5,507.6h0M622.7,502.5h0M623,530h0M621.8,497.4h0M621.9,528h0M622.4,539.2h0M623.3,515h0M622.2,505h0M622.1,499.1h0M624.3,511.2h0M621.2,496.3h0M622.5,501.4h0M621.7,501.5h0M624.5,514h0M623.2,509.9h0" stroke="#2232de" stroke-width="1.05" stroke-linecap="round" opacity="0.85"/>
<circle cx="618.85" cy="511.5" r="1.05" fill="#0a0a3a"/>
<path d="M640.3,490.6L639.9,490.6 639.9,491.1 639.8,491.6 639.7,492.1 639.6,492.6 639.5,493.1 639.3,493.6 639.2,494.1 639,494.6 638.7,495.1 638.5,495.6 638.2,496.1 637.9,496.7 637.6,497.2 637.2,497.7 636.9,498.2 636.5,498.7 636.2,499.2 635.8,499.7 635.4,500.2 635,500.7 634.7,501.2 634.3,501.7 633.9,502.2 633.5,502.7 633.1,503.2 632.7,503.7 632.4,504.2 632,504.7 631.7,505.2 631.3,505.7 631,506.2 630.7,506.7 630.4,507.2 630.2,507.7 629.9,508.3 629.7,508.8 629.6,509.3 629.5,509.8 629.4,510.3 629.4,510.8 629.4,511.3 629.5,511.8 629.6,512.3 629.7,512.8 629.9,513.3 630.1,513.8 630.3,514.3 630.6,514.8 630.9,515.3 631.1,515.8 631.4,516.3 631.8,516.8 632.1,517.3 632.4,517.8 632.7,518.3 633.1,518.8 633.4,519.4 633.7,519.9 634,520.4 634.3,520.9 634.6,521.4 634.9,521.9 635.2,522.4 635.5,522.9 635.8,523.4 636.1,523.9 636.3,524.4 636.6,524.9 636.8,525.4 637.1,525.9 637.3,526.4 637.5,526.9 637.7,527.4 637.9,527.9 638.1,528.4 638.3,528.9 638.5,529.4 638.6,529.9 638.8,530.4 638.9,531 639.1,531.5 639.2,532 639.3,532.5 639.4,533 639.5,533.5 639.6,534 639.7,534.5 639.7,535 639.8,535.5 639.9,536 639.9,536.5 640,537 640,537.5 640,538 640,538.5 640.1,539 640.1,539.5 640.1,540 640.1,540.5 640.1,541 640.1,541.5 640.2,542.1 640.2,542.6 640.2,543.1 640.2,543.6 640.2,544.1 640.2,544.6 640.2,545.1 640.3,545.6 640.3,546.1 640.3,546.6 640.3,547.1 640.3,547.1Z" fill="#0000cd"/>
<path d="M642.5,511.3h0M643.6,524h0M642.6,518.9h0M642.8,502.8h0M644.3,514.4h0M644,504.5h0M645.8,535.9h0M643,527h0M644.7,517.2h0M643.4,503.4h0M642.5,520.2h0M646,510.8h0M642.5,531.7h0M642.9,514.4h0M645.3,531.4h0M642.5,503.4h0M644.3,519.3h0M645.6,501.6h0M646,512.1h0M645.2,512.7h0M646,522.1h0M645.9,536.2h0M643.6,512.3h0M646,507.4h0M646.1,509h0M645,513.7h0M643.9,513h0M645.7,527.1h0M645.5,506.2h0M643.9,521.8h0M643.6,515h0M642.6,513.7h0M644.7,528.3h0M644.7,510.1h0M644.5,499.8h0M645.6,511.8h0M643.1,536.4h0M644.3,516.1h0M644.2,509.6h0M644.8,522h0M645.3,520.3h0M645.3,531.3h0M642.9,512.4h0M642.5,510.3h0M642.5,509.3h0M642.5,508.9h0M643.3,515.4h0M643.6,506.8h0M645.5,515.6h0M642.5,518.6h0M643.2,518.4h0M642.9,534.8h0M644.5,507.9h0M644.9,508.3h0M643.8,523.7h0M642.5,520.8h0M645.7,533.7h0M643.7,512.8h0M645.6,508.2h0M643.8,532.4h0M644.5,509.1h0M643.8,508h0M642.9,513.5h0M644.8,508.2h0M645.5,519.9h0M644.4,507h0M642.7,512.5h0M645.7,516.1h0M643.2,502.1h0M642.8,510.7h0" stroke="#2232de" stroke-width="1.05" stroke-linecap="round" opacity="0.85"/>
<circle cx="640.32" cy="512.29" r="1.05" fill="#0a0a3a"/>
<path d="M597.72,567.35v-1.2M597.72,469.6v1.2M618.85,567.35v-1.2M618.85,469.6v1.2M640.32,567.35v-1.2M640.32,469.6v1.2M581.1,469.6h1.2M648.7,469.6h-1.2M581.1,483.56h1.2M648.7,483.56h-1.2M581.1,497.53h1.2M648.7,497.53h-1.2M581.1,511.49h1.2M648.7,511.49h-1.2M581.1,525.46h1.2M648.7,525.46h-1.2M581.1,539.42h1.2M648.7,539.42h-1.2M581.1,553.39h1.2M648.7,553.39h-1.2M581.1,567.35h1.2M648.7,567.35h-1.2" stroke="#555" stroke-width="0.5" fill="none"/>
<rect x="581.1" y="469.6" width="67.6" height="97.75" fill="none" stroke="#a0a0a0" stroke-width="0.7"/>
<text transform="translate(578.9 473.1) scale(0.92 1)" font-size="8.8" text-anchor="end" fill="#363636">150</text>
<text transform="translate(578.9 487.06) scale(0.92 1)" font-size="8.8" text-anchor="end" fill="#363636">100</text>
<text transform="translate(578.9 501.03) scale(0.92 1)" font-size="8.8" text-anchor="end" fill="#363636">50</text>
<text transform="translate(578.9 514.99) scale(0.92 1)" font-size="8.8" text-anchor="end" fill="#363636">0</text>
<text transform="translate(578.9 528.96) scale(0.92 1)" font-size="8.8" text-anchor="end" fill="#363636">-50</text>
<text transform="translate(578.9 542.92) scale(0.92 1)" font-size="8.8" text-anchor="end" fill="#363636">-100</text>
<text transform="translate(578.9 556.89) scale(0.92 1)" font-size="8.8" text-anchor="end" fill="#363636">-150</text>
<text transform="translate(578.9 570.85) scale(0.92 1)" font-size="8.8" text-anchor="end" fill="#363636">-200</text>
<text transform="translate(597.72 574.6) scale(0.92 1)" font-size="8.8" text-anchor="middle" fill="#363636">3</text>
<text transform="translate(618.85 574.6) scale(0.92 1)" font-size="8.8" text-anchor="middle" fill="#363636">4</text>
<text transform="translate(640.32 574.6) scale(0.92 1)" font-size="8.8" text-anchor="middle" fill="#363636">5</text>
<text x="614.9" y="469" font-size="10.5" text-anchor="middle" font-weight="bold" fill="#000" stroke="#000" stroke-width="0.35">***</text>
<path d="M692.58,338.25V418.3M698.43,338.25V418.3M701.35,338.25V418.3M704.28,338.25V418.3M707.21,338.25V418.3M713.06,338.25V418.3M715.98,338.25V418.3M718.91,338.25V418.3M721.84,338.25V418.3M727.69,338.25V418.3M730.61,338.25V418.3M733.54,338.25V418.3M736.47,338.25V418.3M742.32,338.25V418.3M745.24,338.25V418.3M748.17,338.25V418.3M751.1,338.25V418.3M756.95,338.25V418.3M759.87,338.25V418.3M762.8,338.25V418.3M765.73,338.25V418.3M771.58,338.25V418.3M774.5,338.25V418.3M777.43,338.25V418.3M780.36,338.25V418.3M786.21,338.25V418.3M789.13,338.25V418.3M792.06,338.25V418.3M692.4,414.3H794.4M692.4,410.3H794.4M692.4,406.29H794.4M692.4,398.29H794.4M692.4,394.29H794.4M692.4,390.28H794.4M692.4,382.28H794.4M692.4,378.27H794.4M692.4,374.27H794.4M692.4,366.27H794.4M692.4,362.26H794.4M692.4,358.26H794.4M692.4,350.26H794.4M692.4,346.25H794.4M692.4,342.25H794.4" stroke="#ececec" stroke-width="0.45" stroke-dasharray="1 0.6" fill="none"/>
<path d="M695.5,338.25V418.3M710.13,338.25V418.3M724.76,338.25V418.3M739.39,338.25V418.3M754.02,338.25V418.3M768.65,338.25V418.3M783.28,338.25V418.3M692.4,354.26H794.4M692.4,370.27H794.4M692.4,386.28H794.4M692.4,402.29H794.4" stroke="#e8e8e8" stroke-width="0.5" fill="none"/>
<g transform="translate(751.9,387.3)"><path d="M0.3,7.5 C0.3,4 3,1.2 7,0.5 C11,-0.1 15.5,0.5 18,2.8 C19.8,4.5 20.2,7 19.4,8.8 C18.6,10.2 16.8,10.6 15,10.9 C13.5,11.2 12.5,11.6 11.5,12.3 C10.5,13.2 9,13.2 8.3,12.4 C6.5,11.9 4,11.6 2.3,10.6 C1,9.8 0.3,8.8 0.3,7.5 Z" fill="url(#glat)" stroke="#454545" stroke-width="0.9"/><path d="M10.4,6.5Q9.3,7 8.1,7.1M5.6,4.9Q4.3,6 4.3,7.8M3.9,8.5Q4.2,9.9 3,9.8M11.8,7Q12.5,6.6 13.1,7.7M3.8,3.7Q4.9,4.3 6.3,3.9M10.3,6.2Q10.2,7.2 10.3,9M19.2,10.3Q17.7,10.5 16.7,11.7M7.5,1.4Q7.2,2 5.8,2.9M16.4,9.5Q18,9.5 18.3,9.6M16.3,5Q18.1,4.9 19,5.6M4.9,4.5Q2.8,4.3 1.9,4.8M4.4,1.5Q3.7,2 2.9,2.6M3.8,7.9Q4.4,8.3 6.3,9M7,3.9Q5.1,4.7 3.9,4.2M6.6,4.6Q4.7,6 4.1,5.9M6.2,3.2Q5.1,3.3 4.6,4.7M2.5,6.1Q3.2,7 4.4,8M17.7,4.5Q16.8,5.5 17,7.7M15.9,8.6Q16.9,10 17.2,9.9M6.4,10Q5,9.9 3.9,11M1.6,9.7Q2.2,11.2 3.7,11.6M10.3,3.5Q10.9,3.9 12.8,5.1" clip-path="url(#cl)" fill="none" stroke="#666" stroke-width="0.5"/></g>
<g transform="translate(792.7,387.3) scale(-1,1)"><path d="M0.3,7.5 C0.3,4 3,1.2 7,0.5 C11,-0.1 15.5,0.5 18,2.8 C19.8,4.5 20.2,7 19.4,8.8 C18.6,10.2 16.8,10.6 15,10.9 C13.5,11.2 12.5,11.6 11.5,12.3 C10.5,13.2 9,13.2 8.3,12.4 C6.5,11.9 4,11.6 2.3,10.6 C1,9.8 0.3,8.8 0.3,7.5 Z" fill="url(#glat)" stroke="#454545" stroke-width="0.9"/><path d="M10.4,6.5Q9.3,7 8.1,7.1M5.6,4.9Q4.3,6 4.3,7.8M3.9,8.5Q4.2,9.9 3,9.8M11.8,7Q12.5,6.6 13.1,7.7M3.8,3.7Q4.9,4.3 6.3,3.9M10.3,6.2Q10.2,7.2 10.3,9M19.2,10.3Q17.7,10.5 16.7,11.7M7.5,1.4Q7.2,2 5.8,2.9M16.4,9.5Q18,9.5 18.3,9.6M16.3,5Q18.1,4.9 19,5.6M4.9,4.5Q2.8,4.3 1.9,4.8M4.4,1.5Q3.7,2 2.9,2.6M3.8,7.9Q4.4,8.3 6.3,9M7,3.9Q5.1,4.7 3.9,4.2M6.6,4.6Q4.7,6 4.1,5.9M6.2,3.2Q5.1,3.3 4.6,4.7M2.5,6.1Q3.2,7 4.4,8M17.7,4.5Q16.8,5.5 17,7.7M15.9,8.6Q16.9,10 17.2,9.9M6.4,10Q5,9.9 3.9,11M1.6,9.7Q2.2,11.2 3.7,11.6M10.3,3.5Q10.9,3.9 12.8,5.1" clip-path="url(#cl)" fill="none" stroke="#666" stroke-width="0.5"/></g>
<g transform="translate(771.9,401.65) scale(-1,1)"><path d="M0.4,8.3 C0.3,5 2.5,2.2 6.5,1 C10,0 14.5,0.3 17.3,2.3 C19.6,4 20.2,7 19.4,9 C18.7,10.3 17.2,10.9 15.6,11.3 C14.9,12.5 13.8,13.5 12.6,13.6 C11.3,13.7 10.6,12.8 10.1,12.1 C8,12 5,11.9 3,11.2 C1.4,10.6 0.5,9.6 0.4,8.3 Z" fill="url(#gmed)" stroke="#707070" stroke-width="0.8"/><path d="M4.5,8 C5.5,4.8 9,3.6 12,3.8 C15,4.1 16.5,5.8 16.5,7.8 C14,7 11,6.8 8,7.3 C6.5,7.6 5.2,7.8 4.5,8 Z" fill="#cbcbcb"/><path d="M11.3,8.7L10.6,10.5M15.7,3.4L17.6,3.5M8.3,1.5L10,2.6M10.6,1.5L11.7,4M18.4,6.8L17,8.7M2.8,1.8L5.7,1.9M12,10.6L14.4,10.7M8.9,7.2L10.5,9.7M4.2,5.6L2.2,7.7M14.9,7.3L12.6,9.1" clip-path="url(#cm)" fill="none" stroke="#8c8c8c" stroke-width="0.45"/><path d="M9.8,11.6 C10.8,12.8 12.5,13.2 14.5,11.8 C13.5,11 11.5,10.8 9.8,11.6 Z" fill="#808080"/></g>
<g transform="translate(772.7,401.65)"><path d="M0.4,8.3 C0.3,5 2.5,2.2 6.5,1 C10,0 14.5,0.3 17.3,2.3 C19.6,4 20.2,7 19.4,9 C18.7,10.3 17.2,10.9 15.6,11.3 C14.9,12.5 13.8,13.5 12.6,13.6 C11.3,13.7 10.6,12.8 10.1,12.1 C8,12 5,11.9 3,11.2 C1.4,10.6 0.5,9.6 0.4,8.3 Z" fill="url(#gmed)" stroke="#707070" stroke-width="0.8"/><path d="M4.5,8 C5.5,4.8 9,3.6 12,3.8 C15,4.1 16.5,5.8 16.5,7.8 C14,7 11,6.8 8,7.3 C6.5,7.6 5.2,7.8 4.5,8 Z" fill="#cbcbcb"/><path d="M11.3,8.7L10.6,10.5M15.7,3.4L17.6,3.5M8.3,1.5L10,2.6M10.6,1.5L11.7,4M18.4,6.8L17,8.7M2.8,1.8L5.7,1.9M12,10.6L14.4,10.7M8.9,7.2L10.5,9.7M4.2,5.6L2.2,7.7M14.9,7.3L12.6,9.1" clip-path="url(#cm)" fill="none" stroke="#8c8c8c" stroke-width="0.45"/><path d="M9.8,11.6 C10.8,12.8 12.5,13.2 14.5,11.8 C13.5,11 11.5,10.8 9.8,11.6 Z" fill="#808080"/><path d="M6,12.6 C6.6,11.6 8.5,11.3 10,10.6 C11,10.1 11.8,9.3 12.6,9.5 C13,10.4 12.4,11.6 11.2,12.4 C9.8,13.3 7.6,13.8 6.3,13.4 Z" fill="#f01c1c"/></g>
<path d="M692.7,368.2 693.3,369.5 694.6,374.7 695.9,368.2 696.5,361.7 697.2,372.1 697.9,413.7 698.8,376 699.5,362.4 700.5,370.8 701.4,381.2 703,371.4 704.4,368.2 705.6,373.4 707,381.2 708.2,382.5 709.2,373.4 710.2,381.2 711.5,370.8 712.8,364.3 714.4,357.8 716,363 718,369.5 719.3,363 720.6,370.8 722.2,376 723.9,370.8 725.1,364.3 726.5,357.8 727.8,363 729.7,369.5 731,366.2 732.3,360.4 733.3,370.8 734.2,386.4 735.2,392.6 736.2,386.4 737.5,378.6 739.1,370.8 740.4,360.4 741.4,344.1 742.7,350 744,356.5 745.3,366.9 746.6,363 747.9,361.1 749.9,361.7 751.8,360.4 753.8,361.7 755,358.8 756.4,357.8 758.3,360.4 759.6,363.6 761.5,363 763.5,366.9 765.5,369.5 767.4,370.1 769.4,372.1 770.7,372.7 772,371.4 773.2,369.6 774.5,368.9 776.5,370.8 777.8,371.6 779.1,370.1 780.4,369.1 781.7,369.5 783,371.1 784.3,370.8 785.6,371.2 786.9,373.4 788.9,368.9 790.8,370.1 792.1,370.6 793.4,369.5 794.1,371.4" fill="none" stroke="#a8acd8" stroke-width="2.0" stroke-linejoin="round" opacity="0.7"/>
<path d="M692.7,368.2 693.3,369.5 694.6,374.7 695.9,368.2 696.5,361.7 697.2,372.1 697.9,413.7 698.8,376 699.5,362.4 700.5,370.8 701.4,381.2 703,371.4 704.4,368.2 705.6,373.4 707,381.2 708.2,382.5 709.2,373.4 710.2,381.2 711.5,370.8 712.8,364.3 714.4,357.8 716,363 718,369.5 719.3,363 720.6,370.8 722.2,376 723.9,370.8 725.1,364.3 726.5,357.8 727.8,363 729.7,369.5 731,366.2 732.3,360.4 733.3,370.8 734.2,386.4 735.2,392.6 736.2,386.4 737.5,378.6 739.1,370.8 740.4,360.4 741.4,344.1 742.7,350 744,356.5 745.3,366.9 746.6,363 747.9,361.1 749.9,361.7 751.8,360.4 753.8,361.7 755,358.8 756.4,357.8 758.3,360.4 759.6,363.6 761.5,363 763.5,366.9 765.5,369.5 767.4,370.1 769.4,372.1 770.7,372.7 772,371.4 773.2,369.6 774.5,368.9 776.5,370.8 777.8,371.6 779.1,370.1 780.4,369.1 781.7,369.5 783,371.1 784.3,370.8 785.6,371.2 786.9,373.4 788.9,368.9 790.8,370.1 792.1,370.6 793.4,369.5 794.1,371.4" fill="none" stroke="#1c268c" stroke-width="0.6" stroke-linejoin="round"/>
<circle cx="734.9" cy="392.64" r="3.55" fill="none" stroke="#ee1c25" stroke-width="0.9"/>
<circle cx="745.04" cy="366.9" r="3.55" fill="none" stroke="#ee1c25" stroke-width="0.9"/>
<path d="M695.5,418.3v-1.2M695.5,338.25v1.2M710.13,418.3v-1.2M710.13,338.25v1.2M724.76,418.3v-1.2M724.76,338.25v1.2M739.39,418.3v-1.2M739.39,338.25v1.2M754.02,418.3v-1.2M754.02,338.25v1.2M768.65,418.3v-1.2M768.65,338.25v1.2M783.28,418.3v-1.2M783.28,338.25v1.2M692.4,338.25h1.2M794.4,338.25h-1.2M692.4,354.26h1.2M794.4,354.26h-1.2M692.4,370.27h1.2M794.4,370.27h-1.2M692.4,386.28h1.2M794.4,386.28h-1.2M692.4,402.29h1.2M794.4,402.29h-1.2M692.4,418.3h1.2M794.4,418.3h-1.2" stroke="#555" stroke-width="0.5" fill="none"/>
<rect x="692.4" y="338.25" width="102" height="80.05" fill="none" stroke="#a0a0a0" stroke-width="0.7"/>
<text x="690.1" y="340.65" font-size="8.2" text-anchor="end" fill="#363636">40</text>
<text x="690.1" y="356.66" font-size="8.2" text-anchor="end" fill="#363636">20</text>
<text x="690.1" y="372.67" font-size="8.2" text-anchor="end" fill="#363636">0</text>
<text x="690.1" y="388.68" font-size="8.2" text-anchor="end" fill="#363636">-20</text>
<text x="690.1" y="404.69" font-size="8.2" text-anchor="end" fill="#363636">-40</text>
<text x="690.1" y="420.7" font-size="8.2" text-anchor="end" fill="#363636">-60</text>
<text x="695.5" y="425.05" font-size="8.3" text-anchor="middle" fill="#363636">0</text>
<text x="710.13" y="425.05" font-size="8.3" text-anchor="middle" fill="#363636">0.5</text>
<text x="724.76" y="425.05" font-size="8.3" text-anchor="middle" fill="#363636">1</text>
<text x="739.39" y="425.05" font-size="8.3" text-anchor="middle" fill="#363636">1.5</text>
<text x="754.02" y="425.05" font-size="8.3" text-anchor="middle" fill="#363636">2</text>
<text x="768.65" y="425.05" font-size="8.3" text-anchor="middle" fill="#363636">2.5</text>
<text x="783.28" y="425.05" font-size="8.3" text-anchor="middle" fill="#363636">3</text>
<text x="743" y="332.75" font-size="10" text-anchor="middle" textLength="16.4" lengthAdjust="spacingAndGlyphs">NT3</text>
<g transform="translate(693.3,433.9)"><ellipse cx="1.3" cy="-1" rx="1.35" ry="0.95" transform="rotate(-20 1.3 -1)" fill="#111"/><path d="M2.45,-1.2 V-5.6 C3.2,-4.6 4.5,-4 4.2,-2.3" fill="none" stroke="#111" stroke-width="0.6"/></g>
<g transform="translate(704.15,433.9)"><ellipse cx="1.3" cy="-1" rx="1.35" ry="0.95" transform="rotate(-20 1.3 -1)" fill="#111"/><path d="M2.45,-1.2 V-5.6 C3.2,-4.6 4.5,-4 4.2,-2.3" fill="none" stroke="#111" stroke-width="0.6"/></g>
<g transform="translate(715,433.9)"><ellipse cx="1.3" cy="-1" rx="1.35" ry="0.95" transform="rotate(-20 1.3 -1)" fill="#111"/><path d="M2.45,-1.2 V-5.6 C3.2,-4.6 4.5,-4 4.2,-2.3" fill="none" stroke="#111" stroke-width="0.6"/></g>
<g transform="translate(725.85,433.9)"><ellipse cx="1.3" cy="-1" rx="1.35" ry="0.95" transform="rotate(-20 1.3 -1)" fill="#111"/><path d="M2.45,-1.2 V-5.6 C3.2,-4.6 4.5,-4 4.2,-2.3" fill="none" stroke="#111" stroke-width="0.6"/></g>
<path d="M724.55,435.1v1h7.4v-1" fill="none" stroke="#1c268c" stroke-width="0.65" opacity="0.75"/>
<g transform="translate(736.7,433.9)"><ellipse cx="1.3" cy="-1" rx="1.35" ry="0.95" transform="rotate(-20 1.3 -1)" fill="#111"/><path d="M2.45,-1.2 V-5.6 C3.2,-4.6 4.5,-4 4.2,-2.3" fill="none" stroke="#111" stroke-width="0.6"/></g>
<path d="M735.4,435.1v1h7.4v-1" fill="none" stroke="#1c268c" stroke-width="0.65" opacity="0.75"/>
<path d="M711.26,469.6V567.35M718.49,469.6V567.35M732.95,469.6V567.35M740.19,469.6V567.35M747.42,469.6V567.35M754.65,469.6V567.35M769.11,469.6V567.35M776.34,469.6V567.35M709.5,565.18H776.9M709.5,563.01H776.9M709.5,560.83H776.9M709.5,558.66H776.9M709.5,554.32H776.9M709.5,552.14H776.9M709.5,549.97H776.9M709.5,547.8H776.9M709.5,543.46H776.9M709.5,541.28H776.9M709.5,539.11H776.9M709.5,536.94H776.9M709.5,532.59H776.9M709.5,530.42H776.9M709.5,528.25H776.9M709.5,526.08H776.9M709.5,521.73H776.9M709.5,519.56H776.9M709.5,517.39H776.9M709.5,515.22H776.9M709.5,510.87H776.9M709.5,508.7H776.9M709.5,506.53H776.9M709.5,504.36H776.9M709.5,500.01H776.9M709.5,497.84H776.9M709.5,495.67H776.9M709.5,493.49H776.9M709.5,489.15H776.9M709.5,486.98H776.9M709.5,484.81H776.9M709.5,482.63H776.9M709.5,478.29H776.9M709.5,476.12H776.9M709.5,473.94H776.9M709.5,471.77H776.9" stroke="#ececec" stroke-width="0.45" stroke-dasharray="1 0.6" fill="none"/>
<path d="M725.72,469.6V567.35M761.88,469.6V567.35M709.5,480.46H776.9M709.5,491.32H776.9M709.5,502.18H776.9M709.5,513.04H776.9M709.5,523.91H776.9M709.5,534.77H776.9M709.5,545.63H776.9M709.5,556.49H776.9" stroke="#e8e8e8" stroke-width="0.5" fill="none"/>
<path d="M725.7,479.9L725.7,479.9 725.7,480.4 725.7,480.9 725.7,481.4 725.7,481.9 725.7,482.4 725.7,482.9 725.6,483.4 725.6,483.9 725.6,484.4 725.6,484.9 725.6,485.4 725.6,485.9 725.6,486.4 725.6,486.9 725.6,487.4 725.5,487.9 725.5,488.4 725.5,488.9 725.5,489.4 725.5,489.9 725.5,490.4 725.5,490.9 725.5,491.4 725.4,491.9 725.4,492.4 725.4,492.9 725.3,493.4 725.3,493.9 725.2,494.4 725.2,494.9 725.1,495.4 725,495.9 724.8,496.4 724.7,496.9 724.5,497.4 724.4,497.9 724.2,498.4 724,498.9 723.8,499.4 723.5,499.9 723.2,500.4 723,500.9 722.6,501.4 722.3,501.9 721.9,502.4 721.5,502.9 721.1,503.4 720.7,503.9 720.3,504.4 719.8,504.9 719.4,505.4 718.9,505.9 718.4,506.4 717.9,506.9 717.5,507.4 717,507.9 716.5,508.4 716,508.9 715.5,509.4 715,509.9 714.6,510.4 714.1,510.9 713.7,511.4 713.3,511.9 712.9,512.4 712.5,512.9 712.2,513.4 712,513.9 711.7,514.4 711.6,514.9 711.4,515.4 711.3,515.9 711.3,516.4 711.3,516.9 711.3,517.4 711.4,517.9 711.5,518.4 711.7,518.9 711.9,519.4 712.1,519.9 712.4,520.4 712.7,520.9 713,521.4 713.4,521.9 713.7,522.4 714.1,522.9 714.5,523.4 714.9,523.9 715.3,524.4 715.7,524.9 716.1,525.4 716.5,525.9 716.9,526.4 717.3,526.9 717.7,527.4 718.1,527.9 718.4,528.4 718.8,528.9 719.2,529.4 719.5,529.9 719.9,530.4 720.2,530.9 720.5,531.4 720.9,531.9 721.2,532.4 721.5,532.9 721.8,533.4 722.1,533.9 722.4,534.4 722.7,534.9 723,535.4 723.3,535.9 723.5,536.4 723.7,536.9 724,537.4 724.2,537.9 724.3,538.4 724.5,538.9 724.6,539.4 724.7,539.9 724.8,540.4 724.9,540.9 724.9,541.4 725,541.9 725,542.4 725,542.9 725,543.4 725,543.9 725,544.4 725,544.9 725,545.4 725,545.9 725,546.4 724.9,546.9 724.9,547.4 724.9,547.9 724.9,548.4 724.9,548.9 724.9,549.4 724.9,549.9 725,550.4 725,550.9 725,551.4 725.1,551.9 725.1,552.4 725.2,552.9 725.2,553.4 725.3,553.9 725.3,554.4 725.4,554.9 725.4,555.4 725.4,555.9 725.5,556.4 725.5,556.9 725.5,557.4 725.6,557.9 725.6,558.4 725.7,558.4Z" fill="#0000cd"/>
<path d="M731.9,514.1h0M734.5,518.4h0M732.7,537.3h0M735.2,529.1h0M730.7,536.7h0M734.1,511.9h0M733.7,521.6h0M733.8,504.3h0M734.3,551.5h0M733.5,526h0M731.5,529.3h0M732.2,514.7h0M732.3,517.1h0M730.4,523.4h0M732.6,511.8h0M730.2,528.8h0M731.1,493.3h0M731.3,508.8h0M734.2,520.1h0M731.6,523.6h0M731.7,524.1h0M732.9,516.8h0M733,529.4h0M729.6,510.3h0M732.9,522.7h0M733.3,518.5h0M735,508.8h0M730.7,515.3h0M732.3,540.5h0M730.6,496.7h0M731.9,494.1h0M734.2,533.8h0M734.3,526.3h0M734.8,512.6h0M732.4,518.6h0M730.3,524.8h0M734.6,525.1h0M730,507.3h0M735,520.3h0M733.1,521.1h0M733,548.7h0M730.8,523.2h0M732.5,514.4h0M730.2,507.5h0M731.2,522.9h0M735,547.8h0M731.7,493.8h0M730.9,521.7h0M730.2,545.7h0M732.1,540.1h0M732.1,514.4h0M731.1,520.3h0M733.1,490.2h0M734,512.4h0M734.7,525.4h0M729.6,515.5h0M735.3,528h0M733.7,523.6h0M729.9,506h0M732.1,517.6h0M730.1,526.5h0M729.7,505h0M735.3,501h0M734.2,497.2h0M735.5,518.8h0M730.1,498.2h0M733.2,528.6h0M729.4,490.1h0M731,505.8h0M734.2,496.4h0" stroke="#2232de" stroke-width="1.05" stroke-linecap="round" opacity="0.85"/>
<circle cx="725.72" cy="518.85" r="1.05" fill="#0a0a3a"/>
<path d="M761.9,483.8L761.8,483.8 761.8,484.3 761.8,484.8 761.8,485.3 761.8,485.8 761.8,486.3 761.8,486.8 761.8,487.3 761.8,487.8 761.7,488.3 761.7,488.8 761.7,489.3 761.7,489.8 761.7,490.3 761.7,490.8 761.7,491.3 761.6,491.8 761.6,492.3 761.6,492.8 761.6,493.3 761.5,493.8 761.5,494.3 761.4,494.8 761.3,495.3 761.2,495.8 761.1,496.3 760.9,496.8 760.7,497.3 760.5,497.8 760.2,498.3 759.9,498.8 759.6,499.4 759.2,499.9 758.8,500.4 758.3,500.9 757.8,501.4 757.2,501.9 756.6,502.4 755.9,502.9 755.1,503.4 754.3,503.9 753.5,504.4 752.7,504.9 751.8,505.4 750.9,505.9 749.9,506.4 749,506.9 748.1,507.4 747.1,507.9 746.2,508.4 745.3,508.9 744.4,509.4 743.6,509.9 742.8,510.4 742.2,510.9 741.6,511.4 741.1,511.9 740.8,512.4 740.6,512.9 740.5,513.4 740.6,513.9 740.8,514.4 741.1,514.9 741.5,515.4 742.1,515.9 742.7,516.4 743.4,516.9 744.1,517.4 744.9,517.9 745.7,518.4 746.5,518.9 747.3,519.4 748.1,519.9 748.9,520.4 749.7,520.9 750.5,521.4 751.2,521.9 751.9,522.4 752.7,522.9 753.3,523.4 754,523.9 754.6,524.4 755.2,524.9 755.7,525.4 756.3,525.9 756.8,526.4 757.3,526.9 757.7,527.4 758.1,527.9 758.5,528.4 758.8,528.9 759.2,529.4 759.5,529.9 759.8,530.4 760,530.9 760.3,531.4 760.5,531.9 760.7,532.4 760.8,532.9 761,533.4 761.1,533.9 761.2,534.4 761.3,534.9 761.4,535.4 761.5,535.9 761.5,536.4 761.6,536.9 761.9,536.9Z" fill="#0000cd"/>
<path d="M769.2,514.2h0M769.2,519.2h0M768.7,523.4h0M766,513.7h0M767,522.4h0M767.7,513.6h0M767,515.1h0M768.2,516.2h0M771.6,506.3h0M769.1,497.5h0M765.6,500.4h0M767.4,513.8h0M769.4,515.4h0M767.1,504.4h0M770.2,506.7h0M767.7,510.8h0M771.3,520.1h0M765.9,498.3h0M770.8,490.6h0M768.2,504.3h0M767.7,496.5h0M769.1,519.5h0M765.7,513h0M771.2,514.7h0M771.1,517.4h0M768.4,505.9h0M765.5,511h0M766.7,511.2h0M768.4,511.9h0M766,523.1h0M769.5,508.8h0M765.7,502.4h0M765.8,516.9h0M771.1,503.3h0M771.2,517.7h0M770.5,517.9h0M768.3,521.7h0M766.4,504.5h0M765.5,520.5h0M769.3,494.8h0M769,494.1h0M767.5,505.4h0M769.5,509.6h0M770.2,529.3h0M770.8,512.4h0M766,519.7h0M771.5,497.1h0M771,508.5h0M769.9,506.8h0M767.2,521.4h0M766.5,510.7h0M769.5,506.7h0M767.1,509.2h0M766,502.9h0M770.8,531.3h0M769.8,491.6h0M769.6,510.7h0M766.3,516.5h0M770.7,522.2h0M768.5,500.3h0M768.9,511h0M771.6,510.6h0M766.5,518.3h0M770.4,501.9h0M770.1,516.1h0M770.6,513.5h0M767.1,512.5h0M767.7,497.8h0M768.5,519.8h0M770.9,504h0" stroke="#2232de" stroke-width="1.05" stroke-linecap="round" opacity="0.85"/>
<circle cx="761.88" cy="511.84" r="1.05" fill="#0a0a3a"/>
<path d="M725.72,567.35v-1.2M725.72,469.6v1.2M761.88,567.35v-1.2M761.88,469.6v1.2M709.5,469.6h1.2M776.9,469.6h-1.2M709.5,480.46h1.2M776.9,480.46h-1.2M709.5,491.32h1.2M776.9,491.32h-1.2M709.5,502.18h1.2M776.9,502.18h-1.2M709.5,513.04h1.2M776.9,513.04h-1.2M709.5,523.91h1.2M776.9,523.91h-1.2M709.5,534.77h1.2M776.9,534.77h-1.2M709.5,545.63h1.2M776.9,545.63h-1.2M709.5,556.49h1.2M776.9,556.49h-1.2M709.5,567.35h1.2M776.9,567.35h-1.2" stroke="#555" stroke-width="0.5" fill="none"/>
<rect x="709.5" y="469.6" width="67.4" height="97.75" fill="none" stroke="#a0a0a0" stroke-width="0.7"/>
<text transform="translate(707.3 473.1) scale(0.92 1)" font-size="8.8" text-anchor="end" fill="#363636">200</text>
<text transform="translate(707.3 483.96) scale(0.92 1)" font-size="8.8" text-anchor="end" fill="#363636">150</text>
<text transform="translate(707.3 494.82) scale(0.92 1)" font-size="8.8" text-anchor="end" fill="#363636">100</text>
<text transform="translate(707.3 505.68) scale(0.92 1)" font-size="8.8" text-anchor="end" fill="#363636">50</text>
<text transform="translate(707.3 516.54) scale(0.92 1)" font-size="8.8" text-anchor="end" fill="#363636">0</text>
<text transform="translate(707.3 527.41) scale(0.92 1)" font-size="8.8" text-anchor="end" fill="#363636">-50</text>
<text transform="translate(707.3 538.27) scale(0.92 1)" font-size="8.8" text-anchor="end" fill="#363636">-100</text>
<text transform="translate(707.3 549.13) scale(0.92 1)" font-size="8.8" text-anchor="end" fill="#363636">-150</text>
<text transform="translate(707.3 559.99) scale(0.92 1)" font-size="8.8" text-anchor="end" fill="#363636">-200</text>
<text transform="translate(707.3 570.85) scale(0.92 1)" font-size="8.8" text-anchor="end" fill="#363636">-250</text>
<text transform="translate(725.72 574.6) scale(0.92 1)" font-size="8.8" text-anchor="middle" fill="#363636">4</text>
<text transform="translate(761.88 574.6) scale(0.92 1)" font-size="8.8" text-anchor="middle" fill="#363636">5</text>
<text x="743.2" y="469" font-size="10.5" text-anchor="middle" font-weight="bold" fill="#000" stroke="#000" stroke-width="0.35">***</text>
<text x="195.28" y="615.1" font-size="10.3" text-anchor="middle" font-weight="bold" fill="#000" textLength="102.95" lengthAdjust="spacingAndGlyphs" stroke="#000" stroke-width="0.5">Medial cingulate gyrus</text>
<path d="M30.58,637.35V718.1M36.43,637.35V718.1M39.36,637.35V718.1M42.29,637.35V718.1M45.22,637.35V718.1M51.08,637.35V718.1M54.01,637.35V718.1M56.94,637.35V718.1M59.86,637.35V718.1M65.72,637.35V718.1M68.65,637.35V718.1M71.58,637.35V718.1M74.51,637.35V718.1M80.37,637.35V718.1M83.3,637.35V718.1M86.22,637.35V718.1M89.15,637.35V718.1M95.01,637.35V718.1M97.94,637.35V718.1M100.87,637.35V718.1M103.8,637.35V718.1M109.65,637.35V718.1M112.58,637.35V718.1M115.51,637.35V718.1M118.44,637.35V718.1M124.3,637.35V718.1M127.23,637.35V718.1M130.16,637.35V718.1M30.4,714.06H132.5M30.4,710.02H132.5M30.4,705.99H132.5M30.4,697.91H132.5M30.4,693.88H132.5M30.4,689.84H132.5M30.4,681.76H132.5M30.4,677.73H132.5M30.4,673.69H132.5M30.4,665.61H132.5M30.4,661.58H132.5M30.4,657.54H132.5M30.4,649.46H132.5M30.4,645.43H132.5M30.4,641.39H132.5" stroke="#ececec" stroke-width="0.45" stroke-dasharray="1 0.6" fill="none"/>
<path d="M33.5,637.35V718.1M48.15,637.35V718.1M62.79,637.35V718.1M77.44,637.35V718.1M92.08,637.35V718.1M106.73,637.35V718.1M121.37,637.35V718.1M30.4,653.5H132.5M30.4,669.65H132.5M30.4,685.8H132.5M30.4,701.95H132.5" stroke="#e8e8e8" stroke-width="0.5" fill="none"/>
<g transform="translate(90,687.1)"><path d="M0.3,7.5 C0.3,4 3,1.2 7,0.5 C11,-0.1 15.5,0.5 18,2.8 C19.8,4.5 20.2,7 19.4,8.8 C18.6,10.2 16.8,10.6 15,10.9 C13.5,11.2 12.5,11.6 11.5,12.3 C10.5,13.2 9,13.2 8.3,12.4 C6.5,11.9 4,11.6 2.3,10.6 C1,9.8 0.3,8.8 0.3,7.5 Z" fill="url(#glat)" stroke="#454545" stroke-width="0.9"/><path d="M10.4,6.5Q9.3,7 8.1,7.1M5.6,4.9Q4.3,6 4.3,7.8M3.9,8.5Q4.2,9.9 3,9.8M11.8,7Q12.5,6.6 13.1,7.7M3.8,3.7Q4.9,4.3 6.3,3.9M10.3,6.2Q10.2,7.2 10.3,9M19.2,10.3Q17.7,10.5 16.7,11.7M7.5,1.4Q7.2,2 5.8,2.9M16.4,9.5Q18,9.5 18.3,9.6M16.3,5Q18.1,4.9 19,5.6M4.9,4.5Q2.8,4.3 1.9,4.8M4.4,1.5Q3.7,2 2.9,2.6M3.8,7.9Q4.4,8.3 6.3,9M7,3.9Q5.1,4.7 3.9,4.2M6.6,4.6Q4.7,6 4.1,5.9M6.2,3.2Q5.1,3.3 4.6,4.7M2.5,6.1Q3.2,7 4.4,8M17.7,4.5Q16.8,5.5 17,7.7M15.9,8.6Q16.9,10 17.2,9.9M6.4,10Q5,9.9 3.9,11M1.6,9.7Q2.2,11.2 3.7,11.6M10.3,3.5Q10.9,3.9 12.8,5.1" clip-path="url(#cl)" fill="none" stroke="#666" stroke-width="0.5"/></g>
<g transform="translate(130.8,687.1) scale(-1,1)"><path d="M0.3,7.5 C0.3,4 3,1.2 7,0.5 C11,-0.1 15.5,0.5 18,2.8 C19.8,4.5 20.2,7 19.4,8.8 C18.6,10.2 16.8,10.6 15,10.9 C13.5,11.2 12.5,11.6 11.5,12.3 C10.5,13.2 9,13.2 8.3,12.4 C6.5,11.9 4,11.6 2.3,10.6 C1,9.8 0.3,8.8 0.3,7.5 Z" fill="url(#glat)" stroke="#454545" stroke-width="0.9"/><path d="M10.4,6.5Q9.3,7 8.1,7.1M5.6,4.9Q4.3,6 4.3,7.8M3.9,8.5Q4.2,9.9 3,9.8M11.8,7Q12.5,6.6 13.1,7.7M3.8,3.7Q4.9,4.3 6.3,3.9M10.3,6.2Q10.2,7.2 10.3,9M19.2,10.3Q17.7,10.5 16.7,11.7M7.5,1.4Q7.2,2 5.8,2.9M16.4,9.5Q18,9.5 18.3,9.6M16.3,5Q18.1,4.9 19,5.6M4.9,4.5Q2.8,4.3 1.9,4.8M4.4,1.5Q3.7,2 2.9,2.6M3.8,7.9Q4.4,8.3 6.3,9M7,3.9Q5.1,4.7 3.9,4.2M6.6,4.6Q4.7,6 4.1,5.9M6.2,3.2Q5.1,3.3 4.6,4.7M2.5,6.1Q3.2,7 4.4,8M17.7,4.5Q16.8,5.5 17,7.7M15.9,8.6Q16.9,10 17.2,9.9M6.4,10Q5,9.9 3.9,11M1.6,9.7Q2.2,11.2 3.7,11.6M10.3,3.5Q10.9,3.9 12.8,5.1" clip-path="url(#cl)" fill="none" stroke="#666" stroke-width="0.5"/></g>
<g transform="translate(110,701.45) scale(-1,1)"><path d="M0.4,8.3 C0.3,5 2.5,2.2 6.5,1 C10,0 14.5,0.3 17.3,2.3 C19.6,4 20.2,7 19.4,9 C18.7,10.3 17.2,10.9 15.6,11.3 C14.9,12.5 13.8,13.5 12.6,13.6 C11.3,13.7 10.6,12.8 10.1,12.1 C8,12 5,11.9 3,11.2 C1.4,10.6 0.5,9.6 0.4,8.3 Z" fill="url(#gmed)" stroke="#707070" stroke-width="0.8"/><path d="M4.5,8 C5.5,4.8 9,3.6 12,3.8 C15,4.1 16.5,5.8 16.5,7.8 C14,7 11,6.8 8,7.3 C6.5,7.6 5.2,7.8 4.5,8 Z" fill="#cbcbcb"/><path d="M11.3,8.7L10.6,10.5M15.7,3.4L17.6,3.5M8.3,1.5L10,2.6M10.6,1.5L11.7,4M18.4,6.8L17,8.7M2.8,1.8L5.7,1.9M12,10.6L14.4,10.7M8.9,7.2L10.5,9.7M4.2,5.6L2.2,7.7M14.9,7.3L12.6,9.1" clip-path="url(#cm)" fill="none" stroke="#8c8c8c" stroke-width="0.45"/><path d="M9.8,11.6 C10.8,12.8 12.5,13.2 14.5,11.8 C13.5,11 11.5,10.8 9.8,11.6 Z" fill="#808080"/><path d="M3.2,3.1 C5.5,2.1 9.5,1.9 12.5,2.4 C13.8,3.4 14.5,4.8 14.3,6.3 C10.5,6.2 6.5,6.2 3.1,6.4 C2.9,5.3 2.9,4.1 3.2,3.1 Z" fill="#f01c1c"/></g>
<g transform="translate(110.8,701.45)"><path d="M0.4,8.3 C0.3,5 2.5,2.2 6.5,1 C10,0 14.5,0.3 17.3,2.3 C19.6,4 20.2,7 19.4,9 C18.7,10.3 17.2,10.9 15.6,11.3 C14.9,12.5 13.8,13.5 12.6,13.6 C11.3,13.7 10.6,12.8 10.1,12.1 C8,12 5,11.9 3,11.2 C1.4,10.6 0.5,9.6 0.4,8.3 Z" fill="url(#gmed)" stroke="#707070" stroke-width="0.8"/><path d="M4.5,8 C5.5,4.8 9,3.6 12,3.8 C15,4.1 16.5,5.8 16.5,7.8 C14,7 11,6.8 8,7.3 C6.5,7.6 5.2,7.8 4.5,8 Z" fill="#cbcbcb"/><path d="M11.3,8.7L10.6,10.5M15.7,3.4L17.6,3.5M8.3,1.5L10,2.6M10.6,1.5L11.7,4M18.4,6.8L17,8.7M2.8,1.8L5.7,1.9M12,10.6L14.4,10.7M8.9,7.2L10.5,9.7M4.2,5.6L2.2,7.7M14.9,7.3L12.6,9.1" clip-path="url(#cm)" fill="none" stroke="#8c8c8c" stroke-width="0.45"/><path d="M9.8,11.6 C10.8,12.8 12.5,13.2 14.5,11.8 C13.5,11 11.5,10.8 9.8,11.6 Z" fill="#808080"/><path d="M3.2,3.1 C5.5,2.1 9.5,1.9 12.5,2.4 C13.8,3.4 14.5,4.8 14.3,6.3 C10.5,6.2 6.5,6.2 3.1,6.4 C2.9,5.3 2.9,4.1 3.2,3.1 Z" fill="#f01c1c"/></g>
<path d="M30.7,671.1 31.3,669.1 33.2,667.9 35.2,665.9 35.9,671.1 36.8,699.7 37.5,669.8 38.5,656.8 39.4,651 40.1,662 41,675 42.4,684.1 43.6,689.3 45,690.6 46.2,687.4 47.5,677.6 48.2,682.8 49.2,693.2 50.5,678.9 51.8,664.9 52.8,669.8 54,675 56,680.2 57.3,684.1 58.3,677.6 59.6,694.5 61.2,678.9 62.5,664.9 63.8,669.8 65.8,677.6 67.7,684.1 69,675 69.7,673.7 70.7,691.9 71.9,678.9 73.5,668.5 74.8,673.7 76.8,678.9 78.8,685.4 80.7,677.6 81.7,693.2 83.3,680.2 84.6,673 85.9,677.6 87.2,682.8 88.5,685.4 89.8,684.8 91.1,686 92.4,681.5 94.3,673.7 96.3,671.1 97.6,668.6 98.9,667.2 100.2,666.3 101.5,664 102.8,661.3 104.1,660.7 105.4,661.9 106.7,661.4 108,660.8 109.3,662 110.6,662.4 111.9,661.4 113.2,661.7 114.5,663.3 115.8,664.3 117.1,663.3 118.4,662.9 119.7,664 121,666.8 122.3,667.2 123.6,665.7 124.9,666.5 126.2,668.4 127.5,667.9 128.8,666.8 130.1,667.2 132.2,667.9" fill="none" stroke="#b0d4e6" stroke-width="2.0" stroke-linejoin="round" opacity="0.7"/>
<path d="M30.7,671.1 31.3,669.1 33.2,667.9 35.2,665.9 35.9,671.1 36.8,699.7 37.5,669.8 38.5,656.8 39.4,651 40.1,662 41,675 42.4,684.1 43.6,689.3 45,690.6 46.2,687.4 47.5,677.6 48.2,682.8 49.2,693.2 50.5,678.9 51.8,664.9 52.8,669.8 54,675 56,680.2 57.3,684.1 58.3,677.6 59.6,694.5 61.2,678.9 62.5,664.9 63.8,669.8 65.8,677.6 67.7,684.1 69,675 69.7,673.7 70.7,691.9 71.9,678.9 73.5,668.5 74.8,673.7 76.8,678.9 78.8,685.4 80.7,677.6 81.7,693.2 83.3,680.2 84.6,673 85.9,677.6 87.2,682.8 88.5,685.4 89.8,684.8 91.1,686 92.4,681.5 94.3,673.7 96.3,671.1 97.6,668.6 98.9,667.2 100.2,666.3 101.5,664 102.8,661.3 104.1,660.7 105.4,661.9 106.7,661.4 108,660.8 109.3,662 110.6,662.4 111.9,661.4 113.2,661.7 114.5,663.3 115.8,664.3 117.1,663.3 118.4,662.9 119.7,664 121,666.8 122.3,667.2 123.6,665.7 124.9,666.5 126.2,668.4 127.5,667.9 128.8,666.8 130.1,667.2 132.2,667.9" fill="none" stroke="#3c8ab6" stroke-width="0.6" stroke-linejoin="round"/>
<circle cx="51.84" cy="664.86" r="3.55" fill="none" stroke="#ee1c25" stroke-width="0.9"/>
<circle cx="62.89" cy="664.86" r="3.55" fill="none" stroke="#ee1c25" stroke-width="0.9"/>
<circle cx="74.2" cy="668.5" r="3.55" fill="none" stroke="#ee1c25" stroke-width="0.9"/>
<circle cx="84.99" cy="673.05" r="3.55" fill="none" stroke="#ee1c25" stroke-width="0.9"/>
<path d="M33.5,718.1v-1.2M33.5,637.35v1.2M48.15,718.1v-1.2M48.15,637.35v1.2M62.79,718.1v-1.2M62.79,637.35v1.2M77.44,718.1v-1.2M77.44,637.35v1.2M92.08,718.1v-1.2M92.08,637.35v1.2M106.73,718.1v-1.2M106.73,637.35v1.2M121.37,718.1v-1.2M121.37,637.35v1.2M30.4,637.35h1.2M132.5,637.35h-1.2M30.4,653.5h1.2M132.5,653.5h-1.2M30.4,669.65h1.2M132.5,669.65h-1.2M30.4,685.8h1.2M132.5,685.8h-1.2M30.4,701.95h1.2M132.5,701.95h-1.2M30.4,718.1h1.2M132.5,718.1h-1.2" stroke="#555" stroke-width="0.5" fill="none"/>
<rect x="30.4" y="637.35" width="102.1" height="80.75" fill="none" stroke="#a0a0a0" stroke-width="0.7"/>
<text x="28.1" y="639.75" font-size="8.2" text-anchor="end" fill="#363636">40</text>
<text x="28.1" y="655.9" font-size="8.2" text-anchor="end" fill="#363636">20</text>
<text x="28.1" y="672.05" font-size="8.2" text-anchor="end" fill="#363636">0</text>
<text x="28.1" y="688.2" font-size="8.2" text-anchor="end" fill="#363636">-20</text>
<text x="28.1" y="704.35" font-size="8.2" text-anchor="end" fill="#363636">-40</text>
<text x="28.1" y="720.5" font-size="8.2" text-anchor="end" fill="#363636">-60</text>
<text x="33.5" y="726" font-size="8.3" text-anchor="middle" fill="#363636">0</text>
<text x="48.15" y="726" font-size="8.3" text-anchor="middle" fill="#363636">0.5</text>
<text x="62.79" y="726" font-size="8.3" text-anchor="middle" fill="#363636">1</text>
<text x="77.44" y="726" font-size="8.3" text-anchor="middle" fill="#363636">1.5</text>
<text x="92.08" y="726" font-size="8.3" text-anchor="middle" fill="#363636">2</text>
<text x="106.73" y="726" font-size="8.3" text-anchor="middle" fill="#363636">2.5</text>
<text x="121.37" y="726" font-size="8.3" text-anchor="middle" fill="#363636">3</text>
<text x="81.05" y="632" font-size="10" text-anchor="middle" textLength="16.4" lengthAdjust="spacingAndGlyphs">NT1</text>
<g transform="translate(31.3,734.35)"><ellipse cx="1.3" cy="-1" rx="1.35" ry="0.95" transform="rotate(-20 1.3 -1)" fill="#111"/><path d="M2.45,-1.2 V-5.6 C3.2,-4.6 4.5,-4 4.2,-2.3" fill="none" stroke="#111" stroke-width="0.6"/></g>
<g transform="translate(42.15,734.35)"><ellipse cx="1.3" cy="-1" rx="1.35" ry="0.95" transform="rotate(-20 1.3 -1)" fill="#111"/><path d="M2.45,-1.2 V-5.6 C3.2,-4.6 4.5,-4 4.2,-2.3" fill="none" stroke="#111" stroke-width="0.6"/></g>
<path d="M40.85,735.55v1h7.4v-1" fill="none" stroke="#3c8ab6" stroke-width="0.65" opacity="0.75"/>
<g transform="translate(53,734.35)"><ellipse cx="1.3" cy="-1" rx="1.35" ry="0.95" transform="rotate(-20 1.3 -1)" fill="#111"/><path d="M2.45,-1.2 V-5.6 C3.2,-4.6 4.5,-4 4.2,-2.3" fill="none" stroke="#111" stroke-width="0.6"/></g>
<path d="M51.7,735.55v1h7.4v-1" fill="none" stroke="#3c8ab6" stroke-width="0.65" opacity="0.75"/>
<g transform="translate(63.85,734.35)"><ellipse cx="1.3" cy="-1" rx="1.35" ry="0.95" transform="rotate(-20 1.3 -1)" fill="#111"/><path d="M2.45,-1.2 V-5.6 C3.2,-4.6 4.5,-4 4.2,-2.3" fill="none" stroke="#111" stroke-width="0.6"/></g>
<path d="M62.55,735.55v1h7.4v-1" fill="none" stroke="#3c8ab6" stroke-width="0.65" opacity="0.75"/>
<g transform="translate(74.7,734.35)"><ellipse cx="1.3" cy="-1" rx="1.35" ry="0.95" transform="rotate(-20 1.3 -1)" fill="#111"/><path d="M2.45,-1.2 V-5.6 C3.2,-4.6 4.5,-4 4.2,-2.3" fill="none" stroke="#111" stroke-width="0.6"/></g>
<path d="M73.4,735.55v1h7.4v-1" fill="none" stroke="#3c8ab6" stroke-width="0.65" opacity="0.75"/>
<text x="81.6" y="746.65" font-size="9.5" text-anchor="middle" textLength="31.6" lengthAdjust="spacingAndGlyphs">Time (s)</text>
<text x="10.7" y="678.95" font-size="9.4" text-anchor="middle" textLength="84.7" lengthAdjust="spacingAndGlyphs" transform="rotate(-90 10.7 678.95)">Neural activity index</text>
<path d="M50.77,764V861.25M53.78,764V861.25M56.79,764V861.25M59.81,764V861.25M65.83,764V861.25M68.85,764V861.25M71.86,764V861.25M74.87,764V861.25M80.9,764V861.25M83.91,764V861.25M86.92,764V861.25M89.94,764V861.25M95.96,764V861.25M98.98,764V861.25M101.99,764V861.25M105,764V861.25M111.03,764V861.25M114.04,764V861.25M47.5,856.39H115.5M47.5,846.66H115.5M47.5,841.8H115.5M47.5,836.94H115.5M47.5,827.21H115.5M47.5,822.35H115.5M47.5,817.49H115.5M47.5,807.76H115.5M47.5,802.9H115.5M47.5,798.04H115.5M47.5,788.31H115.5M47.5,783.45H115.5M47.5,778.59H115.5M47.5,768.86H115.5" stroke="#ececec" stroke-width="0.45" stroke-dasharray="1 0.6" fill="none"/>
<path d="M62.82,764V861.25M77.73,764V861.25M92.99,764V861.25M108.02,764V861.25M47.5,783.45H115.5M47.5,802.9H115.5M47.5,822.35H115.5M47.5,841.8H115.5" stroke="#e8e8e8" stroke-width="0.5" fill="none"/>
<path d="M62.8,776L62.7,776 62.7,776.5 62.7,777 62.7,777.5 62.7,778 62.6,778.5 62.6,779 62.6,779.5 62.6,780 62.5,780.5 62.5,781 62.5,781.5 62.4,782 62.4,782.5 62.4,783 62.3,783.5 62.3,784 62.3,784.5 62.2,785 62.2,785.5 62.1,786 62.1,786.5 62,787 62,787.5 61.9,788 61.8,788.5 61.8,789 61.7,789.5 61.6,790 61.6,790.5 61.5,791 61.4,791.5 61.4,792 61.3,792.5 61.2,793 61.2,793.5 61.1,794 61,794.5 60.9,795 60.8,795.5 60.7,796 60.6,796.5 60.5,797 60.4,797.5 60.3,798 60.1,798.5 60,799 59.9,799.5 59.7,800 59.6,800.5 59.4,801 59.2,801.5 59.1,802 58.8,802.5 58.6,803 58.4,803.5 58.2,804 57.9,804.5 57.7,805 57.4,805.5 57.1,806 56.9,806.5 56.6,807 56.3,807.5 56,808 55.8,808.5 55.5,809 55.3,809.5 55.1,810 54.9,810.5 54.7,811 54.6,811.5 54.5,812 54.4,812.6 54.4,813.1 54.4,813.6 54.5,814.1 54.6,814.6 54.7,815.1 54.8,815.6 55,816.1 55.2,816.6 55.5,817.1 55.7,817.6 56,818.1 56.3,818.6 56.6,819.1 56.8,819.6 57.1,820.1 57.4,820.6 57.7,821.1 58,821.6 58.2,822.1 58.5,822.6 58.8,823.1 59,823.6 59.3,824.1 59.5,824.6 59.8,825.1 60,825.6 60.2,826.1 60.4,826.6 60.6,827.1 60.8,827.6 61,828.1 61.1,828.6 61.3,829.1 61.5,829.6 61.6,830.1 61.7,830.6 61.8,831.1 62,831.6 62.1,832.1 62.1,832.6 62.2,833.1 62.3,833.6 62.3,834.1 62.4,834.6 62.4,835.1 62.4,835.6 62.5,836.1 62.5,836.6 62.5,837.1 62.6,837.6 62.6,838.1 62.6,838.6 62.6,839.1 62.7,839.6 62.7,840.1 62.7,840.6 62.7,841.1 62.7,841.6 62.7,842.1 62.8,842.1Z" fill="#0000cd"/>
<path d="M64.5,818h0M66.8,816.2h0M65,800.3h0M66.5,781h0M66.8,782h0M65.4,801.9h0M66.5,810.4h0M64.3,798h0M66,817.9h0M65.3,829.9h0M66.8,820.4h0M65.8,807.8h0M66.3,787.5h0M66.4,829h0M65.7,822.2h0M65.9,827.8h0M65.2,788.8h0M66.5,807.5h0M66.9,795.8h0M64.5,818.8h0M65.3,800h0M65.9,810.8h0M65.5,813.7h0M65.7,794.9h0M65.6,813.9h0M64.5,804.5h0M66.6,786.2h0M66,814.7h0M66.3,809.5h0M65.4,821h0M66.8,801.9h0M64.7,809.1h0M64.4,800.4h0M66.7,800.3h0M65.4,823.5h0M66,802h0M66.1,808.5h0M66.2,797.5h0M64.5,804.4h0M64.7,813.8h0M65.2,816.4h0M65,792.2h0M64.7,824.2h0M65,813.6h0M65.4,819.7h0M65.5,818.5h0M65.3,793.7h0M66.3,783.2h0M65.3,800.9h0M65,829.1h0M65.6,821.1h0M66.6,837.5h0M64.4,829.8h0M66.8,821.6h0M65.9,816h0M65.7,805.1h0M64.6,812.9h0M66.6,813.4h0M66.5,802.8h0M66,806.4h0M65.6,808.3h0M66.4,814h0M66.4,813.7h0M65.9,818.4h0M65.6,824.4h0M65.5,818.3h0M65.8,802h0M66.6,807.2h0M65.2,810.1h0M66.5,819.5h0" stroke="#2232de" stroke-width="1.05" stroke-linecap="round" opacity="0.85"/>
<circle cx="62.82" cy="810.23" r="1.05" fill="#0a0a3a"/>
<path d="M77.7,781.6L77.5,781.6 77.5,782.1 77.5,782.7 77.4,783.2 77.4,783.7 77.4,784.2 77.3,784.7 77.2,785.2 77.2,785.7 77.1,786.2 77,786.7 76.9,787.2 76.9,787.7 76.8,788.2 76.7,788.7 76.5,789.2 76.4,789.7 76.3,790.2 76.2,790.7 76.1,791.2 75.9,791.7 75.8,792.2 75.7,792.7 75.5,793.2 75.4,793.7 75.3,794.2 75.1,794.7 75,795.2 74.8,795.7 74.7,796.3 74.5,796.8 74.4,797.3 74.2,797.8 74.1,798.3 73.9,798.8 73.8,799.3 73.6,799.8 73.5,800.3 73.3,800.8 73.1,801.3 73,801.8 72.9,802.3 72.7,802.8 72.6,803.3 72.4,803.8 72.3,804.3 72.1,804.8 72,805.3 71.9,805.8 71.7,806.3 71.6,806.8 71.5,807.3 71.4,807.8 71.2,808.3 71.1,808.8 71,809.4 71,809.9 70.9,810.4 70.8,810.9 70.8,811.4 70.8,811.9 70.7,812.4 70.8,812.9 70.8,813.4 70.8,813.9 70.9,814.4 71,814.9 71.1,815.4 71.2,815.9 71.3,816.4 71.5,816.9 71.6,817.4 71.8,817.9 72,818.4 72.1,818.9 72.3,819.4 72.5,819.9 72.7,820.4 72.9,820.9 73.1,821.4 73.3,821.9 73.5,822.4 73.7,823 73.9,823.5 74.1,824 74.3,824.5 74.5,825 74.7,825.5 74.9,826 75,826.5 75.2,827 75.4,827.5 75.6,828 75.7,828.5 75.9,829 76.1,829.5 76.2,830 76.3,830.5 76.4,831 76.6,831.5 76.6,832 76.7,832.5 76.8,833 76.9,833.5 77,834 77,834.5 77.1,835 77.1,835.5 77.2,836.1 77.2,836.6 77.3,837.1 77.3,837.6 77.4,838.1 77.4,838.6 77.5,839.1 77.5,839.6 77.5,840.1 77.6,840.6 77.6,841.1 77.6,841.6 77.6,842.1 77.7,842.1Z" fill="#0000cd"/>
<path d="M80.8,829.2h0M81.1,811.7h0M80.7,813.1h0M80.9,816.1h0M80.9,836h0M79.3,811.7h0M81.4,810.5h0M79.8,815.9h0M79.4,802.7h0M79.7,813.6h0M81.1,817h0M81,800.6h0M81.5,824h0M80.8,824.4h0M81.7,829.7h0M81.3,798.8h0M81.3,828.3h0M80.9,799.1h0M81.5,820.3h0M79.5,820.5h0M81.5,790.1h0M79.6,811.8h0M80.3,820.1h0M80.5,791.5h0M80.4,804.3h0M81,809.5h0M80.6,824.3h0M79.5,807.2h0M81.5,794.1h0M81.2,806.8h0M81.4,810h0M81.1,805.8h0M80,819.8h0M80.3,805.5h0M80.2,797.8h0M79.3,810.7h0M80.6,800.2h0M79.4,796.1h0M79.6,812.4h0M79.3,811.9h0M80,805.8h0M79.8,808.2h0M79.5,810.7h0M80.6,808.8h0M81.1,808.1h0M80.8,831.8h0M81.3,816.2h0M80.3,823.2h0M80.7,794.2h0M80,824.5h0M80.5,804.7h0M80.9,814.5h0M80,813.7h0M80.2,835.7h0M81.7,787.5h0M79.3,806.8h0M81.2,793.8h0M79.5,816.7h0M80.1,816.6h0M81.7,810.7h0M81.6,794.3h0M80.6,814.3h0M79.7,808.4h0M81.2,802.1h0M81.4,816.4h0M80.9,816.8h0M81,802.8h0M79.6,809h0M81.2,800h0M81.1,803.8h0" stroke="#2232de" stroke-width="1.05" stroke-linecap="round" opacity="0.85"/>
<circle cx="77.73" cy="811.02" r="1.05" fill="#0a0a3a"/>
<path d="M93,774.3L92.9,774.3 92.9,774.8 92.9,775.3 92.8,775.8 92.8,776.3 92.8,776.8 92.8,777.3 92.7,777.8 92.7,778.3 92.7,778.8 92.6,779.3 92.6,779.8 92.6,780.3 92.5,780.8 92.5,781.3 92.4,781.8 92.4,782.3 92.4,782.8 92.3,783.3 92.3,783.8 92.2,784.3 92.2,784.8 92.1,785.3 92,785.8 92,786.3 91.9,786.8 91.8,787.3 91.7,787.8 91.6,788.3 91.5,788.8 91.4,789.3 91.3,789.8 91.1,790.3 91,790.8 90.9,791.3 90.8,791.8 90.7,792.3 90.6,792.8 90.4,793.3 90.3,793.8 90.2,794.3 90,794.8 89.9,795.3 89.8,795.8 89.6,796.3 89.5,796.8 89.3,797.3 89.2,797.8 89,798.3 88.9,798.8 88.7,799.3 88.6,799.8 88.4,800.3 88.3,800.8 88.1,801.3 88,801.8 87.8,802.3 87.6,802.8 87.5,803.3 87.3,803.8 87.2,804.3 87,804.8 86.9,805.3 86.8,805.8 86.6,806.3 86.5,806.8 86.4,807.3 86.3,807.8 86.3,808.3 86.2,808.8 86.1,809.3 86.1,809.8 86,810.3 86,810.8 86,811.3 86,811.8 86,812.3 86.1,812.8 86.1,813.3 86.2,813.8 86.3,814.3 86.4,814.8 86.5,815.3 86.6,815.8 86.7,816.4 86.9,816.9 87,817.4 87.2,817.9 87.4,818.4 87.5,818.9 87.7,819.4 87.9,819.9 88.1,820.4 88.3,820.9 88.5,821.4 88.7,821.9 88.9,822.4 89,822.9 89.2,823.4 89.4,823.9 89.6,824.4 89.8,824.9 90,825.4 90.2,825.9 90.4,826.4 90.5,826.9 90.7,827.4 90.8,827.9 91,828.4 91.1,828.9 91.2,829.4 91.4,829.9 91.5,830.4 91.6,830.9 91.7,831.4 91.8,831.9 91.9,832.4 92,832.9 92.1,833.4 92.1,833.9 92.2,834.4 92.3,834.9 92.3,835.4 92.3,835.9 92.4,836.4 92.4,836.9 92.5,837.4 92.5,837.9 92.5,838.4 92.5,838.9 92.6,839.4 92.6,839.9 92.6,840.4 92.7,840.9 92.7,841.4 92.7,841.9 92.7,842.4 92.8,842.9 92.8,843.4 92.8,843.9 92.8,844.4 92.8,844.9 92.8,845.4 92.8,845.9 92.8,846.4 92.9,846.9 92.9,847.4 92.9,847.9 92.9,848.4 92.9,848.9 92.9,849.4 92.9,849.9 92.9,850.4 92.9,850.9 92.9,851.4 92.9,851.9 93,852.4 93,852.9 93,853.4 93,853.4Z" fill="#0000cd"/>
<path d="M95.7,802.6h0M95.8,811.8h0M96,807.9h0M96.8,813.8h0M96.7,818.8h0M95.9,798.3h0M94.8,824.7h0M95.8,806h0M96.8,799.5h0M96.6,786.6h0M96.3,800.4h0M94.7,835h0M96.5,797.1h0M96.8,810.1h0M97,841.8h0M95.5,810.4h0M95.8,797h0M96.7,810.5h0M95.8,823.4h0M96.2,831h0M95,787.1h0M94.7,821h0M96.5,813h0M95.2,834.2h0M95.6,804.5h0M96.2,814.8h0M94.5,809.5h0M95.1,826.5h0M95,822.8h0M95.8,801.3h0M96.6,823.3h0M96.3,817h0M96.4,818h0M94.8,818.2h0M94.6,810.1h0M94.8,812.1h0M96.4,789.9h0M95.9,801.1h0M95.5,819.2h0M96.9,797.8h0M96.2,804.2h0M95,823.5h0M95.8,825.5h0M96,788.6h0M96.2,828.7h0M95.7,815.9h0M95.7,804h0M96,805.5h0M95.2,799.1h0M96.9,826.6h0M95.4,824.4h0M97,833.9h0M94.7,800.4h0M95.1,810.1h0M96.2,811.8h0M94.7,818.2h0M94.8,818.1h0M94.6,834.9h0M96.2,832.7h0M94.6,813.6h0M96.8,795.5h0M94.7,785h0M96.2,791h0M95.7,796.1h0M96.7,808.1h0M96.1,823.6h0M95.8,824.9h0M95.8,800.4h0M95.2,814.1h0M95.8,812h0" stroke="#2232de" stroke-width="1.05" stroke-linecap="round" opacity="0.85"/>
<circle cx="92.99" cy="811.81" r="1.05" fill="#0a0a3a"/>
<path d="M108,789.6L107.7,789.6 107.6,790.1 107.6,790.6 107.5,791.1 107.4,791.6 107.3,792.1 107.2,792.6 107.1,793.1 107,793.6 106.9,794.1 106.7,794.6 106.6,795.1 106.4,795.6 106.2,796.1 106,796.6 105.8,797.1 105.6,797.6 105.4,798.1 105.2,798.6 105,799.1 104.8,799.6 104.6,800.1 104.4,800.6 104.2,801.1 104,801.6 103.8,802.2 103.6,802.7 103.4,803.2 103.2,803.7 103,804.2 102.8,804.7 102.6,805.2 102.4,805.7 102.2,806.2 102,806.7 101.9,807.2 101.7,807.7 101.6,808.2 101.4,808.7 101.3,809.2 101.2,809.7 101.1,810.2 101,810.7 100.9,811.2 100.8,811.7 100.8,812.2 100.8,812.7 100.8,813.2 100.8,813.7 100.9,814.2 100.9,814.7 101,815.3 101.1,815.8 101.2,816.3 101.3,816.8 101.5,817.3 101.6,817.8 101.8,818.3 102,818.8 102.2,819.3 102.4,819.8 102.6,820.3 102.8,820.8 103,821.3 103.2,821.8 103.5,822.3 103.7,822.8 103.9,823.3 104.1,823.8 104.3,824.3 104.5,824.8 104.7,825.3 104.9,825.8 105.1,826.3 105.3,826.8 105.4,827.3 105.6,827.8 105.8,828.4 105.9,828.9 106.1,829.4 106.2,829.9 106.3,830.4 106.5,830.9 106.6,831.4 106.7,831.9 106.8,832.4 106.9,832.9 107,833.4 107.1,833.9 107.2,834.4 107.3,834.9 107.3,835.4 107.4,835.9 107.4,836.4 107.5,836.9 107.5,837.4 107.6,837.9 107.6,838.4 107.6,838.9 107.7,839.4 107.7,839.9 107.7,840.4 107.8,841 107.8,841.5 107.8,842 107.8,842.5 107.9,843 107.9,843.5 107.9,844 107.9,844.5 107.9,845 107.9,845.5 108,845.5Z" fill="#0000cd"/>
<path d="M110.1,826.5h0M111,815.7h0M111.3,805.8h0M111.5,816.9h0M110.2,798.1h0M110.4,817.3h0M111.4,807.3h0M109.9,809.4h0M110.5,837.9h0M110.3,830.5h0M111.6,797.9h0M111.4,809.8h0M111.5,835.9h0M110.5,822.1h0M110,817.2h0M109.9,821.8h0M110.2,811.9h0M109.6,807.9h0M111.8,828.2h0M109.9,813.9h0M110.9,823.4h0M110.2,827.1h0M111,819.4h0M112,814.4h0M111.4,830.9h0M110.9,815.1h0M110,817.2h0M110.3,827.2h0M109.9,799.9h0M111.6,808.3h0M111.6,817.4h0M109.6,805.4h0M111.5,813.4h0M110.2,805.7h0M109.9,822.3h0M110.7,794.2h0M111.5,805h0M110,824.8h0M109.5,807.2h0M110.4,835h0M111.2,805.6h0M110.8,823.2h0M109.6,815.6h0M110.5,808.9h0M110.3,818.7h0M110.7,834.4h0M110.8,798.3h0M110.5,829.4h0M111.2,825.5h0M109.8,812.3h0M111.2,801.2h0M111.5,819.4h0M112.1,824.3h0M109.8,810.8h0M111.2,826.8h0M110.8,812h0M111.9,822.8h0M111.1,815.2h0M109.7,813.7h0M109.7,807.1h0M111.6,801.1h0M110.4,829.6h0M109.9,803.3h0M111.9,804.2h0M112,821h0M110.6,814.9h0M109.9,814.9h0M110.3,797.8h0M109.8,813h0M109.8,811.6h0" stroke="#2232de" stroke-width="1.05" stroke-linecap="round" opacity="0.85"/>
<circle cx="108.02" cy="814.98" r="1.05" fill="#0a0a3a"/>
<path d="M62.82,861.25v-1.2M62.82,764v1.2M77.73,861.25v-1.2M77.73,764v1.2M92.99,861.25v-1.2M92.99,764v1.2M108.02,861.25v-1.2M108.02,764v1.2M47.5,764h1.2M115.5,764h-1.2M47.5,783.45h1.2M115.5,783.45h-1.2M47.5,802.9h1.2M115.5,802.9h-1.2M47.5,822.35h1.2M115.5,822.35h-1.2M47.5,841.8h1.2M115.5,841.8h-1.2M47.5,861.25h1.2M115.5,861.25h-1.2" stroke="#555" stroke-width="0.5" fill="none"/>
<rect x="47.5" y="764" width="68" height="97.25" fill="none" stroke="#a0a0a0" stroke-width="0.7"/>
<text transform="translate(45.3 767.5) scale(0.92 1)" font-size="8.8" text-anchor="end" fill="#363636">100</text>
<text transform="translate(45.3 786.95) scale(0.92 1)" font-size="8.8" text-anchor="end" fill="#363636">60</text>
<text transform="translate(45.3 806.4) scale(0.92 1)" font-size="8.8" text-anchor="end" fill="#363636">20</text>
<text transform="translate(45.3 825.85) scale(0.92 1)" font-size="8.8" text-anchor="end" fill="#363636">-20</text>
<text transform="translate(45.3 845.3) scale(0.92 1)" font-size="8.8" text-anchor="end" fill="#363636">-60</text>
<text transform="translate(45.3 864.75) scale(0.92 1)" font-size="8.8" text-anchor="end" fill="#363636">-100</text>
<text transform="translate(62.82 868.5) scale(0.92 1)" font-size="8.8" text-anchor="middle" fill="#363636">2</text>
<text transform="translate(77.73 868.5) scale(0.92 1)" font-size="8.8" text-anchor="middle" fill="#363636">3</text>
<text transform="translate(92.99 868.5) scale(0.92 1)" font-size="8.8" text-anchor="middle" fill="#363636">4</text>
<text transform="translate(108.02 868.5) scale(0.92 1)" font-size="8.8" text-anchor="middle" fill="#363636">5</text>
<text x="81.5" y="763.4" font-size="10.5" text-anchor="middle" font-weight="bold" fill="#000" stroke="#000" stroke-width="0.35">*</text>
<text x="81.5" y="877.85" font-size="8.6" text-anchor="middle" textLength="15.6" lengthAdjust="spacingAndGlyphs">Tone</text>
<text x="23.4" y="812.62" font-size="9" text-anchor="middle" textLength="80.6" lengthAdjust="spacingAndGlyphs" transform="rotate(-90 23.4 812.62)">Neural activity index</text>
<path d="M159.08,637.35V718.1M164.91,637.35V718.1M167.83,637.35V718.1M170.74,637.35V718.1M173.66,637.35V718.1M179.5,637.35V718.1M182.41,637.35V718.1M185.33,637.35V718.1M188.25,637.35V718.1M194.08,637.35V718.1M197,637.35V718.1M199.92,637.35V718.1M202.84,637.35V718.1M208.67,637.35V718.1M211.59,637.35V718.1M214.51,637.35V718.1M217.42,637.35V718.1M223.26,637.35V718.1M226.17,637.35V718.1M229.09,637.35V718.1M232.01,637.35V718.1M237.84,637.35V718.1M240.76,637.35V718.1M243.68,637.35V718.1M246.6,637.35V718.1M252.43,637.35V718.1M255.35,637.35V718.1M258.27,637.35V718.1M158.9,714.06H260.6M158.9,710.02H260.6M158.9,705.99H260.6M158.9,697.91H260.6M158.9,693.88H260.6M158.9,689.84H260.6M158.9,681.76H260.6M158.9,677.73H260.6M158.9,673.69H260.6M158.9,665.61H260.6M158.9,661.58H260.6M158.9,657.54H260.6M158.9,649.46H260.6M158.9,645.43H260.6M158.9,641.39H260.6" stroke="#ececec" stroke-width="0.45" stroke-dasharray="1 0.6" fill="none"/>
<path d="M161.99,637.35V718.1M176.58,637.35V718.1M191.17,637.35V718.1M205.75,637.35V718.1M220.34,637.35V718.1M234.93,637.35V718.1M249.51,637.35V718.1M158.9,653.5H260.6M158.9,669.65H260.6M158.9,685.8H260.6M158.9,701.95H260.6" stroke="#e8e8e8" stroke-width="0.5" fill="none"/>
<g transform="translate(218.1,687.1)"><path d="M0.3,7.5 C0.3,4 3,1.2 7,0.5 C11,-0.1 15.5,0.5 18,2.8 C19.8,4.5 20.2,7 19.4,8.8 C18.6,10.2 16.8,10.6 15,10.9 C13.5,11.2 12.5,11.6 11.5,12.3 C10.5,13.2 9,13.2 8.3,12.4 C6.5,11.9 4,11.6 2.3,10.6 C1,9.8 0.3,8.8 0.3,7.5 Z" fill="url(#glat)" stroke="#454545" stroke-width="0.9"/><path d="M10.4,6.5Q9.3,7 8.1,7.1M5.6,4.9Q4.3,6 4.3,7.8M3.9,8.5Q4.2,9.9 3,9.8M11.8,7Q12.5,6.6 13.1,7.7M3.8,3.7Q4.9,4.3 6.3,3.9M10.3,6.2Q10.2,7.2 10.3,9M19.2,10.3Q17.7,10.5 16.7,11.7M7.5,1.4Q7.2,2 5.8,2.9M16.4,9.5Q18,9.5 18.3,9.6M16.3,5Q18.1,4.9 19,5.6M4.9,4.5Q2.8,4.3 1.9,4.8M4.4,1.5Q3.7,2 2.9,2.6M3.8,7.9Q4.4,8.3 6.3,9M7,3.9Q5.1,4.7 3.9,4.2M6.6,4.6Q4.7,6 4.1,5.9M6.2,3.2Q5.1,3.3 4.6,4.7M2.5,6.1Q3.2,7 4.4,8M17.7,4.5Q16.8,5.5 17,7.7M15.9,8.6Q16.9,10 17.2,9.9M6.4,10Q5,9.9 3.9,11M1.6,9.7Q2.2,11.2 3.7,11.6M10.3,3.5Q10.9,3.9 12.8,5.1" clip-path="url(#cl)" fill="none" stroke="#666" stroke-width="0.5"/></g>
<g transform="translate(258.9,687.1) scale(-1,1)"><path d="M0.3,7.5 C0.3,4 3,1.2 7,0.5 C11,-0.1 15.5,0.5 18,2.8 C19.8,4.5 20.2,7 19.4,8.8 C18.6,10.2 16.8,10.6 15,10.9 C13.5,11.2 12.5,11.6 11.5,12.3 C10.5,13.2 9,13.2 8.3,12.4 C6.5,11.9 4,11.6 2.3,10.6 C1,9.8 0.3,8.8 0.3,7.5 Z" fill="url(#glat)" stroke="#454545" stroke-width="0.9"/><path d="M10.4,6.5Q9.3,7 8.1,7.1M5.6,4.9Q4.3,6 4.3,7.8M3.9,8.5Q4.2,9.9 3,9.8M11.8,7Q12.5,6.6 13.1,7.7M3.8,3.7Q4.9,4.3 6.3,3.9M10.3,6.2Q10.2,7.2 10.3,9M19.2,10.3Q17.7,10.5 16.7,11.7M7.5,1.4Q7.2,2 5.8,2.9M16.4,9.5Q18,9.5 18.3,9.6M16.3,5Q18.1,4.9 19,5.6M4.9,4.5Q2.8,4.3 1.9,4.8M4.4,1.5Q3.7,2 2.9,2.6M3.8,7.9Q4.4,8.3 6.3,9M7,3.9Q5.1,4.7 3.9,4.2M6.6,4.6Q4.7,6 4.1,5.9M6.2,3.2Q5.1,3.3 4.6,4.7M2.5,6.1Q3.2,7 4.4,8M17.7,4.5Q16.8,5.5 17,7.7M15.9,8.6Q16.9,10 17.2,9.9M6.4,10Q5,9.9 3.9,11M1.6,9.7Q2.2,11.2 3.7,11.6M10.3,3.5Q10.9,3.9 12.8,5.1" clip-path="url(#cl)" fill="none" stroke="#666" stroke-width="0.5"/></g>
<g transform="translate(238.1,701.45) scale(-1,1)"><path d="M0.4,8.3 C0.3,5 2.5,2.2 6.5,1 C10,0 14.5,0.3 17.3,2.3 C19.6,4 20.2,7 19.4,9 C18.7,10.3 17.2,10.9 15.6,11.3 C14.9,12.5 13.8,13.5 12.6,13.6 C11.3,13.7 10.6,12.8 10.1,12.1 C8,12 5,11.9 3,11.2 C1.4,10.6 0.5,9.6 0.4,8.3 Z" fill="url(#gmed)" stroke="#707070" stroke-width="0.8"/><path d="M4.5,8 C5.5,4.8 9,3.6 12,3.8 C15,4.1 16.5,5.8 16.5,7.8 C14,7 11,6.8 8,7.3 C6.5,7.6 5.2,7.8 4.5,8 Z" fill="#cbcbcb"/><path d="M11.3,8.7L10.6,10.5M15.7,3.4L17.6,3.5M8.3,1.5L10,2.6M10.6,1.5L11.7,4M18.4,6.8L17,8.7M2.8,1.8L5.7,1.9M12,10.6L14.4,10.7M8.9,7.2L10.5,9.7M4.2,5.6L2.2,7.7M14.9,7.3L12.6,9.1" clip-path="url(#cm)" fill="none" stroke="#8c8c8c" stroke-width="0.45"/><path d="M9.8,11.6 C10.8,12.8 12.5,13.2 14.5,11.8 C13.5,11 11.5,10.8 9.8,11.6 Z" fill="#808080"/><path d="M3.2,3.1 C5.5,2.1 9.5,1.9 12.5,2.4 C13.8,3.4 14.5,4.8 14.3,6.3 C10.5,6.2 6.5,6.2 3.1,6.4 C2.9,5.3 2.9,4.1 3.2,3.1 Z" fill="#f01c1c"/></g>
<g transform="translate(238.9,701.45)"><path d="M0.4,8.3 C0.3,5 2.5,2.2 6.5,1 C10,0 14.5,0.3 17.3,2.3 C19.6,4 20.2,7 19.4,9 C18.7,10.3 17.2,10.9 15.6,11.3 C14.9,12.5 13.8,13.5 12.6,13.6 C11.3,13.7 10.6,12.8 10.1,12.1 C8,12 5,11.9 3,11.2 C1.4,10.6 0.5,9.6 0.4,8.3 Z" fill="url(#gmed)" stroke="#707070" stroke-width="0.8"/><path d="M4.5,8 C5.5,4.8 9,3.6 12,3.8 C15,4.1 16.5,5.8 16.5,7.8 C14,7 11,6.8 8,7.3 C6.5,7.6 5.2,7.8 4.5,8 Z" fill="#cbcbcb"/><path d="M11.3,8.7L10.6,10.5M15.7,3.4L17.6,3.5M8.3,1.5L10,2.6M10.6,1.5L11.7,4M18.4,6.8L17,8.7M2.8,1.8L5.7,1.9M12,10.6L14.4,10.7M8.9,7.2L10.5,9.7M4.2,5.6L2.2,7.7M14.9,7.3L12.6,9.1" clip-path="url(#cm)" fill="none" stroke="#8c8c8c" stroke-width="0.45"/><path d="M9.8,11.6 C10.8,12.8 12.5,13.2 14.5,11.8 C13.5,11 11.5,10.8 9.8,11.6 Z" fill="#808080"/><path d="M3.2,3.1 C5.5,2.1 9.5,1.9 12.5,2.4 C13.8,3.4 14.5,4.8 14.3,6.3 C10.5,6.2 6.5,6.2 3.1,6.4 C2.9,5.3 2.9,4.1 3.2,3.1 Z" fill="#f01c1c"/></g>
<path d="M159.2,669.8 159.9,670.5 161.9,669.1 163.8,668.5 164.8,688 165.4,706.2 166.2,675 167.4,656.1 168.4,665.9 169.4,678.9 171,691.9 172.9,695.8 174.2,694.5 175.6,686.7 176.2,678.9 177.2,691.9 178.5,677.6 179.4,671.1 180.8,675 182.7,685.4 184.7,694.5 185.9,688 186.9,684.1 187.9,699.7 189.2,682.8 190.5,668.5 191.2,660 192.1,664.6 193.1,673.7 195.1,680.2 196.7,686.7 197.7,681.5 198.6,690.6 199.3,698.4 200.2,681.5 201.6,673 202.8,677.6 204.2,682.8 206.1,689.3 208.1,682.8 209.1,676.3 210,697.1 211.3,675 212.6,671.8 213.9,676.3 215.8,682.8 217.8,688 219.1,688 221.1,682.8 223,677.6 224.9,673.7 226.2,670.2 227.6,668.5 229.5,667.2 231.4,665.2 233.4,662 235.3,663.3 237.3,665.2 239.2,667.2 241.2,665.9 242.5,668 243.8,668.5 245.1,666.9 246.4,667.9 247.7,669.4 249,669.8 250.3,668.8 251.6,669.1 252.9,670.7 254.2,671.1 255.5,670.5 256.8,671.8 258.1,672.6 259.4,671.1 260.3,673.7" fill="none" stroke="#a8c6ee" stroke-width="2.0" stroke-linejoin="round" opacity="0.7"/>
<path d="M159.2,669.8 159.9,670.5 161.9,669.1 163.8,668.5 164.8,688 165.4,706.2 166.2,675 167.4,656.1 168.4,665.9 169.4,678.9 171,691.9 172.9,695.8 174.2,694.5 175.6,686.7 176.2,678.9 177.2,691.9 178.5,677.6 179.4,671.1 180.8,675 182.7,685.4 184.7,694.5 185.9,688 186.9,684.1 187.9,699.7 189.2,682.8 190.5,668.5 191.2,660 192.1,664.6 193.1,673.7 195.1,680.2 196.7,686.7 197.7,681.5 198.6,690.6 199.3,698.4 200.2,681.5 201.6,673 202.8,677.6 204.2,682.8 206.1,689.3 208.1,682.8 209.1,676.3 210,697.1 211.3,675 212.6,671.8 213.9,676.3 215.8,682.8 217.8,688 219.1,688 221.1,682.8 223,677.6 224.9,673.7 226.2,670.2 227.6,668.5 229.5,667.2 231.4,665.2 233.4,662 235.3,663.3 237.3,665.2 239.2,667.2 241.2,665.9 242.5,668 243.8,668.5 245.1,666.9 246.4,667.9 247.7,669.4 249,669.8 250.3,668.8 251.6,669.1 252.9,670.7 254.2,671.1 255.5,670.5 256.8,671.8 258.1,672.6 259.4,671.1 260.3,673.7" fill="none" stroke="#2468d0" stroke-width="0.6" stroke-linejoin="round"/>
<circle cx="191.15" cy="660.05" r="3.55" fill="none" stroke="#ee1c25" stroke-width="0.9"/>
<circle cx="201.94" cy="673.05" r="3.55" fill="none" stroke="#ee1c25" stroke-width="0.9"/>
<circle cx="212.21" cy="671.75" r="3.55" fill="none" stroke="#ee1c25" stroke-width="0.9"/>
<path d="M161.99,718.1v-1.2M161.99,637.35v1.2M176.58,718.1v-1.2M176.58,637.35v1.2M191.17,718.1v-1.2M191.17,637.35v1.2M205.75,718.1v-1.2M205.75,637.35v1.2M220.34,718.1v-1.2M220.34,637.35v1.2M234.93,718.1v-1.2M234.93,637.35v1.2M249.51,718.1v-1.2M249.51,637.35v1.2M158.9,637.35h1.2M260.6,637.35h-1.2M158.9,653.5h1.2M260.6,653.5h-1.2M158.9,669.65h1.2M260.6,669.65h-1.2M158.9,685.8h1.2M260.6,685.8h-1.2M158.9,701.95h1.2M260.6,701.95h-1.2M158.9,718.1h1.2M260.6,718.1h-1.2" stroke="#555" stroke-width="0.5" fill="none"/>
<rect x="158.9" y="637.35" width="101.7" height="80.75" fill="none" stroke="#a0a0a0" stroke-width="0.7"/>
<text x="156.6" y="639.75" font-size="8.2" text-anchor="end" fill="#363636">40</text>
<text x="156.6" y="655.9" font-size="8.2" text-anchor="end" fill="#363636">20</text>
<text x="156.6" y="672.05" font-size="8.2" text-anchor="end" fill="#363636">0</text>
<text x="156.6" y="688.2" font-size="8.2" text-anchor="end" fill="#363636">-20</text>
<text x="156.6" y="704.35" font-size="8.2" text-anchor="end" fill="#363636">-40</text>
<text x="156.6" y="720.5" font-size="8.2" text-anchor="end" fill="#363636">-60</text>
<text x="161.99" y="726" font-size="8.3" text-anchor="middle" fill="#363636">0</text>
<text x="176.58" y="726" font-size="8.3" text-anchor="middle" fill="#363636">0.5</text>
<text x="191.17" y="726" font-size="8.3" text-anchor="middle" fill="#363636">1</text>
<text x="205.75" y="726" font-size="8.3" text-anchor="middle" fill="#363636">1.5</text>
<text x="220.34" y="726" font-size="8.3" text-anchor="middle" fill="#363636">2</text>
<text x="234.93" y="726" font-size="8.3" text-anchor="middle" fill="#363636">2.5</text>
<text x="249.51" y="726" font-size="8.3" text-anchor="middle" fill="#363636">3</text>
<text x="209.35" y="632" font-size="10" text-anchor="middle" textLength="16.4" lengthAdjust="spacingAndGlyphs">NT2</text>
<g transform="translate(159.8,734.35)"><ellipse cx="1.3" cy="-1" rx="1.35" ry="0.95" transform="rotate(-20 1.3 -1)" fill="#111"/><path d="M2.45,-1.2 V-5.6 C3.2,-4.6 4.5,-4 4.2,-2.3" fill="none" stroke="#111" stroke-width="0.6"/></g>
<g transform="translate(170.65,734.35)"><ellipse cx="1.3" cy="-1" rx="1.35" ry="0.95" transform="rotate(-20 1.3 -1)" fill="#111"/><path d="M2.45,-1.2 V-5.6 C3.2,-4.6 4.5,-4 4.2,-2.3" fill="none" stroke="#111" stroke-width="0.6"/></g>
<g transform="translate(181.5,734.35)"><ellipse cx="1.3" cy="-1" rx="1.35" ry="0.95" transform="rotate(-20 1.3 -1)" fill="#111"/><path d="M2.45,-1.2 V-5.6 C3.2,-4.6 4.5,-4 4.2,-2.3" fill="none" stroke="#111" stroke-width="0.6"/></g>
<path d="M180.2,735.55v1h7.4v-1" fill="none" stroke="#2468d0" stroke-width="0.65" opacity="0.75"/>
<g transform="translate(192.35,734.35)"><ellipse cx="1.3" cy="-1" rx="1.35" ry="0.95" transform="rotate(-20 1.3 -1)" fill="#111"/><path d="M2.45,-1.2 V-5.6 C3.2,-4.6 4.5,-4 4.2,-2.3" fill="none" stroke="#111" stroke-width="0.6"/></g>
<path d="M191.05,735.55v1h7.4v-1" fill="none" stroke="#2468d0" stroke-width="0.65" opacity="0.75"/>
<g transform="translate(203.2,734.35)"><ellipse cx="1.3" cy="-1" rx="1.35" ry="0.95" transform="rotate(-20 1.3 -1)" fill="#111"/><path d="M2.45,-1.2 V-5.6 C3.2,-4.6 4.5,-4 4.2,-2.3" fill="none" stroke="#111" stroke-width="0.6"/></g>
<path d="M201.9,735.55v1h7.4v-1" fill="none" stroke="#2468d0" stroke-width="0.65" opacity="0.75"/>
<path d="M179.32,764V861.25M183.41,764V861.25M187.5,764V861.25M195.68,764V861.25M199.77,764V861.25M203.86,764V861.25M207.95,764V861.25M216.14,764V861.25M220.23,764V861.25M224.32,764V861.25M228.41,764V861.25M236.59,764V861.25M240.68,764V861.25M176.4,857.36H243.75M176.4,853.47H243.75M176.4,849.58H243.75M176.4,845.69H243.75M176.4,837.91H243.75M176.4,834.02H243.75M176.4,830.13H243.75M176.4,826.24H243.75M176.4,818.46H243.75M176.4,814.57H243.75M176.4,810.68H243.75M176.4,806.79H243.75M176.4,799.01H243.75M176.4,795.12H243.75M176.4,791.23H243.75M176.4,787.34H243.75M176.4,779.56H243.75M176.4,775.67H243.75M176.4,771.78H243.75M176.4,767.89H243.75" stroke="#ececec" stroke-width="0.45" stroke-dasharray="1 0.6" fill="none"/>
<path d="M191.59,764V861.25M211.93,764V861.25M232.5,764V861.25M176.4,783.45H243.75M176.4,802.9H243.75M176.4,822.35H243.75M176.4,841.8H243.75" stroke="#e8e8e8" stroke-width="0.5" fill="none"/>
<path d="M191.6,779.4L191.6,779.4 191.5,779.9 191.5,780.4 191.5,780.9 191.5,781.4 191.5,781.9 191.5,782.4 191.5,782.9 191.5,783.4 191.5,783.9 191.4,784.4 191.4,784.9 191.4,785.4 191.4,785.9 191.4,786.4 191.4,786.9 191.4,787.4 191.3,787.9 191.3,788.4 191.3,788.9 191.3,789.4 191.3,789.9 191.2,790.4 191.2,790.9 191.2,791.4 191.1,791.9 191.1,792.4 191,792.9 191,793.4 190.9,793.9 190.8,794.4 190.8,794.9 190.7,795.4 190.6,795.9 190.6,796.4 190.5,796.9 190.4,797.4 190.2,797.9 190.1,798.5 189.9,799 189.8,799.5 189.6,800 189.4,800.5 189.3,801 189.1,801.5 188.9,802 188.7,802.5 188.5,803 188.3,803.5 188.1,804 187.8,804.5 187.6,805 187.4,805.5 187.2,806 187,806.5 186.7,807 186.5,807.5 186.3,808 186.1,808.5 185.8,809 185.6,809.5 185.4,810 185.2,810.5 185,811 184.8,811.5 184.6,812 184.4,812.5 184.2,813 184,813.5 183.8,814 183.7,814.5 183.5,815 183.4,815.5 183.2,816 183.1,816.5 183,817 182.9,817.5 182.9,818 182.8,818.5 182.8,819 182.8,819.5 182.8,820 182.9,820.5 183,821 183.1,821.5 183.2,822 183.3,822.5 183.5,823 183.7,823.5 183.9,824 184.1,824.5 184.3,825 184.5,825.5 184.8,826 185,826.5 185.3,827.1 185.5,827.6 185.8,828.1 186,828.6 186.3,829.1 186.5,829.6 186.7,830.1 187,830.6 187.2,831.1 187.4,831.6 187.7,832.1 187.9,832.6 188.1,833.1 188.3,833.6 188.5,834.1 188.7,834.6 188.9,835.1 189.1,835.6 189.3,836.1 189.4,836.6 189.6,837.1 189.8,837.6 189.9,838.1 190,838.6 190.2,839.1 190.3,839.6 190.4,840.1 190.6,840.6 190.7,841.1 190.8,841.6 190.9,842.1 190.9,842.6 191,843.1 191.1,843.6 191.1,844.1 191.2,844.6 191.2,845.1 191.2,845.6 191.3,846.1 191.3,846.6 191.3,847.1 191.4,847.6 191.4,848.1 191.4,848.6 191.4,849.1 191.5,849.6 191.5,850.1 191.5,850.6 191.5,851.1 191.6,851.1Z" fill="#0000cd"/>
<path d="M195.5,796.6h0M197,818.6h0M194.5,819.9h0M195.6,811.3h0M195.1,817.6h0M195.4,810.2h0M196.2,829.8h0M195.8,817.7h0M194.3,813.8h0M193.7,811.2h0M196.9,795.6h0M196.6,820.4h0M196.6,812.5h0M196.4,829.3h0M194.2,828.1h0M196,808.2h0M195.6,817.4h0M196.5,803.3h0M195.2,823.2h0M193.9,814.9h0M194.2,819.8h0M196.7,808.4h0M196.1,832.4h0M194.5,808.9h0M193.8,813.3h0M195.1,807.3h0M197.1,832.7h0M197,808.2h0M195.6,816.2h0M196.3,821.2h0M196.1,820.8h0M194.1,810.1h0M197,823.5h0M194.1,820.8h0M194.4,829h0M195.9,822.9h0M196.1,791.9h0M193.7,810.7h0M195.5,819.6h0M196.6,826.1h0M195.3,829h0M196.6,818.7h0M195.3,819.1h0M197,820.2h0M195.4,810.5h0M194.2,819.1h0M194.3,793.3h0M197.1,809.4h0M194.8,817.5h0M194.5,792.1h0M196.6,832.9h0M197,811.3h0M195.3,793.6h0M194.1,804.3h0M194.1,818h0M193.9,808.6h0M195.3,827h0M194.4,837.7h0M195.7,822.9h0M196.3,829.3h0M196.9,814.3h0M195.3,829.7h0M196.6,818.8h0M195.7,836.8h0M197,810.5h0M194,807.3h0M196.8,794.3h0M196.9,822.6h0M195.7,826.6h0M195.2,830.4h0" stroke="#2232de" stroke-width="1.05" stroke-linecap="round" opacity="0.85"/>
<circle cx="191.59" cy="818.93" r="1.05" fill="#0a0a3a"/>
<path d="M211.9,794.6L211.8,794.6 211.7,795.1 211.7,795.6 211.7,796.1 211.6,796.6 211.6,797.1 211.5,797.7 211.5,798.2 211.4,798.7 211.4,799.2 211.3,799.7 211.3,800.2 211.2,800.7 211.1,801.2 211,801.7 210.9,802.2 210.8,802.7 210.7,803.2 210.6,803.7 210.4,804.2 210.3,804.7 210.1,805.2 210,805.7 209.8,806.2 209.6,806.7 209.4,807.2 209.2,807.7 209,808.2 208.8,808.7 208.5,809.2 208.2,809.7 207.9,810.2 207.7,810.7 207.4,811.2 207,811.7 206.7,812.2 206.4,812.7 206.1,813.2 205.8,813.7 205.5,814.2 205.2,814.7 204.9,815.2 204.5,815.7 204.2,816.2 204,816.7 203.7,817.2 203.4,817.7 203.2,818.2 203,818.7 202.8,819.2 202.6,819.7 202.5,820.3 202.4,820.8 202.3,821.3 202.2,821.8 202.2,822.3 202.2,822.8 202.3,823.3 202.3,823.8 202.4,824.3 202.5,824.8 202.7,825.3 202.9,825.8 203,826.3 203.2,826.8 203.5,827.3 203.7,827.8 203.9,828.3 204.2,828.8 204.4,829.3 204.7,829.8 205,830.3 205.2,830.8 205.5,831.3 205.8,831.8 206,832.3 206.3,832.8 206.6,833.3 206.9,833.8 207.2,834.3 207.4,834.8 207.7,835.3 207.9,835.8 208.2,836.3 208.4,836.8 208.6,837.3 208.8,837.8 209,838.3 209.2,838.8 209.4,839.3 209.6,839.8 209.8,840.3 209.9,840.8 210.1,841.3 210.2,841.8 210.3,842.3 210.5,842.8 210.6,843.4 210.7,843.9 210.8,844.4 210.9,844.9 211,845.4 211.1,845.9 211.1,846.4 211.2,846.9 211.3,847.4 211.4,847.9 211.4,848.4 211.5,848.9 211.6,849.4 211.6,849.9 211.7,850.4 211.7,850.9 211.7,851.4 211.8,851.9 211.8,852.4 211.8,852.9 211.8,853.4 211.9,853.4Z" fill="#0000cd"/>
<path d="M215.9,830.6h0M216.1,823.1h0M215.5,837.9h0M215.5,840.5h0M215,827.3h0M214,809.4h0M215.1,836h0M215.1,833.3h0M214.5,839.2h0M214.9,819.8h0M215.8,808.2h0M216.2,823.6h0M215.4,832.2h0M214.4,800h0M215.9,827h0M214,825.7h0M217.3,833.9h0M216.3,802.5h0M216.2,809.6h0M217.2,831.5h0M216.8,820.7h0M217.3,836.7h0M215.8,817.7h0M215.9,801.9h0M216.5,817.7h0M215.3,814.2h0M215.3,842h0M215.7,816.4h0M215,812h0M217.4,821.7h0M216.5,820.6h0M216,832h0M217.4,825.7h0M214.8,822.5h0M216.2,824.8h0M215.9,818.1h0M216.6,823.7h0M216.3,803.1h0M216.6,824.9h0M216.9,815.8h0M216.8,823.9h0M215.6,823.7h0M216.4,820.4h0M214.9,801.7h0M215,812.6h0M215.3,828.5h0M214.4,845.8h0M215,828.4h0M214.2,841.2h0M214.4,831.9h0M215.2,830h0M217.4,845h0M216.2,830.6h0M217.1,811.7h0M214.6,813.9h0M216.6,832.3h0M216.5,823.1h0M214,814.4h0M216.1,846.5h0M215.1,823.2h0M215.2,845.1h0M215.5,832.7h0M216.5,824.2h0M217,821.4h0M217.4,811.8h0M216.9,832.6h0M215.8,844.4h0M214,831.1h0M217.4,824.2h0M217.2,824.5h0" stroke="#2232de" stroke-width="1.05" stroke-linecap="round" opacity="0.85"/>
<circle cx="211.93" cy="824.36" r="1.05" fill="#0a0a3a"/>
<path d="M232.5,787.3L232.5,787.3 232.5,787.8 232.4,788.3 232.4,788.8 232.4,789.3 232.4,789.8 232.4,790.3 232.4,790.8 232.4,791.3 232.4,791.8 232.4,792.3 232.3,792.8 232.3,793.3 232.3,793.8 232.3,794.3 232.3,794.9 232.3,795.4 232.3,795.9 232.2,796.4 232.2,796.9 232.2,797.4 232.2,797.9 232.1,798.4 232.1,798.9 232.1,799.4 232,799.9 231.9,800.4 231.8,800.9 231.7,801.4 231.6,801.9 231.5,802.4 231.3,802.9 231.2,803.4 231.1,803.9 230.9,804.4 230.7,804.9 230.5,805.4 230.4,805.9 230.1,806.4 229.9,806.9 229.7,807.4 229.4,807.9 229.1,808.5 228.8,809 228.5,809.5 228.2,810 227.9,810.5 227.5,811 227.2,811.5 226.8,812 226.5,812.5 226.1,813 225.7,813.5 225.4,814 225,814.5 224.6,815 224.3,815.5 223.9,816 223.6,816.5 223.2,817 222.9,817.5 222.6,818 222.3,818.5 222.1,819 221.9,819.5 221.7,820 221.5,820.5 221.4,821 221.3,821.5 221.2,822.1 221.2,822.6 221.3,823.1 221.4,823.6 221.5,824.1 221.6,824.6 221.8,825.1 222.1,825.6 222.3,826.1 222.6,826.6 222.9,827.1 223.2,827.6 223.5,828.1 223.8,828.6 224.1,829.1 224.5,829.6 224.8,830.1 225.1,830.6 225.5,831.1 225.8,831.6 226.2,832.1 226.5,832.6 226.9,833.1 227.2,833.6 227.6,834.1 227.9,834.6 228.2,835.2 228.6,835.7 228.9,836.2 229.2,836.7 229.5,837.2 229.8,837.7 230,838.2 230.3,838.7 230.5,839.2 230.8,839.7 231,840.2 231.2,840.7 231.4,841.2 231.5,841.7 231.7,842.2 231.8,842.7 231.9,843.2 232,843.7 232.1,844.2 232.1,844.7 232.2,845.2 232.2,845.7 232.3,846.2 232.3,846.7 232.3,847.2 232.3,847.7 232.5,847.7Z" fill="#0000cd"/>
<path d="M236.9,813.6h0M234.9,820.6h0M236.2,835.1h0M237.3,835.4h0M237.1,813.4h0M237.2,812.4h0M236.9,825h0M237.2,840.4h0M235.8,811h0M236.4,821.6h0M237.6,798h0M238,822h0M237.2,832.8h0M237.6,836.3h0M236.3,806.2h0M235.8,835.2h0M236.7,799.5h0M235.2,842.9h0M236.6,814.9h0M237.1,830h0M237.3,819.7h0M236.8,815.8h0M234.6,809.5h0M236.8,822.5h0M235.9,841.9h0M237.1,815.4h0M236,813.9h0M237.5,818.5h0M238,831.1h0M236.8,824.3h0M235.9,825.1h0M235.3,805.5h0M236.1,831h0M234.6,804.5h0M236.5,813.3h0M235.5,815.9h0M237.1,813.8h0M234.7,814.6h0M236.6,823.9h0M237.7,823.8h0M237.9,821.4h0M237.7,816.3h0M234.6,826.3h0M236.5,816.5h0M237.5,801.6h0M234.9,823.4h0M236.4,825.9h0M235.5,803.8h0M236.9,818.2h0M234.7,817.1h0M234.7,822.7h0M237.8,798.1h0M236,803.2h0M234.8,818.8h0M237.2,837.4h0M236.3,825.7h0M235.9,821h0M236,810.6h0M235.7,845.8h0M235.9,810h0M235.2,813.9h0M235.5,835.8h0M236.2,824.1h0M236.8,819.1h0M235.3,806.4h0M237.6,814.6h0M236.1,815.6h0M236.1,839.9h0M235.9,799.5h0M236.2,827.7h0" stroke="#2232de" stroke-width="1.05" stroke-linecap="round" opacity="0.85"/>
<circle cx="232.5" cy="823.45" r="1.05" fill="#0a0a3a"/>
<path d="M191.59,861.25v-1.2M191.59,764v1.2M211.93,861.25v-1.2M211.93,764v1.2M232.5,861.25v-1.2M232.5,764v1.2M176.4,764h1.2M243.75,764h-1.2M176.4,783.45h1.2M243.75,783.45h-1.2M176.4,802.9h1.2M243.75,802.9h-1.2M176.4,822.35h1.2M243.75,822.35h-1.2M176.4,841.8h1.2M243.75,841.8h-1.2M176.4,861.25h1.2M243.75,861.25h-1.2" stroke="#555" stroke-width="0.5" fill="none"/>
<rect x="176.4" y="764" width="67.35" height="97.25" fill="none" stroke="#a0a0a0" stroke-width="0.7"/>
<text transform="translate(174.2 767.5) scale(0.92 1)" font-size="8.8" text-anchor="end" fill="#363636">150</text>
<text transform="translate(174.2 786.95) scale(0.92 1)" font-size="8.8" text-anchor="end" fill="#363636">100</text>
<text transform="translate(174.2 806.4) scale(0.92 1)" font-size="8.8" text-anchor="end" fill="#363636">50</text>
<text transform="translate(174.2 825.85) scale(0.92 1)" font-size="8.8" text-anchor="end" fill="#363636">0</text>
<text transform="translate(174.2 845.3) scale(0.92 1)" font-size="8.8" text-anchor="end" fill="#363636">-50</text>
<text transform="translate(174.2 864.75) scale(0.92 1)" font-size="8.8" text-anchor="end" fill="#363636">-100</text>
<text transform="translate(191.59 868.5) scale(0.92 1)" font-size="8.8" text-anchor="middle" fill="#363636">3</text>
<text transform="translate(211.93 868.5) scale(0.92 1)" font-size="8.8" text-anchor="middle" fill="#363636">4</text>
<text transform="translate(232.5 868.5) scale(0.92 1)" font-size="8.8" text-anchor="middle" fill="#363636">5</text>
<text x="210.07" y="763.4" font-size="10.5" text-anchor="middle" font-weight="bold" fill="#000" stroke="#000" stroke-width="0.35">***</text>
<path d="M287.57,637.35V718.1M293.39,637.35V718.1M296.3,637.35V718.1M299.21,637.35V718.1M302.12,637.35V718.1M307.94,637.35V718.1M310.84,637.35V718.1M313.75,637.35V718.1M316.66,637.35V718.1M322.48,637.35V718.1M325.39,637.35V718.1M328.3,637.35V718.1M331.21,637.35V718.1M337.02,637.35V718.1M339.93,637.35V718.1M342.84,637.35V718.1M345.75,637.35V718.1M351.57,637.35V718.1M354.48,637.35V718.1M357.39,637.35V718.1M360.29,637.35V718.1M366.11,637.35V718.1M369.02,637.35V718.1M371.93,637.35V718.1M374.84,637.35V718.1M380.66,637.35V718.1M383.56,637.35V718.1M386.47,637.35V718.1M287.4,714.06H388.8M287.4,710.02H388.8M287.4,705.99H388.8M287.4,697.91H388.8M287.4,693.88H388.8M287.4,689.84H388.8M287.4,681.76H388.8M287.4,677.73H388.8M287.4,673.69H388.8M287.4,665.61H388.8M287.4,661.58H388.8M287.4,657.54H388.8M287.4,649.46H388.8M287.4,645.43H388.8M287.4,641.39H388.8" stroke="#ececec" stroke-width="0.45" stroke-dasharray="1 0.6" fill="none"/>
<path d="M290.48,637.35V718.1M305.03,637.35V718.1M319.57,637.35V718.1M334.11,637.35V718.1M348.66,637.35V718.1M363.2,637.35V718.1M377.75,637.35V718.1M287.4,653.5H388.8M287.4,669.65H388.8M287.4,685.8H388.8M287.4,701.95H388.8" stroke="#e8e8e8" stroke-width="0.5" fill="none"/>
<g transform="translate(346.3,687.1)"><path d="M0.3,7.5 C0.3,4 3,1.2 7,0.5 C11,-0.1 15.5,0.5 18,2.8 C19.8,4.5 20.2,7 19.4,8.8 C18.6,10.2 16.8,10.6 15,10.9 C13.5,11.2 12.5,11.6 11.5,12.3 C10.5,13.2 9,13.2 8.3,12.4 C6.5,11.9 4,11.6 2.3,10.6 C1,9.8 0.3,8.8 0.3,7.5 Z" fill="url(#glat)" stroke="#454545" stroke-width="0.9"/><path d="M10.4,6.5Q9.3,7 8.1,7.1M5.6,4.9Q4.3,6 4.3,7.8M3.9,8.5Q4.2,9.9 3,9.8M11.8,7Q12.5,6.6 13.1,7.7M3.8,3.7Q4.9,4.3 6.3,3.9M10.3,6.2Q10.2,7.2 10.3,9M19.2,10.3Q17.7,10.5 16.7,11.7M7.5,1.4Q7.2,2 5.8,2.9M16.4,9.5Q18,9.5 18.3,9.6M16.3,5Q18.1,4.9 19,5.6M4.9,4.5Q2.8,4.3 1.9,4.8M4.4,1.5Q3.7,2 2.9,2.6M3.8,7.9Q4.4,8.3 6.3,9M7,3.9Q5.1,4.7 3.9,4.2M6.6,4.6Q4.7,6 4.1,5.9M6.2,3.2Q5.1,3.3 4.6,4.7M2.5,6.1Q3.2,7 4.4,8M17.7,4.5Q16.8,5.5 17,7.7M15.9,8.6Q16.9,10 17.2,9.9M6.4,10Q5,9.9 3.9,11M1.6,9.7Q2.2,11.2 3.7,11.6M10.3,3.5Q10.9,3.9 12.8,5.1" clip-path="url(#cl)" fill="none" stroke="#666" stroke-width="0.5"/></g>
<g transform="translate(387.1,687.1) scale(-1,1)"><path d="M0.3,7.5 C0.3,4 3,1.2 7,0.5 C11,-0.1 15.5,0.5 18,2.8 C19.8,4.5 20.2,7 19.4,8.8 C18.6,10.2 16.8,10.6 15,10.9 C13.5,11.2 12.5,11.6 11.5,12.3 C10.5,13.2 9,13.2 8.3,12.4 C6.5,11.9 4,11.6 2.3,10.6 C1,9.8 0.3,8.8 0.3,7.5 Z" fill="url(#glat)" stroke="#454545" stroke-width="0.9"/><path d="M10.4,6.5Q9.3,7 8.1,7.1M5.6,4.9Q4.3,6 4.3,7.8M3.9,8.5Q4.2,9.9 3,9.8M11.8,7Q12.5,6.6 13.1,7.7M3.8,3.7Q4.9,4.3 6.3,3.9M10.3,6.2Q10.2,7.2 10.3,9M19.2,10.3Q17.7,10.5 16.7,11.7M7.5,1.4Q7.2,2 5.8,2.9M16.4,9.5Q18,9.5 18.3,9.6M16.3,5Q18.1,4.9 19,5.6M4.9,4.5Q2.8,4.3 1.9,4.8M4.4,1.5Q3.7,2 2.9,2.6M3.8,7.9Q4.4,8.3 6.3,9M7,3.9Q5.1,4.7 3.9,4.2M6.6,4.6Q4.7,6 4.1,5.9M6.2,3.2Q5.1,3.3 4.6,4.7M2.5,6.1Q3.2,7 4.4,8M17.7,4.5Q16.8,5.5 17,7.7M15.9,8.6Q16.9,10 17.2,9.9M6.4,10Q5,9.9 3.9,11M1.6,9.7Q2.2,11.2 3.7,11.6M10.3,3.5Q10.9,3.9 12.8,5.1" clip-path="url(#cl)" fill="none" stroke="#666" stroke-width="0.5"/></g>
<g transform="translate(366.3,701.45) scale(-1,1)"><path d="M0.4,8.3 C0.3,5 2.5,2.2 6.5,1 C10,0 14.5,0.3 17.3,2.3 C19.6,4 20.2,7 19.4,9 C18.7,10.3 17.2,10.9 15.6,11.3 C14.9,12.5 13.8,13.5 12.6,13.6 C11.3,13.7 10.6,12.8 10.1,12.1 C8,12 5,11.9 3,11.2 C1.4,10.6 0.5,9.6 0.4,8.3 Z" fill="url(#gmed)" stroke="#707070" stroke-width="0.8"/><path d="M4.5,8 C5.5,4.8 9,3.6 12,3.8 C15,4.1 16.5,5.8 16.5,7.8 C14,7 11,6.8 8,7.3 C6.5,7.6 5.2,7.8 4.5,8 Z" fill="#cbcbcb"/><path d="M11.3,8.7L10.6,10.5M15.7,3.4L17.6,3.5M8.3,1.5L10,2.6M10.6,1.5L11.7,4M18.4,6.8L17,8.7M2.8,1.8L5.7,1.9M12,10.6L14.4,10.7M8.9,7.2L10.5,9.7M4.2,5.6L2.2,7.7M14.9,7.3L12.6,9.1" clip-path="url(#cm)" fill="none" stroke="#8c8c8c" stroke-width="0.45"/><path d="M9.8,11.6 C10.8,12.8 12.5,13.2 14.5,11.8 C13.5,11 11.5,10.8 9.8,11.6 Z" fill="#808080"/><path d="M3.2,3.1 C5.5,2.1 9.5,1.9 12.5,2.4 C13.8,3.4 14.5,4.8 14.3,6.3 C10.5,6.2 6.5,6.2 3.1,6.4 C2.9,5.3 2.9,4.1 3.2,3.1 Z" fill="#f01c1c"/></g>
<g transform="translate(367.1,701.45)"><path d="M0.4,8.3 C0.3,5 2.5,2.2 6.5,1 C10,0 14.5,0.3 17.3,2.3 C19.6,4 20.2,7 19.4,9 C18.7,10.3 17.2,10.9 15.6,11.3 C14.9,12.5 13.8,13.5 12.6,13.6 C11.3,13.7 10.6,12.8 10.1,12.1 C8,12 5,11.9 3,11.2 C1.4,10.6 0.5,9.6 0.4,8.3 Z" fill="url(#gmed)" stroke="#707070" stroke-width="0.8"/><path d="M4.5,8 C5.5,4.8 9,3.6 12,3.8 C15,4.1 16.5,5.8 16.5,7.8 C14,7 11,6.8 8,7.3 C6.5,7.6 5.2,7.8 4.5,8 Z" fill="#cbcbcb"/><path d="M11.3,8.7L10.6,10.5M15.7,3.4L17.6,3.5M8.3,1.5L10,2.6M10.6,1.5L11.7,4M18.4,6.8L17,8.7M2.8,1.8L5.7,1.9M12,10.6L14.4,10.7M8.9,7.2L10.5,9.7M4.2,5.6L2.2,7.7M14.9,7.3L12.6,9.1" clip-path="url(#cm)" fill="none" stroke="#8c8c8c" stroke-width="0.45"/><path d="M9.8,11.6 C10.8,12.8 12.5,13.2 14.5,11.8 C13.5,11 11.5,10.8 9.8,11.6 Z" fill="#808080"/><path d="M3.2,3.1 C5.5,2.1 9.5,1.9 12.5,2.4 C13.8,3.4 14.5,4.8 14.3,6.3 C10.5,6.2 6.5,6.2 3.1,6.4 C2.9,5.3 2.9,4.1 3.2,3.1 Z" fill="#f01c1c"/></g>
<path d="M287.7,671.1 288.3,667.9 290.2,667.9 291.9,663.3 292.9,681.5 293.5,703.6 294.5,675 295.4,651 296.4,656.8 297.4,673.7 298.7,684.1 300,690.6 301.6,690.6 302.9,691.9 303.9,678.9 304.9,690.6 306.2,677.6 307.5,665.2 308.8,673.7 310.1,681.5 311.7,685.4 313,693.2 314.3,680.2 315.3,694.5 316.6,681.5 318.9,665.2 320.1,673.7 321.4,682.8 323.1,691.9 324.7,688 325.7,678.9 327,695.8 328.3,678.9 329.2,664.6 330.3,658.4 331.2,665.9 332.5,676.3 334.4,681.5 335.8,688 337.1,676.3 338.4,693.2 339.6,675 340.7,667.5 342.2,675 344.2,682.8 346.1,684.8 348.1,686.7 349.4,680.9 351.4,675 353.3,669.8 354.6,667 355.9,665.2 357.2,665 358.5,662.6 360.4,660 362.4,660.7 364.4,661.4 366.3,663.3 368.2,665.2 370.2,667.9 372.1,665.9 374.1,668.5 375.4,669.2 376.7,671.8 378,671.6 379.3,669.1 380.6,669.1 381.9,671.1 383.2,671.8 384.5,670.5 385.8,669.4 387.1,669.8 388.5,670.5" fill="none" stroke="#a8acd8" stroke-width="2.0" stroke-linejoin="round" opacity="0.7"/>
<path d="M287.7,671.1 288.3,667.9 290.2,667.9 291.9,663.3 292.9,681.5 293.5,703.6 294.5,675 295.4,651 296.4,656.8 297.4,673.7 298.7,684.1 300,690.6 301.6,690.6 302.9,691.9 303.9,678.9 304.9,690.6 306.2,677.6 307.5,665.2 308.8,673.7 310.1,681.5 311.7,685.4 313,693.2 314.3,680.2 315.3,694.5 316.6,681.5 318.9,665.2 320.1,673.7 321.4,682.8 323.1,691.9 324.7,688 325.7,678.9 327,695.8 328.3,678.9 329.2,664.6 330.3,658.4 331.2,665.9 332.5,676.3 334.4,681.5 335.8,688 337.1,676.3 338.4,693.2 339.6,675 340.7,667.5 342.2,675 344.2,682.8 346.1,684.8 348.1,686.7 349.4,680.9 351.4,675 353.3,669.8 354.6,667 355.9,665.2 357.2,665 358.5,662.6 360.4,660 362.4,660.7 364.4,661.4 366.3,663.3 368.2,665.2 370.2,667.9 372.1,665.9 374.1,668.5 375.4,669.2 376.7,671.8 378,671.6 379.3,669.1 380.6,669.1 381.9,671.1 383.2,671.8 384.5,670.5 385.8,669.4 387.1,669.8 388.5,670.5" fill="none" stroke="#1c268c" stroke-width="0.6" stroke-linejoin="round"/>
<circle cx="330.29" cy="658.36" r="3.55" fill="none" stroke="#ee1c25" stroke-width="0.9"/>
<circle cx="340.3" cy="667.46" r="3.55" fill="none" stroke="#ee1c25" stroke-width="0.9"/>
<path d="M290.48,718.1v-1.2M290.48,637.35v1.2M305.03,718.1v-1.2M305.03,637.35v1.2M319.57,718.1v-1.2M319.57,637.35v1.2M334.11,718.1v-1.2M334.11,637.35v1.2M348.66,718.1v-1.2M348.66,637.35v1.2M363.2,718.1v-1.2M363.2,637.35v1.2M377.75,718.1v-1.2M377.75,637.35v1.2M287.4,637.35h1.2M388.8,637.35h-1.2M287.4,653.5h1.2M388.8,653.5h-1.2M287.4,669.65h1.2M388.8,669.65h-1.2M287.4,685.8h1.2M388.8,685.8h-1.2M287.4,701.95h1.2M388.8,701.95h-1.2M287.4,718.1h1.2M388.8,718.1h-1.2" stroke="#555" stroke-width="0.5" fill="none"/>
<rect x="287.4" y="637.35" width="101.4" height="80.75" fill="none" stroke="#a0a0a0" stroke-width="0.7"/>
<text x="285.1" y="639.75" font-size="8.2" text-anchor="end" fill="#363636">40</text>
<text x="285.1" y="655.9" font-size="8.2" text-anchor="end" fill="#363636">20</text>
<text x="285.1" y="672.05" font-size="8.2" text-anchor="end" fill="#363636">0</text>
<text x="285.1" y="688.2" font-size="8.2" text-anchor="end" fill="#363636">-20</text>
<text x="285.1" y="704.35" font-size="8.2" text-anchor="end" fill="#363636">-40</text>
<text x="285.1" y="720.5" font-size="8.2" text-anchor="end" fill="#363636">-60</text>
<text x="290.48" y="726" font-size="8.3" text-anchor="middle" fill="#363636">0</text>
<text x="305.03" y="726" font-size="8.3" text-anchor="middle" fill="#363636">0.5</text>
<text x="319.57" y="726" font-size="8.3" text-anchor="middle" fill="#363636">1</text>
<text x="334.11" y="726" font-size="8.3" text-anchor="middle" fill="#363636">1.5</text>
<text x="348.66" y="726" font-size="8.3" text-anchor="middle" fill="#363636">2</text>
<text x="363.2" y="726" font-size="8.3" text-anchor="middle" fill="#363636">2.5</text>
<text x="377.75" y="726" font-size="8.3" text-anchor="middle" fill="#363636">3</text>
<text x="337.7" y="632" font-size="10" text-anchor="middle" textLength="16.4" lengthAdjust="spacingAndGlyphs">NT3</text>
<g transform="translate(288.3,734.35)"><ellipse cx="1.3" cy="-1" rx="1.35" ry="0.95" transform="rotate(-20 1.3 -1)" fill="#111"/><path d="M2.45,-1.2 V-5.6 C3.2,-4.6 4.5,-4 4.2,-2.3" fill="none" stroke="#111" stroke-width="0.6"/></g>
<g transform="translate(299.15,734.35)"><ellipse cx="1.3" cy="-1" rx="1.35" ry="0.95" transform="rotate(-20 1.3 -1)" fill="#111"/><path d="M2.45,-1.2 V-5.6 C3.2,-4.6 4.5,-4 4.2,-2.3" fill="none" stroke="#111" stroke-width="0.6"/></g>
<g transform="translate(310,734.35)"><ellipse cx="1.3" cy="-1" rx="1.35" ry="0.95" transform="rotate(-20 1.3 -1)" fill="#111"/><path d="M2.45,-1.2 V-5.6 C3.2,-4.6 4.5,-4 4.2,-2.3" fill="none" stroke="#111" stroke-width="0.6"/></g>
<g transform="translate(320.85,734.35)"><ellipse cx="1.3" cy="-1" rx="1.35" ry="0.95" transform="rotate(-20 1.3 -1)" fill="#111"/><path d="M2.45,-1.2 V-5.6 C3.2,-4.6 4.5,-4 4.2,-2.3" fill="none" stroke="#111" stroke-width="0.6"/></g>
<path d="M319.55,735.55v1h7.4v-1" fill="none" stroke="#1c268c" stroke-width="0.65" opacity="0.75"/>
<g transform="translate(331.7,734.35)"><ellipse cx="1.3" cy="-1" rx="1.35" ry="0.95" transform="rotate(-20 1.3 -1)" fill="#111"/><path d="M2.45,-1.2 V-5.6 C3.2,-4.6 4.5,-4 4.2,-2.3" fill="none" stroke="#111" stroke-width="0.6"/></g>
<path d="M330.4,735.55v1h7.4v-1" fill="none" stroke="#1c268c" stroke-width="0.65" opacity="0.75"/>
<path d="M307.98,764V861.25M315.48,764V861.25M330.49,764V861.25M337.99,764V861.25M345.49,764V861.25M352.99,764V861.25M368,764V861.25M304.3,858.47H371.7M304.3,855.69H371.7M304.3,852.91H371.7M304.3,850.14H371.7M304.3,844.58H371.7M304.3,841.8H371.7M304.3,839.02H371.7M304.3,836.24H371.7M304.3,830.69H371.7M304.3,827.91H371.7M304.3,825.13H371.7M304.3,822.35H371.7M304.3,816.79H371.7M304.3,814.01H371.7M304.3,811.24H371.7M304.3,808.46H371.7M304.3,802.9H371.7M304.3,800.12H371.7M304.3,797.34H371.7M304.3,794.56H371.7M304.3,789.01H371.7M304.3,786.23H371.7M304.3,783.45H371.7M304.3,780.67H371.7M304.3,775.11H371.7M304.3,772.34H371.7M304.3,769.56H371.7M304.3,766.78H371.7" stroke="#ececec" stroke-width="0.45" stroke-dasharray="1 0.6" fill="none"/>
<path d="M322.98,764V861.25M360.5,764V861.25M304.3,777.89H371.7M304.3,791.79H371.7M304.3,805.68H371.7M304.3,819.57H371.7M304.3,833.46H371.7M304.3,847.36H371.7" stroke="#e8e8e8" stroke-width="0.5" fill="none"/>
<path d="M323,782.2L322.9,782.2 322.9,782.7 322.9,783.2 322.9,783.7 322.9,784.2 322.9,784.7 322.9,785.2 322.9,785.7 322.9,786.2 322.9,786.7 322.8,787.2 322.8,787.7 322.8,788.2 322.8,788.7 322.8,789.2 322.8,789.7 322.8,790.2 322.7,790.7 322.7,791.2 322.7,791.8 322.7,792.3 322.6,792.8 322.6,793.3 322.6,793.8 322.5,794.3 322.4,794.8 322.3,795.3 322.2,795.8 322.1,796.3 322,796.8 321.9,797.3 321.7,797.8 321.5,798.3 321.3,798.8 321.1,799.3 320.9,799.8 320.6,800.3 320.3,800.8 320,801.3 319.7,801.8 319.4,802.3 319,802.8 318.6,803.3 318.2,803.8 317.9,804.3 317.4,804.8 317,805.3 316.6,805.8 316.1,806.3 315.7,806.8 315.2,807.3 314.7,807.8 314.3,808.3 313.8,808.8 313.3,809.3 312.8,809.8 312.3,810.3 311.8,810.8 311.3,811.3 310.9,811.8 310.4,812.3 310,812.8 309.6,813.3 309.2,813.8 308.9,814.3 308.6,814.9 308.3,815.4 308,815.9 307.8,816.4 307.7,816.9 307.5,817.4 307.5,817.9 307.4,818.4 307.4,818.9 307.5,819.4 307.6,819.9 307.7,820.4 307.9,820.9 308.2,821.4 308.5,821.9 308.8,822.4 309.2,822.9 309.7,823.4 310.2,823.9 310.7,824.4 311.2,824.9 311.8,825.4 312.4,825.9 313,826.4 313.7,826.9 314.3,827.4 315,827.9 315.6,828.4 316.3,828.9 316.9,829.4 317.5,829.9 318.1,830.4 318.7,830.9 319.3,831.4 319.8,831.9 320.2,832.4 320.7,832.9 321,833.4 321.4,833.9 321.6,834.4 321.9,834.9 322.1,835.4 322.2,835.9 322.4,836.4 322.5,836.9 322.5,837.5 322.6,838 322.7,838.5 322.7,839 322.7,839.5 322.8,840 322.8,840.5 322.8,841 322.8,841.5 322.8,842 322.9,842.5 322.9,843 322.9,843.5 322.9,844 322.9,844.5 322.9,845 322.9,845.5 323,845.5Z" fill="#0000cd"/>
<path d="M330.5,810.7h0M329.9,830.3h0M327.2,811.4h0M327.4,817.7h0M331.8,811.1h0M333,812.5h0M330.2,803h0M331.2,801.1h0M330,799.3h0M330.5,822.1h0M327.7,820.8h0M331.5,815.8h0M332.6,819.4h0M328.9,807.9h0M326.9,812.8h0M327.8,812.2h0M326.8,807.3h0M328.4,819.8h0M329.3,821.9h0M329.7,818.8h0M328.8,815.3h0M332.9,798.6h0M329.8,808.1h0M331.3,793.6h0M332.1,834.3h0M330,804.7h0M328.4,806.2h0M332.7,818.4h0M329,821.8h0M329.5,823.1h0M332.8,812h0M332.9,822.6h0M327.2,835.5h0M328.5,817.9h0M333,808.9h0M332.8,822.7h0M331.1,806h0M326.9,821.1h0M328,826.9h0M327.4,827.3h0M333.1,808.1h0M327.9,808.8h0M330.6,821.7h0M328.8,834h0M330.9,810h0M330.7,829.6h0M332.8,792.4h0M327.8,790.7h0M332.7,802.2h0M329.8,805.2h0M332.4,824.2h0M332.8,816.5h0M330.2,826.2h0M328.1,814.2h0M330.8,791.9h0M332.1,804.2h0M330.2,809.8h0M330.6,835.8h0M332.5,827.9h0M328,826.8h0M327.8,822.8h0M330.9,839.7h0M329.8,829.1h0M331.2,836.5h0M329.1,825.9h0M327.8,805.4h0M327.4,823.5h0M332.7,797.2h0M330.8,825h0M330.7,796.4h0" stroke="#2232de" stroke-width="1.05" stroke-linecap="round" opacity="0.85"/>
<circle cx="322.98" cy="817.01" r="1.05" fill="#0a0a3a"/>
<path d="M360.5,794.6L360.4,794.6 360.4,795.1 360.4,795.6 360.4,796.2 360.3,796.7 360.3,797.2 360.3,797.7 360.2,798.2 360.2,798.7 360.2,799.2 360.1,799.7 360,800.2 360,800.7 359.9,801.2 359.8,801.7 359.8,802.2 359.7,802.7 359.6,803.2 359.5,803.7 359.4,804.2 359.3,804.7 359.2,805.2 359,805.7 358.9,806.3 358.7,806.8 358.5,807.3 358.3,807.8 358,808.3 357.7,808.8 357.3,809.3 356.8,809.8 356.3,810.3 355.7,810.8 355,811.3 354.3,811.8 353.4,812.3 352.5,812.8 351.6,813.3 350.5,813.8 349.5,814.3 348.4,814.8 347.3,815.3 346.2,815.8 345.1,816.3 344,816.9 343.1,817.4 342.2,817.9 341.5,818.4 340.9,818.9 340.5,819.4 340.2,819.9 340.1,820.4 340.1,820.9 340.3,821.4 340.7,821.9 341.1,822.4 341.7,822.9 342.4,823.4 343.1,823.9 343.9,824.4 344.8,824.9 345.7,825.4 346.6,825.9 347.6,826.4 348.5,826.9 349.5,827.5 350.4,828 351.3,828.5 352.2,829 353,829.5 353.7,830 354.4,830.5 355.1,831 355.7,831.5 356.2,832 356.7,832.5 357.1,833 357.5,833.5 357.8,834 358.1,834.5 358.4,835 358.6,835.5 358.8,836 359,836.5 359.2,837 359.4,837.6 359.6,838.1 359.7,838.6 359.8,839.1 359.9,839.6 360,840.1 360.1,840.6 360.2,841.1 360.2,841.6 360.3,842.1 360.5,842.1Z" fill="#0000cd"/>
<path d="M367.3,816.8h0M365.8,822.6h0M369.9,817.2h0M367,812.6h0M364.9,820.7h0M366.1,816.7h0M369.5,822.1h0M366.3,807.4h0M366.3,820.5h0M369.7,819.8h0M364.5,820.8h0M368.5,812.6h0M364.6,821.3h0M367.8,815h0M365,818.5h0M369.2,813h0M367.2,806.8h0M366.5,806.6h0M364.4,836.3h0M367.6,817h0M368.1,803.8h0M369.1,827h0M365.2,815.3h0M367.8,825.6h0M365.8,834.6h0M365.9,829.5h0M370.3,811.6h0M369.2,832.1h0M367.2,817.6h0M370,821.8h0M367.6,813.8h0M364.6,822.1h0M368.2,824.1h0M368.6,822h0M366.4,812.5h0M365.1,826h0M366.7,829.6h0M369.5,831.8h0M366.8,835.2h0M366,827.9h0M364.9,808.2h0M368,824.5h0M366.7,818h0M368.8,818.3h0M364.4,803.4h0M369.4,807.3h0M365.7,813.4h0M364.6,812.4h0M366.1,823.3h0M365.9,827.4h0M366.1,811.5h0M367.5,824.5h0M367.5,810.7h0M366.5,824h0M367.8,820.4h0M365.4,825.7h0M370,802.7h0M366.9,812.6h0M366.3,832.2h0M365.5,817.2h0M369.1,821.9h0M367.9,815.6h0M366.4,806.1h0M367.2,833.1h0M368.3,804.2h0M368.7,828h0M368.9,821.6h0M366.9,833.3h0M369.4,824.1h0M367.1,818.3h0" stroke="#2232de" stroke-width="1.05" stroke-linecap="round" opacity="0.85"/>
<circle cx="360.5" cy="819.72" r="1.05" fill="#0a0a3a"/>
<path d="M322.98,861.25v-1.2M322.98,764v1.2M360.5,861.25v-1.2M360.5,764v1.2M304.3,764h1.2M371.7,764h-1.2M304.3,777.89h1.2M371.7,777.89h-1.2M304.3,791.79h1.2M371.7,791.79h-1.2M304.3,805.68h1.2M371.7,805.68h-1.2M304.3,819.57h1.2M371.7,819.57h-1.2M304.3,833.46h1.2M371.7,833.46h-1.2M304.3,847.36h1.2M371.7,847.36h-1.2M304.3,861.25h1.2M371.7,861.25h-1.2" stroke="#555" stroke-width="0.5" fill="none"/>
<rect x="304.3" y="764" width="67.4" height="97.25" fill="none" stroke="#a0a0a0" stroke-width="0.7"/>
<text transform="translate(302.1 767.5) scale(0.92 1)" font-size="8.8" text-anchor="end" fill="#363636">200</text>
<text transform="translate(302.1 781.39) scale(0.92 1)" font-size="8.8" text-anchor="end" fill="#363636">150</text>
<text transform="translate(302.1 795.29) scale(0.92 1)" font-size="8.8" text-anchor="end" fill="#363636">100</text>
<text transform="translate(302.1 809.18) scale(0.92 1)" font-size="8.8" text-anchor="end" fill="#363636">50</text>
<text transform="translate(302.1 823.07) scale(0.92 1)" font-size="8.8" text-anchor="end" fill="#363636">0</text>
<text transform="translate(302.1 836.96) scale(0.92 1)" font-size="8.8" text-anchor="end" fill="#363636">-50</text>
<text transform="translate(302.1 850.86) scale(0.92 1)" font-size="8.8" text-anchor="end" fill="#363636">-100</text>
<text transform="translate(302.1 864.75) scale(0.92 1)" font-size="8.8" text-anchor="end" fill="#363636">-150</text>
<text transform="translate(322.98 868.5) scale(0.92 1)" font-size="8.8" text-anchor="middle" fill="#363636">4</text>
<text transform="translate(360.5 868.5) scale(0.92 1)" font-size="8.8" text-anchor="middle" fill="#363636">5</text>
<text x="338" y="763.4" font-size="10.5" text-anchor="middle" font-weight="bold" fill="#000" stroke="#000" stroke-width="0.35">*</text>
<text x="599.75" y="615.1" font-size="10.3" text-anchor="middle" font-weight="bold" fill="#000" textLength="109.4" lengthAdjust="spacingAndGlyphs" stroke="#000" stroke-width="0.5">Anterior cingulate gyrus</text>
<path d="M435.48,637.35V718.1M441.33,637.35V718.1M444.26,637.35V718.1M447.19,637.35V718.1M450.12,637.35V718.1M455.98,637.35V718.1M458.91,637.35V718.1M461.84,637.35V718.1M464.76,637.35V718.1M470.62,637.35V718.1M473.55,637.35V718.1M476.48,637.35V718.1M479.41,637.35V718.1M485.27,637.35V718.1M488.2,637.35V718.1M491.12,637.35V718.1M494.05,637.35V718.1M499.91,637.35V718.1M502.84,637.35V718.1M505.77,637.35V718.1M508.7,637.35V718.1M514.55,637.35V718.1M517.48,637.35V718.1M520.41,637.35V718.1M523.34,637.35V718.1M529.2,637.35V718.1M532.13,637.35V718.1M535.06,637.35V718.1M435.3,714.06H537.4M435.3,710.02H537.4M435.3,705.99H537.4M435.3,697.91H537.4M435.3,693.88H537.4M435.3,689.84H537.4M435.3,681.76H537.4M435.3,677.73H537.4M435.3,673.69H537.4M435.3,665.61H537.4M435.3,661.58H537.4M435.3,657.54H537.4M435.3,649.46H537.4M435.3,645.43H537.4M435.3,641.39H537.4" stroke="#ececec" stroke-width="0.45" stroke-dasharray="1 0.6" fill="none"/>
<path d="M438.4,637.35V718.1M453.05,637.35V718.1M467.69,637.35V718.1M482.34,637.35V718.1M496.98,637.35V718.1M511.63,637.35V718.1M526.27,637.35V718.1M435.3,653.5H537.4M435.3,669.65H537.4M435.3,685.8H537.4M435.3,701.95H537.4" stroke="#e8e8e8" stroke-width="0.5" fill="none"/>
<g transform="translate(494.9,687.1)"><path d="M0.3,7.5 C0.3,4 3,1.2 7,0.5 C11,-0.1 15.5,0.5 18,2.8 C19.8,4.5 20.2,7 19.4,8.8 C18.6,10.2 16.8,10.6 15,10.9 C13.5,11.2 12.5,11.6 11.5,12.3 C10.5,13.2 9,13.2 8.3,12.4 C6.5,11.9 4,11.6 2.3,10.6 C1,9.8 0.3,8.8 0.3,7.5 Z" fill="url(#glat)" stroke="#454545" stroke-width="0.9"/><path d="M10.4,6.5Q9.3,7 8.1,7.1M5.6,4.9Q4.3,6 4.3,7.8M3.9,8.5Q4.2,9.9 3,9.8M11.8,7Q12.5,6.6 13.1,7.7M3.8,3.7Q4.9,4.3 6.3,3.9M10.3,6.2Q10.2,7.2 10.3,9M19.2,10.3Q17.7,10.5 16.7,11.7M7.5,1.4Q7.2,2 5.8,2.9M16.4,9.5Q18,9.5 18.3,9.6M16.3,5Q18.1,4.9 19,5.6M4.9,4.5Q2.8,4.3 1.9,4.8M4.4,1.5Q3.7,2 2.9,2.6M3.8,7.9Q4.4,8.3 6.3,9M7,3.9Q5.1,4.7 3.9,4.2M6.6,4.6Q4.7,6 4.1,5.9M6.2,3.2Q5.1,3.3 4.6,4.7M2.5,6.1Q3.2,7 4.4,8M17.7,4.5Q16.8,5.5 17,7.7M15.9,8.6Q16.9,10 17.2,9.9M6.4,10Q5,9.9 3.9,11M1.6,9.7Q2.2,11.2 3.7,11.6M10.3,3.5Q10.9,3.9 12.8,5.1" clip-path="url(#cl)" fill="none" stroke="#666" stroke-width="0.5"/></g>
<g transform="translate(535.7,687.1) scale(-1,1)"><path d="M0.3,7.5 C0.3,4 3,1.2 7,0.5 C11,-0.1 15.5,0.5 18,2.8 C19.8,4.5 20.2,7 19.4,8.8 C18.6,10.2 16.8,10.6 15,10.9 C13.5,11.2 12.5,11.6 11.5,12.3 C10.5,13.2 9,13.2 8.3,12.4 C6.5,11.9 4,11.6 2.3,10.6 C1,9.8 0.3,8.8 0.3,7.5 Z" fill="url(#glat)" stroke="#454545" stroke-width="0.9"/><path d="M10.4,6.5Q9.3,7 8.1,7.1M5.6,4.9Q4.3,6 4.3,7.8M3.9,8.5Q4.2,9.9 3,9.8M11.8,7Q12.5,6.6 13.1,7.7M3.8,3.7Q4.9,4.3 6.3,3.9M10.3,6.2Q10.2,7.2 10.3,9M19.2,10.3Q17.7,10.5 16.7,11.7M7.5,1.4Q7.2,2 5.8,2.9M16.4,9.5Q18,9.5 18.3,9.6M16.3,5Q18.1,4.9 19,5.6M4.9,4.5Q2.8,4.3 1.9,4.8M4.4,1.5Q3.7,2 2.9,2.6M3.8,7.9Q4.4,8.3 6.3,9M7,3.9Q5.1,4.7 3.9,4.2M6.6,4.6Q4.7,6 4.1,5.9M6.2,3.2Q5.1,3.3 4.6,4.7M2.5,6.1Q3.2,7 4.4,8M17.7,4.5Q16.8,5.5 17,7.7M15.9,8.6Q16.9,10 17.2,9.9M6.4,10Q5,9.9 3.9,11M1.6,9.7Q2.2,11.2 3.7,11.6M10.3,3.5Q10.9,3.9 12.8,5.1" clip-path="url(#cl)" fill="none" stroke="#666" stroke-width="0.5"/></g>
<g transform="translate(514.9,701.45) scale(-1,1)"><path d="M0.4,8.3 C0.3,5 2.5,2.2 6.5,1 C10,0 14.5,0.3 17.3,2.3 C19.6,4 20.2,7 19.4,9 C18.7,10.3 17.2,10.9 15.6,11.3 C14.9,12.5 13.8,13.5 12.6,13.6 C11.3,13.7 10.6,12.8 10.1,12.1 C8,12 5,11.9 3,11.2 C1.4,10.6 0.5,9.6 0.4,8.3 Z" fill="url(#gmed)" stroke="#707070" stroke-width="0.8"/><path d="M4.5,8 C5.5,4.8 9,3.6 12,3.8 C15,4.1 16.5,5.8 16.5,7.8 C14,7 11,6.8 8,7.3 C6.5,7.6 5.2,7.8 4.5,8 Z" fill="#cbcbcb"/><path d="M11.3,8.7L10.6,10.5M15.7,3.4L17.6,3.5M8.3,1.5L10,2.6M10.6,1.5L11.7,4M18.4,6.8L17,8.7M2.8,1.8L5.7,1.9M12,10.6L14.4,10.7M8.9,7.2L10.5,9.7M4.2,5.6L2.2,7.7M14.9,7.3L12.6,9.1" clip-path="url(#cm)" fill="none" stroke="#8c8c8c" stroke-width="0.45"/><path d="M9.8,11.6 C10.8,12.8 12.5,13.2 14.5,11.8 C13.5,11 11.5,10.8 9.8,11.6 Z" fill="#808080"/><path d="M6.2,5.4 C4.8,5 3.3,5.2 1.6,6 C1,7.2 1.2,8.2 1.8,8.8 C1.2,9.4 1.4,10.2 2.6,10.3 C4,10.4 5.4,10 6.2,9.6 C5.3,8.6 5.3,7.4 6.2,5.4 Z" fill="#f01c1c"/></g>
<g transform="translate(515.7,701.45)"><path d="M0.4,8.3 C0.3,5 2.5,2.2 6.5,1 C10,0 14.5,0.3 17.3,2.3 C19.6,4 20.2,7 19.4,9 C18.7,10.3 17.2,10.9 15.6,11.3 C14.9,12.5 13.8,13.5 12.6,13.6 C11.3,13.7 10.6,12.8 10.1,12.1 C8,12 5,11.9 3,11.2 C1.4,10.6 0.5,9.6 0.4,8.3 Z" fill="url(#gmed)" stroke="#707070" stroke-width="0.8"/><path d="M4.5,8 C5.5,4.8 9,3.6 12,3.8 C15,4.1 16.5,5.8 16.5,7.8 C14,7 11,6.8 8,7.3 C6.5,7.6 5.2,7.8 4.5,8 Z" fill="#cbcbcb"/><path d="M11.3,8.7L10.6,10.5M15.7,3.4L17.6,3.5M8.3,1.5L10,2.6M10.6,1.5L11.7,4M18.4,6.8L17,8.7M2.8,1.8L5.7,1.9M12,10.6L14.4,10.7M8.9,7.2L10.5,9.7M4.2,5.6L2.2,7.7M14.9,7.3L12.6,9.1" clip-path="url(#cm)" fill="none" stroke="#8c8c8c" stroke-width="0.45"/><path d="M9.8,11.6 C10.8,12.8 12.5,13.2 14.5,11.8 C13.5,11 11.5,10.8 9.8,11.6 Z" fill="#808080"/><path d="M6.2,5.4 C4.8,5 3.3,5.2 1.6,6 C1,7.2 1.2,8.2 1.8,8.8 C1.2,9.4 1.4,10.2 2.6,10.3 C4,10.4 5.4,10 6.2,9.6 C5.3,8.6 5.3,7.4 6.2,5.4 Z" fill="#f01c1c"/></g>
<path d="M435.6,667.9 436.3,669.8 437.6,670.5 438.9,668.5 440.2,664.6 440.9,675 441.5,688 442.5,668.5 443.4,660 444.4,675 445.4,668.5 447.4,657.5 448.6,661.4 449.9,664 451.2,669.8 452.6,671.1 454.2,673.7 455.8,676.3 456.8,684.1 457.8,676.3 459.1,669.8 460.4,668.5 461.6,664.6 462.9,662 464.2,665.9 465.6,669.8 466.9,677.3 468.1,669.8 470.1,667.2 472.1,665.9 473.7,660 474.6,663.3 475.9,666.5 477.2,675.6 478.6,668.5 480.5,667.9 482.4,667.2 484.4,664 485.7,665.2 487,667.2 488.3,676 489.6,669.8 490.9,667.2 492.2,665.2 494.1,666.5 496.1,664 497.4,663.1 498.7,663.3 500,664 501.3,663.3 503.2,662.6 505.2,662 507.1,665.9 509.1,669.8 510.4,669.1 511.7,670.5 513,671.6 514.3,671.1 515.6,670.3 516.9,671.8 518.2,672.2 519.5,670.5 520.8,670.5 522.1,672.4 523.4,672 524.7,669.1 526,669.9 527.3,671.8 528.6,671.9 529.9,670.5 531.2,669.9 532.5,671.1 533.8,671.3 535.1,670.5 537.1,673" fill="none" stroke="#b0d4e6" stroke-width="2.0" stroke-linejoin="round" opacity="0.7"/>
<path d="M435.6,667.9 436.3,669.8 437.6,670.5 438.9,668.5 440.2,664.6 440.9,675 441.5,688 442.5,668.5 443.4,660 444.4,675 445.4,668.5 447.4,657.5 448.6,661.4 449.9,664 451.2,669.8 452.6,671.1 454.2,673.7 455.8,676.3 456.8,684.1 457.8,676.3 459.1,669.8 460.4,668.5 461.6,664.6 462.9,662 464.2,665.9 465.6,669.8 466.9,677.3 468.1,669.8 470.1,667.2 472.1,665.9 473.7,660 474.6,663.3 475.9,666.5 477.2,675.6 478.6,668.5 480.5,667.9 482.4,667.2 484.4,664 485.7,665.2 487,667.2 488.3,676 489.6,669.8 490.9,667.2 492.2,665.2 494.1,666.5 496.1,664 497.4,663.1 498.7,663.3 500,664 501.3,663.3 503.2,662.6 505.2,662 507.1,665.9 509.1,669.8 510.4,669.1 511.7,670.5 513,671.6 514.3,671.1 515.6,670.3 516.9,671.8 518.2,672.2 519.5,670.5 520.8,670.5 522.1,672.4 523.4,672 524.7,669.1 526,669.9 527.3,671.8 528.6,671.9 529.9,670.5 531.2,669.9 532.5,671.1 533.8,671.3 535.1,670.5 537.1,673" fill="none" stroke="#3c8ab6" stroke-width="0.6" stroke-linejoin="round"/>
<circle cx="456.71" cy="684.1" r="3.55" fill="none" stroke="#ee1c25" stroke-width="0.9"/>
<circle cx="467.5" cy="677.34" r="3.55" fill="none" stroke="#ee1c25" stroke-width="0.9"/>
<circle cx="477.9" cy="675.65" r="3.55" fill="none" stroke="#ee1c25" stroke-width="0.9"/>
<circle cx="488.69" cy="676.04" r="3.55" fill="none" stroke="#ee1c25" stroke-width="0.9"/>
<path d="M438.4,718.1v-1.2M438.4,637.35v1.2M453.05,718.1v-1.2M453.05,637.35v1.2M467.69,718.1v-1.2M467.69,637.35v1.2M482.34,718.1v-1.2M482.34,637.35v1.2M496.98,718.1v-1.2M496.98,637.35v1.2M511.63,718.1v-1.2M511.63,637.35v1.2M526.27,718.1v-1.2M526.27,637.35v1.2M435.3,637.35h1.2M537.4,637.35h-1.2M435.3,653.5h1.2M537.4,653.5h-1.2M435.3,669.65h1.2M537.4,669.65h-1.2M435.3,685.8h1.2M537.4,685.8h-1.2M435.3,701.95h1.2M537.4,701.95h-1.2M435.3,718.1h1.2M537.4,718.1h-1.2" stroke="#555" stroke-width="0.5" fill="none"/>
<rect x="435.3" y="637.35" width="102.1" height="80.75" fill="none" stroke="#a0a0a0" stroke-width="0.7"/>
<text x="433" y="639.75" font-size="8.2" text-anchor="end" fill="#363636">40</text>
<text x="433" y="655.9" font-size="8.2" text-anchor="end" fill="#363636">20</text>
<text x="433" y="672.05" font-size="8.2" text-anchor="end" fill="#363636">0</text>
<text x="433" y="688.2" font-size="8.2" text-anchor="end" fill="#363636">-20</text>
<text x="433" y="704.35" font-size="8.2" text-anchor="end" fill="#363636">-40</text>
<text x="433" y="720.5" font-size="8.2" text-anchor="end" fill="#363636">-60</text>
<text x="438.4" y="726" font-size="8.3" text-anchor="middle" fill="#363636">0</text>
<text x="453.05" y="726" font-size="8.3" text-anchor="middle" fill="#363636">0.5</text>
<text x="467.69" y="726" font-size="8.3" text-anchor="middle" fill="#363636">1</text>
<text x="482.34" y="726" font-size="8.3" text-anchor="middle" fill="#363636">1.5</text>
<text x="496.98" y="726" font-size="8.3" text-anchor="middle" fill="#363636">2</text>
<text x="511.63" y="726" font-size="8.3" text-anchor="middle" fill="#363636">2.5</text>
<text x="526.27" y="726" font-size="8.3" text-anchor="middle" fill="#363636">3</text>
<text x="485.95" y="632" font-size="10" text-anchor="middle" textLength="16.4" lengthAdjust="spacingAndGlyphs">NT1</text>
<g transform="translate(436.2,734.35)"><ellipse cx="1.3" cy="-1" rx="1.35" ry="0.95" transform="rotate(-20 1.3 -1)" fill="#111"/><path d="M2.45,-1.2 V-5.6 C3.2,-4.6 4.5,-4 4.2,-2.3" fill="none" stroke="#111" stroke-width="0.6"/></g>
<g transform="translate(447.05,734.35)"><ellipse cx="1.3" cy="-1" rx="1.35" ry="0.95" transform="rotate(-20 1.3 -1)" fill="#111"/><path d="M2.45,-1.2 V-5.6 C3.2,-4.6 4.5,-4 4.2,-2.3" fill="none" stroke="#111" stroke-width="0.6"/></g>
<path d="M445.75,735.55v1h7.4v-1" fill="none" stroke="#3c8ab6" stroke-width="0.65" opacity="0.75"/>
<g transform="translate(457.9,734.35)"><ellipse cx="1.3" cy="-1" rx="1.35" ry="0.95" transform="rotate(-20 1.3 -1)" fill="#111"/><path d="M2.45,-1.2 V-5.6 C3.2,-4.6 4.5,-4 4.2,-2.3" fill="none" stroke="#111" stroke-width="0.6"/></g>
<path d="M456.6,735.55v1h7.4v-1" fill="none" stroke="#3c8ab6" stroke-width="0.65" opacity="0.75"/>
<g transform="translate(468.75,734.35)"><ellipse cx="1.3" cy="-1" rx="1.35" ry="0.95" transform="rotate(-20 1.3 -1)" fill="#111"/><path d="M2.45,-1.2 V-5.6 C3.2,-4.6 4.5,-4 4.2,-2.3" fill="none" stroke="#111" stroke-width="0.6"/></g>
<path d="M467.45,735.55v1h7.4v-1" fill="none" stroke="#3c8ab6" stroke-width="0.65" opacity="0.75"/>
<g transform="translate(479.6,734.35)"><ellipse cx="1.3" cy="-1" rx="1.35" ry="0.95" transform="rotate(-20 1.3 -1)" fill="#111"/><path d="M2.45,-1.2 V-5.6 C3.2,-4.6 4.5,-4 4.2,-2.3" fill="none" stroke="#111" stroke-width="0.6"/></g>
<path d="M478.3,735.55v1h7.4v-1" fill="none" stroke="#3c8ab6" stroke-width="0.65" opacity="0.75"/>
<text x="486.5" y="746.65" font-size="9.5" text-anchor="middle" textLength="31.6" lengthAdjust="spacingAndGlyphs">Time (s)</text>
<text x="415.6" y="678.95" font-size="9.4" text-anchor="middle" textLength="84.7" lengthAdjust="spacingAndGlyphs" transform="rotate(-90 415.6 678.95)">Neural activity index</text>
<path d="M452.9,764V861.25M456.07,764V861.25M459.23,764V861.25M462.4,764V861.25M468.72,764V861.25M471.89,764V861.25M475.05,764V861.25M478.21,764V861.25M484.54,764V861.25M487.71,764V861.25M490.87,764V861.25M494.03,764V861.25M500.36,764V861.25M503.53,764V861.25M506.69,764V861.25M509.85,764V861.25M516.18,764V861.25M519.34,764V861.25M452.5,856.39H520.4M452.5,851.52H520.4M452.5,846.66H520.4M452.5,836.94H520.4M452.5,832.08H520.4M452.5,827.21H520.4M452.5,817.49H520.4M452.5,812.62H520.4M452.5,807.76H520.4M452.5,798.04H520.4M452.5,793.17H520.4M452.5,788.31H520.4M452.5,778.59H520.4M452.5,773.73H520.4M452.5,768.86H520.4" stroke="#ececec" stroke-width="0.45" stroke-dasharray="1 0.6" fill="none"/>
<path d="M465.56,764V861.25M481.6,764V861.25M497.2,764V861.25M513.02,764V861.25M452.5,783.45H520.4M452.5,802.9H520.4M452.5,822.35H520.4M452.5,841.8H520.4" stroke="#e8e8e8" stroke-width="0.5" fill="none"/>
<path d="M465.6,778.8L465.5,778.8 465.5,779.3 465.5,779.8 465.5,780.3 465.5,780.8 465.4,781.3 465.4,781.8 465.4,782.3 465.4,782.8 465.4,783.3 465.4,783.8 465.3,784.3 465.3,784.8 465.3,785.3 465.3,785.8 465.2,786.4 465.2,786.9 465.1,787.4 465,787.9 465,788.4 464.9,788.9 464.8,789.4 464.7,789.9 464.6,790.4 464.4,790.9 464.3,791.4 464.1,791.9 464,792.4 463.8,792.9 463.6,793.4 463.4,793.9 463.2,794.4 463,794.9 462.8,795.4 462.5,795.9 462.3,796.4 462,796.9 461.8,797.4 461.5,797.9 461.3,798.4 461,798.9 460.8,799.4 460.6,799.9 460.3,800.4 460.1,800.9 459.9,801.4 459.7,801.9 459.5,802.4 459.3,802.9 459.1,803.4 459,803.9 458.9,804.4 458.8,804.9 458.7,805.4 458.6,805.9 458.6,806.4 458.6,806.9 458.6,807.4 458.6,807.9 458.7,808.4 458.7,809 458.8,809.5 458.9,810 459,810.5 459.1,811 459.2,811.5 459.3,812 459.4,812.5 459.5,813 459.6,813.5 459.8,814 459.9,814.5 460.1,815 460.2,815.5 460.4,816 460.5,816.5 460.7,817 460.8,817.5 461,818 461.2,818.5 461.4,819 461.6,819.5 461.8,820 462,820.5 462.2,821 462.4,821.5 462.6,822 462.8,822.5 462.9,823 463.1,823.5 463.3,824 463.4,824.5 463.6,825 463.7,825.5 463.9,826 464,826.5 464.1,827 464.3,827.5 464.4,828 464.5,828.5 464.6,829 464.7,829.5 464.7,830 464.8,830.5 464.9,831 464.9,831.5 465,832.1 465,832.6 465.1,833.1 465.1,833.6 465.2,834.1 465.2,834.6 465.2,835.1 465.3,835.6 465.3,836.1 465.3,836.6 465.3,837.1 465.3,837.6 465.4,838.1 465.4,838.6 465.4,839.1 465.4,839.6 465.4,840.1 465.4,840.6 465.4,841.1 465.4,841.6 465.4,842.1 465.4,842.6 465.4,843.1 465.4,843.6 465.4,844.1 465.4,844.6 465.4,845.1 465.4,845.6 465.4,846.1 465.5,846.6 465.5,847.1 465.5,847.6 465.5,848.1 465.5,848.6 465.5,849.1 465.5,849.6 465.5,850.1 465.5,850.6 465.5,851.1 465.5,851.6 465.5,852.1 465.5,852.6 465.5,853.1 465.5,853.6 465.5,854.1 465.5,854.7 465.5,855.2 465.5,855.7 465.6,855.7Z" fill="#0000cd"/>
<path d="M468.7,797.9h0M468.2,801.2h0M468.9,809.7h0M469.8,794.3h0M467.7,816.2h0M469.6,804.4h0M468.7,818.6h0M468.1,803.5h0M468.4,822.4h0M468.1,801.2h0M468.2,812.7h0M468.9,792.2h0M468.3,796h0M468.6,803.8h0M468.1,802.9h0M469.8,826.1h0M468.4,808.2h0M469,816.6h0M468.6,804.9h0M469.7,818.1h0M468.1,806.8h0M469.4,823.1h0M468.8,805.4h0M468.9,817.1h0M469.2,800.2h0M469.2,799.5h0M469,833.8h0M469.7,835.3h0M468.3,825h0M469.4,828.4h0M468.4,816.2h0M468.2,791.2h0M468.8,804.7h0M467.5,811.5h0M469.4,805.9h0M467.4,809h0M469.6,811.8h0M468.7,806.7h0M468.9,819.9h0M467.4,841.3h0M467.7,816.7h0M469.3,815.3h0M469.3,810.5h0M468.7,795.1h0M468.8,823h0M468.1,815.7h0M468.4,801.4h0M468.9,803.4h0M468.2,796.5h0M468.5,796.9h0M468,817.9h0M468.8,809.5h0M469.1,806h0M469.5,825.2h0M469.1,808.7h0M468.2,806.9h0M468.4,812.9h0M469.6,798h0M469.5,798.3h0M467.8,819.3h0M467.7,819.1h0M469,828.4h0M467.4,822h0M469.6,818.6h0M469.4,824.2h0M467.9,814.4h0M468.8,807.3h0M468.4,798.7h0M467.5,809.7h0M469.6,829.7h0" stroke="#2232de" stroke-width="1.05" stroke-linecap="round" opacity="0.85"/>
<circle cx="465.56" cy="811.02" r="1.05" fill="#0a0a3a"/>
<path d="M481.6,768.6L481.6,768.6 481.6,769.2 481.6,769.7 481.5,770.2 481.5,770.7 481.5,771.2 481.5,771.7 481.5,772.2 481.5,772.7 481.5,773.2 481.5,773.7 481.5,774.2 481.4,774.7 481.4,775.2 481.4,775.7 481.4,776.2 481.4,776.7 481.4,777.2 481.4,777.7 481.3,778.2 481.3,778.7 481.3,779.2 481.3,779.7 481.3,780.2 481.3,780.7 481.3,781.2 481.2,781.7 481.2,782.2 481.2,782.7 481.2,783.2 481.2,783.7 481.1,784.2 481.1,784.7 481,785.2 481,785.7 480.9,786.2 480.8,786.7 480.7,787.2 480.7,787.7 480.6,788.2 480.4,788.7 480.3,789.2 480.2,789.7 480.1,790.2 480,790.7 479.8,791.2 479.7,791.7 479.5,792.2 479.3,792.7 479.1,793.2 478.9,793.7 478.7,794.2 478.4,794.7 478.2,795.2 477.9,795.7 477.7,796.2 477.4,796.7 477.2,797.2 476.9,797.7 476.7,798.2 476.5,798.7 476.2,799.2 476,799.7 475.8,800.2 475.5,800.7 475.3,801.2 475.1,801.7 474.9,802.2 474.8,802.7 474.6,803.2 474.5,803.7 474.4,804.2 474.3,804.7 474.2,805.2 474.1,805.7 474.1,806.2 474.1,806.7 474,807.2 474.1,807.7 474.1,808.2 474.1,808.7 474.2,809.2 474.2,809.7 474.3,810.2 474.4,810.7 474.5,811.2 474.6,811.7 474.8,812.2 474.9,812.7 475.1,813.2 475.2,813.7 475.4,814.2 475.6,814.7 475.8,815.2 476,815.7 476.2,816.2 476.4,816.7 476.6,817.2 476.8,817.7 477,818.2 477.2,818.7 477.4,819.2 477.6,819.7 477.8,820.2 478.1,820.7 478.3,821.2 478.5,821.7 478.7,822.2 478.9,822.7 479.1,823.2 479.2,823.7 479.4,824.2 479.6,824.7 479.7,825.2 479.9,825.7 480,826.2 480.2,826.7 480.3,827.2 480.4,827.7 480.5,828.2 480.6,828.7 480.7,829.2 480.8,829.7 480.9,830.2 480.9,830.7 481,831.2 481,831.7 481.1,832.2 481.1,832.7 481.1,833.2 481.2,833.7 481.2,834.2 481.2,834.7 481.3,835.2 481.3,835.7 481.3,836.2 481.3,836.7 481.4,837.2 481.4,837.7 481.4,838.2 481.4,838.7 481.4,839.2 481.4,839.7 481.4,840.2 481.5,840.7 481.5,841.2 481.5,841.7 481.5,842.2 481.5,842.7 481.5,843.2 481.5,843.7 481.5,844.2 481.5,844.7 481.5,845.2 481.6,845.7 481.6,846.2 481.6,846.7 481.6,847.2 481.6,847.7 481.6,847.7Z" fill="#0000cd"/>
<path d="M483.6,803.5h0M485.3,798.7h0M485.8,808.5h0M483.8,804.2h0M484.3,794.3h0M483.8,825.3h0M485.7,832h0M485.2,818h0M485.8,809.6h0M483.9,817.4h0M485.2,816.6h0M483.7,811.7h0M483.5,818.7h0M483.8,799.7h0M484.4,802.5h0M484.4,795.6h0M484.6,796.1h0M484.9,797.7h0M485.1,813.8h0M485.1,797.5h0M484.1,813.3h0M485.3,815.1h0M483.4,793.4h0M485.1,809.8h0M485.8,815.6h0M484.1,801.9h0M485.3,799.7h0M485.2,802.6h0M485.2,779.5h0M485.7,799.4h0M484.7,810.9h0M484.7,803.2h0M485.3,792.5h0M484.8,806.2h0M485.4,780.6h0M483.8,800.5h0M483.7,793.4h0M483.8,802.8h0M485.2,801.6h0M484.8,799.6h0M483.8,797.5h0M485.8,786.7h0M485.7,799.3h0M485.2,790.9h0M485,800.2h0M483.8,817.2h0M484.4,830.2h0M484.1,834.9h0M483.6,808.4h0M485.2,818.9h0M485.1,800.6h0M484.5,801.7h0M484.2,826.7h0M485.7,809.8h0M484.3,803h0M485.4,825.4h0M483.3,791.9h0M484.9,806.6h0M483.8,797.9h0M483.6,802.4h0M485.3,789.2h0M484.4,803.5h0M483.6,818.9h0M484.7,799.8h0M485.2,807.4h0M483.6,813.6h0M483.8,787.5h0M483.3,792.8h0M485.4,818.5h0M484.4,802h0" stroke="#2232de" stroke-width="1.05" stroke-linecap="round" opacity="0.85"/>
<circle cx="481.6" cy="807.97" r="1.05" fill="#0a0a3a"/>
<path d="M497.2,774.3L497.1,774.3 497.1,774.8 497.1,775.3 497.1,775.8 497.1,776.3 497.1,776.8 497.1,777.3 497.1,777.8 497.1,778.3 497,778.8 497,779.3 497,779.8 497,780.3 497,780.8 497,781.3 496.9,781.8 496.9,782.3 496.9,782.8 496.9,783.3 496.9,783.8 496.8,784.3 496.8,784.8 496.8,785.3 496.7,785.8 496.7,786.4 496.6,786.9 496.5,787.4 496.4,787.9 496.3,788.4 496.1,788.9 496,789.4 495.8,789.9 495.6,790.4 495.4,790.9 495.2,791.4 494.9,791.9 494.7,792.4 494.4,792.9 494.1,793.4 493.8,793.9 493.5,794.4 493.1,794.9 492.8,795.4 492.5,795.9 492.1,796.4 491.7,796.9 491.4,797.4 491.1,797.9 490.7,798.4 490.4,798.9 490.1,799.4 489.8,799.9 489.6,800.4 489.3,800.9 489.1,801.4 488.9,801.9 488.8,802.4 488.6,802.9 488.5,803.4 488.5,803.9 488.4,804.4 488.4,804.9 488.4,805.4 488.4,805.9 488.5,806.4 488.5,806.9 488.6,807.4 488.7,807.9 488.8,808.4 489,809 489.1,809.5 489.3,810 489.5,810.5 489.7,811 489.9,811.5 490.1,812 490.3,812.5 490.5,813 490.7,813.5 491,814 491.2,814.5 491.4,815 491.7,815.5 491.9,816 492.2,816.5 492.4,817 492.7,817.5 492.9,818 493.2,818.5 493.4,819 493.7,819.5 493.9,820 494.1,820.5 494.3,821 494.5,821.5 494.7,822 494.9,822.5 495.1,823 495.3,823.5 495.4,824 495.6,824.5 495.8,825 495.9,825.5 496,826 496.2,826.5 496.3,827 496.4,827.5 496.5,828 496.5,828.5 496.6,829 496.7,829.5 496.8,830 496.8,830.5 496.9,831 496.9,831.5 496.9,832.1 497,832.6 497,833.1 497.2,833.1Z" fill="#0000cd"/>
<path d="M499.5,804.8h0M501.3,818.9h0M499.9,823.3h0M499.4,792.4h0M499.3,795.7h0M500.5,803.9h0M499.9,810h0M500.3,789.4h0M500.3,816.7h0M499.4,814.3h0M499.7,823.2h0M500.3,807.9h0M500.4,815.5h0M499.9,810.3h0M500.2,807.3h0M500.4,793.7h0M501.1,782.4h0M501,806.6h0M499.9,793.7h0M500.9,792.9h0M501.3,802.9h0M498.8,807.8h0M499.4,792.1h0M500.7,802.5h0M499.1,812.7h0M500.9,797.4h0M499.2,808.9h0M500.6,805.4h0M499.3,823.5h0M499.8,798.5h0M501.2,804.3h0M499.5,802.3h0M499.6,789.6h0M500.7,795.9h0M499.1,795.1h0M500.5,800.6h0M498.9,815.3h0M499,820.7h0M499.6,791.8h0M501.2,781.2h0M500.4,813.3h0M501.2,813.3h0M499.5,823.8h0M499.4,823.2h0M500.9,801.1h0M500,814h0M499.5,801.7h0M501.2,789.8h0M499.6,805.6h0M501.4,817.9h0M501.3,790.8h0M499.8,816.9h0M500.6,818.2h0M499.5,810.4h0M500.3,809.5h0M499.8,809.9h0M498.8,823.1h0M498.8,816.8h0M500.4,808.2h0M501.4,809.6h0M501.4,823.9h0M500.2,822h0M499.4,807.3h0M500.2,801.2h0M498.8,793.6h0M500.2,808.9h0M501,803.5h0M501.4,789.8h0M499.7,793.1h0M500.6,813.7h0" stroke="#2232de" stroke-width="1.05" stroke-linecap="round" opacity="0.85"/>
<circle cx="497.2" cy="806.16" r="1.05" fill="#0a0a3a"/>
<path d="M513,781.1L512.9,781.1 512.9,781.6 512.9,782.1 512.9,782.6 512.8,783.1 512.8,783.6 512.8,784.1 512.7,784.6 512.7,785.1 512.7,785.6 512.6,786.1 512.6,786.6 512.5,787.1 512.4,787.6 512.3,788.1 512.2,788.6 512.1,789.2 511.9,789.7 511.7,790.2 511.5,790.7 511.3,791.2 511.1,791.7 510.9,792.2 510.6,792.7 510.4,793.2 510.1,793.7 509.8,794.2 509.6,794.7 509.3,795.2 509,795.7 508.7,796.2 508.4,796.7 508.1,797.2 507.8,797.7 507.5,798.2 507.2,798.7 506.9,799.2 506.6,799.7 506.3,800.2 506,800.8 505.7,801.3 505.5,801.8 505.3,802.3 505.1,802.8 504.9,803.3 504.8,803.8 504.6,804.3 504.6,804.8 504.6,805.3 504.6,805.8 504.6,806.3 504.7,806.8 504.8,807.3 504.9,807.8 505,808.3 505.2,808.8 505.4,809.3 505.6,809.8 505.8,810.3 506,810.8 506.2,811.3 506.5,811.8 506.7,812.4 506.9,812.9 507.2,813.4 507.4,813.9 507.6,814.4 507.9,814.9 508.1,815.4 508.3,815.9 508.6,816.4 508.8,816.9 509,817.4 509.3,817.9 509.5,818.4 509.7,818.9 509.9,819.4 510.1,819.9 510.3,820.4 510.5,820.9 510.7,821.4 510.9,821.9 511.1,822.4 511.3,822.9 511.4,823.5 511.6,824 511.7,824.5 511.8,825 512,825.5 512.1,826 512.2,826.5 512.3,827 512.3,827.5 512.4,828 512.5,828.5 512.5,829 512.6,829.5 512.6,830 512.7,830.5 512.7,831 512.8,831.5 512.8,832 512.8,832.5 512.8,833 512.9,833.5 512.9,834 512.9,834.5 512.9,835.1 512.9,835.6 512.9,836.1 513,836.6 513,837.1 513,837.6 513,837.6Z" fill="#0000cd"/>
<path d="M516.5,805.2h0M516.1,807.1h0M515.4,809.6h0M517.2,802.5h0M516.1,811.4h0M516,796.3h0M515.5,803.6h0M515.4,807.4h0M515.7,809.4h0M515.8,814.4h0M516.7,806.8h0M516.1,795.6h0M516.6,813.5h0M517.3,807.1h0M515.3,808.4h0M515.7,793.1h0M517.2,802.4h0M514.8,797.3h0M516.3,811.6h0M515.3,794.8h0M515.7,812.5h0M514.8,807h0M516,805.3h0M515.4,791.3h0M516.2,805.5h0M515.8,815.8h0M517.1,802.2h0M516.2,802.1h0M515.9,808.7h0M517.3,812.9h0M516.8,807.4h0M515.7,805.6h0M515.8,810.4h0M514.9,799h0M515.1,816.9h0M514.7,807.8h0M516.2,804h0M514.7,792.9h0M517.1,801.3h0M515.3,807.4h0M515.7,800.6h0M515.3,798.7h0M515.7,819.1h0M514.7,805.3h0M514.8,814.1h0M515.7,800.8h0M516,820.3h0M514.7,809h0M516.9,815.6h0M514.8,815.3h0M516.2,802.9h0M516.9,807.3h0M515.9,802.1h0M516.3,796.5h0M517,809h0M515.6,825.5h0M517.2,804.4h0M517,827.2h0M516.4,811.9h0M517.1,806.8h0M515.6,801.5h0M515.3,797.2h0M517.3,817.2h0M516.6,809.5h0M516,807.2h0M515.2,815h0M515.2,801.3h0M517,813.8h0M516.7,825h0M516.8,795.5h0" stroke="#2232de" stroke-width="1.05" stroke-linecap="round" opacity="0.85"/>
<circle cx="513.02" cy="806.84" r="1.05" fill="#0a0a3a"/>
<path d="M465.56,861.25v-1.2M465.56,764v1.2M481.6,861.25v-1.2M481.6,764v1.2M497.2,861.25v-1.2M497.2,764v1.2M513.02,861.25v-1.2M513.02,764v1.2M452.5,764h1.2M520.4,764h-1.2M452.5,783.45h1.2M520.4,783.45h-1.2M452.5,802.9h1.2M520.4,802.9h-1.2M452.5,822.35h1.2M520.4,822.35h-1.2M452.5,841.8h1.2M520.4,841.8h-1.2M452.5,861.25h1.2M520.4,861.25h-1.2" stroke="#555" stroke-width="0.5" fill="none"/>
<rect x="452.5" y="764" width="67.9" height="97.25" fill="none" stroke="#a0a0a0" stroke-width="0.7"/>
<text transform="translate(450.3 767.5) scale(0.92 1)" font-size="8.8" text-anchor="end" fill="#363636">80</text>
<text transform="translate(450.3 786.95) scale(0.92 1)" font-size="8.8" text-anchor="end" fill="#363636">40</text>
<text transform="translate(450.3 806.4) scale(0.92 1)" font-size="8.8" text-anchor="end" fill="#363636">0</text>
<text transform="translate(450.3 825.85) scale(0.92 1)" font-size="8.8" text-anchor="end" fill="#363636">-40</text>
<text transform="translate(450.3 845.3) scale(0.92 1)" font-size="8.8" text-anchor="end" fill="#363636">-80</text>
<text transform="translate(450.3 864.75) scale(0.92 1)" font-size="8.8" text-anchor="end" fill="#363636">-120</text>
<text transform="translate(465.56 868.5) scale(0.92 1)" font-size="8.8" text-anchor="middle" fill="#363636">2</text>
<text transform="translate(481.6 868.5) scale(0.92 1)" font-size="8.8" text-anchor="middle" fill="#363636">3</text>
<text transform="translate(497.2 868.5) scale(0.92 1)" font-size="8.8" text-anchor="middle" fill="#363636">4</text>
<text transform="translate(513.02 868.5) scale(0.92 1)" font-size="8.8" text-anchor="middle" fill="#363636">5</text>
<text x="486.45" y="763.4" font-size="10.5" text-anchor="middle" font-weight="bold" fill="#000" stroke="#000" stroke-width="0.35">**</text>
<text x="486.45" y="877.85" font-size="8.6" text-anchor="middle" textLength="15.6" lengthAdjust="spacingAndGlyphs">Tone</text>
<text x="428.4" y="812.62" font-size="9" text-anchor="middle" textLength="80.6" lengthAdjust="spacingAndGlyphs" transform="rotate(-90 428.4 812.62)">Neural activity index</text>
<path d="M564.57,637.35V718.1M570.37,637.35V718.1M573.27,637.35V718.1M576.17,637.35V718.1M579.07,637.35V718.1M584.88,637.35V718.1M587.78,637.35V718.1M590.68,637.35V718.1M593.58,637.35V718.1M599.38,637.35V718.1M602.28,637.35V718.1M605.18,637.35V718.1M608.08,637.35V718.1M613.88,637.35V718.1M616.78,637.35V718.1M619.68,637.35V718.1M622.58,637.35V718.1M628.38,637.35V718.1M631.28,637.35V718.1M634.18,637.35V718.1M637.08,637.35V718.1M642.88,637.35V718.1M645.78,637.35V718.1M648.68,637.35V718.1M651.58,637.35V718.1M657.38,637.35V718.1M660.28,637.35V718.1M663.18,637.35V718.1M564.4,714.06H665.5M564.4,710.02H665.5M564.4,705.99H665.5M564.4,697.91H665.5M564.4,693.88H665.5M564.4,689.84H665.5M564.4,681.76H665.5M564.4,677.73H665.5M564.4,673.69H665.5M564.4,665.61H665.5M564.4,661.58H665.5M564.4,657.54H665.5M564.4,649.46H665.5M564.4,645.43H665.5M564.4,641.39H665.5" stroke="#ececec" stroke-width="0.45" stroke-dasharray="1 0.6" fill="none"/>
<path d="M567.47,637.35V718.1M581.98,637.35V718.1M596.48,637.35V718.1M610.98,637.35V718.1M625.48,637.35V718.1M639.98,637.35V718.1M654.48,637.35V718.1M564.4,653.5H665.5M564.4,669.65H665.5M564.4,685.8H665.5M564.4,701.95H665.5" stroke="#e8e8e8" stroke-width="0.5" fill="none"/>
<g transform="translate(623,687.1)"><path d="M0.3,7.5 C0.3,4 3,1.2 7,0.5 C11,-0.1 15.5,0.5 18,2.8 C19.8,4.5 20.2,7 19.4,8.8 C18.6,10.2 16.8,10.6 15,10.9 C13.5,11.2 12.5,11.6 11.5,12.3 C10.5,13.2 9,13.2 8.3,12.4 C6.5,11.9 4,11.6 2.3,10.6 C1,9.8 0.3,8.8 0.3,7.5 Z" fill="url(#glat)" stroke="#454545" stroke-width="0.9"/><path d="M10.4,6.5Q9.3,7 8.1,7.1M5.6,4.9Q4.3,6 4.3,7.8M3.9,8.5Q4.2,9.9 3,9.8M11.8,7Q12.5,6.6 13.1,7.7M3.8,3.7Q4.9,4.3 6.3,3.9M10.3,6.2Q10.2,7.2 10.3,9M19.2,10.3Q17.7,10.5 16.7,11.7M7.5,1.4Q7.2,2 5.8,2.9M16.4,9.5Q18,9.5 18.3,9.6M16.3,5Q18.1,4.9 19,5.6M4.9,4.5Q2.8,4.3 1.9,4.8M4.4,1.5Q3.7,2 2.9,2.6M3.8,7.9Q4.4,8.3 6.3,9M7,3.9Q5.1,4.7 3.9,4.2M6.6,4.6Q4.7,6 4.1,5.9M6.2,3.2Q5.1,3.3 4.6,4.7M2.5,6.1Q3.2,7 4.4,8M17.7,4.5Q16.8,5.5 17,7.7M15.9,8.6Q16.9,10 17.2,9.9M6.4,10Q5,9.9 3.9,11M1.6,9.7Q2.2,11.2 3.7,11.6M10.3,3.5Q10.9,3.9 12.8,5.1" clip-path="url(#cl)" fill="none" stroke="#666" stroke-width="0.5"/></g>
<g transform="translate(663.8,687.1) scale(-1,1)"><path d="M0.3,7.5 C0.3,4 3,1.2 7,0.5 C11,-0.1 15.5,0.5 18,2.8 C19.8,4.5 20.2,7 19.4,8.8 C18.6,10.2 16.8,10.6 15,10.9 C13.5,11.2 12.5,11.6 11.5,12.3 C10.5,13.2 9,13.2 8.3,12.4 C6.5,11.9 4,11.6 2.3,10.6 C1,9.8 0.3,8.8 0.3,7.5 Z" fill="url(#glat)" stroke="#454545" stroke-width="0.9"/><path d="M10.4,6.5Q9.3,7 8.1,7.1M5.6,4.9Q4.3,6 4.3,7.8M3.9,8.5Q4.2,9.9 3,9.8M11.8,7Q12.5,6.6 13.1,7.7M3.8,3.7Q4.9,4.3 6.3,3.9M10.3,6.2Q10.2,7.2 10.3,9M19.2,10.3Q17.7,10.5 16.7,11.7M7.5,1.4Q7.2,2 5.8,2.9M16.4,9.5Q18,9.5 18.3,9.6M16.3,5Q18.1,4.9 19,5.6M4.9,4.5Q2.8,4.3 1.9,4.8M4.4,1.5Q3.7,2 2.9,2.6M3.8,7.9Q4.4,8.3 6.3,9M7,3.9Q5.1,4.7 3.9,4.2M6.6,4.6Q4.7,6 4.1,5.9M6.2,3.2Q5.1,3.3 4.6,4.7M2.5,6.1Q3.2,7 4.4,8M17.7,4.5Q16.8,5.5 17,7.7M15.9,8.6Q16.9,10 17.2,9.9M6.4,10Q5,9.9 3.9,11M1.6,9.7Q2.2,11.2 3.7,11.6M10.3,3.5Q10.9,3.9 12.8,5.1" clip-path="url(#cl)" fill="none" stroke="#666" stroke-width="0.5"/></g>
<g transform="translate(643,701.45) scale(-1,1)"><path d="M0.4,8.3 C0.3,5 2.5,2.2 6.5,1 C10,0 14.5,0.3 17.3,2.3 C19.6,4 20.2,7 19.4,9 C18.7,10.3 17.2,10.9 15.6,11.3 C14.9,12.5 13.8,13.5 12.6,13.6 C11.3,13.7 10.6,12.8 10.1,12.1 C8,12 5,11.9 3,11.2 C1.4,10.6 0.5,9.6 0.4,8.3 Z" fill="url(#gmed)" stroke="#707070" stroke-width="0.8"/><path d="M4.5,8 C5.5,4.8 9,3.6 12,3.8 C15,4.1 16.5,5.8 16.5,7.8 C14,7 11,6.8 8,7.3 C6.5,7.6 5.2,7.8 4.5,8 Z" fill="#cbcbcb"/><path d="M11.3,8.7L10.6,10.5M15.7,3.4L17.6,3.5M8.3,1.5L10,2.6M10.6,1.5L11.7,4M18.4,6.8L17,8.7M2.8,1.8L5.7,1.9M12,10.6L14.4,10.7M8.9,7.2L10.5,9.7M4.2,5.6L2.2,7.7M14.9,7.3L12.6,9.1" clip-path="url(#cm)" fill="none" stroke="#8c8c8c" stroke-width="0.45"/><path d="M9.8,11.6 C10.8,12.8 12.5,13.2 14.5,11.8 C13.5,11 11.5,10.8 9.8,11.6 Z" fill="#808080"/><path d="M6.2,5.4 C4.8,5 3.3,5.2 1.6,6 C1,7.2 1.2,8.2 1.8,8.8 C1.2,9.4 1.4,10.2 2.6,10.3 C4,10.4 5.4,10 6.2,9.6 C5.3,8.6 5.3,7.4 6.2,5.4 Z" fill="#f01c1c"/></g>
<g transform="translate(643.8,701.45)"><path d="M0.4,8.3 C0.3,5 2.5,2.2 6.5,1 C10,0 14.5,0.3 17.3,2.3 C19.6,4 20.2,7 19.4,9 C18.7,10.3 17.2,10.9 15.6,11.3 C14.9,12.5 13.8,13.5 12.6,13.6 C11.3,13.7 10.6,12.8 10.1,12.1 C8,12 5,11.9 3,11.2 C1.4,10.6 0.5,9.6 0.4,8.3 Z" fill="url(#gmed)" stroke="#707070" stroke-width="0.8"/><path d="M4.5,8 C5.5,4.8 9,3.6 12,3.8 C15,4.1 16.5,5.8 16.5,7.8 C14,7 11,6.8 8,7.3 C6.5,7.6 5.2,7.8 4.5,8 Z" fill="#cbcbcb"/><path d="M11.3,8.7L10.6,10.5M15.7,3.4L17.6,3.5M8.3,1.5L10,2.6M10.6,1.5L11.7,4M18.4,6.8L17,8.7M2.8,1.8L5.7,1.9M12,10.6L14.4,10.7M8.9,7.2L10.5,9.7M4.2,5.6L2.2,7.7M14.9,7.3L12.6,9.1" clip-path="url(#cm)" fill="none" stroke="#8c8c8c" stroke-width="0.45"/><path d="M9.8,11.6 C10.8,12.8 12.5,13.2 14.5,11.8 C13.5,11 11.5,10.8 9.8,11.6 Z" fill="#808080"/><path d="M6.2,5.4 C4.8,5 3.3,5.2 1.6,6 C1,7.2 1.2,8.2 1.8,8.8 C1.2,9.4 1.4,10.2 2.6,10.3 C4,10.4 5.4,10 6.2,9.6 C5.3,8.6 5.3,7.4 6.2,5.4 Z" fill="#f01c1c"/></g>
<path d="M564.7,667.9 565.3,669.1 566.6,669.8 567.9,665.9 568.9,675 569.5,687.4 570.5,668.5 571.5,663.3 572.5,673.7 573.8,667.2 575.7,658.1 577,663.3 578.3,667.2 579.6,669.8 581.2,667.2 582.2,668.5 583.5,670.5 585.5,665.9 587.4,660 589.4,658.8 591.3,657.5 592.6,663.3 593.9,667.2 595.2,677.6 595.9,687 597.1,678.9 598.5,671.1 600.4,665.9 602.4,659.4 603.6,663.3 605,669.8 605.9,678.6 606.9,672.4 608.9,667.2 610.8,665.9 612.8,663.3 614,666.5 615.4,669.8 616.6,675.3 618,671.1 619.9,665.9 621.9,665.2 623.8,663.3 625.8,664.6 627.7,662.6 629.6,661.4 631.6,664 633.5,663.3 635.5,665.9 637.5,668.5 639.4,669.1 640.7,669.1 642,670.5 643.3,670.3 644.6,668.5 645.9,668.2 647.2,669.8 648.5,669 649.8,667.2 651.1,668.1 652.4,670.5 653.7,670.5 655,668.5 656.3,668.5 657.6,670.5 658.9,670.6 660.2,669.1 661.5,667.6 662.8,667.9 665.2,668.5" fill="none" stroke="#a8c6ee" stroke-width="2.0" stroke-linejoin="round" opacity="0.7"/>
<path d="M564.7,667.9 565.3,669.1 566.6,669.8 567.9,665.9 568.9,675 569.5,687.4 570.5,668.5 571.5,663.3 572.5,673.7 573.8,667.2 575.7,658.1 577,663.3 578.3,667.2 579.6,669.8 581.2,667.2 582.2,668.5 583.5,670.5 585.5,665.9 587.4,660 589.4,658.8 591.3,657.5 592.6,663.3 593.9,667.2 595.2,677.6 595.9,687 597.1,678.9 598.5,671.1 600.4,665.9 602.4,659.4 603.6,663.3 605,669.8 605.9,678.6 606.9,672.4 608.9,667.2 610.8,665.9 612.8,663.3 614,666.5 615.4,669.8 616.6,675.3 618,671.1 619.9,665.9 621.9,665.2 623.8,663.3 625.8,664.6 627.7,662.6 629.6,661.4 631.6,664 633.5,663.3 635.5,665.9 637.5,668.5 639.4,669.1 640.7,669.1 642,670.5 643.3,670.3 644.6,668.5 645.9,668.2 647.2,669.8 648.5,669 649.8,667.2 651.1,668.1 652.4,670.5 653.7,670.5 655,668.5 656.3,668.5 657.6,670.5 658.9,670.6 660.2,669.1 661.5,667.6 662.8,667.9 665.2,668.5" fill="none" stroke="#2468d0" stroke-width="0.6" stroke-linejoin="round"/>
<circle cx="595.59" cy="686.96" r="3.55" fill="none" stroke="#ee1c25" stroke-width="0.9"/>
<circle cx="605.86" cy="678.64" r="3.55" fill="none" stroke="#ee1c25" stroke-width="0.9"/>
<circle cx="616.91" cy="675.26" r="3.55" fill="none" stroke="#ee1c25" stroke-width="0.9"/>
<path d="M567.47,718.1v-1.2M567.47,637.35v1.2M581.98,718.1v-1.2M581.98,637.35v1.2M596.48,718.1v-1.2M596.48,637.35v1.2M610.98,718.1v-1.2M610.98,637.35v1.2M625.48,718.1v-1.2M625.48,637.35v1.2M639.98,718.1v-1.2M639.98,637.35v1.2M654.48,718.1v-1.2M654.48,637.35v1.2M564.4,637.35h1.2M665.5,637.35h-1.2M564.4,653.5h1.2M665.5,653.5h-1.2M564.4,669.65h1.2M665.5,669.65h-1.2M564.4,685.8h1.2M665.5,685.8h-1.2M564.4,701.95h1.2M665.5,701.95h-1.2M564.4,718.1h1.2M665.5,718.1h-1.2" stroke="#555" stroke-width="0.5" fill="none"/>
<rect x="564.4" y="637.35" width="101.1" height="80.75" fill="none" stroke="#a0a0a0" stroke-width="0.7"/>
<text x="562.1" y="639.75" font-size="8.2" text-anchor="end" fill="#363636">40</text>
<text x="562.1" y="655.9" font-size="8.2" text-anchor="end" fill="#363636">20</text>
<text x="562.1" y="672.05" font-size="8.2" text-anchor="end" fill="#363636">0</text>
<text x="562.1" y="688.2" font-size="8.2" text-anchor="end" fill="#363636">-20</text>
<text x="562.1" y="704.35" font-size="8.2" text-anchor="end" fill="#363636">-40</text>
<text x="562.1" y="720.5" font-size="8.2" text-anchor="end" fill="#363636">-60</text>
<text x="567.47" y="726" font-size="8.3" text-anchor="middle" fill="#363636">0</text>
<text x="581.98" y="726" font-size="8.3" text-anchor="middle" fill="#363636">0.5</text>
<text x="596.48" y="726" font-size="8.3" text-anchor="middle" fill="#363636">1</text>
<text x="610.98" y="726" font-size="8.3" text-anchor="middle" fill="#363636">1.5</text>
<text x="625.48" y="726" font-size="8.3" text-anchor="middle" fill="#363636">2</text>
<text x="639.98" y="726" font-size="8.3" text-anchor="middle" fill="#363636">2.5</text>
<text x="654.48" y="726" font-size="8.3" text-anchor="middle" fill="#363636">3</text>
<text x="614.55" y="632" font-size="10" text-anchor="middle" textLength="16.4" lengthAdjust="spacingAndGlyphs">NT2</text>
<g transform="translate(565.3,734.35)"><ellipse cx="1.3" cy="-1" rx="1.35" ry="0.95" transform="rotate(-20 1.3 -1)" fill="#111"/><path d="M2.45,-1.2 V-5.6 C3.2,-4.6 4.5,-4 4.2,-2.3" fill="none" stroke="#111" stroke-width="0.6"/></g>
<g transform="translate(576.15,734.35)"><ellipse cx="1.3" cy="-1" rx="1.35" ry="0.95" transform="rotate(-20 1.3 -1)" fill="#111"/><path d="M2.45,-1.2 V-5.6 C3.2,-4.6 4.5,-4 4.2,-2.3" fill="none" stroke="#111" stroke-width="0.6"/></g>
<g transform="translate(587,734.35)"><ellipse cx="1.3" cy="-1" rx="1.35" ry="0.95" transform="rotate(-20 1.3 -1)" fill="#111"/><path d="M2.45,-1.2 V-5.6 C3.2,-4.6 4.5,-4 4.2,-2.3" fill="none" stroke="#111" stroke-width="0.6"/></g>
<path d="M585.7,735.55v1h7.4v-1" fill="none" stroke="#2468d0" stroke-width="0.65" opacity="0.75"/>
<g transform="translate(597.85,734.35)"><ellipse cx="1.3" cy="-1" rx="1.35" ry="0.95" transform="rotate(-20 1.3 -1)" fill="#111"/><path d="M2.45,-1.2 V-5.6 C3.2,-4.6 4.5,-4 4.2,-2.3" fill="none" stroke="#111" stroke-width="0.6"/></g>
<path d="M596.55,735.55v1h7.4v-1" fill="none" stroke="#2468d0" stroke-width="0.65" opacity="0.75"/>
<g transform="translate(608.7,734.35)"><ellipse cx="1.3" cy="-1" rx="1.35" ry="0.95" transform="rotate(-20 1.3 -1)" fill="#111"/><path d="M2.45,-1.2 V-5.6 C3.2,-4.6 4.5,-4 4.2,-2.3" fill="none" stroke="#111" stroke-width="0.6"/></g>
<path d="M607.4,735.55v1h7.4v-1" fill="none" stroke="#2468d0" stroke-width="0.65" opacity="0.75"/>
<path d="M582.92,764V861.25M587.1,764V861.25M591.28,764V861.25M599.64,764V861.25M603.82,764V861.25M608.01,764V861.25M612.19,764V861.25M620.55,764V861.25M624.73,764V861.25M628.91,764V861.25M633.09,764V861.25M641.45,764V861.25M645.63,764V861.25M581.1,856.39H648.7M581.1,851.52H648.7M581.1,846.66H648.7M581.1,836.94H648.7M581.1,832.08H648.7M581.1,827.21H648.7M581.1,817.49H648.7M581.1,812.62H648.7M581.1,807.76H648.7M581.1,798.04H648.7M581.1,793.17H648.7M581.1,788.31H648.7M581.1,778.59H648.7M581.1,773.73H648.7M581.1,768.86H648.7" stroke="#ececec" stroke-width="0.45" stroke-dasharray="1 0.6" fill="none"/>
<path d="M595.46,764V861.25M616.37,764V861.25M637.27,764V861.25M581.1,783.45H648.7M581.1,802.9H648.7M581.1,822.35H648.7M581.1,841.8H648.7" stroke="#e8e8e8" stroke-width="0.5" fill="none"/>
<path d="M595.5,773.2L595.4,773.2 595.4,773.7 595.4,774.2 595.4,774.7 595.4,775.2 595.4,775.7 595.4,776.2 595.4,776.7 595.4,777.2 595.3,777.7 595.3,778.2 595.3,778.7 595.3,779.2 595.3,779.7 595.3,780.2 595.3,780.7 595.3,781.2 595.2,781.7 595.2,782.2 595.2,782.7 595.2,783.2 595.2,783.7 595.2,784.2 595.1,784.7 595.1,785.2 595,785.7 595,786.2 594.9,786.7 594.8,787.2 594.7,787.7 594.6,788.2 594.5,788.7 594.4,789.2 594.2,789.7 594.1,790.2 593.9,790.7 593.8,791.2 593.6,791.7 593.4,792.2 593.3,792.7 593.1,793.2 592.8,793.7 592.6,794.2 592.4,794.7 592.1,795.2 591.9,795.7 591.6,796.2 591.3,796.7 591.1,797.2 590.8,797.7 590.5,798.2 590.2,798.7 590,799.2 589.7,799.7 589.5,800.2 589.3,800.7 589,801.2 588.8,801.7 588.6,802.2 588.3,802.7 588.1,803.2 587.9,803.7 587.7,804.2 587.6,804.7 587.4,805.2 587.2,805.7 587.1,806.2 586.9,806.7 586.8,807.2 586.7,807.7 586.6,808.2 586.6,808.7 586.5,809.2 586.5,809.7 586.4,810.2 586.5,810.7 586.5,811.2 586.5,811.7 586.6,812.2 586.7,812.7 586.9,813.2 587,813.7 587.2,814.2 587.3,814.7 587.5,815.2 587.7,815.7 587.9,816.2 588.1,816.7 588.3,817.2 588.5,817.7 588.7,818.2 588.9,818.7 589.1,819.2 589.3,819.7 589.6,820.2 589.8,820.7 590,821.2 590.2,821.7 590.4,822.2 590.6,822.7 590.8,823.2 591,823.7 591.2,824.2 591.4,824.7 591.6,825.2 591.7,825.7 591.9,826.2 592.1,826.7 592.2,827.2 592.4,827.7 592.5,828.2 592.7,828.7 592.8,829.2 593,829.7 593.1,830.2 593.2,830.7 593.3,831.2 593.5,831.8 593.6,832.3 593.7,832.8 593.8,833.3 593.9,833.8 593.9,834.3 594,834.8 594.1,835.3 594.2,835.8 594.2,836.3 594.3,836.8 594.4,837.3 594.5,837.8 594.5,838.3 594.6,838.8 594.6,839.3 594.7,839.8 594.7,840.3 594.8,840.8 594.8,841.3 594.8,841.8 594.9,842.3 594.9,842.8 594.9,843.3 594.9,843.8 595,844.3 595,844.8 595,845.3 595,845.8 595,846.3 595.1,846.8 595.1,847.3 595.1,847.8 595.1,848.3 595.1,848.8 595.2,849.3 595.2,849.8 595.2,850.3 595.2,850.8 595.2,851.3 595.3,851.8 595.3,852.3 595.3,852.8 595.3,853.3 595.3,853.8 595.3,854.3 595.4,854.8 595.4,855.3 595.4,855.8 595.4,856.3 595.4,856.8 595.5,856.8Z" fill="#0000cd"/>
<path d="M598.8,814.7h0M599.1,812.4h0M600,834.2h0M597.7,842.4h0M600.3,812.2h0M599.6,791.4h0M600.2,796.5h0M600.4,807.7h0M600.2,803.1h0M600.4,818.8h0M599.7,830.6h0M599.2,826.4h0M598.6,806h0M601,833.7h0M599,815.3h0M600.9,823.7h0M598.5,808.1h0M600.3,810h0M599.3,810.7h0M600.2,801.9h0M599.7,824.4h0M600,815.3h0M598.8,824.8h0M598.8,822.3h0M598.2,794.6h0M600.4,812.8h0M599.2,810.8h0M599,817.5h0M598.3,800.8h0M597.9,810.2h0M599.2,805.4h0M599,808.2h0M599.2,828h0M599.2,814.2h0M599.2,791.8h0M599.7,818.8h0M599,804.6h0M597.8,798.5h0M598,800.5h0M598.9,839.3h0M599.9,801h0M599.3,802.8h0M599.6,824.9h0M598.1,805.2h0M600,814.8h0M599.1,798.7h0M597.6,798.2h0M600,813.4h0M598.4,806.1h0M598.5,836.3h0M599.2,818.6h0M601.1,812h0M598.5,838.7h0M600.4,801.3h0M600.1,810.9h0M597.9,807.7h0M599.2,815.9h0M598.4,831.7h0M599.2,808.2h0M598.5,814.5h0M600.7,821.5h0M600,796.7h0M600.9,806.6h0M598.7,834.9h0M597.7,823.3h0M600.9,809.3h0M601,834.7h0M600.8,801.7h0M599.3,814.5h0M597.8,809.3h0" stroke="#2232de" stroke-width="1.05" stroke-linecap="round" opacity="0.85"/>
<circle cx="595.46" cy="813.28" r="1.05" fill="#0a0a3a"/>
<path d="M616.4,772L616.3,772 616.3,772.5 616.3,773 616.3,773.5 616.3,774 616.3,774.5 616.3,775 616.3,775.5 616.2,776 616.2,776.5 616.2,777 616.2,777.5 616.2,778 616.2,778.5 616.1,779 616.1,779.5 616.1,780 616.1,780.5 616.1,781 616,781.5 616,782 615.9,782.5 615.8,783 615.8,783.5 615.7,784 615.6,784.5 615.4,785.1 615.3,785.6 615.1,786.1 615,786.6 614.8,787.1 614.6,787.6 614.4,788.1 614.2,788.6 614,789.1 613.8,789.6 613.5,790.1 613.2,790.6 613,791.1 612.7,791.6 612.4,792.1 612,792.6 611.7,793.1 611.4,793.6 611,794.1 610.7,794.6 610.3,795.1 609.9,795.6 609.5,796.1 609.2,796.6 608.8,797.1 608.4,797.6 608,798.1 607.7,798.6 607.3,799.1 607,799.6 606.7,800.1 606.5,800.6 606.2,801.1 606,801.6 605.8,802.1 605.7,802.6 605.5,803.1 605.4,803.6 605.4,804.1 605.3,804.6 605.3,805.1 605.4,805.6 605.4,806.1 605.5,806.6 605.6,807.1 605.8,807.6 605.9,808.1 606.1,808.6 606.3,809.1 606.5,809.6 606.7,810.1 607,810.6 607.2,811.1 607.5,811.6 607.8,812.1 608.1,812.6 608.4,813.1 608.7,813.6 608.9,814.1 609.2,814.6 609.5,815.1 609.8,815.6 610.1,816.1 610.3,816.6 610.6,817.1 610.8,817.6 611.1,818.1 611.3,818.6 611.5,819.1 611.8,819.6 612,820.1 612.2,820.6 612.4,821.1 612.6,821.6 612.8,822.1 613,822.6 613.2,823.1 613.4,823.6 613.6,824.1 613.8,824.6 614,825.1 614.1,825.6 614.3,826.1 614.5,826.6 614.6,827.1 614.7,827.6 614.8,828.1 615,828.6 615.1,829.1 615.1,829.6 615.2,830.1 615.3,830.6 615.4,831.1 615.5,831.6 615.5,832.1 615.6,832.6 615.7,833.1 615.7,833.6 615.8,834.1 615.9,834.6 615.9,835.1 616,835.6 616,836.1 616.1,836.6 616.1,837.1 616.1,837.6 616.2,838.1 616.2,838.6 616.2,839.1 616.2,839.6 616.2,840.1 616.3,840.6 616.3,841.1 616.3,841.6 616.3,842.1 616.4,842.1Z" fill="#0000cd"/>
<path d="M619.3,821.3h0M618.5,808.3h0M621.8,795.6h0M621.6,804.4h0M620.8,799h0M618.7,816.6h0M618.6,803.5h0M618.7,788h0M618.7,803.1h0M619.5,795h0M619.6,800.4h0M618.5,816.8h0M620.4,789.3h0M620,815h0M621.5,796.7h0M620.4,802.9h0M619.5,794.4h0M621.1,809.9h0M620.6,806.3h0M619.6,804.7h0M618.5,796.2h0M619.9,810h0M621.8,779.7h0M621.9,804.7h0M618.8,796.1h0M621.1,800.4h0M620.9,818.4h0M618.6,797.6h0M620.5,783.3h0M619,812.8h0M621.1,812h0M621.6,808.9h0M620.6,802.2h0M621.7,811.3h0M621,804.4h0M619.8,827.3h0M621,785.9h0M621.7,808.1h0M619,779h0M619.5,823h0M619.3,809.8h0M619,800.7h0M619.3,817.4h0M620.9,803.4h0M621.8,806.3h0M619.4,818.1h0M618.5,804.1h0M619.2,785.3h0M621.9,806.9h0M618.7,818.2h0M621.9,792.8h0M621.7,798.4h0M620.2,801h0M621.9,808.5h0M621.7,806.3h0M621.6,805.8h0M620.1,794.4h0M619.8,791.8h0M620.2,813.6h0M619.3,807.7h0M618.9,797.3h0M621.9,821.8h0M620,786.6h0M619.7,777.7h0M620.7,810.4h0M621.5,813.3h0M620.3,808.8h0M620.2,810.6h0M618.8,800.1h0M621.4,815.5h0" stroke="#2232de" stroke-width="1.05" stroke-linecap="round" opacity="0.85"/>
<circle cx="616.37" cy="806.84" r="1.05" fill="#0a0a3a"/>
<path d="M637.3,776.6L637.2,776.6 637.2,777.1 637.2,777.6 637.2,778.1 637.1,778.6 637.1,779.1 637.1,779.6 637.1,780.1 637,780.6 637,781.1 636.9,781.6 636.9,782.1 636.8,782.6 636.7,783.1 636.6,783.6 636.4,784.1 636.3,784.6 636.1,785.1 635.9,785.6 635.7,786.1 635.5,786.6 635.3,787.1 635.1,787.6 634.9,788.1 634.6,788.6 634.4,789.1 634.2,789.6 633.9,790.1 633.6,790.6 633.4,791.1 633.1,791.6 632.8,792.1 632.5,792.6 632.2,793.1 631.9,793.6 631.6,794.1 631.3,794.6 631,795.1 630.7,795.6 630.3,796.1 630,796.6 629.7,797.1 629.4,797.6 629.1,798.1 628.8,798.6 628.5,799.1 628.2,799.6 628,800.1 627.7,800.6 627.5,801.1 627.3,801.6 627.1,802.1 627,802.6 626.9,803.1 626.8,803.6 626.8,804.1 626.8,804.6 626.8,805.1 626.9,805.6 627,806.1 627.1,806.6 627.3,807.1 627.5,807.6 627.7,808.1 627.9,808.6 628.2,809.1 628.4,809.6 628.7,810.1 629,810.6 629.3,811.1 629.5,811.6 629.8,812.1 630.1,812.6 630.4,813.1 630.7,813.6 631,814.1 631.3,814.6 631.6,815.1 631.9,815.6 632.1,816.1 632.4,816.6 632.6,817.1 632.9,817.6 633.1,818.1 633.3,818.6 633.5,819.1 633.8,819.6 634,820.1 634.2,820.6 634.4,821.1 634.6,821.6 634.7,822.1 634.9,822.6 635.1,823.1 635.2,823.6 635.4,824.1 635.5,824.6 635.6,825.1 635.7,825.6 635.8,826.1 635.9,826.6 636,827.1 636.1,827.6 636.2,828.1 636.3,828.6 636.4,829.1 636.4,829.6 636.5,830.1 636.6,830.6 636.6,831.1 636.7,831.6 636.7,832.1 636.7,832.6 636.8,833.1 636.8,833.6 636.8,834.1 636.9,834.6 636.9,835.1 636.9,835.6 636.9,836.1 637,836.6 637,837.1 637,837.6 637,838.1 637.1,838.6 637.1,839.1 637.1,839.6 637.1,840.1 637.2,840.6 637.2,841.1 637.2,841.6 637.2,842.1 637.3,842.1Z" fill="#0000cd"/>
<path d="M639.7,814.9h0M639.4,815.4h0M639.8,809.2h0M641.8,791.4h0M641.4,808.2h0M642.3,812.6h0M641.9,787.7h0M641.1,800.1h0M640.5,823.9h0M641,806.6h0M641.6,813.9h0M642.7,818.7h0M642.2,824.2h0M641.4,804.6h0M640.5,826.2h0M641.7,820.4h0M640.8,798.5h0M641.6,818.4h0M642.5,806.2h0M641.5,833.6h0M642,832.5h0M639.4,785.6h0M640.7,830.2h0M642,789.4h0M640.1,812.3h0M642.5,805.7h0M640,798.9h0M639.4,818h0M640.7,820.5h0M642.4,810.8h0M642.5,833.2h0M641.9,830.8h0M641.5,791.3h0M642.6,793.3h0M642.4,807.8h0M640.8,804.9h0M642.4,812.7h0M640.4,834.3h0M642.5,832.5h0M641.6,829.8h0M640,804.6h0M639.5,828h0M640.2,802.7h0M642.1,793.4h0M639.8,792.7h0M640.3,826.8h0M641.8,787.1h0M641.7,813.9h0M642.7,803.8h0M642,834h0M640.1,805.6h0M640.6,820.1h0M641.7,796.9h0M640,806.1h0M642.9,798.1h0M642.2,808.8h0M641.5,819h0M641.2,815.8h0M639.7,787.6h0M640.4,813.9h0M639.5,804.5h0M640.5,826.5h0M642.1,819.5h0M642.8,796h0M642.8,785.1h0M642.5,793.5h0M640.1,804.5h0M640.1,784.1h0M641.4,804.3h0M642.1,808.1h0" stroke="#2232de" stroke-width="1.05" stroke-linecap="round" opacity="0.85"/>
<circle cx="637.27" cy="805.94" r="1.05" fill="#0a0a3a"/>
<path d="M595.46,861.25v-1.2M595.46,764v1.2M616.37,861.25v-1.2M616.37,764v1.2M637.27,861.25v-1.2M637.27,764v1.2M581.1,764h1.2M648.7,764h-1.2M581.1,783.45h1.2M648.7,783.45h-1.2M581.1,802.9h1.2M648.7,802.9h-1.2M581.1,822.35h1.2M648.7,822.35h-1.2M581.1,841.8h1.2M648.7,841.8h-1.2M581.1,861.25h1.2M648.7,861.25h-1.2" stroke="#555" stroke-width="0.5" fill="none"/>
<rect x="581.1" y="764" width="67.6" height="97.25" fill="none" stroke="#a0a0a0" stroke-width="0.7"/>
<text transform="translate(578.9 767.5) scale(0.92 1)" font-size="8.8" text-anchor="end" fill="#363636">80</text>
<text transform="translate(578.9 786.95) scale(0.92 1)" font-size="8.8" text-anchor="end" fill="#363636">40</text>
<text transform="translate(578.9 806.4) scale(0.92 1)" font-size="8.8" text-anchor="end" fill="#363636">0</text>
<text transform="translate(578.9 825.85) scale(0.92 1)" font-size="8.8" text-anchor="end" fill="#363636">-40</text>
<text transform="translate(578.9 845.3) scale(0.92 1)" font-size="8.8" text-anchor="end" fill="#363636">-80</text>
<text transform="translate(578.9 864.75) scale(0.92 1)" font-size="8.8" text-anchor="end" fill="#363636">-120</text>
<text transform="translate(595.46 868.5) scale(0.92 1)" font-size="8.8" text-anchor="middle" fill="#363636">3</text>
<text transform="translate(616.37 868.5) scale(0.92 1)" font-size="8.8" text-anchor="middle" fill="#363636">4</text>
<text transform="translate(637.27 868.5) scale(0.92 1)" font-size="8.8" text-anchor="middle" fill="#363636">5</text>
<text x="614.9" y="763.4" font-size="10.5" text-anchor="middle" font-weight="bold" fill="#000" stroke="#000" stroke-width="0.35">***</text>
<path d="M692.58,637.35V718.1M698.43,637.35V718.1M701.35,637.35V718.1M704.28,637.35V718.1M707.21,637.35V718.1M713.06,637.35V718.1M715.98,637.35V718.1M718.91,637.35V718.1M721.84,637.35V718.1M727.69,637.35V718.1M730.61,637.35V718.1M733.54,637.35V718.1M736.47,637.35V718.1M742.32,637.35V718.1M745.24,637.35V718.1M748.17,637.35V718.1M751.1,637.35V718.1M756.95,637.35V718.1M759.87,637.35V718.1M762.8,637.35V718.1M765.73,637.35V718.1M771.58,637.35V718.1M774.5,637.35V718.1M777.43,637.35V718.1M780.36,637.35V718.1M786.21,637.35V718.1M789.13,637.35V718.1M792.06,637.35V718.1M692.4,714.06H794.4M692.4,710.02H794.4M692.4,705.99H794.4M692.4,697.91H794.4M692.4,693.88H794.4M692.4,689.84H794.4M692.4,681.76H794.4M692.4,677.73H794.4M692.4,673.69H794.4M692.4,665.61H794.4M692.4,661.58H794.4M692.4,657.54H794.4M692.4,649.46H794.4M692.4,645.43H794.4M692.4,641.39H794.4" stroke="#ececec" stroke-width="0.45" stroke-dasharray="1 0.6" fill="none"/>
<path d="M695.5,637.35V718.1M710.13,637.35V718.1M724.76,637.35V718.1M739.39,637.35V718.1M754.02,637.35V718.1M768.65,637.35V718.1M783.28,637.35V718.1M692.4,653.5H794.4M692.4,669.65H794.4M692.4,685.8H794.4M692.4,701.95H794.4" stroke="#e8e8e8" stroke-width="0.5" fill="none"/>
<g transform="translate(751.9,687.1)"><path d="M0.3,7.5 C0.3,4 3,1.2 7,0.5 C11,-0.1 15.5,0.5 18,2.8 C19.8,4.5 20.2,7 19.4,8.8 C18.6,10.2 16.8,10.6 15,10.9 C13.5,11.2 12.5,11.6 11.5,12.3 C10.5,13.2 9,13.2 8.3,12.4 C6.5,11.9 4,11.6 2.3,10.6 C1,9.8 0.3,8.8 0.3,7.5 Z" fill="url(#glat)" stroke="#454545" stroke-width="0.9"/><path d="M10.4,6.5Q9.3,7 8.1,7.1M5.6,4.9Q4.3,6 4.3,7.8M3.9,8.5Q4.2,9.9 3,9.8M11.8,7Q12.5,6.6 13.1,7.7M3.8,3.7Q4.9,4.3 6.3,3.9M10.3,6.2Q10.2,7.2 10.3,9M19.2,10.3Q17.7,10.5 16.7,11.7M7.5,1.4Q7.2,2 5.8,2.9M16.4,9.5Q18,9.5 18.3,9.6M16.3,5Q18.1,4.9 19,5.6M4.9,4.5Q2.8,4.3 1.9,4.8M4.4,1.5Q3.7,2 2.9,2.6M3.8,7.9Q4.4,8.3 6.3,9M7,3.9Q5.1,4.7 3.9,4.2M6.6,4.6Q4.7,6 4.1,5.9M6.2,3.2Q5.1,3.3 4.6,4.7M2.5,6.1Q3.2,7 4.4,8M17.7,4.5Q16.8,5.5 17,7.7M15.9,8.6Q16.9,10 17.2,9.9M6.4,10Q5,9.9 3.9,11M1.6,9.7Q2.2,11.2 3.7,11.6M10.3,3.5Q10.9,3.9 12.8,5.1" clip-path="url(#cl)" fill="none" stroke="#666" stroke-width="0.5"/></g>
<g transform="translate(792.7,687.1) scale(-1,1)"><path d="M0.3,7.5 C0.3,4 3,1.2 7,0.5 C11,-0.1 15.5,0.5 18,2.8 C19.8,4.5 20.2,7 19.4,8.8 C18.6,10.2 16.8,10.6 15,10.9 C13.5,11.2 12.5,11.6 11.5,12.3 C10.5,13.2 9,13.2 8.3,12.4 C6.5,11.9 4,11.6 2.3,10.6 C1,9.8 0.3,8.8 0.3,7.5 Z" fill="url(#glat)" stroke="#454545" stroke-width="0.9"/><path d="M10.4,6.5Q9.3,7 8.1,7.1M5.6,4.9Q4.3,6 4.3,7.8M3.9,8.5Q4.2,9.9 3,9.8M11.8,7Q12.5,6.6 13.1,7.7M3.8,3.7Q4.9,4.3 6.3,3.9M10.3,6.2Q10.2,7.2 10.3,9M19.2,10.3Q17.7,10.5 16.7,11.7M7.5,1.4Q7.2,2 5.8,2.9M16.4,9.5Q18,9.5 18.3,9.6M16.3,5Q18.1,4.9 19,5.6M4.9,4.5Q2.8,4.3 1.9,4.8M4.4,1.5Q3.7,2 2.9,2.6M3.8,7.9Q4.4,8.3 6.3,9M7,3.9Q5.1,4.7 3.9,4.2M6.6,4.6Q4.7,6 4.1,5.9M6.2,3.2Q5.1,3.3 4.6,4.7M2.5,6.1Q3.2,7 4.4,8M17.7,4.5Q16.8,5.5 17,7.7M15.9,8.6Q16.9,10 17.2,9.9M6.4,10Q5,9.9 3.9,11M1.6,9.7Q2.2,11.2 3.7,11.6M10.3,3.5Q10.9,3.9 12.8,5.1" clip-path="url(#cl)" fill="none" stroke="#666" stroke-width="0.5"/></g>
<g transform="translate(771.9,701.45) scale(-1,1)"><path d="M0.4,8.3 C0.3,5 2.5,2.2 6.5,1 C10,0 14.5,0.3 17.3,2.3 C19.6,4 20.2,7 19.4,9 C18.7,10.3 17.2,10.9 15.6,11.3 C14.9,12.5 13.8,13.5 12.6,13.6 C11.3,13.7 10.6,12.8 10.1,12.1 C8,12 5,11.9 3,11.2 C1.4,10.6 0.5,9.6 0.4,8.3 Z" fill="url(#gmed)" stroke="#707070" stroke-width="0.8"/><path d="M4.5,8 C5.5,4.8 9,3.6 12,3.8 C15,4.1 16.5,5.8 16.5,7.8 C14,7 11,6.8 8,7.3 C6.5,7.6 5.2,7.8 4.5,8 Z" fill="#cbcbcb"/><path d="M11.3,8.7L10.6,10.5M15.7,3.4L17.6,3.5M8.3,1.5L10,2.6M10.6,1.5L11.7,4M18.4,6.8L17,8.7M2.8,1.8L5.7,1.9M12,10.6L14.4,10.7M8.9,7.2L10.5,9.7M4.2,5.6L2.2,7.7M14.9,7.3L12.6,9.1" clip-path="url(#cm)" fill="none" stroke="#8c8c8c" stroke-width="0.45"/><path d="M9.8,11.6 C10.8,12.8 12.5,13.2 14.5,11.8 C13.5,11 11.5,10.8 9.8,11.6 Z" fill="#808080"/><path d="M6.2,5.4 C4.8,5 3.3,5.2 1.6,6 C1,7.2 1.2,8.2 1.8,8.8 C1.2,9.4 1.4,10.2 2.6,10.3 C4,10.4 5.4,10 6.2,9.6 C5.3,8.6 5.3,7.4 6.2,5.4 Z" fill="#f01c1c"/></g>
<g transform="translate(772.7,701.45)"><path d="M0.4,8.3 C0.3,5 2.5,2.2 6.5,1 C10,0 14.5,0.3 17.3,2.3 C19.6,4 20.2,7 19.4,9 C18.7,10.3 17.2,10.9 15.6,11.3 C14.9,12.5 13.8,13.5 12.6,13.6 C11.3,13.7 10.6,12.8 10.1,12.1 C8,12 5,11.9 3,11.2 C1.4,10.6 0.5,9.6 0.4,8.3 Z" fill="url(#gmed)" stroke="#707070" stroke-width="0.8"/><path d="M4.5,8 C5.5,4.8 9,3.6 12,3.8 C15,4.1 16.5,5.8 16.5,7.8 C14,7 11,6.8 8,7.3 C6.5,7.6 5.2,7.8 4.5,8 Z" fill="#cbcbcb"/><path d="M11.3,8.7L10.6,10.5M15.7,3.4L17.6,3.5M8.3,1.5L10,2.6M10.6,1.5L11.7,4M18.4,6.8L17,8.7M2.8,1.8L5.7,1.9M12,10.6L14.4,10.7M8.9,7.2L10.5,9.7M4.2,5.6L2.2,7.7M14.9,7.3L12.6,9.1" clip-path="url(#cm)" fill="none" stroke="#8c8c8c" stroke-width="0.45"/><path d="M9.8,11.6 C10.8,12.8 12.5,13.2 14.5,11.8 C13.5,11 11.5,10.8 9.8,11.6 Z" fill="#808080"/><path d="M6.2,5.4 C4.8,5 3.3,5.2 1.6,6 C1,7.2 1.2,8.2 1.8,8.8 C1.2,9.4 1.4,10.2 2.6,10.3 C4,10.4 5.4,10 6.2,9.6 C5.3,8.6 5.3,7.4 6.2,5.4 Z" fill="#f01c1c"/></g>
<path d="M692.7,667.9 693.3,670.5 694.6,668.5 695.9,664 696.5,668.5 697.5,690.6 698.5,671.1 699.5,662 700.5,671.1 701.4,675 703,664.6 704,659.4 705,663.3 706.3,667.2 707.6,670.5 708.9,668.5 710.2,669.8 711.5,668.5 712.8,662 714.1,660 716,660.7 718,659.4 720,662 721.2,664.6 723.2,673.7 724.5,667.2 725.8,661.4 726.8,656.8 728.4,659.4 730.4,663.3 732,667.2 733.3,678.9 734.2,688.3 735.5,680.2 737.5,672.4 739.5,664.6 741.4,656.1 742.7,659.4 744,665.9 745,674.4 746.6,669.8 748.5,667.2 750.5,667.2 752.5,665.9 754.4,666.5 756.4,665.2 758.3,664 760.2,665.9 762.2,667.2 764.1,669.8 766.1,671.1 767.4,670.6 768.7,672.4 770,672.7 771.3,670.5 772.6,669.5 773.9,669.8 775.2,670.6 776.5,669.8 777.8,668.1 779.1,668.5 780.4,668.6 781.7,667.2 783,667.6 784.3,670.5 785.6,670.9 786.9,669.8 788.2,669.2 789.5,670.5 790.8,671.5 792.1,671.1 794.1,672.4" fill="none" stroke="#a8acd8" stroke-width="2.0" stroke-linejoin="round" opacity="0.7"/>
<path d="M692.7,667.9 693.3,670.5 694.6,668.5 695.9,664 696.5,668.5 697.5,690.6 698.5,671.1 699.5,662 700.5,671.1 701.4,675 703,664.6 704,659.4 705,663.3 706.3,667.2 707.6,670.5 708.9,668.5 710.2,669.8 711.5,668.5 712.8,662 714.1,660 716,660.7 718,659.4 720,662 721.2,664.6 723.2,673.7 724.5,667.2 725.8,661.4 726.8,656.8 728.4,659.4 730.4,663.3 732,667.2 733.3,678.9 734.2,688.3 735.5,680.2 737.5,672.4 739.5,664.6 741.4,656.1 742.7,659.4 744,665.9 745,674.4 746.6,669.8 748.5,667.2 750.5,667.2 752.5,665.9 754.4,666.5 756.4,665.2 758.3,664 760.2,665.9 762.2,667.2 764.1,669.8 766.1,671.1 767.4,670.6 768.7,672.4 770,672.7 771.3,670.5 772.6,669.5 773.9,669.8 775.2,670.6 776.5,669.8 777.8,668.1 779.1,668.5 780.4,668.6 781.7,667.2 783,667.6 784.3,670.5 785.6,670.9 786.9,669.8 788.2,669.2 789.5,670.5 790.8,671.5 792.1,671.1 794.1,672.4" fill="none" stroke="#1c268c" stroke-width="0.6" stroke-linejoin="round"/>
<circle cx="734.25" cy="688.26" r="3.55" fill="none" stroke="#ee1c25" stroke-width="0.9"/>
<circle cx="745.04" cy="674.35" r="3.55" fill="none" stroke="#ee1c25" stroke-width="0.9"/>
<path d="M695.5,718.1v-1.2M695.5,637.35v1.2M710.13,718.1v-1.2M710.13,637.35v1.2M724.76,718.1v-1.2M724.76,637.35v1.2M739.39,718.1v-1.2M739.39,637.35v1.2M754.02,718.1v-1.2M754.02,637.35v1.2M768.65,718.1v-1.2M768.65,637.35v1.2M783.28,718.1v-1.2M783.28,637.35v1.2M692.4,637.35h1.2M794.4,637.35h-1.2M692.4,653.5h1.2M794.4,653.5h-1.2M692.4,669.65h1.2M794.4,669.65h-1.2M692.4,685.8h1.2M794.4,685.8h-1.2M692.4,701.95h1.2M794.4,701.95h-1.2M692.4,718.1h1.2M794.4,718.1h-1.2" stroke="#555" stroke-width="0.5" fill="none"/>
<rect x="692.4" y="637.35" width="102" height="80.75" fill="none" stroke="#a0a0a0" stroke-width="0.7"/>
<text x="690.1" y="639.75" font-size="8.2" text-anchor="end" fill="#363636">40</text>
<text x="690.1" y="655.9" font-size="8.2" text-anchor="end" fill="#363636">20</text>
<text x="690.1" y="672.05" font-size="8.2" text-anchor="end" fill="#363636">0</text>
<text x="690.1" y="688.2" font-size="8.2" text-anchor="end" fill="#363636">-20</text>
<text x="690.1" y="704.35" font-size="8.2" text-anchor="end" fill="#363636">-40</text>
<text x="690.1" y="720.5" font-size="8.2" text-anchor="end" fill="#363636">-60</text>
<text x="695.5" y="726" font-size="8.3" text-anchor="middle" fill="#363636">0</text>
<text x="710.13" y="726" font-size="8.3" text-anchor="middle" fill="#363636">0.5</text>
<text x="724.76" y="726" font-size="8.3" text-anchor="middle" fill="#363636">1</text>
<text x="739.39" y="726" font-size="8.3" text-anchor="middle" fill="#363636">1.5</text>
<text x="754.02" y="726" font-size="8.3" text-anchor="middle" fill="#363636">2</text>
<text x="768.65" y="726" font-size="8.3" text-anchor="middle" fill="#363636">2.5</text>
<text x="783.28" y="726" font-size="8.3" text-anchor="middle" fill="#363636">3</text>
<text x="743" y="632" font-size="10" text-anchor="middle" textLength="16.4" lengthAdjust="spacingAndGlyphs">NT3</text>
<g transform="translate(693.3,734.35)"><ellipse cx="1.3" cy="-1" rx="1.35" ry="0.95" transform="rotate(-20 1.3 -1)" fill="#111"/><path d="M2.45,-1.2 V-5.6 C3.2,-4.6 4.5,-4 4.2,-2.3" fill="none" stroke="#111" stroke-width="0.6"/></g>
<g transform="translate(704.15,734.35)"><ellipse cx="1.3" cy="-1" rx="1.35" ry="0.95" transform="rotate(-20 1.3 -1)" fill="#111"/><path d="M2.45,-1.2 V-5.6 C3.2,-4.6 4.5,-4 4.2,-2.3" fill="none" stroke="#111" stroke-width="0.6"/></g>
<g transform="translate(715,734.35)"><ellipse cx="1.3" cy="-1" rx="1.35" ry="0.95" transform="rotate(-20 1.3 -1)" fill="#111"/><path d="M2.45,-1.2 V-5.6 C3.2,-4.6 4.5,-4 4.2,-2.3" fill="none" stroke="#111" stroke-width="0.6"/></g>
<g transform="translate(725.85,734.35)"><ellipse cx="1.3" cy="-1" rx="1.35" ry="0.95" transform="rotate(-20 1.3 -1)" fill="#111"/><path d="M2.45,-1.2 V-5.6 C3.2,-4.6 4.5,-4 4.2,-2.3" fill="none" stroke="#111" stroke-width="0.6"/></g>
<path d="M724.55,735.55v1h7.4v-1" fill="none" stroke="#1c268c" stroke-width="0.65" opacity="0.75"/>
<g transform="translate(736.7,734.35)"><ellipse cx="1.3" cy="-1" rx="1.35" ry="0.95" transform="rotate(-20 1.3 -1)" fill="#111"/><path d="M2.45,-1.2 V-5.6 C3.2,-4.6 4.5,-4 4.2,-2.3" fill="none" stroke="#111" stroke-width="0.6"/></g>
<path d="M735.4,735.55v1h7.4v-1" fill="none" stroke="#1c268c" stroke-width="0.65" opacity="0.75"/>
<path d="M710.13,764V861.25M718.04,764V861.25M733.86,764V861.25M741.77,764V861.25M749.68,764V861.25M757.59,764V861.25M773.41,764V861.25M709.5,857.36H776.9M709.5,853.47H776.9M709.5,849.58H776.9M709.5,845.69H776.9M709.5,837.91H776.9M709.5,834.02H776.9M709.5,830.13H776.9M709.5,826.24H776.9M709.5,818.46H776.9M709.5,814.57H776.9M709.5,810.68H776.9M709.5,806.79H776.9M709.5,799.01H776.9M709.5,795.12H776.9M709.5,791.23H776.9M709.5,787.34H776.9M709.5,779.56H776.9M709.5,775.67H776.9M709.5,771.78H776.9M709.5,767.89H776.9" stroke="#ececec" stroke-width="0.45" stroke-dasharray="1 0.6" fill="none"/>
<path d="M725.95,764V861.25M765.5,764V861.25M709.5,783.45H776.9M709.5,802.9H776.9M709.5,822.35H776.9M709.5,841.8H776.9" stroke="#e8e8e8" stroke-width="0.5" fill="none"/>
<path d="M725.9,774.3L725.9,774.3 725.9,774.8 725.9,775.3 725.8,775.8 725.8,776.3 725.8,776.8 725.8,777.3 725.8,777.8 725.7,778.3 725.7,778.8 725.7,779.3 725.7,779.8 725.6,780.3 725.6,780.8 725.6,781.3 725.6,781.8 725.5,782.3 725.5,782.8 725.4,783.3 725.4,783.8 725.3,784.3 725.2,784.8 725.1,785.3 725,785.8 724.9,786.3 724.7,786.8 724.6,787.3 724.4,787.8 724.2,788.3 724,788.8 723.7,789.3 723.5,789.8 723.2,790.3 722.9,790.8 722.5,791.3 722.1,791.8 721.7,792.3 721.3,792.8 720.8,793.3 720.3,793.8 719.8,794.3 719.2,794.8 718.7,795.3 718.1,795.8 717.5,796.3 716.9,796.8 716.3,797.3 715.7,797.8 715.2,798.3 714.6,798.8 714.1,799.3 713.6,799.8 713.1,800.3 712.7,800.8 712.3,801.3 712,801.8 711.7,802.3 711.4,802.8 711.2,803.3 711.1,803.8 710.9,804.3 710.8,804.8 710.7,805.3 710.7,805.8 710.7,806.3 710.8,806.8 710.8,807.3 710.9,807.8 711.1,808.3 711.2,808.8 711.4,809.3 711.6,809.8 711.9,810.3 712.1,810.8 712.4,811.3 712.6,811.8 712.9,812.3 713.2,812.8 713.5,813.3 713.8,813.8 714.1,814.3 714.4,814.8 714.7,815.3 715,815.8 715.3,816.4 715.6,816.9 715.9,817.4 716.2,817.9 716.5,818.4 716.8,818.9 717.1,819.4 717.4,819.9 717.7,820.4 717.9,820.9 718.2,821.4 718.5,821.9 718.7,822.4 719,822.9 719.2,823.4 719.5,823.9 719.7,824.4 720,824.9 720.2,825.4 720.4,825.9 720.6,826.4 720.8,826.9 721,827.4 721.2,827.9 721.4,828.4 721.6,828.9 721.8,829.4 722,829.9 722.1,830.4 722.3,830.9 722.5,831.4 722.6,831.9 722.8,832.4 722.9,832.9 723.1,833.4 723.2,833.9 723.4,834.4 723.5,834.9 723.6,835.4 723.8,835.9 723.9,836.4 724,836.9 724.1,837.4 724.3,837.9 724.4,838.4 724.5,838.9 724.6,839.4 724.7,839.9 724.8,840.4 724.8,840.9 724.9,841.4 725,841.9 725,842.4 725.1,842.9 725.1,843.4 725.2,843.9 725.3,844.4 725.3,844.9 725.4,845.4 725.4,845.9 725.5,846.4 725.5,846.9 725.6,847.4 725.6,847.9 725.6,848.4 725.7,848.9 725.7,849.4 725.7,849.9 725.8,850.4 725.8,850.9 725.8,851.4 725.8,851.9 725.9,852.4 725.9,852.9 725.9,853.4 725.9,853.4Z" fill="#0000cd"/>
<path d="M732.7,800.6h0M730.8,833.9h0M731.3,800.7h0M734.7,824.5h0M733.2,797.6h0M731.7,803.3h0M732.9,796.3h0M734.4,796.9h0M730.2,822.6h0M734.5,800.7h0M735.1,824h0M733.5,819.7h0M731.5,796.1h0M731.9,819.4h0M735.5,818.1h0M731.2,826.8h0M731.2,799.7h0M730,812.9h0M735.3,818.3h0M730.4,836h0M732.2,817.7h0M732.1,815.7h0M730.7,803.9h0M730.2,838.6h0M733.2,803.7h0M731.7,810.3h0M730.8,795.4h0M735.4,820.6h0M735.2,798.2h0M733.2,801.6h0M735.6,830.7h0M733.4,816.9h0M730.8,804.9h0M736.5,811.8h0M735.3,816.1h0M735.9,804.4h0M732.6,810.6h0M736.6,836.3h0M732.8,794.7h0M733.1,820.3h0M732.3,810.8h0M730.7,801.8h0M734.6,830.6h0M733.3,794h0M733.9,831.2h0M730.3,793.7h0M731.6,784.5h0M734.6,829.1h0M736.2,836.2h0M732.1,811.6h0M736.4,816.8h0M736,808.1h0M735.1,811.8h0M733.5,810.9h0M733.7,817.1h0M730.8,797.1h0M732.4,802.6h0M730.7,818.1h0M734.5,822h0M731.2,814.7h0M733,815.8h0M732.6,791.1h0M733.9,790.9h0M731.5,831.6h0M732.6,800h0M735.7,792.8h0M735.2,820.4h0M734.2,810.6h0M734.7,815.2h0M736.4,828.5h0" stroke="#2232de" stroke-width="1.05" stroke-linecap="round" opacity="0.85"/>
<circle cx="725.95" cy="811.59" r="1.05" fill="#0a0a3a"/>
<path d="M765.5,777.4L765.2,777.4 765.2,777.9 765.1,778.4 765.1,778.9 765,779.4 765,779.9 764.9,780.4 764.8,780.9 764.7,781.4 764.6,781.9 764.4,782.4 764.3,782.9 764.2,783.4 764,783.9 763.8,784.4 763.7,784.9 763.5,785.4 763.3,785.9 763.2,786.4 763,786.9 762.8,787.4 762.6,787.9 762.4,788.5 762.2,789 761.9,789.5 761.7,790 761.4,790.5 761.1,791 760.7,791.5 760.3,792 759.8,792.5 759.2,793 758.6,793.5 757.8,794 757,794.5 756.1,795 755.2,795.5 754.2,796 753.1,796.5 752.1,797 751,797.5 749.9,798 748.9,798.5 747.9,799.1 746.9,799.6 746,800.1 745.1,800.6 744.3,801.1 743.5,801.6 742.9,802.1 742.3,802.6 741.9,803.1 741.6,803.6 741.5,804.1 741.5,804.6 741.7,805.1 742.1,805.6 742.6,806.1 743.2,806.6 744,807.1 744.9,807.6 745.8,808.1 746.8,808.6 747.9,809.1 748.9,809.7 749.9,810.2 750.9,810.7 751.8,811.2 752.7,811.7 753.5,812.2 754.3,812.7 754.9,813.2 755.5,813.7 756,814.2 756.5,814.7 756.9,815.2 757.3,815.7 757.6,816.2 757.9,816.7 758.2,817.2 758.6,817.7 758.9,818.2 759.3,818.7 759.6,819.2 760,819.7 760.5,820.3 760.9,820.8 761.3,821.3 761.8,821.8 762.2,822.3 762.6,822.8 763,823.3 763.4,823.8 763.7,824.3 764,824.8 764.3,825.3 764.5,825.8 764.7,826.3 764.9,826.8 765,827.3 765.1,827.8 765.2,828.3 765.2,828.8 765.3,829.3 765.3,829.8 765.3,830.3 765.5,830.3Z" fill="#0000cd"/>
<path d="M771.5,818.2h0M775.4,817.8h0M770.8,792.1h0M770.6,812.8h0M772.5,799.7h0M771.8,808.1h0M775.5,811.7h0M775.2,822h0M769.6,807.4h0M771.7,794.4h0M774.6,799.5h0M773.2,801.9h0M774.2,805.7h0M775,789.6h0M774.9,800.1h0M769.9,807.9h0M769.8,805.7h0M772.5,805.9h0M773.1,813.8h0M775.9,807h0M769.8,801.2h0M774.8,815.2h0M770.5,797.8h0M771.1,821.4h0M770.9,806.6h0M770.8,801.6h0M770.4,791.2h0M771.1,806h0M771.2,795.7h0M770.6,811.4h0M774,805.6h0M772.7,805.4h0M771.5,809.6h0M769.8,800.1h0M770.4,807.4h0M773.6,803.6h0M772.9,807.6h0M774.4,805.3h0M770.9,803.4h0M771.4,802.9h0M770.7,799.5h0M775.1,804.3h0M771,796h0M773.5,795.6h0M772.3,804.1h0M775.7,818.9h0M769.8,795.1h0M775.4,811.9h0M776,795.6h0M770.7,801.4h0M771.8,819.8h0M775,804.6h0M771.9,820.2h0M773.6,790.6h0M772.9,794h0M774.8,808h0M774.1,803.2h0M772.9,803.1h0M776.1,819.6h0M774,803.9h0M772.6,807.8h0M774.9,801.3h0M770.2,787h0M771.8,796h0M773.4,799.2h0M771.3,802.8h0M772,806.3h0M771,807.2h0M774,816.3h0M770.5,820.9h0" stroke="#2232de" stroke-width="1.05" stroke-linecap="round" opacity="0.85"/>
<circle cx="765.5" cy="805.03" r="1.05" fill="#0a0a3a"/>
<path d="M725.95,861.25v-1.2M725.95,764v1.2M765.5,861.25v-1.2M765.5,764v1.2M709.5,764h1.2M776.9,764h-1.2M709.5,783.45h1.2M776.9,783.45h-1.2M709.5,802.9h1.2M776.9,802.9h-1.2M709.5,822.35h1.2M776.9,822.35h-1.2M709.5,841.8h1.2M776.9,841.8h-1.2M709.5,861.25h1.2M776.9,861.25h-1.2" stroke="#555" stroke-width="0.5" fill="none"/>
<rect x="709.5" y="764" width="67.4" height="97.25" fill="none" stroke="#a0a0a0" stroke-width="0.7"/>
<text transform="translate(707.3 767.5) scale(0.92 1)" font-size="8.8" text-anchor="end" fill="#363636">100</text>
<text transform="translate(707.3 786.95) scale(0.92 1)" font-size="8.8" text-anchor="end" fill="#363636">50</text>
<text transform="translate(707.3 806.4) scale(0.92 1)" font-size="8.8" text-anchor="end" fill="#363636">0</text>
<text transform="translate(707.3 825.85) scale(0.92 1)" font-size="8.8" text-anchor="end" fill="#363636">-50</text>
<text transform="translate(707.3 845.3) scale(0.92 1)" font-size="8.8" text-anchor="end" fill="#363636">-100</text>
<text transform="translate(707.3 864.75) scale(0.92 1)" font-size="8.8" text-anchor="end" fill="#363636">-150</text>
<text transform="translate(725.95 868.5) scale(0.92 1)" font-size="8.8" text-anchor="middle" fill="#363636">4</text>
<text transform="translate(765.5 868.5) scale(0.92 1)" font-size="8.8" text-anchor="middle" fill="#363636">5</text>
<text x="743.2" y="763.4" font-size="10.5" text-anchor="middle" font-weight="bold" fill="#000" stroke="#000" stroke-width="0.35">***</text>
</svg>
</body></html>
